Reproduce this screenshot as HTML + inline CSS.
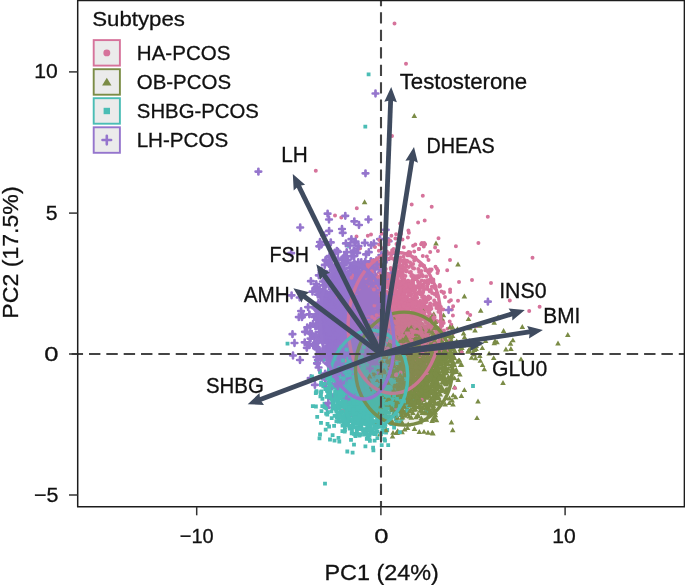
<!DOCTYPE html><html><head><meta charset="utf-8"><title>PCA biplot</title><style>html,body{margin:0;padding:0;background:#fff}svg{display:block}text{fill:#111;stroke:#111;stroke-width:.3px}</style></head><body><svg width="685" height="585" viewBox="0 0 685 585" font-family="Liberation Sans, sans-serif" fill="#111" stroke="none"><rect width="685" height="585" fill="#fff"/><g><path fill="none" stroke="#d6739b" stroke-width="4" stroke-linecap="round" d="M437.3 321.5h0M397.0 251.5h0M467.5 312.8h0M368.5 315.2h0M420.2 316.0h0M393.3 322.3h0M403.4 267.2h0M398.4 336.0h0M398.2 330.2h0M385.6 351.1h0M385.8 323.8h0M386.5 291.7h0M383.2 337.0h0M371.7 264.9h0M413.2 257.6h0M393.6 271.0h0M417.4 350.2h0M405.1 324.4h0M380.4 257.3h0M411.3 323.7h0M393.7 310.7h0M382.2 281.0h0M389.0 258.7h0M395.4 318.3h0M402.7 274.4h0M432.8 324.7h0M404.0 292.2h0M413.1 364.4h0M402.5 344.2h0M370.9 341.3h0M420.9 294.3h0M437.9 251.1h0M402.7 315.6h0M416.2 325.1h0M432.9 344.5h0M398.8 322.5h0M407.9 353.1h0M397.5 318.3h0M405.6 340.9h0M396.8 329.0h0M406.9 304.7h0M380.0 292.8h0M408.6 346.4h0M376.7 315.3h0M398.1 350.7h0"/><path fill="#7b8c46" stroke="none" d="M398.8 349.5l2.8 4.9h-5.6zM405.5 410.9l2.8 4.9h-5.6zM452.0 338.7l2.8 4.9h-5.6zM407.7 353.5l2.8 4.9h-5.6zM401.6 378.5l2.8 4.9h-5.6zM379.3 372.6l2.8 4.9h-5.6zM405.9 364.8l2.8 4.9h-5.6zM406.5 360.0l2.8 4.9h-5.6zM436.5 417.3l2.8 4.9h-5.6zM439.7 361.2l2.8 4.9h-5.6zM399.8 348.4l2.8 4.9h-5.6zM422.6 333.7l2.8 4.9h-5.6zM406.3 361.0l2.8 4.9h-5.6zM460.4 346.2l2.8 4.9h-5.6zM407.0 364.8l2.8 4.9h-5.6zM405.7 386.3l2.8 4.9h-5.6zM406.4 335.8l2.8 4.9h-5.6zM374.2 358.7l2.8 4.9h-5.6zM403.6 347.5l2.8 4.9h-5.6zM411.0 382.9l2.8 4.9h-5.6zM401.8 351.0l2.8 4.9h-5.6zM419.0 382.2l2.8 4.9h-5.6zM437.9 348.1l2.8 4.9h-5.6zM441.1 330.5l2.8 4.9h-5.6zM402.2 391.6l2.8 4.9h-5.6zM376.0 388.4l2.8 4.9h-5.6zM416.1 346.3l2.8 4.9h-5.6zM403.5 333.5l2.8 4.9h-5.6zM412.4 376.0l2.8 4.9h-5.6zM402.3 386.5l2.8 4.9h-5.6zM396.6 353.1l2.8 4.9h-5.6zM420.1 383.0l2.8 4.9h-5.6zM410.8 349.0l2.8 4.9h-5.6zM386.9 351.2l2.8 4.9h-5.6zM388.5 371.3l2.8 4.9h-5.6zM420.6 349.5l2.8 4.9h-5.6zM377.6 367.0l2.8 4.9h-5.6zM427.0 366.6l2.8 4.9h-5.6zM412.3 366.3l2.8 4.9h-5.6zM420.9 393.0l2.8 4.9h-5.6zM450.3 353.8l2.8 4.9h-5.6zM452.4 351.8l2.8 4.9h-5.6zM407.8 411.1l2.8 4.9h-5.6zM421.6 355.1l2.8 4.9h-5.6zM382.0 374.2l2.8 4.9h-5.6zM428.8 367.4l2.8 4.9h-5.6zM424.0 365.9l2.8 4.9h-5.6zM463.1 342.5l2.8 4.9h-5.6zM377.8 414.7l2.8 4.9h-5.6zM413.5 349.2l2.8 4.9h-5.6zM427.7 391.6l2.8 4.9h-5.6zM436.0 240.6l2.8 4.9h-5.6z"/><path fill="none" stroke="#4bbdb5" stroke-width="3.8" d="M359.2 394.5h3.8M377.4 397.0h3.8M366.3 410.9h3.8M352.5 407.3h3.8M354.7 421.1h3.8M362.4 397.1h3.8M377.1 405.1h3.8M341.3 405.1h3.8M376.3 398.6h3.8M348.6 415.6h3.8M371.5 378.2h3.8M373.9 398.5h3.8M349.3 362.0h3.8M360.4 386.2h3.8M395.9 363.8h3.8M350.6 405.2h3.8M335.2 384.5h3.8M349.3 374.2h3.8M341.9 401.2h3.8M383.8 395.2h3.8M361.5 388.8h3.8M372.2 392.0h3.8M374.8 395.1h3.8M367.6 401.9h3.8M322.6 403.7h3.8M346.3 373.1h3.8M389.8 386.6h3.8M371.5 373.7h3.8M371.3 387.6h3.8M369.0 370.6h3.8M354.6 392.0h3.8M390.8 389.7h3.8M357.3 383.4h3.8M379.0 381.6h3.8M377.2 415.8h3.8M382.7 412.7h3.8M393.8 390.9h3.8M357.3 373.0h3.8M350.7 379.6h3.8M352.9 363.7h3.8M332.3 385.0h3.8M371.4 391.7h3.8M357.5 400.7h3.8M363.8 368.0h3.8M382.1 370.7h3.8M341.9 364.8h3.8M376.9 396.4h3.8M387.7 363.7h3.8M364.4 433.9h3.8M362.1 346.8h3.8M352.3 369.1h3.8M338.7 396.5h3.8M369.3 374.6h3.8M359.3 390.1h3.8M334.5 386.2h3.8"/><path fill="none" stroke="#9575cd" stroke-width="2.7" stroke-linecap="round" d="M358.5 262.2h5.6m-2.8-2.8v5.6M359.7 272.2h5.6m-2.8-2.8v5.6M324.1 407.7h5.6m-2.8-2.8v5.6M332.8 331.2h5.6m-2.8-2.8v5.6M354.7 345.8h5.6m-2.8-2.8v5.6M317.7 358.3h5.6m-2.8-2.8v5.6M339.7 289.8h5.6m-2.8-2.8v5.6M336.2 357.8h5.6m-2.8-2.8v5.6M359.3 284.9h5.6m-2.8-2.8v5.6M353.7 292.2h5.6m-2.8-2.8v5.6M342.9 285.1h5.6m-2.8-2.8v5.6M361.6 282.9h5.6m-2.8-2.8v5.6M355.5 318.9h5.6m-2.8-2.8v5.6M337.1 323.3h5.6m-2.8-2.8v5.6M346.9 309.7h5.6m-2.8-2.8v5.6M348.4 364.0h5.6m-2.8-2.8v5.6M358.9 328.7h5.6m-2.8-2.8v5.6M342.0 341.3h5.6m-2.8-2.8v5.6M321.9 300.0h5.6m-2.8-2.8v5.6M361.6 324.6h5.6m-2.8-2.8v5.6M370.6 353.5h5.6m-2.8-2.8v5.6M341.1 310.0h5.6m-2.8-2.8v5.6M365.1 274.4h5.6m-2.8-2.8v5.6M341.6 298.4h5.6m-2.8-2.8v5.6M329.7 313.6h5.6m-2.8-2.8v5.6M343.9 357.1h5.6m-2.8-2.8v5.6M357.2 331.6h5.6m-2.8-2.8v5.6M362.7 313.8h5.6m-2.8-2.8v5.6M351.6 365.8h5.6m-2.8-2.8v5.6M328.1 337.2h5.6m-2.8-2.8v5.6M356.8 320.2h5.6m-2.8-2.8v5.6M376.2 284.9h5.6m-2.8-2.8v5.6M337.2 358.6h5.6m-2.8-2.8v5.6M344.0 329.5h5.6m-2.8-2.8v5.6M365.8 297.4h5.6m-2.8-2.8v5.6M364.7 269.5h5.6m-2.8-2.8v5.6M371.6 362.2h5.6m-2.8-2.8v5.6M352.2 281.9h5.6m-2.8-2.8v5.6M337.6 324.6h5.6m-2.8-2.8v5.6M327.4 316.0h5.6m-2.8-2.8v5.6M365.3 309.1h5.6m-2.8-2.8v5.6M291.7 343.0h5.6m-2.8-2.8v5.6"/><path fill="none" stroke="#d6739b" stroke-width="4" stroke-linecap="round" d="M393.4 338.4h0M399.8 287.7h0M406.3 264.8h0M405.4 355.1h0M374.1 340.7h0M380.4 312.4h0M422.8 318.7h0M405.2 262.9h0M383.8 310.5h0M401.3 317.3h0M405.3 338.7h0M395.2 359.5h0M382.7 328.8h0M432.2 330.4h0M392.1 293.2h0M396.4 311.2h0M365.2 339.5h0M438.8 328.8h0M411.2 315.0h0M400.2 299.0h0M397.5 329.5h0M417.3 329.4h0M439.1 308.0h0M387.0 299.4h0M358.1 311.0h0M394.6 286.7h0M414.6 319.7h0M409.2 395.7h0M383.7 305.1h0M410.7 316.2h0M398.6 291.4h0M386.7 380.5h0M400.2 320.3h0M400.8 232.5h0M401.7 365.0h0M388.9 322.6h0M400.7 334.0h0M450.0 260.1h0M417.0 340.2h0M409.7 294.1h0M386.9 300.4h0M396.9 338.7h0M426.5 301.9h0M453.1 333.1h0M382.8 302.5h0"/><path fill="#7b8c46" stroke="none" d="M427.8 359.5l2.8 4.9h-5.6zM380.4 356.6l2.8 4.9h-5.6zM415.4 362.2l2.8 4.9h-5.6zM424.8 390.2l2.8 4.9h-5.6zM424.7 357.2l2.8 4.9h-5.6zM419.5 387.9l2.8 4.9h-5.6zM407.0 349.9l2.8 4.9h-5.6zM395.4 357.5l2.8 4.9h-5.6zM407.2 369.2l2.8 4.9h-5.6zM420.0 346.7l2.8 4.9h-5.6zM437.5 395.2l2.8 4.9h-5.6zM378.6 368.9l2.8 4.9h-5.6zM397.9 397.3l2.8 4.9h-5.6zM373.2 372.3l2.8 4.9h-5.6zM413.3 383.7l2.8 4.9h-5.6zM399.7 375.8l2.8 4.9h-5.6zM404.6 351.0l2.8 4.9h-5.6zM448.2 353.2l2.8 4.9h-5.6zM412.9 342.4l2.8 4.9h-5.6zM400.1 352.8l2.8 4.9h-5.6zM378.6 386.8l2.8 4.9h-5.6zM404.1 394.8l2.8 4.9h-5.6zM405.0 379.1l2.8 4.9h-5.6zM431.7 336.8l2.8 4.9h-5.6zM406.3 350.0l2.8 4.9h-5.6zM397.5 341.2l2.8 4.9h-5.6zM438.6 371.0l2.8 4.9h-5.6zM429.5 365.0l2.8 4.9h-5.6zM447.8 345.1l2.8 4.9h-5.6zM422.4 393.2l2.8 4.9h-5.6zM417.4 337.6l2.8 4.9h-5.6zM412.8 362.3l2.8 4.9h-5.6zM388.1 372.7l2.8 4.9h-5.6zM412.4 368.1l2.8 4.9h-5.6zM409.7 346.3l2.8 4.9h-5.6zM416.5 356.1l2.8 4.9h-5.6zM437.5 386.7l2.8 4.9h-5.6zM384.2 350.3l2.8 4.9h-5.6zM402.8 369.4l2.8 4.9h-5.6zM422.3 343.2l2.8 4.9h-5.6zM429.3 349.7l2.8 4.9h-5.6zM401.7 366.5l2.8 4.9h-5.6zM442.3 350.3l2.8 4.9h-5.6zM474.4 347.0l2.8 4.9h-5.6zM391.6 389.6l2.8 4.9h-5.6zM391.9 380.4l2.8 4.9h-5.6zM419.6 386.3l2.8 4.9h-5.6zM426.4 340.1l2.8 4.9h-5.6zM429.1 375.9l2.8 4.9h-5.6zM405.8 348.9l2.8 4.9h-5.6zM449.6 375.9l2.8 4.9h-5.6zM458.0 261.6l2.8 4.9h-5.6z"/><path fill="none" stroke="#4bbdb5" stroke-width="3.8" d="M346.5 378.5h3.8M369.7 380.6h3.8M352.5 372.6h3.8M378.6 407.5h3.8M339.2 421.7h3.8M422.3 413.1h3.8M369.9 372.4h3.8M345.4 380.6h3.8M365.6 401.1h3.8M378.2 408.2h3.8M359.4 397.6h3.8M343.4 414.3h3.8M377.8 378.2h3.8M381.1 388.2h3.8M352.9 394.5h3.8M355.3 420.7h3.8M365.8 419.4h3.8M394.4 377.4h3.8M322.5 406.8h3.8M366.3 403.3h3.8M400.2 385.5h3.8M381.5 400.3h3.8M345.3 376.4h3.8M356.7 406.1h3.8M373.0 361.7h3.8M347.9 384.6h3.8M393.1 368.6h3.8M341.3 400.0h3.8M359.3 414.4h3.8M382.7 377.2h3.8M386.1 394.4h3.8M366.9 359.1h3.8M376.7 387.1h3.8M366.6 403.8h3.8M377.3 397.5h3.8M376.1 369.9h3.8M363.6 403.1h3.8M356.2 393.6h3.8M356.6 382.2h3.8M366.3 387.0h3.8M354.5 374.3h3.8M370.7 392.5h3.8M370.5 374.0h3.8M389.6 398.9h3.8M371.2 370.6h3.8M347.8 384.1h3.8M345.6 405.3h3.8M372.6 422.0h3.8M385.4 401.8h3.8M354.4 400.5h3.8M333.7 386.4h3.8M368.3 425.1h3.8M363.2 386.7h3.8M366.9 387.6h3.8M353.0 404.7h3.8"/><path fill="none" stroke="#9575cd" stroke-width="2.7" stroke-linecap="round" d="M326.4 303.4h5.6m-2.8-2.8v5.6M347.3 280.0h5.6m-2.8-2.8v5.6M377.8 318.8h5.6m-2.8-2.8v5.6M334.9 352.5h5.6m-2.8-2.8v5.6M350.4 298.6h5.6m-2.8-2.8v5.6M372.3 344.6h5.6m-2.8-2.8v5.6M325.3 332.2h5.6m-2.8-2.8v5.6M358.5 344.7h5.6m-2.8-2.8v5.6M365.6 296.8h5.6m-2.8-2.8v5.6M369.0 364.8h5.6m-2.8-2.8v5.6M361.3 308.6h5.6m-2.8-2.8v5.6M347.8 324.4h5.6m-2.8-2.8v5.6M377.3 324.1h5.6m-2.8-2.8v5.6M361.7 308.1h5.6m-2.8-2.8v5.6M366.5 344.4h5.6m-2.8-2.8v5.6M330.6 396.8h5.6m-2.8-2.8v5.6M367.0 284.2h5.6m-2.8-2.8v5.6M387.8 361.5h5.6m-2.8-2.8v5.6M319.6 334.9h5.6m-2.8-2.8v5.6M332.0 252.7h5.6m-2.8-2.8v5.6M346.1 321.6h5.6m-2.8-2.8v5.6M322.9 282.6h5.6m-2.8-2.8v5.6M371.0 307.2h5.6m-2.8-2.8v5.6M371.9 325.7h5.6m-2.8-2.8v5.6M364.0 311.6h5.6m-2.8-2.8v5.6M341.2 284.4h5.6m-2.8-2.8v5.6M341.1 310.5h5.6m-2.8-2.8v5.6M381.8 279.6h5.6m-2.8-2.8v5.6M342.1 343.2h5.6m-2.8-2.8v5.6M332.5 307.2h5.6m-2.8-2.8v5.6M361.5 343.6h5.6m-2.8-2.8v5.6M354.1 315.5h5.6m-2.8-2.8v5.6M309.0 334.0h5.6m-2.8-2.8v5.6M361.1 330.3h5.6m-2.8-2.8v5.6M366.4 380.8h5.6m-2.8-2.8v5.6M362.4 300.7h5.6m-2.8-2.8v5.6M338.9 331.6h5.6m-2.8-2.8v5.6M351.0 250.5h5.6m-2.8-2.8v5.6M339.9 330.1h5.6m-2.8-2.8v5.6M328.0 311.1h5.6m-2.8-2.8v5.6M374.0 324.0h5.6m-2.8-2.8v5.6M290.2 355.5h5.6m-2.8-2.8v5.6"/><path fill="none" stroke="#d6739b" stroke-width="4" stroke-linecap="round" d="M404.8 309.8h0M407.8 307.4h0M400.7 304.8h0M396.1 234.3h0M410.9 265.4h0M423.8 246.4h0M378.3 358.2h0M424.2 308.6h0M403.4 312.3h0M383.2 271.0h0M398.8 321.0h0M397.9 367.2h0M367.3 307.3h0M386.8 277.3h0M398.0 300.3h0M385.7 344.0h0M399.9 274.3h0M388.7 340.5h0M399.0 374.0h0M422.8 292.7h0M385.0 336.1h0M390.7 310.6h0M415.7 336.2h0M426.9 340.2h0M385.1 326.7h0M388.5 308.2h0M383.2 301.2h0M403.0 338.2h0M396.0 339.7h0M389.8 293.6h0M408.8 281.8h0M423.0 276.1h0M382.5 313.3h0M376.2 316.1h0M393.3 313.0h0M392.7 349.6h0M417.9 364.8h0M397.8 342.2h0M389.2 328.2h0M398.3 331.9h0M408.9 267.0h0M374.1 348.3h0M406.1 310.0h0M398.2 334.6h0M398.0 316.6h0"/><path fill="#7b8c46" stroke="none" d="M418.8 378.6l2.8 4.9h-5.6zM411.6 388.2l2.8 4.9h-5.6zM397.8 360.8l2.8 4.9h-5.6zM399.7 355.9l2.8 4.9h-5.6zM408.3 342.0l2.8 4.9h-5.6zM394.2 354.2l2.8 4.9h-5.6zM392.5 365.9l2.8 4.9h-5.6zM382.8 383.6l2.8 4.9h-5.6zM382.1 372.1l2.8 4.9h-5.6zM437.5 358.9l2.8 4.9h-5.6zM380.1 378.9l2.8 4.9h-5.6zM430.5 371.9l2.8 4.9h-5.6zM393.9 357.4l2.8 4.9h-5.6zM423.0 366.0l2.8 4.9h-5.6zM412.9 374.8l2.8 4.9h-5.6zM424.3 385.3l2.8 4.9h-5.6zM393.6 341.1l2.8 4.9h-5.6zM433.3 345.5l2.8 4.9h-5.6zM392.1 310.3l2.8 4.9h-5.6zM480.3 357.9l2.8 4.9h-5.6zM436.4 361.8l2.8 4.9h-5.6zM411.9 360.6l2.8 4.9h-5.6zM437.7 381.2l2.8 4.9h-5.6zM460.6 362.2l2.8 4.9h-5.6zM393.0 390.4l2.8 4.9h-5.6zM419.4 354.3l2.8 4.9h-5.6zM447.6 379.7l2.8 4.9h-5.6zM406.3 374.8l2.8 4.9h-5.6zM418.2 350.0l2.8 4.9h-5.6zM424.6 375.2l2.8 4.9h-5.6zM387.8 348.3l2.8 4.9h-5.6zM396.4 365.2l2.8 4.9h-5.6zM410.8 345.1l2.8 4.9h-5.6zM407.5 425.2l2.8 4.9h-5.6zM407.4 339.4l2.8 4.9h-5.6zM400.5 398.8l2.8 4.9h-5.6zM406.3 348.9l2.8 4.9h-5.6zM386.0 426.1l2.8 4.9h-5.6zM424.0 391.1l2.8 4.9h-5.6zM419.0 356.3l2.8 4.9h-5.6zM447.1 359.6l2.8 4.9h-5.6zM393.9 328.5l2.8 4.9h-5.6zM419.8 365.9l2.8 4.9h-5.6zM397.0 372.3l2.8 4.9h-5.6zM437.0 384.6l2.8 4.9h-5.6zM441.5 355.7l2.8 4.9h-5.6zM399.7 376.0l2.8 4.9h-5.6zM441.1 356.0l2.8 4.9h-5.6zM401.8 419.0l2.8 4.9h-5.6zM410.5 385.1l2.8 4.9h-5.6zM420.2 375.7l2.8 4.9h-5.6zM464.4 293.5l2.8 4.9h-5.6z"/><path fill="none" stroke="#4bbdb5" stroke-width="3.8" d="M350.4 426.1h3.8M363.8 371.7h3.8M381.6 375.9h3.8M361.2 393.7h3.8M350.7 385.4h3.8M372.3 426.9h3.8M330.7 435.1h3.8M355.2 420.7h3.8M377.9 345.6h3.8M348.4 392.7h3.8M401.0 389.5h3.8M384.6 367.8h3.8M345.6 360.5h3.8M361.1 414.8h3.8M341.1 418.5h3.8M368.0 388.0h3.8M349.2 378.1h3.8M370.8 403.5h3.8M387.0 379.0h3.8M364.2 373.9h3.8M361.8 417.8h3.8M348.7 383.0h3.8M387.3 367.9h3.8M362.2 373.5h3.8M357.1 399.8h3.8M347.0 404.0h3.8M348.8 382.8h3.8M337.1 392.1h3.8M345.8 396.1h3.8M373.0 368.7h3.8M333.7 391.6h3.8M374.5 388.8h3.8M333.5 379.3h3.8M350.9 377.0h3.8M349.2 403.2h3.8M352.5 372.5h3.8M356.0 389.5h3.8M367.1 385.0h3.8M385.4 367.2h3.8M361.8 371.6h3.8M342.4 381.1h3.8M376.8 410.0h3.8M373.5 432.4h3.8M370.5 405.5h3.8M346.2 382.2h3.8M357.3 424.8h3.8M339.1 364.6h3.8M354.9 400.1h3.8M357.2 387.7h3.8M347.8 394.7h3.8M382.2 372.7h3.8M353.4 378.8h3.8M339.2 406.4h3.8M374.7 382.8h3.8M349.3 404.2h3.8"/><path fill="none" stroke="#9575cd" stroke-width="2.7" stroke-linecap="round" d="M355.0 278.9h5.6m-2.8-2.8v5.6M330.5 341.5h5.6m-2.8-2.8v5.6M330.1 352.0h5.6m-2.8-2.8v5.6M362.0 311.2h5.6m-2.8-2.8v5.6M338.4 321.4h5.6m-2.8-2.8v5.6M324.2 310.1h5.6m-2.8-2.8v5.6M358.9 311.5h5.6m-2.8-2.8v5.6M350.9 297.9h5.6m-2.8-2.8v5.6M349.1 342.3h5.6m-2.8-2.8v5.6M333.0 350.2h5.6m-2.8-2.8v5.6M361.8 319.8h5.6m-2.8-2.8v5.6M344.9 323.6h5.6m-2.8-2.8v5.6M350.9 252.4h5.6m-2.8-2.8v5.6M326.5 364.8h5.6m-2.8-2.8v5.6M351.5 315.2h5.6m-2.8-2.8v5.6M354.7 290.8h5.6m-2.8-2.8v5.6M357.9 332.6h5.6m-2.8-2.8v5.6M345.5 336.5h5.6m-2.8-2.8v5.6M330.1 286.5h5.6m-2.8-2.8v5.6M336.3 373.0h5.6m-2.8-2.8v5.6M337.6 297.3h5.6m-2.8-2.8v5.6M370.5 317.5h5.6m-2.8-2.8v5.6M350.6 275.7h5.6m-2.8-2.8v5.6M358.9 290.5h5.6m-2.8-2.8v5.6M355.2 248.5h5.6m-2.8-2.8v5.6M362.6 281.1h5.6m-2.8-2.8v5.6M367.1 314.2h5.6m-2.8-2.8v5.6M362.3 340.5h5.6m-2.8-2.8v5.6M316.6 294.3h5.6m-2.8-2.8v5.6M313.2 316.4h5.6m-2.8-2.8v5.6M347.8 331.8h5.6m-2.8-2.8v5.6M334.9 331.4h5.6m-2.8-2.8v5.6M341.4 333.5h5.6m-2.8-2.8v5.6M346.8 332.9h5.6m-2.8-2.8v5.6M361.4 305.9h5.6m-2.8-2.8v5.6M334.7 336.9h5.6m-2.8-2.8v5.6M356.9 337.9h5.6m-2.8-2.8v5.6M352.0 310.0h5.6m-2.8-2.8v5.6M329.1 318.8h5.6m-2.8-2.8v5.6M362.4 318.4h5.6m-2.8-2.8v5.6M341.3 302.1h5.6m-2.8-2.8v5.6M297.2 360.0h5.6m-2.8-2.8v5.6"/><path fill="none" stroke="#d6739b" stroke-width="4" stroke-linecap="round" d="M416.8 313.4h0M405.4 355.4h0M374.1 271.1h0M421.7 347.8h0M361.8 346.6h0M389.0 294.6h0M421.2 302.8h0M394.2 315.6h0M409.8 272.4h0M443.9 292.2h0M397.1 341.6h0M409.4 284.6h0M378.3 317.6h0M397.5 308.9h0M418.0 281.8h0M393.8 357.3h0M404.9 294.1h0M407.2 289.9h0M424.6 305.4h0M404.5 310.6h0M431.0 279.5h0M386.8 293.4h0M403.3 310.2h0M400.8 337.6h0M387.4 306.3h0M392.1 307.4h0M387.2 280.6h0M413.0 301.0h0M412.1 298.4h0M386.7 295.4h0M420.7 337.5h0M405.0 348.6h0M408.5 323.0h0M378.7 333.6h0M405.7 321.9h0M414.3 309.4h0M383.9 348.9h0M389.0 328.8h0M442.7 321.6h0M400.0 333.3h0M385.3 330.2h0M424.8 289.0h0M414.3 277.9h0M397.8 324.7h0M371.6 276.6h0"/><path fill="#7b8c46" stroke="none" d="M395.4 359.4l2.8 4.9h-5.6zM393.7 385.6l2.8 4.9h-5.6zM409.2 366.9l2.8 4.9h-5.6zM410.5 372.7l2.8 4.9h-5.6zM430.9 361.3l2.8 4.9h-5.6zM423.5 342.6l2.8 4.9h-5.6zM423.7 381.0l2.8 4.9h-5.6zM434.0 350.4l2.8 4.9h-5.6zM421.1 378.0l2.8 4.9h-5.6zM400.0 384.3l2.8 4.9h-5.6zM374.9 361.4l2.8 4.9h-5.6zM484.3 366.4l2.8 4.9h-5.6zM401.1 397.9l2.8 4.9h-5.6zM426.8 382.4l2.8 4.9h-5.6zM426.6 340.9l2.8 4.9h-5.6zM388.1 358.2l2.8 4.9h-5.6zM426.7 378.6l2.8 4.9h-5.6zM426.8 369.5l2.8 4.9h-5.6zM376.7 349.7l2.8 4.9h-5.6zM453.7 349.0l2.8 4.9h-5.6zM432.4 362.2l2.8 4.9h-5.6zM406.0 398.2l2.8 4.9h-5.6zM386.7 342.1l2.8 4.9h-5.6zM373.0 341.5l2.8 4.9h-5.6zM407.8 362.8l2.8 4.9h-5.6zM409.3 359.2l2.8 4.9h-5.6zM433.6 356.4l2.8 4.9h-5.6zM413.4 404.6l2.8 4.9h-5.6zM429.0 362.7l2.8 4.9h-5.6zM410.2 372.0l2.8 4.9h-5.6zM403.3 360.9l2.8 4.9h-5.6zM445.5 387.3l2.8 4.9h-5.6zM401.5 358.0l2.8 4.9h-5.6zM414.0 366.7l2.8 4.9h-5.6zM414.3 378.5l2.8 4.9h-5.6zM430.1 359.2l2.8 4.9h-5.6zM437.0 347.3l2.8 4.9h-5.6zM395.4 407.6l2.8 4.9h-5.6zM398.6 399.1l2.8 4.9h-5.6zM426.4 394.3l2.8 4.9h-5.6zM392.2 402.7l2.8 4.9h-5.6zM427.9 371.7l2.8 4.9h-5.6zM403.0 362.1l2.8 4.9h-5.6zM430.0 362.7l2.8 4.9h-5.6zM393.6 358.1l2.8 4.9h-5.6zM417.0 389.5l2.8 4.9h-5.6zM397.4 365.8l2.8 4.9h-5.6zM420.0 351.2l2.8 4.9h-5.6zM418.9 346.0l2.8 4.9h-5.6zM442.5 387.9l2.8 4.9h-5.6zM424.3 373.5l2.8 4.9h-5.6zM480.7 307.8l2.8 4.9h-5.6z"/><path fill="none" stroke="#4bbdb5" stroke-width="3.8" d="M366.1 424.7h3.8M370.2 409.1h3.8M354.3 411.0h3.8M346.1 382.9h3.8M378.1 400.1h3.8M358.5 418.5h3.8M364.6 379.0h3.8M354.4 395.6h3.8M369.7 405.7h3.8M356.9 391.5h3.8M366.7 379.2h3.8M342.3 397.0h3.8M370.7 397.9h3.8M350.6 372.4h3.8M362.8 399.6h3.8M369.3 371.7h3.8M327.8 361.0h3.8M360.6 366.4h3.8M366.7 411.8h3.8M362.4 402.4h3.8M372.5 374.2h3.8M364.2 389.7h3.8M369.3 378.6h3.8M367.1 402.7h3.8M344.4 388.4h3.8M359.5 385.8h3.8M345.0 353.4h3.8M361.5 400.6h3.8M365.9 399.9h3.8M357.6 366.8h3.8M379.3 407.1h3.8M363.3 373.6h3.8M346.7 401.4h3.8M333.0 367.1h3.8M361.3 379.2h3.8M351.5 377.9h3.8M354.7 434.2h3.8M367.6 435.0h3.8M351.8 391.4h3.8M389.2 408.3h3.8M385.6 385.4h3.8M370.5 421.9h3.8M363.1 404.0h3.8M359.1 404.7h3.8M349.8 391.4h3.8M366.2 370.1h3.8M361.3 388.0h3.8M366.7 383.2h3.8M337.7 417.2h3.8M364.3 414.6h3.8M346.8 415.2h3.8M362.7 398.1h3.8M390.3 371.8h3.8M351.8 388.9h3.8M379.9 383.3h3.8"/><path fill="none" stroke="#9575cd" stroke-width="2.7" stroke-linecap="round" d="M338.6 321.7h5.6m-2.8-2.8v5.6M378.6 292.2h5.6m-2.8-2.8v5.6M351.2 321.1h5.6m-2.8-2.8v5.6M359.2 318.1h5.6m-2.8-2.8v5.6M347.0 378.3h5.6m-2.8-2.8v5.6M331.4 345.7h5.6m-2.8-2.8v5.6M364.8 311.9h5.6m-2.8-2.8v5.6M358.2 305.1h5.6m-2.8-2.8v5.6M370.2 302.2h5.6m-2.8-2.8v5.6M356.3 339.8h5.6m-2.8-2.8v5.6M366.1 337.8h5.6m-2.8-2.8v5.6M322.3 379.4h5.6m-2.8-2.8v5.6M341.3 313.2h5.6m-2.8-2.8v5.6M346.8 306.2h5.6m-2.8-2.8v5.6M326.6 327.2h5.6m-2.8-2.8v5.6M357.3 329.1h5.6m-2.8-2.8v5.6M343.1 298.4h5.6m-2.8-2.8v5.6M336.6 324.0h5.6m-2.8-2.8v5.6M356.2 315.9h5.6m-2.8-2.8v5.6M356.5 336.2h5.6m-2.8-2.8v5.6M335.6 369.4h5.6m-2.8-2.8v5.6M355.2 338.3h5.6m-2.8-2.8v5.6M337.6 301.0h5.6m-2.8-2.8v5.6M326.1 284.8h5.6m-2.8-2.8v5.6M380.5 326.6h5.6m-2.8-2.8v5.6M343.1 243.4h5.6m-2.8-2.8v5.6M339.2 283.3h5.6m-2.8-2.8v5.6M362.5 357.9h5.6m-2.8-2.8v5.6M322.0 322.9h5.6m-2.8-2.8v5.6M338.8 343.7h5.6m-2.8-2.8v5.6M328.6 300.5h5.6m-2.8-2.8v5.6M359.6 332.4h5.6m-2.8-2.8v5.6M352.0 297.9h5.6m-2.8-2.8v5.6M312.1 384.9h5.6m-2.8-2.8v5.6M348.1 357.1h5.6m-2.8-2.8v5.6M358.4 287.3h5.6m-2.8-2.8v5.6M369.7 327.6h5.6m-2.8-2.8v5.6M341.3 299.2h5.6m-2.8-2.8v5.6M386.8 346.6h5.6m-2.8-2.8v5.6M318.7 354.2h5.6m-2.8-2.8v5.6M382.1 327.8h5.6m-2.8-2.8v5.6M288.4 253.2h5.6m-2.8-2.8v5.6"/><path fill="none" stroke="#d6739b" stroke-width="4" stroke-linecap="round" d="M383.3 330.7h0M397.8 328.5h0M395.3 332.4h0M381.9 307.7h0M403.8 247.3h0M382.2 303.7h0M408.0 311.6h0M395.8 325.7h0M375.3 313.7h0M425.7 302.3h0M387.3 307.7h0M406.3 308.3h0M425.9 308.0h0M406.7 316.4h0M392.5 295.5h0M379.2 345.0h0M392.5 292.8h0M412.3 320.8h0M395.4 316.0h0M394.0 285.6h0M388.3 298.1h0M400.0 313.2h0M378.4 294.3h0M392.1 319.8h0M377.7 299.2h0M429.9 308.2h0M415.8 347.9h0M371.3 297.2h0M411.8 288.4h0M368.3 307.6h0M427.8 323.2h0M389.6 359.8h0M397.5 321.1h0M393.4 368.1h0M403.3 284.8h0M396.5 293.6h0M371.9 312.5h0M390.2 342.7h0M413.0 347.6h0M374.8 294.8h0M388.3 284.4h0M399.4 305.8h0M385.0 320.5h0M368.7 318.9h0M407.7 330.6h0"/><path fill="#7b8c46" stroke="none" d="M436.9 371.8l2.8 4.9h-5.6zM412.9 373.7l2.8 4.9h-5.6zM406.5 374.1l2.8 4.9h-5.6zM414.0 358.8l2.8 4.9h-5.6zM409.0 388.6l2.8 4.9h-5.6zM395.5 328.2l2.8 4.9h-5.6zM435.2 355.2l2.8 4.9h-5.6zM411.9 371.8l2.8 4.9h-5.6zM408.2 367.8l2.8 4.9h-5.6zM400.3 383.1l2.8 4.9h-5.6zM402.4 367.5l2.8 4.9h-5.6zM414.1 374.7l2.8 4.9h-5.6zM412.3 330.1l2.8 4.9h-5.6zM414.5 426.0l2.8 4.9h-5.6zM424.3 372.8l2.8 4.9h-5.6zM405.1 334.9l2.8 4.9h-5.6zM410.3 366.5l2.8 4.9h-5.6zM443.5 358.9l2.8 4.9h-5.6zM406.1 407.9l2.8 4.9h-5.6zM413.0 351.8l2.8 4.9h-5.6zM429.5 339.2l2.8 4.9h-5.6zM419.6 385.9l2.8 4.9h-5.6zM409.3 352.4l2.8 4.9h-5.6zM422.0 345.1l2.8 4.9h-5.6zM431.7 361.2l2.8 4.9h-5.6zM468.5 316.2l2.8 4.9h-5.6zM385.9 376.7l2.8 4.9h-5.6zM433.5 379.6l2.8 4.9h-5.6zM404.9 362.2l2.8 4.9h-5.6zM397.1 400.2l2.8 4.9h-5.6zM404.2 335.9l2.8 4.9h-5.6zM418.2 384.6l2.8 4.9h-5.6zM427.0 402.5l2.8 4.9h-5.6zM406.8 372.0l2.8 4.9h-5.6zM406.0 375.0l2.8 4.9h-5.6zM427.2 365.4l2.8 4.9h-5.6zM437.1 370.7l2.8 4.9h-5.6zM415.8 366.3l2.8 4.9h-5.6zM431.5 343.4l2.8 4.9h-5.6zM408.4 354.6l2.8 4.9h-5.6zM417.4 374.0l2.8 4.9h-5.6zM406.4 404.0l2.8 4.9h-5.6zM382.5 363.7l2.8 4.9h-5.6zM431.7 356.1l2.8 4.9h-5.6zM405.2 398.9l2.8 4.9h-5.6zM409.3 368.5l2.8 4.9h-5.6zM425.1 337.7l2.8 4.9h-5.6zM427.9 371.6l2.8 4.9h-5.6zM401.6 398.2l2.8 4.9h-5.6zM440.9 383.8l2.8 4.9h-5.6zM426.5 341.8l2.8 4.9h-5.6zM522.3 324.0l2.8 4.9h-5.6z"/><path fill="none" stroke="#4bbdb5" stroke-width="3.8" d="M360.7 386.9h3.8M333.5 392.2h3.8M342.8 371.2h3.8M360.9 413.8h3.8M364.8 395.5h3.8M388.8 417.1h3.8M356.7 401.7h3.8M365.1 411.1h3.8M352.4 414.5h3.8M353.5 396.2h3.8M360.7 387.0h3.8M374.2 377.7h3.8M340.6 425.6h3.8M385.0 388.8h3.8M371.5 405.7h3.8M355.4 413.9h3.8M361.7 413.2h3.8M348.7 407.7h3.8M359.4 387.4h3.8M371.5 404.7h3.8M359.7 381.6h3.8M389.1 408.8h3.8M371.9 412.9h3.8M363.8 375.3h3.8M361.0 353.4h3.8M369.0 382.8h3.8M361.5 369.3h3.8M364.5 377.2h3.8M373.1 366.1h3.8M366.1 384.9h3.8M381.2 380.1h3.8M372.4 395.3h3.8M362.0 377.3h3.8M345.6 392.8h3.8M387.1 351.1h3.8M365.2 424.1h3.8M381.7 391.8h3.8M336.3 380.0h3.8M375.9 380.6h3.8M350.5 393.8h3.8M396.9 366.5h3.8M360.7 380.1h3.8M347.9 407.1h3.8M341.6 403.9h3.8M376.7 368.3h3.8M376.5 379.2h3.8M352.1 384.3h3.8M393.1 399.0h3.8M374.5 400.3h3.8M366.0 347.6h3.8M378.7 362.5h3.8M352.4 357.7h3.8M319.1 392.4h3.8M385.4 372.4h3.8M373.3 387.4h3.8"/><path fill="none" stroke="#9575cd" stroke-width="2.7" stroke-linecap="round" d="M359.8 306.8h5.6m-2.8-2.8v5.6M331.6 358.2h5.6m-2.8-2.8v5.6M364.9 279.1h5.6m-2.8-2.8v5.6M357.9 351.0h5.6m-2.8-2.8v5.6M355.7 304.5h5.6m-2.8-2.8v5.6M358.3 351.7h5.6m-2.8-2.8v5.6M332.1 322.6h5.6m-2.8-2.8v5.6M333.2 271.3h5.6m-2.8-2.8v5.6M344.9 303.4h5.6m-2.8-2.8v5.6M335.1 308.4h5.6m-2.8-2.8v5.6M365.3 323.4h5.6m-2.8-2.8v5.6M338.0 316.9h5.6m-2.8-2.8v5.6M349.7 339.1h5.6m-2.8-2.8v5.6M353.6 328.8h5.6m-2.8-2.8v5.6M377.8 390.0h5.6m-2.8-2.8v5.6M355.6 335.6h5.6m-2.8-2.8v5.6M360.7 321.8h5.6m-2.8-2.8v5.6M366.4 351.2h5.6m-2.8-2.8v5.6M366.2 332.1h5.6m-2.8-2.8v5.6M342.2 271.8h5.6m-2.8-2.8v5.6M332.9 341.8h5.6m-2.8-2.8v5.6M374.3 328.4h5.6m-2.8-2.8v5.6M352.3 287.6h5.6m-2.8-2.8v5.6M353.2 283.7h5.6m-2.8-2.8v5.6M350.4 302.4h5.6m-2.8-2.8v5.6M321.7 375.7h5.6m-2.8-2.8v5.6M342.3 350.3h5.6m-2.8-2.8v5.6M368.3 261.4h5.6m-2.8-2.8v5.6M342.5 339.9h5.6m-2.8-2.8v5.6M341.5 305.8h5.6m-2.8-2.8v5.6M335.5 354.0h5.6m-2.8-2.8v5.6M369.2 299.0h5.6m-2.8-2.8v5.6M379.9 313.4h5.6m-2.8-2.8v5.6M324.3 324.4h5.6m-2.8-2.8v5.6M342.9 338.1h5.6m-2.8-2.8v5.6M337.5 316.5h5.6m-2.8-2.8v5.6M364.4 319.2h5.6m-2.8-2.8v5.6M328.0 242.4h5.6m-2.8-2.8v5.6M355.5 322.6h5.6m-2.8-2.8v5.6M340.3 287.6h5.6m-2.8-2.8v5.6M378.5 255.0h5.6m-2.8-2.8v5.6"/><path fill="none" stroke="#d6739b" stroke-width="4" stroke-linecap="round" d="M380.5 268.2h0M392.9 307.9h0M451.3 324.7h0M416.5 311.6h0M398.1 342.4h0M403.3 340.1h0M400.7 300.1h0M361.9 307.9h0M388.0 386.3h0M428.4 336.7h0M396.2 297.8h0M399.8 322.0h0M396.9 318.7h0M398.3 349.9h0M405.5 308.2h0M424.4 309.2h0M421.6 338.5h0M447.2 270.2h0M430.2 353.3h0M391.3 255.0h0M386.3 299.4h0M376.1 319.4h0M402.9 280.7h0M409.2 351.0h0M404.4 353.5h0M381.9 338.0h0M393.6 286.7h0M396.3 300.9h0M431.7 206.8h0M434.4 293.9h0M387.0 330.8h0M415.2 299.6h0M403.0 275.3h0M398.6 306.5h0M387.4 284.1h0M391.7 359.4h0M400.2 293.7h0M396.4 275.1h0M423.7 360.4h0M404.0 351.2h0M419.1 341.9h0M389.7 287.5h0M399.6 291.8h0M399.9 324.2h0M411.5 329.9h0"/><path fill="#7b8c46" stroke="none" d="M431.1 397.9l2.8 4.9h-5.6zM434.3 361.5l2.8 4.9h-5.6zM407.4 370.4l2.8 4.9h-5.6zM408.6 339.8l2.8 4.9h-5.6zM400.5 382.4l2.8 4.9h-5.6zM418.7 357.3l2.8 4.9h-5.6zM415.9 329.2l2.8 4.9h-5.6zM375.3 362.8l2.8 4.9h-5.6zM385.9 375.6l2.8 4.9h-5.6zM410.9 367.5l2.8 4.9h-5.6zM406.7 380.4l2.8 4.9h-5.6zM433.5 360.2l2.8 4.9h-5.6zM404.2 374.8l2.8 4.9h-5.6zM417.4 378.0l2.8 4.9h-5.6zM407.8 373.7l2.8 4.9h-5.6zM395.7 371.4l2.8 4.9h-5.6zM392.7 382.8l2.8 4.9h-5.6zM409.5 380.0l2.8 4.9h-5.6zM394.3 369.8l2.8 4.9h-5.6zM422.7 395.0l2.8 4.9h-5.6zM426.6 368.9l2.8 4.9h-5.6zM385.2 403.9l2.8 4.9h-5.6zM436.6 340.9l2.8 4.9h-5.6zM429.0 405.7l2.8 4.9h-5.6zM428.4 368.3l2.8 4.9h-5.6zM439.5 359.8l2.8 4.9h-5.6zM386.5 371.4l2.8 4.9h-5.6zM426.4 366.4l2.8 4.9h-5.6zM393.7 390.0l2.8 4.9h-5.6zM388.9 369.5l2.8 4.9h-5.6zM403.3 384.4l2.8 4.9h-5.6zM440.6 372.5l2.8 4.9h-5.6zM376.0 354.1l2.8 4.9h-5.6zM416.4 380.3l2.8 4.9h-5.6zM442.3 338.9l2.8 4.9h-5.6zM406.4 393.7l2.8 4.9h-5.6zM427.4 355.4l2.8 4.9h-5.6zM424.4 368.4l2.8 4.9h-5.6zM407.2 370.7l2.8 4.9h-5.6zM399.3 370.2l2.8 4.9h-5.6zM417.3 379.4l2.8 4.9h-5.6zM396.5 348.2l2.8 4.9h-5.6zM418.5 354.2l2.8 4.9h-5.6zM454.6 384.4l2.8 4.9h-5.6zM418.5 347.8l2.8 4.9h-5.6zM387.6 363.2l2.8 4.9h-5.6zM395.9 398.8l2.8 4.9h-5.6zM423.5 378.4l2.8 4.9h-5.6zM414.8 360.6l2.8 4.9h-5.6zM425.5 386.1l2.8 4.9h-5.6zM458.8 357.6l2.8 4.9h-5.6zM503.6 328.0l2.8 4.9h-5.6z"/><path fill="none" stroke="#4bbdb5" stroke-width="3.8" d="M377.0 376.9h3.8M361.6 394.3h3.8M385.0 357.9h3.8M394.3 379.7h3.8M365.5 376.7h3.8M333.1 398.4h3.8M376.5 373.8h3.8M335.5 403.7h3.8M384.3 411.8h3.8M349.4 408.3h3.8M338.5 410.1h3.8M360.5 388.9h3.8M340.4 381.8h3.8M380.7 377.0h3.8M364.0 353.7h3.8M361.2 369.0h3.8M380.4 393.5h3.8M346.7 410.0h3.8M353.4 378.5h3.8M374.3 374.0h3.8M394.0 400.7h3.8M372.7 365.3h3.8M374.8 397.6h3.8M369.1 430.4h3.8M364.2 367.7h3.8M384.2 410.3h3.8M347.4 371.3h3.8M350.9 394.2h3.8M356.2 387.2h3.8M347.6 381.3h3.8M364.5 363.6h3.8M360.9 393.4h3.8M356.9 402.3h3.8M372.5 388.3h3.8M337.2 392.2h3.8M360.0 411.7h3.8M376.5 361.5h3.8M366.2 323.5h3.8M383.3 351.2h3.8M357.7 387.7h3.8M354.8 373.4h3.8M344.5 361.4h3.8M368.2 392.2h3.8M336.5 385.2h3.8M368.8 329.9h3.8M352.1 444.7h3.8M366.5 387.2h3.8M403.0 382.2h3.8M389.9 400.1h3.8M360.1 397.2h3.8M363.3 391.8h3.8M346.1 404.6h3.8M375.5 386.7h3.8M365.7 397.9h3.8M370.4 390.0h3.8"/><path fill="none" stroke="#9575cd" stroke-width="2.7" stroke-linecap="round" d="M352.0 339.1h5.6m-2.8-2.8v5.6M352.4 266.7h5.6m-2.8-2.8v5.6M346.2 371.9h5.6m-2.8-2.8v5.6M344.8 326.8h5.6m-2.8-2.8v5.6M361.0 316.4h5.6m-2.8-2.8v5.6M367.4 272.3h5.6m-2.8-2.8v5.6M355.3 308.8h5.6m-2.8-2.8v5.6M329.4 305.0h5.6m-2.8-2.8v5.6M353.1 354.2h5.6m-2.8-2.8v5.6M333.4 343.8h5.6m-2.8-2.8v5.6M336.6 349.8h5.6m-2.8-2.8v5.6M362.6 321.8h5.6m-2.8-2.8v5.6M368.9 338.4h5.6m-2.8-2.8v5.6M336.5 351.0h5.6m-2.8-2.8v5.6M346.1 305.4h5.6m-2.8-2.8v5.6M372.3 337.8h5.6m-2.8-2.8v5.6M360.1 327.6h5.6m-2.8-2.8v5.6M342.6 315.3h5.6m-2.8-2.8v5.6M324.3 296.5h5.6m-2.8-2.8v5.6M352.1 371.9h5.6m-2.8-2.8v5.6M351.6 316.0h5.6m-2.8-2.8v5.6M362.5 332.3h5.6m-2.8-2.8v5.6M376.7 305.6h5.6m-2.8-2.8v5.6M353.8 325.8h5.6m-2.8-2.8v5.6M336.1 291.6h5.6m-2.8-2.8v5.6M370.7 315.8h5.6m-2.8-2.8v5.6M351.9 354.4h5.6m-2.8-2.8v5.6M363.3 254.4h5.6m-2.8-2.8v5.6M363.7 336.2h5.6m-2.8-2.8v5.6M351.4 306.8h5.6m-2.8-2.8v5.6M332.4 327.1h5.6m-2.8-2.8v5.6M369.5 358.8h5.6m-2.8-2.8v5.6M358.9 327.1h5.6m-2.8-2.8v5.6M379.6 364.6h5.6m-2.8-2.8v5.6M372.9 332.4h5.6m-2.8-2.8v5.6M345.6 311.2h5.6m-2.8-2.8v5.6M378.8 300.4h5.6m-2.8-2.8v5.6M313.9 288.8h5.6m-2.8-2.8v5.6M339.5 263.1h5.6m-2.8-2.8v5.6M364.0 340.2h5.6m-2.8-2.8v5.6M362.7 363.9h5.6m-2.8-2.8v5.6"/><path fill="none" stroke="#d6739b" stroke-width="4" stroke-linecap="round" d="M396.7 279.7h0M403.4 306.6h0M398.5 342.8h0M401.1 365.6h0M414.1 268.6h0M367.3 290.9h0M402.5 317.4h0M408.4 310.8h0M385.4 302.1h0M372.6 305.6h0M394.5 259.9h0M413.3 277.7h0M376.3 312.1h0M434.9 341.7h0M393.9 294.7h0M409.1 331.1h0M385.2 293.5h0M398.1 275.3h0M392.6 258.4h0M449.8 340.8h0M411.3 321.8h0M373.1 294.5h0M382.5 331.3h0M390.4 356.3h0M387.9 302.3h0M410.0 305.3h0M389.1 323.1h0M394.8 331.0h0M363.4 361.0h0M413.3 313.1h0M386.6 346.5h0M405.1 311.5h0M383.3 289.0h0M394.8 320.4h0M394.5 283.3h0M393.6 307.1h0M395.8 360.2h0M394.2 290.1h0M414.1 330.2h0M436.7 364.2h0M400.8 325.8h0M406.9 330.9h0M381.1 310.4h0M392.5 323.8h0M381.8 355.7h0"/><path fill="#7b8c46" stroke="none" d="M392.9 352.9l2.8 4.9h-5.6zM468.9 347.2l2.8 4.9h-5.6zM367.1 399.3l2.8 4.9h-5.6zM366.4 391.9l2.8 4.9h-5.6zM442.3 372.5l2.8 4.9h-5.6zM413.2 385.8l2.8 4.9h-5.6zM405.3 364.4l2.8 4.9h-5.6zM419.4 402.0l2.8 4.9h-5.6zM426.8 360.1l2.8 4.9h-5.6zM442.1 379.5l2.8 4.9h-5.6zM416.0 364.0l2.8 4.9h-5.6zM446.0 359.0l2.8 4.9h-5.6zM403.9 361.0l2.8 4.9h-5.6zM415.6 343.0l2.8 4.9h-5.6zM401.5 353.0l2.8 4.9h-5.6zM422.9 349.3l2.8 4.9h-5.6zM385.3 376.7l2.8 4.9h-5.6zM426.8 360.8l2.8 4.9h-5.6zM425.4 385.5l2.8 4.9h-5.6zM369.3 377.4l2.8 4.9h-5.6zM422.9 395.1l2.8 4.9h-5.6zM422.4 358.4l2.8 4.9h-5.6zM391.1 377.1l2.8 4.9h-5.6zM416.0 390.4l2.8 4.9h-5.6zM395.9 338.3l2.8 4.9h-5.6zM401.8 370.5l2.8 4.9h-5.6zM449.4 395.6l2.8 4.9h-5.6zM398.1 368.0l2.8 4.9h-5.6zM427.9 360.6l2.8 4.9h-5.6zM415.0 356.7l2.8 4.9h-5.6zM409.2 376.5l2.8 4.9h-5.6zM402.2 350.7l2.8 4.9h-5.6zM412.5 365.9l2.8 4.9h-5.6zM412.1 384.9l2.8 4.9h-5.6zM394.9 370.9l2.8 4.9h-5.6zM423.8 348.2l2.8 4.9h-5.6zM404.7 368.0l2.8 4.9h-5.6zM393.6 381.0l2.8 4.9h-5.6zM416.5 330.4l2.8 4.9h-5.6zM390.4 351.5l2.8 4.9h-5.6zM394.7 364.4l2.8 4.9h-5.6zM388.1 372.6l2.8 4.9h-5.6zM435.9 378.6l2.8 4.9h-5.6zM435.1 346.9l2.8 4.9h-5.6zM438.4 376.4l2.8 4.9h-5.6zM425.8 387.4l2.8 4.9h-5.6zM405.6 390.0l2.8 4.9h-5.6zM397.5 398.7l2.8 4.9h-5.6zM375.3 385.5l2.8 4.9h-5.6zM405.6 391.5l2.8 4.9h-5.6zM407.8 354.2l2.8 4.9h-5.6zM567.8 332.0l2.8 4.9h-5.6z"/><path fill="none" stroke="#4bbdb5" stroke-width="3.8" d="M353.8 339.0h3.8M324.3 408.2h3.8M354.0 389.5h3.8M347.1 412.6h3.8M359.5 402.3h3.8M344.2 352.1h3.8M350.3 403.7h3.8M353.3 406.4h3.8M352.9 379.3h3.8M372.8 408.3h3.8M347.9 370.2h3.8M373.6 388.3h3.8M359.3 361.5h3.8M382.6 418.3h3.8M341.2 405.1h3.8M339.1 361.3h3.8M358.2 400.1h3.8M353.1 357.2h3.8M357.6 435.7h3.8M375.5 381.1h3.8M361.9 388.6h3.8M379.1 365.6h3.8M350.1 399.4h3.8M365.5 381.4h3.8M335.8 391.6h3.8M373.7 378.3h3.8M359.7 389.9h3.8M358.1 399.4h3.8M351.9 357.9h3.8M368.1 385.3h3.8M352.2 409.5h3.8M377.3 398.3h3.8M367.6 439.1h3.8M364.9 372.3h3.8M393.2 392.6h3.8M356.9 395.3h3.8M358.2 378.7h3.8M378.3 400.9h3.8M339.3 398.8h3.8M362.6 374.4h3.8M387.2 336.0h3.8M366.6 386.8h3.8M367.1 354.9h3.8M377.4 364.3h3.8M359.5 368.1h3.8M360.9 393.1h3.8M362.8 382.8h3.8M343.7 380.4h3.8M347.6 387.5h3.8M352.4 388.3h3.8M378.8 361.1h3.8M368.7 379.1h3.8M366.9 378.5h3.8M387.8 388.1h3.8M377.0 402.2h3.8"/><path fill="none" stroke="#9575cd" stroke-width="2.7" stroke-linecap="round" d="M346.3 280.8h5.6m-2.8-2.8v5.6M337.5 302.1h5.6m-2.8-2.8v5.6M355.4 307.3h5.6m-2.8-2.8v5.6M368.4 331.7h5.6m-2.8-2.8v5.6M334.7 297.1h5.6m-2.8-2.8v5.6M343.4 312.1h5.6m-2.8-2.8v5.6M357.5 330.6h5.6m-2.8-2.8v5.6M337.9 314.0h5.6m-2.8-2.8v5.6M368.5 341.3h5.6m-2.8-2.8v5.6M352.2 314.4h5.6m-2.8-2.8v5.6M362.5 332.7h5.6m-2.8-2.8v5.6M332.3 361.6h5.6m-2.8-2.8v5.6M351.6 294.2h5.6m-2.8-2.8v5.6M350.8 308.6h5.6m-2.8-2.8v5.6M362.0 314.6h5.6m-2.8-2.8v5.6M356.8 307.8h5.6m-2.8-2.8v5.6M341.7 316.3h5.6m-2.8-2.8v5.6M345.6 329.9h5.6m-2.8-2.8v5.6M353.7 314.4h5.6m-2.8-2.8v5.6M356.1 334.3h5.6m-2.8-2.8v5.6M336.0 337.0h5.6m-2.8-2.8v5.6M335.4 314.4h5.6m-2.8-2.8v5.6M359.5 297.4h5.6m-2.8-2.8v5.6M322.9 260.1h5.6m-2.8-2.8v5.6M337.2 329.0h5.6m-2.8-2.8v5.6M337.7 319.8h5.6m-2.8-2.8v5.6M333.4 298.2h5.6m-2.8-2.8v5.6M355.1 329.0h5.6m-2.8-2.8v5.6M341.4 313.6h5.6m-2.8-2.8v5.6M357.4 349.0h5.6m-2.8-2.8v5.6M325.2 323.2h5.6m-2.8-2.8v5.6M319.5 303.3h5.6m-2.8-2.8v5.6M364.6 309.5h5.6m-2.8-2.8v5.6M378.2 345.0h5.6m-2.8-2.8v5.6M327.8 328.0h5.6m-2.8-2.8v5.6M334.7 324.3h5.6m-2.8-2.8v5.6M333.8 267.9h5.6m-2.8-2.8v5.6M346.1 345.5h5.6m-2.8-2.8v5.6M348.6 327.2h5.6m-2.8-2.8v5.6M328.9 300.9h5.6m-2.8-2.8v5.6M357.4 360.2h5.6m-2.8-2.8v5.6"/><path fill="none" stroke="#d6739b" stroke-width="4" stroke-linecap="round" d="M403.3 299.9h0M412.9 284.1h0M400.0 299.6h0M406.9 314.8h0M402.6 335.2h0M425.4 299.7h0M376.1 330.1h0M409.2 314.3h0M401.8 312.9h0M397.2 348.1h0M476.1 326.3h0M400.2 314.6h0M405.4 351.4h0M377.2 293.9h0M392.2 319.4h0M411.4 275.5h0M400.8 276.0h0M357.3 304.8h0M432.1 321.8h0M399.0 301.0h0M402.4 292.2h0M422.7 347.1h0M433.3 279.4h0M386.4 281.9h0M374.3 308.1h0M385.3 329.2h0M376.8 290.3h0M404.6 303.3h0M427.6 317.0h0M371.2 352.5h0M442.9 320.8h0M404.6 313.6h0M398.1 323.8h0M388.7 302.4h0M396.9 345.4h0M389.8 305.7h0M374.8 268.6h0M440.0 321.2h0M394.2 329.3h0M409.9 345.0h0M406.7 337.3h0M422.9 265.2h0M385.5 274.0h0M380.7 353.2h0M393.2 341.4h0"/><path fill="#7b8c46" stroke="none" d="M393.0 429.9l2.8 4.9h-5.6zM416.2 346.9l2.8 4.9h-5.6zM425.0 361.3l2.8 4.9h-5.6zM434.5 377.8l2.8 4.9h-5.6zM470.6 338.8l2.8 4.9h-5.6zM421.3 380.9l2.8 4.9h-5.6zM424.2 362.6l2.8 4.9h-5.6zM448.3 361.3l2.8 4.9h-5.6zM403.1 366.5l2.8 4.9h-5.6zM394.6 360.9l2.8 4.9h-5.6zM428.4 356.8l2.8 4.9h-5.6zM427.8 366.7l2.8 4.9h-5.6zM430.6 396.8l2.8 4.9h-5.6zM440.1 397.9l2.8 4.9h-5.6zM434.6 352.3l2.8 4.9h-5.6zM424.9 386.5l2.8 4.9h-5.6zM402.8 343.2l2.8 4.9h-5.6zM414.0 363.0l2.8 4.9h-5.6zM411.4 332.3l2.8 4.9h-5.6zM379.2 358.6l2.8 4.9h-5.6zM429.3 388.8l2.8 4.9h-5.6zM417.2 391.2l2.8 4.9h-5.6zM389.6 363.1l2.8 4.9h-5.6zM415.2 399.6l2.8 4.9h-5.6zM385.1 400.5l2.8 4.9h-5.6zM409.1 362.5l2.8 4.9h-5.6zM437.6 361.0l2.8 4.9h-5.6zM440.3 391.5l2.8 4.9h-5.6zM399.1 407.1l2.8 4.9h-5.6zM385.2 346.3l2.8 4.9h-5.6zM413.5 366.4l2.8 4.9h-5.6zM402.0 377.2l2.8 4.9h-5.6zM404.4 331.3l2.8 4.9h-5.6zM380.7 390.1l2.8 4.9h-5.6zM402.7 369.9l2.8 4.9h-5.6zM428.1 385.5l2.8 4.9h-5.6zM418.7 348.6l2.8 4.9h-5.6zM417.6 397.0l2.8 4.9h-5.6zM445.3 349.8l2.8 4.9h-5.6zM389.0 336.4l2.8 4.9h-5.6zM402.5 355.9l2.8 4.9h-5.6zM390.2 345.2l2.8 4.9h-5.6zM414.1 382.8l2.8 4.9h-5.6zM424.0 428.9l2.8 4.9h-5.6zM426.1 372.7l2.8 4.9h-5.6zM381.6 382.4l2.8 4.9h-5.6zM405.2 371.7l2.8 4.9h-5.6zM405.3 373.0l2.8 4.9h-5.6zM421.8 377.8l2.8 4.9h-5.6zM360.5 359.4l2.8 4.9h-5.6zM387.4 395.0l2.8 4.9h-5.6zM558.0 340.6l2.8 4.9h-5.6z"/><path fill="none" stroke="#4bbdb5" stroke-width="3.8" d="M327.0 398.1h3.8M353.5 403.1h3.8M371.6 403.2h3.8M363.5 350.1h3.8M373.1 392.6h3.8M374.8 362.7h3.8M343.1 399.7h3.8M358.3 402.2h3.8M377.0 384.2h3.8M342.9 399.0h3.8M368.5 395.8h3.8M371.0 377.6h3.8M354.5 404.8h3.8M358.6 401.0h3.8M369.6 399.3h3.8M376.3 408.2h3.8M370.0 420.5h3.8M342.2 395.0h3.8M369.3 383.7h3.8M390.0 389.5h3.8M363.3 388.5h3.8M386.1 400.1h3.8M346.0 379.5h3.8M358.8 380.1h3.8M337.1 405.2h3.8M361.1 369.8h3.8M393.6 401.1h3.8M370.7 361.8h3.8M356.6 372.1h3.8M373.5 403.4h3.8M376.5 378.7h3.8M344.3 394.8h3.8M341.7 352.1h3.8M367.3 383.8h3.8M385.6 354.8h3.8M341.3 400.1h3.8M370.0 407.6h3.8M371.2 366.4h3.8M358.2 376.5h3.8M367.8 385.6h3.8M365.6 436.6h3.8M353.9 393.0h3.8M367.5 383.9h3.8M330.7 405.3h3.8M357.2 392.2h3.8M397.3 384.3h3.8M367.1 420.3h3.8M352.3 378.9h3.8M360.3 356.9h3.8M360.9 376.5h3.8M362.1 389.1h3.8M372.0 366.6h3.8M371.0 381.8h3.8M358.3 408.8h3.8M326.4 396.1h3.8"/><path fill="none" stroke="#9575cd" stroke-width="2.7" stroke-linecap="round" d="M342.2 293.8h5.6m-2.8-2.8v5.6M354.7 337.3h5.6m-2.8-2.8v5.6M343.8 360.3h5.6m-2.8-2.8v5.6M348.2 327.5h5.6m-2.8-2.8v5.6M331.6 339.5h5.6m-2.8-2.8v5.6M326.7 325.5h5.6m-2.8-2.8v5.6M340.5 340.3h5.6m-2.8-2.8v5.6M340.7 314.6h5.6m-2.8-2.8v5.6M356.9 410.3h5.6m-2.8-2.8v5.6M357.8 301.9h5.6m-2.8-2.8v5.6M340.0 358.6h5.6m-2.8-2.8v5.6M361.7 302.2h5.6m-2.8-2.8v5.6M360.7 349.4h5.6m-2.8-2.8v5.6M347.3 307.9h5.6m-2.8-2.8v5.6M383.7 259.6h5.6m-2.8-2.8v5.6M307.6 325.9h5.6m-2.8-2.8v5.6M364.3 361.4h5.6m-2.8-2.8v5.6M324.1 298.6h5.6m-2.8-2.8v5.6M347.3 319.5h5.6m-2.8-2.8v5.6M345.3 337.2h5.6m-2.8-2.8v5.6M345.8 331.3h5.6m-2.8-2.8v5.6M333.8 315.7h5.6m-2.8-2.8v5.6M355.2 349.5h5.6m-2.8-2.8v5.6M370.8 317.1h5.6m-2.8-2.8v5.6M345.1 276.2h5.6m-2.8-2.8v5.6M380.7 361.8h5.6m-2.8-2.8v5.6M367.3 332.9h5.6m-2.8-2.8v5.6M326.2 264.0h5.6m-2.8-2.8v5.6M329.5 334.7h5.6m-2.8-2.8v5.6M362.3 326.1h5.6m-2.8-2.8v5.6M350.1 361.8h5.6m-2.8-2.8v5.6M376.3 288.7h5.6m-2.8-2.8v5.6M333.4 303.3h5.6m-2.8-2.8v5.6M345.9 384.1h5.6m-2.8-2.8v5.6M356.4 326.8h5.6m-2.8-2.8v5.6M341.7 321.3h5.6m-2.8-2.8v5.6M338.9 312.9h5.6m-2.8-2.8v5.6M355.2 326.7h5.6m-2.8-2.8v5.6M360.8 314.7h5.6m-2.8-2.8v5.6M332.2 318.7h5.6m-2.8-2.8v5.6M386.9 357.3h5.6m-2.8-2.8v5.6"/><path fill="none" stroke="#d6739b" stroke-width="4" stroke-linecap="round" d="M386.9 351.0h0M385.3 314.7h0M420.2 391.2h0M395.4 238.5h0M426.7 281.5h0M403.1 325.4h0M377.0 355.9h0M420.0 340.8h0M396.0 279.2h0M367.8 235.7h0M415.0 342.3h0M421.8 280.6h0M396.4 287.6h0M410.2 305.0h0M406.5 281.8h0M383.5 352.1h0M434.1 303.9h0M401.6 322.7h0M414.1 332.4h0M397.8 280.7h0M420.0 302.6h0M386.0 305.5h0M368.4 320.4h0M407.7 350.4h0M412.9 268.1h0M428.5 307.3h0M392.3 339.8h0M431.8 330.7h0M401.9 351.6h0M417.7 320.3h0M385.5 327.9h0M385.9 355.1h0M412.5 349.1h0M398.7 293.7h0M399.1 267.1h0M412.0 309.0h0M413.1 318.9h0M374.3 324.1h0M396.9 304.9h0M399.5 337.8h0M381.0 292.4h0M380.7 269.3h0M394.5 349.1h0M380.0 301.5h0M392.6 304.3h0"/><path fill="#7b8c46" stroke="none" d="M426.1 372.5l2.8 4.9h-5.6zM379.6 392.5l2.8 4.9h-5.6zM459.8 340.4l2.8 4.9h-5.6zM443.6 374.2l2.8 4.9h-5.6zM420.5 381.2l2.8 4.9h-5.6zM353.8 408.2l2.8 4.9h-5.6zM402.4 400.1l2.8 4.9h-5.6zM414.8 350.2l2.8 4.9h-5.6zM435.8 377.2l2.8 4.9h-5.6zM378.9 408.0l2.8 4.9h-5.6zM414.9 351.4l2.8 4.9h-5.6zM407.0 375.5l2.8 4.9h-5.6zM449.3 340.5l2.8 4.9h-5.6zM399.4 348.3l2.8 4.9h-5.6zM390.7 377.1l2.8 4.9h-5.6zM432.0 379.9l2.8 4.9h-5.6zM403.9 369.2l2.8 4.9h-5.6zM394.4 390.4l2.8 4.9h-5.6zM427.5 360.0l2.8 4.9h-5.6zM377.7 367.9l2.8 4.9h-5.6zM406.4 379.4l2.8 4.9h-5.6zM380.5 391.2l2.8 4.9h-5.6zM402.1 429.4l2.8 4.9h-5.6zM392.6 377.3l2.8 4.9h-5.6zM430.9 400.5l2.8 4.9h-5.6zM400.8 394.4l2.8 4.9h-5.6zM442.0 364.9l2.8 4.9h-5.6zM427.4 371.9l2.8 4.9h-5.6zM412.7 387.3l2.8 4.9h-5.6zM440.3 333.5l2.8 4.9h-5.6zM436.6 345.0l2.8 4.9h-5.6zM400.0 359.0l2.8 4.9h-5.6zM425.2 382.6l2.8 4.9h-5.6zM422.3 410.0l2.8 4.9h-5.6zM449.8 377.6l2.8 4.9h-5.6zM391.2 362.6l2.8 4.9h-5.6zM396.8 365.3l2.8 4.9h-5.6zM431.5 350.4l2.8 4.9h-5.6zM413.3 394.2l2.8 4.9h-5.6zM419.9 359.6l2.8 4.9h-5.6zM418.3 356.6l2.8 4.9h-5.6zM410.8 406.7l2.8 4.9h-5.6zM366.2 361.8l2.8 4.9h-5.6zM456.7 338.4l2.8 4.9h-5.6zM428.2 378.9l2.8 4.9h-5.6zM371.6 381.1l2.8 4.9h-5.6zM427.3 372.4l2.8 4.9h-5.6zM448.2 365.8l2.8 4.9h-5.6zM428.5 410.4l2.8 4.9h-5.6zM384.3 377.8l2.8 4.9h-5.6zM389.4 377.2l2.8 4.9h-5.6zM512.9 337.4l2.8 4.9h-5.6z"/><path fill="none" stroke="#4bbdb5" stroke-width="3.8" d="M350.1 391.5h3.8M340.9 401.2h3.8M360.5 364.3h3.8M336.0 399.1h3.8M360.3 407.7h3.8M366.0 411.5h3.8M381.6 366.9h3.8M351.1 369.1h3.8M388.7 402.2h3.8M368.8 403.7h3.8M376.8 399.6h3.8M343.3 384.7h3.8M381.9 377.5h3.8M366.2 375.7h3.8M327.6 398.2h3.8M367.1 382.2h3.8M377.9 396.6h3.8M323.2 386.3h3.8M362.5 393.6h3.8M355.4 395.8h3.8M373.0 373.6h3.8M366.4 418.3h3.8M379.1 375.1h3.8M377.8 413.9h3.8M364.2 382.5h3.8M379.4 407.1h3.8M371.0 403.5h3.8M334.3 395.0h3.8M342.2 379.6h3.8M382.5 377.9h3.8M354.4 369.9h3.8M364.9 397.0h3.8M392.0 387.5h3.8M364.4 392.4h3.8M359.4 359.9h3.8M372.5 369.3h3.8M378.2 372.9h3.8M336.1 407.4h3.8M387.8 366.2h3.8M345.7 380.0h3.8M372.2 389.9h3.8M356.9 402.2h3.8M383.3 382.7h3.8M369.7 413.6h3.8M361.8 377.2h3.8M345.7 372.3h3.8M390.0 379.7h3.8M346.6 402.4h3.8M366.3 438.1h3.8M361.7 397.5h3.8M366.3 426.3h3.8M353.4 375.9h3.8M394.0 388.0h3.8M398.2 422.1h3.8M371.2 350.4h3.8"/><path fill="none" stroke="#9575cd" stroke-width="2.7" stroke-linecap="round" d="M373.5 310.6h5.6m-2.8-2.8v5.6M368.3 292.9h5.6m-2.8-2.8v5.6M344.3 307.8h5.6m-2.8-2.8v5.6M327.9 341.2h5.6m-2.8-2.8v5.6M335.0 355.0h5.6m-2.8-2.8v5.6M344.0 337.5h5.6m-2.8-2.8v5.6M347.9 329.9h5.6m-2.8-2.8v5.6M333.5 319.9h5.6m-2.8-2.8v5.6M354.2 267.3h5.6m-2.8-2.8v5.6M372.7 312.6h5.6m-2.8-2.8v5.6M353.0 294.8h5.6m-2.8-2.8v5.6M333.1 333.6h5.6m-2.8-2.8v5.6M360.3 316.2h5.6m-2.8-2.8v5.6M319.8 312.8h5.6m-2.8-2.8v5.6M350.5 351.3h5.6m-2.8-2.8v5.6M350.1 295.2h5.6m-2.8-2.8v5.6M359.7 297.7h5.6m-2.8-2.8v5.6M340.6 380.4h5.6m-2.8-2.8v5.6M359.5 324.0h5.6m-2.8-2.8v5.6M317.4 314.7h5.6m-2.8-2.8v5.6M347.9 320.8h5.6m-2.8-2.8v5.6M338.2 299.3h5.6m-2.8-2.8v5.6M347.7 340.4h5.6m-2.8-2.8v5.6M335.4 299.0h5.6m-2.8-2.8v5.6M357.5 358.8h5.6m-2.8-2.8v5.6M353.1 344.8h5.6m-2.8-2.8v5.6M329.6 320.4h5.6m-2.8-2.8v5.6M345.2 295.9h5.6m-2.8-2.8v5.6M324.9 325.8h5.6m-2.8-2.8v5.6M347.4 324.1h5.6m-2.8-2.8v5.6M328.1 354.1h5.6m-2.8-2.8v5.6M362.4 360.3h5.6m-2.8-2.8v5.6M347.5 312.1h5.6m-2.8-2.8v5.6M383.8 355.7h5.6m-2.8-2.8v5.6M349.2 284.7h5.6m-2.8-2.8v5.6M383.0 229.8h5.6m-2.8-2.8v5.6M356.8 339.5h5.6m-2.8-2.8v5.6M370.9 320.6h5.6m-2.8-2.8v5.6M374.9 265.3h5.6m-2.8-2.8v5.6M343.2 320.0h5.6m-2.8-2.8v5.6M350.0 360.2h5.6m-2.8-2.8v5.6"/><path fill="none" stroke="#d6739b" stroke-width="4" stroke-linecap="round" d="M415.8 334.7h0M385.1 327.9h0M407.8 296.4h0M441.4 291.4h0M397.1 366.9h0M391.1 311.1h0M392.4 295.9h0M451.2 328.0h0M409.2 329.2h0M414.3 309.5h0M379.7 288.5h0M382.4 283.3h0M366.1 286.0h0M404.9 332.7h0M390.0 289.0h0M389.7 346.5h0M401.4 322.4h0M420.1 311.3h0M384.4 345.6h0M419.0 249.1h0M398.7 287.2h0M402.3 265.8h0M391.1 307.6h0M339.7 293.5h0M410.2 293.9h0M392.1 250.3h0M398.9 284.0h0M383.8 337.3h0M409.2 285.2h0M425.1 244.3h0M367.5 316.1h0M419.6 309.5h0M386.1 340.6h0M428.2 283.7h0M419.7 307.6h0M392.7 331.9h0M413.5 318.9h0M402.3 292.4h0M414.0 346.3h0M408.9 343.3h0M409.0 308.4h0M379.5 318.0h0M377.1 312.4h0M397.3 335.8h0M416.9 363.8h0"/><path fill="#7b8c46" stroke="none" d="M384.9 393.6l2.8 4.9h-5.6zM436.9 342.9l2.8 4.9h-5.6zM423.8 353.9l2.8 4.9h-5.6zM420.5 342.9l2.8 4.9h-5.6zM414.4 380.2l2.8 4.9h-5.6zM392.3 376.0l2.8 4.9h-5.6zM381.7 337.0l2.8 4.9h-5.6zM395.7 368.4l2.8 4.9h-5.6zM432.4 372.8l2.8 4.9h-5.6zM371.4 350.5l2.8 4.9h-5.6zM383.1 385.6l2.8 4.9h-5.6zM405.8 346.0l2.8 4.9h-5.6zM405.5 376.2l2.8 4.9h-5.6zM370.4 384.8l2.8 4.9h-5.6zM399.6 341.1l2.8 4.9h-5.6zM414.4 390.0l2.8 4.9h-5.6zM433.8 311.3l2.8 4.9h-5.6zM394.9 379.0l2.8 4.9h-5.6zM419.7 348.1l2.8 4.9h-5.6zM412.9 377.8l2.8 4.9h-5.6zM405.1 354.5l2.8 4.9h-5.6zM399.8 408.1l2.8 4.9h-5.6zM423.9 367.4l2.8 4.9h-5.6zM406.1 389.6l2.8 4.9h-5.6zM432.4 346.0l2.8 4.9h-5.6zM392.9 374.1l2.8 4.9h-5.6zM428.3 391.3l2.8 4.9h-5.6zM403.3 392.9l2.8 4.9h-5.6zM424.7 402.7l2.8 4.9h-5.6zM424.3 364.2l2.8 4.9h-5.6zM421.5 377.9l2.8 4.9h-5.6zM407.5 362.4l2.8 4.9h-5.6zM410.5 369.5l2.8 4.9h-5.6zM409.8 337.3l2.8 4.9h-5.6zM436.2 376.2l2.8 4.9h-5.6zM395.9 343.6l2.8 4.9h-5.6zM407.3 406.5l2.8 4.9h-5.6zM397.5 389.5l2.8 4.9h-5.6zM446.1 370.3l2.8 4.9h-5.6zM396.3 333.5l2.8 4.9h-5.6zM402.3 376.9l2.8 4.9h-5.6zM441.2 361.7l2.8 4.9h-5.6zM416.5 341.4l2.8 4.9h-5.6zM394.8 374.7l2.8 4.9h-5.6zM395.9 377.3l2.8 4.9h-5.6zM394.9 373.8l2.8 4.9h-5.6zM392.5 433.7l2.8 4.9h-5.6zM378.1 378.2l2.8 4.9h-5.6zM419.9 355.8l2.8 4.9h-5.6zM403.6 401.1l2.8 4.9h-5.6zM410.3 365.1l2.8 4.9h-5.6zM497.0 339.4l2.8 4.9h-5.6z"/><path fill="none" stroke="#4bbdb5" stroke-width="3.8" d="M374.0 352.9h3.8M368.6 396.3h3.8M361.9 360.2h3.8M402.3 394.7h3.8M374.3 394.2h3.8M370.6 423.5h3.8M382.5 375.3h3.8M367.2 378.1h3.8M368.9 403.3h3.8M379.7 390.8h3.8M338.9 394.8h3.8M319.6 411.1h3.8M395.8 361.5h3.8M364.9 405.7h3.8M349.8 366.4h3.8M369.3 391.7h3.8M365.6 375.7h3.8M376.4 383.3h3.8M348.1 381.1h3.8M352.7 394.2h3.8M359.3 368.6h3.8M354.9 431.7h3.8M381.3 399.7h3.8M379.2 378.4h3.8M325.6 391.1h3.8M376.2 396.4h3.8M368.6 411.3h3.8M353.3 423.8h3.8M367.4 400.9h3.8M367.7 396.1h3.8M352.6 418.0h3.8M364.7 430.3h3.8M363.8 355.3h3.8M369.4 395.9h3.8M347.8 428.5h3.8M360.9 392.2h3.8M360.7 398.4h3.8M359.6 378.9h3.8M347.7 400.6h3.8M365.4 410.2h3.8M369.6 422.4h3.8M380.1 426.5h3.8M375.4 408.6h3.8M358.8 396.4h3.8M368.0 362.7h3.8M364.6 390.1h3.8M362.8 386.4h3.8M346.1 410.3h3.8M363.1 399.6h3.8M381.6 409.5h3.8M342.3 382.7h3.8M357.2 365.1h3.8M357.0 388.6h3.8M343.0 357.6h3.8M364.5 389.8h3.8"/><path fill="none" stroke="#9575cd" stroke-width="2.7" stroke-linecap="round" d="M351.6 300.2h5.6m-2.8-2.8v5.6M321.7 329.1h5.6m-2.8-2.8v5.6M386.5 319.3h5.6m-2.8-2.8v5.6M359.6 362.8h5.6m-2.8-2.8v5.6M367.8 309.6h5.6m-2.8-2.8v5.6M374.0 310.2h5.6m-2.8-2.8v5.6M370.2 319.7h5.6m-2.8-2.8v5.6M319.0 292.0h5.6m-2.8-2.8v5.6M325.0 305.2h5.6m-2.8-2.8v5.6M329.7 271.1h5.6m-2.8-2.8v5.6M342.1 313.3h5.6m-2.8-2.8v5.6M344.7 320.5h5.6m-2.8-2.8v5.6M346.7 317.5h5.6m-2.8-2.8v5.6M334.3 340.9h5.6m-2.8-2.8v5.6M365.7 332.0h5.6m-2.8-2.8v5.6M357.5 308.9h5.6m-2.8-2.8v5.6M374.0 307.9h5.6m-2.8-2.8v5.6M348.6 292.7h5.6m-2.8-2.8v5.6M347.8 356.2h5.6m-2.8-2.8v5.6M326.3 302.9h5.6m-2.8-2.8v5.6M338.5 316.1h5.6m-2.8-2.8v5.6M324.2 294.4h5.6m-2.8-2.8v5.6M358.0 344.9h5.6m-2.8-2.8v5.6M358.8 322.3h5.6m-2.8-2.8v5.6M340.9 296.3h5.6m-2.8-2.8v5.6M342.6 293.0h5.6m-2.8-2.8v5.6M353.3 322.2h5.6m-2.8-2.8v5.6M344.4 303.3h5.6m-2.8-2.8v5.6M352.9 337.3h5.6m-2.8-2.8v5.6M374.2 311.7h5.6m-2.8-2.8v5.6M354.1 299.9h5.6m-2.8-2.8v5.6M352.5 333.5h5.6m-2.8-2.8v5.6M364.7 324.8h5.6m-2.8-2.8v5.6M375.4 295.0h5.6m-2.8-2.8v5.6M340.4 309.7h5.6m-2.8-2.8v5.6M331.5 309.1h5.6m-2.8-2.8v5.6M340.6 333.5h5.6m-2.8-2.8v5.6M351.8 344.5h5.6m-2.8-2.8v5.6M364.2 322.6h5.6m-2.8-2.8v5.6M350.8 324.4h5.6m-2.8-2.8v5.6M349.2 338.6h5.6m-2.8-2.8v5.6"/><path fill="none" stroke="#d6739b" stroke-width="4" stroke-linecap="round" d="M401.2 326.2h0M396.3 269.6h0M432.7 315.3h0M399.7 332.4h0M424.6 315.6h0M361.0 325.8h0M380.9 303.3h0M402.9 276.2h0M374.6 336.3h0M408.4 312.2h0M411.5 331.4h0M384.7 278.6h0M400.8 313.7h0M425.5 297.7h0M415.0 279.2h0M408.3 329.9h0M375.9 290.0h0M406.4 313.8h0M356.8 208.2h0M367.4 287.4h0M399.5 324.0h0M397.0 306.7h0M400.9 297.8h0M424.0 266.2h0M407.0 376.3h0M393.2 346.4h0M404.0 329.8h0M392.2 337.3h0M377.7 293.6h0M401.5 327.5h0M366.7 325.2h0M391.9 339.1h0M391.3 319.5h0M418.2 292.8h0M421.7 303.0h0M458.0 300.7h0M385.6 372.6h0M395.0 292.0h0M384.0 291.9h0M400.0 323.1h0M380.4 305.0h0M434.6 317.6h0M407.6 338.7h0M405.5 344.9h0M394.5 23.6h0"/><path fill="#7b8c46" stroke="none" d="M401.5 352.5l2.8 4.9h-5.6zM505.9 346.6l2.8 4.9h-5.6zM376.2 421.6l2.8 4.9h-5.6zM418.2 353.1l2.8 4.9h-5.6zM416.5 352.6l2.8 4.9h-5.6zM401.4 361.4l2.8 4.9h-5.6zM391.3 369.9l2.8 4.9h-5.6zM392.2 384.4l2.8 4.9h-5.6zM405.2 367.5l2.8 4.9h-5.6zM426.9 360.6l2.8 4.9h-5.6zM399.5 370.0l2.8 4.9h-5.6zM435.6 395.1l2.8 4.9h-5.6zM434.7 359.3l2.8 4.9h-5.6zM435.2 367.5l2.8 4.9h-5.6zM420.8 376.7l2.8 4.9h-5.6zM425.0 355.3l2.8 4.9h-5.6zM414.0 375.2l2.8 4.9h-5.6zM417.7 376.1l2.8 4.9h-5.6zM420.3 392.2l2.8 4.9h-5.6zM425.3 376.7l2.8 4.9h-5.6zM411.9 401.7l2.8 4.9h-5.6zM471.1 345.3l2.8 4.9h-5.6zM397.6 372.1l2.8 4.9h-5.6zM414.9 378.1l2.8 4.9h-5.6zM426.1 348.9l2.8 4.9h-5.6zM406.1 400.7l2.8 4.9h-5.6zM422.4 377.2l2.8 4.9h-5.6zM406.2 340.8l2.8 4.9h-5.6zM407.9 383.7l2.8 4.9h-5.6zM414.3 354.4l2.8 4.9h-5.6zM428.1 353.6l2.8 4.9h-5.6zM469.9 325.4l2.8 4.9h-5.6zM408.9 363.9l2.8 4.9h-5.6zM426.1 376.0l2.8 4.9h-5.6zM444.1 369.8l2.8 4.9h-5.6zM423.6 367.0l2.8 4.9h-5.6zM449.3 332.5l2.8 4.9h-5.6zM422.1 384.4l2.8 4.9h-5.6zM397.4 348.6l2.8 4.9h-5.6zM398.1 387.1l2.8 4.9h-5.6zM413.9 336.9l2.8 4.9h-5.6zM385.8 362.0l2.8 4.9h-5.6zM412.6 362.4l2.8 4.9h-5.6zM403.6 360.7l2.8 4.9h-5.6zM411.4 351.3l2.8 4.9h-5.6zM413.8 380.8l2.8 4.9h-5.6zM386.4 370.6l2.8 4.9h-5.6zM482.6 362.2l2.8 4.9h-5.6zM395.4 365.2l2.8 4.9h-5.6zM426.1 383.2l2.8 4.9h-5.6zM409.0 386.1l2.8 4.9h-5.6zM521.0 356.4l2.8 4.9h-5.6z"/><path fill="none" stroke="#4bbdb5" stroke-width="3.8" d="M375.8 375.6h3.8M361.8 408.2h3.8M357.3 399.7h3.8M380.5 416.0h3.8M367.7 406.5h3.8M387.5 412.4h3.8M370.9 390.1h3.8M347.1 401.7h3.8M370.8 356.4h3.8M345.6 373.9h3.8M375.1 394.2h3.8M354.2 398.5h3.8M373.9 398.7h3.8M371.8 389.6h3.8M336.9 381.8h3.8M378.8 381.0h3.8M343.4 419.7h3.8M376.0 377.6h3.8M371.0 341.5h3.8M366.0 360.6h3.8M368.8 423.5h3.8M346.6 409.9h3.8M351.3 357.6h3.8M351.2 415.3h3.8M375.5 397.7h3.8M350.4 352.2h3.8M373.9 414.6h3.8M357.1 398.8h3.8M382.6 439.1h3.8M363.7 359.1h3.8M343.8 414.3h3.8M347.1 420.1h3.8M373.3 383.4h3.8M369.9 378.5h3.8M343.1 389.6h3.8M362.2 398.0h3.8M372.1 376.2h3.8M386.8 371.3h3.8M364.9 374.9h3.8M402.4 392.2h3.8M370.8 389.0h3.8M339.1 413.2h3.8M354.1 379.2h3.8M373.3 362.8h3.8M359.2 392.4h3.8M352.6 386.3h3.8M364.1 407.2h3.8M364.2 381.2h3.8M331.6 387.3h3.8M370.2 383.9h3.8M325.4 414.6h3.8M343.7 388.5h3.8M374.0 385.9h3.8M360.3 397.8h3.8M369.2 384.6h3.8"/><path fill="none" stroke="#9575cd" stroke-width="2.7" stroke-linecap="round" d="M334.0 333.1h5.6m-2.8-2.8v5.6M349.4 297.8h5.6m-2.8-2.8v5.6M322.4 355.2h5.6m-2.8-2.8v5.6M374.1 294.9h5.6m-2.8-2.8v5.6M354.1 327.6h5.6m-2.8-2.8v5.6M340.8 292.0h5.6m-2.8-2.8v5.6M334.5 305.3h5.6m-2.8-2.8v5.6M329.0 315.8h5.6m-2.8-2.8v5.6M356.9 326.7h5.6m-2.8-2.8v5.6M334.1 318.2h5.6m-2.8-2.8v5.6M351.6 333.4h5.6m-2.8-2.8v5.6M356.1 313.0h5.6m-2.8-2.8v5.6M352.8 344.9h5.6m-2.8-2.8v5.6M363.6 302.6h5.6m-2.8-2.8v5.6M343.7 304.1h5.6m-2.8-2.8v5.6M362.8 329.9h5.6m-2.8-2.8v5.6M362.5 328.3h5.6m-2.8-2.8v5.6M367.7 346.8h5.6m-2.8-2.8v5.6M360.7 314.9h5.6m-2.8-2.8v5.6M340.2 329.4h5.6m-2.8-2.8v5.6M356.0 318.3h5.6m-2.8-2.8v5.6M349.8 398.1h5.6m-2.8-2.8v5.6M346.5 311.9h5.6m-2.8-2.8v5.6M347.7 331.2h5.6m-2.8-2.8v5.6M341.9 307.8h5.6m-2.8-2.8v5.6M323.9 342.6h5.6m-2.8-2.8v5.6M352.6 314.4h5.6m-2.8-2.8v5.6M324.2 316.6h5.6m-2.8-2.8v5.6M368.7 311.0h5.6m-2.8-2.8v5.6M337.0 342.4h5.6m-2.8-2.8v5.6M330.4 281.9h5.6m-2.8-2.8v5.6M335.3 312.7h5.6m-2.8-2.8v5.6M373.6 288.5h5.6m-2.8-2.8v5.6M324.8 304.8h5.6m-2.8-2.8v5.6M345.8 336.9h5.6m-2.8-2.8v5.6M315.2 305.5h5.6m-2.8-2.8v5.6M333.8 361.3h5.6m-2.8-2.8v5.6M337.5 335.4h5.6m-2.8-2.8v5.6M381.7 361.8h5.6m-2.8-2.8v5.6M344.4 349.2h5.6m-2.8-2.8v5.6M338.2 310.5h5.6m-2.8-2.8v5.6"/><path fill="none" stroke="#d6739b" stroke-width="4" stroke-linecap="round" d="M398.4 273.2h0M406.2 271.4h0M412.9 345.1h0M427.0 339.2h0M402.1 326.1h0M421.4 304.7h0M392.6 322.5h0M385.6 310.3h0M392.7 342.5h0M419.4 358.8h0M392.3 308.8h0M390.6 308.2h0M439.2 286.6h0M416.5 276.5h0M403.5 340.6h0M424.6 280.9h0M383.9 301.7h0M421.9 319.0h0M417.8 338.0h0M414.4 314.9h0M392.4 299.0h0M390.7 332.0h0M378.9 250.8h0M398.8 318.3h0M372.2 344.9h0M379.2 299.1h0M405.7 328.0h0M394.5 324.6h0M387.3 306.1h0M390.3 277.4h0M403.0 329.9h0M410.2 252.5h0M404.5 366.1h0M402.6 287.5h0M382.2 326.9h0M427.5 289.0h0M380.8 315.9h0M386.1 360.1h0M421.2 329.3h0M390.7 332.0h0M391.6 273.0h0M390.9 386.5h0M384.0 289.2h0M365.6 329.4h0M406.0 63.8h0"/><path fill="#7b8c46" stroke="none" d="M384.5 404.4l2.8 4.9h-5.6zM441.2 347.4l2.8 4.9h-5.6zM400.7 387.6l2.8 4.9h-5.6zM425.6 328.9l2.8 4.9h-5.6zM433.7 387.4l2.8 4.9h-5.6zM397.0 350.4l2.8 4.9h-5.6zM430.4 390.0l2.8 4.9h-5.6zM385.5 351.9l2.8 4.9h-5.6zM406.3 391.1l2.8 4.9h-5.6zM407.3 392.1l2.8 4.9h-5.6zM411.4 385.0l2.8 4.9h-5.6zM418.8 404.0l2.8 4.9h-5.6zM453.7 353.5l2.8 4.9h-5.6zM411.9 378.7l2.8 4.9h-5.6zM426.4 339.4l2.8 4.9h-5.6zM436.0 345.7l2.8 4.9h-5.6zM409.0 368.9l2.8 4.9h-5.6zM428.0 361.8l2.8 4.9h-5.6zM404.2 379.9l2.8 4.9h-5.6zM408.5 368.9l2.8 4.9h-5.6zM408.8 408.5l2.8 4.9h-5.6zM374.4 395.4l2.8 4.9h-5.6zM421.9 375.9l2.8 4.9h-5.6zM372.4 367.5l2.8 4.9h-5.6zM412.6 380.6l2.8 4.9h-5.6zM425.6 361.1l2.8 4.9h-5.6zM414.3 351.0l2.8 4.9h-5.6zM387.0 354.5l2.8 4.9h-5.6zM435.9 342.5l2.8 4.9h-5.6zM421.0 392.2l2.8 4.9h-5.6zM371.4 374.7l2.8 4.9h-5.6zM411.4 345.8l2.8 4.9h-5.6zM424.0 379.6l2.8 4.9h-5.6zM434.0 365.7l2.8 4.9h-5.6zM431.7 375.2l2.8 4.9h-5.6zM454.5 355.4l2.8 4.9h-5.6zM399.6 357.8l2.8 4.9h-5.6zM400.3 351.5l2.8 4.9h-5.6zM441.1 355.1l2.8 4.9h-5.6zM405.8 366.9l2.8 4.9h-5.6zM429.3 369.2l2.8 4.9h-5.6zM399.3 368.3l2.8 4.9h-5.6zM412.3 377.3l2.8 4.9h-5.6zM433.1 369.5l2.8 4.9h-5.6zM438.9 353.3l2.8 4.9h-5.6zM451.2 338.2l2.8 4.9h-5.6zM366.2 401.0l2.8 4.9h-5.6zM436.8 351.8l2.8 4.9h-5.6zM457.4 358.8l2.8 4.9h-5.6zM408.5 346.7l2.8 4.9h-5.6zM411.8 399.2l2.8 4.9h-5.6zM503.0 380.0l2.8 4.9h-5.6z"/><path fill="none" stroke="#4bbdb5" stroke-width="3.8" d="M341.2 367.9h3.8M349.2 404.0h3.8M383.6 381.7h3.8M376.5 424.3h3.8M371.4 382.3h3.8M377.8 393.7h3.8M360.8 378.8h3.8M387.9 420.3h3.8M385.2 377.4h3.8M375.6 394.7h3.8M359.1 395.8h3.8M372.8 408.7h3.8M383.2 415.6h3.8M359.2 383.9h3.8M344.3 382.8h3.8M349.5 369.0h3.8M341.4 366.8h3.8M365.0 388.5h3.8M315.3 416.9h3.8M389.1 385.7h3.8M340.2 383.6h3.8M338.5 373.4h3.8M346.2 377.3h3.8M381.9 402.8h3.8M336.9 397.8h3.8M356.3 380.3h3.8M355.2 427.7h3.8M363.5 395.6h3.8M350.2 409.3h3.8M359.7 395.3h3.8M366.1 429.8h3.8M310.9 406.2h3.8M370.4 393.2h3.8M346.3 378.2h3.8M370.4 388.2h3.8M326.0 412.1h3.8M353.4 390.8h3.8M364.2 406.0h3.8M377.9 418.6h3.8M406.0 358.4h3.8M357.0 402.0h3.8M363.0 367.7h3.8M362.4 382.6h3.8M396.4 378.2h3.8M360.9 386.9h3.8M380.7 384.4h3.8M347.7 384.6h3.8M367.5 378.1h3.8M352.5 403.5h3.8M410.5 391.7h3.8M372.8 388.5h3.8M358.2 411.9h3.8M364.3 367.5h3.8M363.9 380.9h3.8M345.2 369.5h3.8"/><path fill="none" stroke="#9575cd" stroke-width="2.7" stroke-linecap="round" d="M327.6 314.4h5.6m-2.8-2.8v5.6M359.6 324.1h5.6m-2.8-2.8v5.6M344.2 311.7h5.6m-2.8-2.8v5.6M378.4 311.6h5.6m-2.8-2.8v5.6M343.5 332.9h5.6m-2.8-2.8v5.6M335.2 251.8h5.6m-2.8-2.8v5.6M351.3 256.1h5.6m-2.8-2.8v5.6M345.0 354.1h5.6m-2.8-2.8v5.6M332.6 266.6h5.6m-2.8-2.8v5.6M348.1 308.7h5.6m-2.8-2.8v5.6M382.4 316.8h5.6m-2.8-2.8v5.6M340.4 314.2h5.6m-2.8-2.8v5.6M363.9 318.6h5.6m-2.8-2.8v5.6M349.0 372.1h5.6m-2.8-2.8v5.6M377.0 298.2h5.6m-2.8-2.8v5.6M369.0 308.9h5.6m-2.8-2.8v5.6M354.2 310.8h5.6m-2.8-2.8v5.6M342.5 323.0h5.6m-2.8-2.8v5.6M361.6 263.8h5.6m-2.8-2.8v5.6M342.4 302.5h5.6m-2.8-2.8v5.6M326.3 349.6h5.6m-2.8-2.8v5.6M341.6 274.9h5.6m-2.8-2.8v5.6M326.9 264.3h5.6m-2.8-2.8v5.6M309.7 291.7h5.6m-2.8-2.8v5.6M328.5 367.0h5.6m-2.8-2.8v5.6M373.7 335.7h5.6m-2.8-2.8v5.6M349.8 319.8h5.6m-2.8-2.8v5.6M365.7 339.4h5.6m-2.8-2.8v5.6M332.2 332.7h5.6m-2.8-2.8v5.6M353.5 306.0h5.6m-2.8-2.8v5.6M347.5 357.2h5.6m-2.8-2.8v5.6M365.2 289.6h5.6m-2.8-2.8v5.6M341.6 389.0h5.6m-2.8-2.8v5.6M360.4 299.6h5.6m-2.8-2.8v5.6M355.5 335.0h5.6m-2.8-2.8v5.6M314.1 286.7h5.6m-2.8-2.8v5.6M345.1 335.2h5.6m-2.8-2.8v5.6M317.8 295.4h5.6m-2.8-2.8v5.6M365.5 293.6h5.6m-2.8-2.8v5.6M331.6 356.7h5.6m-2.8-2.8v5.6M374.7 318.8h5.6m-2.8-2.8v5.6"/><path fill="none" stroke="#d6739b" stroke-width="4" stroke-linecap="round" d="M382.0 334.3h0M368.4 334.7h0M394.8 328.1h0M409.0 300.3h0M420.5 361.0h0M396.8 326.0h0M413.1 281.9h0M423.7 327.8h0M418.1 222.5h0M419.2 276.6h0M368.6 287.4h0M394.5 302.7h0M368.9 310.9h0M399.1 336.3h0M379.7 280.9h0M394.8 297.9h0M407.4 309.7h0M368.9 351.5h0M422.8 195.7h0M375.0 311.7h0M392.5 309.4h0M397.0 309.4h0M413.1 325.1h0M403.5 308.5h0M423.3 308.0h0M393.2 319.6h0M408.7 316.9h0M361.9 278.9h0M436.0 302.9h0M393.2 323.9h0M438.2 342.7h0M389.0 312.8h0M380.1 302.5h0M414.7 316.4h0M410.9 272.1h0M376.2 260.1h0M405.7 314.0h0M384.0 332.9h0M402.9 322.0h0M423.4 350.1h0M387.6 350.9h0M363.4 325.6h0M394.5 286.0h0M383.1 307.7h0M392.0 136.0h0"/><path fill="#7b8c46" stroke="none" d="M420.8 369.8l2.8 4.9h-5.6zM407.5 391.2l2.8 4.9h-5.6zM391.2 396.3l2.8 4.9h-5.6zM393.4 344.9l2.8 4.9h-5.6zM475.0 327.6l2.8 4.9h-5.6zM387.9 378.3l2.8 4.9h-5.6zM395.5 379.1l2.8 4.9h-5.6zM395.2 364.9l2.8 4.9h-5.6zM401.5 321.9l2.8 4.9h-5.6zM418.9 351.1l2.8 4.9h-5.6zM387.5 400.7l2.8 4.9h-5.6zM438.3 348.1l2.8 4.9h-5.6zM403.1 383.5l2.8 4.9h-5.6zM510.5 340.8l2.8 4.9h-5.6zM433.0 367.3l2.8 4.9h-5.6zM434.4 367.9l2.8 4.9h-5.6zM406.1 362.2l2.8 4.9h-5.6zM434.7 333.0l2.8 4.9h-5.6zM415.5 406.6l2.8 4.9h-5.6zM402.8 368.8l2.8 4.9h-5.6zM415.2 351.9l2.8 4.9h-5.6zM414.6 394.1l2.8 4.9h-5.6zM382.4 380.9l2.8 4.9h-5.6zM434.6 363.5l2.8 4.9h-5.6zM447.9 361.0l2.8 4.9h-5.6zM461.4 342.4l2.8 4.9h-5.6zM435.4 340.9l2.8 4.9h-5.6zM409.3 385.4l2.8 4.9h-5.6zM418.9 366.0l2.8 4.9h-5.6zM415.1 393.5l2.8 4.9h-5.6zM407.8 390.0l2.8 4.9h-5.6zM423.2 359.2l2.8 4.9h-5.6zM393.2 376.3l2.8 4.9h-5.6zM408.5 387.6l2.8 4.9h-5.6zM476.2 343.1l2.8 4.9h-5.6zM383.8 346.4l2.8 4.9h-5.6zM389.7 349.5l2.8 4.9h-5.6zM400.9 336.8l2.8 4.9h-5.6zM424.9 356.6l2.8 4.9h-5.6zM431.6 367.8l2.8 4.9h-5.6zM407.3 384.7l2.8 4.9h-5.6zM399.0 353.8l2.8 4.9h-5.6zM395.8 371.3l2.8 4.9h-5.6zM436.8 360.2l2.8 4.9h-5.6zM404.8 372.8l2.8 4.9h-5.6zM419.2 371.2l2.8 4.9h-5.6zM397.5 394.9l2.8 4.9h-5.6zM405.2 334.3l2.8 4.9h-5.6zM422.5 397.1l2.8 4.9h-5.6zM385.5 352.1l2.8 4.9h-5.6zM412.7 358.8l2.8 4.9h-5.6zM478.0 398.5l2.8 4.9h-5.6z"/><path fill="none" stroke="#4bbdb5" stroke-width="3.8" d="M376.5 372.7h3.8M354.1 369.6h3.8M403.8 383.1h3.8M371.1 389.2h3.8M345.3 405.7h3.8M358.1 379.7h3.8M392.0 413.5h3.8M324.7 396.8h3.8M355.0 364.2h3.8M377.6 350.2h3.8M371.9 387.3h3.8M342.8 386.2h3.8M357.1 396.1h3.8M363.1 359.3h3.8M385.1 384.4h3.8M377.5 414.0h3.8M353.0 379.2h3.8M362.9 385.0h3.8M373.8 388.5h3.8M366.5 377.4h3.8M367.9 398.7h3.8M362.2 374.8h3.8M362.1 400.5h3.8M385.9 378.6h3.8M388.6 361.5h3.8M329.8 388.6h3.8M368.6 374.7h3.8M354.6 390.3h3.8M382.3 383.4h3.8M365.4 394.7h3.8M321.4 386.4h3.8M385.4 378.3h3.8M375.4 392.5h3.8M352.6 371.9h3.8M381.4 373.0h3.8M376.4 391.3h3.8M367.0 350.7h3.8M355.9 370.7h3.8M372.2 375.8h3.8M367.2 391.1h3.8M351.3 375.2h3.8M374.1 378.7h3.8M360.0 383.2h3.8M338.9 394.3h3.8M396.1 381.9h3.8M334.3 388.6h3.8M348.8 388.6h3.8M378.6 372.2h3.8M356.3 408.0h3.8M366.7 401.4h3.8M384.9 379.9h3.8M347.8 377.0h3.8M342.9 386.1h3.8M357.8 392.0h3.8M364.9 413.4h3.8"/><path fill="none" stroke="#9575cd" stroke-width="2.7" stroke-linecap="round" d="M350.9 306.6h5.6m-2.8-2.8v5.6M364.0 324.5h5.6m-2.8-2.8v5.6M363.3 331.3h5.6m-2.8-2.8v5.6M348.6 316.5h5.6m-2.8-2.8v5.6M349.9 312.9h5.6m-2.8-2.8v5.6M328.3 352.3h5.6m-2.8-2.8v5.6M315.9 325.1h5.6m-2.8-2.8v5.6M380.5 337.0h5.6m-2.8-2.8v5.6M351.3 333.1h5.6m-2.8-2.8v5.6M349.2 348.0h5.6m-2.8-2.8v5.6M323.1 332.2h5.6m-2.8-2.8v5.6M331.4 306.2h5.6m-2.8-2.8v5.6M340.6 355.3h5.6m-2.8-2.8v5.6M316.7 352.1h5.6m-2.8-2.8v5.6M321.7 295.2h5.6m-2.8-2.8v5.6M356.9 304.8h5.6m-2.8-2.8v5.6M350.1 326.1h5.6m-2.8-2.8v5.6M320.1 281.5h5.6m-2.8-2.8v5.6M354.0 303.7h5.6m-2.8-2.8v5.6M375.8 330.2h5.6m-2.8-2.8v5.6M335.5 265.9h5.6m-2.8-2.8v5.6M395.8 320.1h5.6m-2.8-2.8v5.6M358.2 283.7h5.6m-2.8-2.8v5.6M332.0 319.6h5.6m-2.8-2.8v5.6M340.5 300.3h5.6m-2.8-2.8v5.6M345.5 359.7h5.6m-2.8-2.8v5.6M330.9 332.2h5.6m-2.8-2.8v5.6M325.9 318.5h5.6m-2.8-2.8v5.6M378.3 272.4h5.6m-2.8-2.8v5.6M348.7 302.0h5.6m-2.8-2.8v5.6M337.7 346.5h5.6m-2.8-2.8v5.6M338.9 327.3h5.6m-2.8-2.8v5.6M374.8 328.2h5.6m-2.8-2.8v5.6M319.7 351.0h5.6m-2.8-2.8v5.6M315.1 360.0h5.6m-2.8-2.8v5.6M356.1 347.9h5.6m-2.8-2.8v5.6M353.3 272.0h5.6m-2.8-2.8v5.6M378.0 332.9h5.6m-2.8-2.8v5.6M332.0 355.0h5.6m-2.8-2.8v5.6M371.2 308.6h5.6m-2.8-2.8v5.6M356.8 326.1h5.6m-2.8-2.8v5.6"/><path fill="none" stroke="#d6739b" stroke-width="4" stroke-linecap="round" d="M411.6 357.4h0M414.9 328.1h0M420.6 329.2h0M421.7 345.3h0M369.4 344.1h0M418.7 325.0h0M410.8 358.7h0M382.5 300.8h0M398.1 295.1h0M393.6 328.9h0M362.8 317.5h0M394.9 307.6h0M418.6 341.5h0M389.4 345.2h0M387.7 373.0h0M405.5 307.7h0M415.2 326.4h0M409.6 315.7h0M425.2 317.9h0M399.9 299.5h0M421.0 333.0h0M428.0 311.9h0M402.6 310.3h0M397.2 275.8h0M406.1 348.3h0M389.6 311.7h0M418.2 304.5h0M424.5 326.2h0M377.6 360.1h0M419.8 338.5h0M359.7 248.6h0M383.9 339.7h0M379.6 353.0h0M409.4 287.6h0M417.7 309.1h0M395.7 292.1h0M420.3 311.9h0M427.8 308.6h0M388.8 281.1h0M443.3 309.5h0M408.1 313.1h0M408.7 324.5h0M379.0 307.5h0M421.2 271.0h0M315.8 170.8h0"/><path fill="#7b8c46" stroke="none" d="M398.9 356.9l2.8 4.9h-5.6zM413.1 345.5l2.8 4.9h-5.6zM408.8 373.2l2.8 4.9h-5.6zM419.8 356.6l2.8 4.9h-5.6zM431.2 366.7l2.8 4.9h-5.6zM419.1 390.1l2.8 4.9h-5.6zM404.7 370.2l2.8 4.9h-5.6zM396.3 369.2l2.8 4.9h-5.6zM395.0 405.3l2.8 4.9h-5.6zM402.1 351.3l2.8 4.9h-5.6zM402.6 378.4l2.8 4.9h-5.6zM435.8 354.3l2.8 4.9h-5.6zM427.2 390.0l2.8 4.9h-5.6zM398.3 326.8l2.8 4.9h-5.6zM425.5 368.3l2.8 4.9h-5.6zM400.5 357.9l2.8 4.9h-5.6zM377.1 362.5l2.8 4.9h-5.6zM415.8 334.1l2.8 4.9h-5.6zM413.7 358.2l2.8 4.9h-5.6zM406.5 352.7l2.8 4.9h-5.6zM399.7 386.1l2.8 4.9h-5.6zM386.5 347.7l2.8 4.9h-5.6zM424.4 370.1l2.8 4.9h-5.6zM371.3 342.6l2.8 4.9h-5.6zM406.9 350.0l2.8 4.9h-5.6zM406.9 356.0l2.8 4.9h-5.6zM407.2 356.8l2.8 4.9h-5.6zM404.7 396.6l2.8 4.9h-5.6zM428.6 366.5l2.8 4.9h-5.6zM428.7 356.6l2.8 4.9h-5.6zM406.6 395.1l2.8 4.9h-5.6zM400.9 320.1l2.8 4.9h-5.6zM416.3 361.2l2.8 4.9h-5.6zM419.3 380.7l2.8 4.9h-5.6zM401.1 403.8l2.8 4.9h-5.6zM439.3 358.9l2.8 4.9h-5.6zM393.2 393.6l2.8 4.9h-5.6zM408.5 386.4l2.8 4.9h-5.6zM424.7 358.9l2.8 4.9h-5.6zM371.9 388.1l2.8 4.9h-5.6zM421.2 386.1l2.8 4.9h-5.6zM437.8 400.4l2.8 4.9h-5.6zM419.1 399.4l2.8 4.9h-5.6zM411.5 352.3l2.8 4.9h-5.6zM389.4 388.3l2.8 4.9h-5.6zM438.8 358.8l2.8 4.9h-5.6zM434.2 361.8l2.8 4.9h-5.6zM437.4 386.0l2.8 4.9h-5.6zM387.2 344.5l2.8 4.9h-5.6zM369.2 367.2l2.8 4.9h-5.6zM459.5 357.7l2.8 4.9h-5.6z"/><path fill="none" stroke="#4bbdb5" stroke-width="3.8" d="M354.9 402.8h3.8M355.5 388.7h3.8M368.1 370.5h3.8M364.1 391.9h3.8M402.1 369.3h3.8M377.2 371.4h3.8M368.9 428.2h3.8M348.0 405.6h3.8M353.8 376.8h3.8M374.0 384.1h3.8M371.1 370.3h3.8M393.0 384.2h3.8M334.4 375.9h3.8M343.6 410.2h3.8M359.6 381.4h3.8M358.3 388.8h3.8M388.8 355.0h3.8M376.9 399.6h3.8M387.7 388.6h3.8M371.0 363.2h3.8M329.1 377.3h3.8M365.5 386.5h3.8M357.9 389.7h3.8M369.9 412.9h3.8M350.4 367.5h3.8M372.4 395.1h3.8M384.7 388.6h3.8M358.5 405.2h3.8M358.2 378.7h3.8M352.4 375.8h3.8M369.6 393.0h3.8M368.1 401.9h3.8M358.9 416.7h3.8M380.7 386.3h3.8M381.8 380.3h3.8M361.0 391.7h3.8M358.5 383.0h3.8M354.5 394.3h3.8M357.1 372.9h3.8M374.4 380.4h3.8M375.6 431.6h3.8M371.0 374.8h3.8M358.3 381.5h3.8M351.6 379.1h3.8M347.4 389.6h3.8M357.9 425.8h3.8M353.2 375.6h3.8M348.7 379.8h3.8M366.7 387.8h3.8M349.0 392.7h3.8M362.2 381.7h3.8M364.9 366.6h3.8M373.2 397.5h3.8M362.3 375.6h3.8M369.0 373.9h3.8"/><path fill="none" stroke="#9575cd" stroke-width="2.7" stroke-linecap="round" d="M322.8 306.7h5.6m-2.8-2.8v5.6M365.1 340.1h5.6m-2.8-2.8v5.6M375.4 293.8h5.6m-2.8-2.8v5.6M359.2 303.5h5.6m-2.8-2.8v5.6M335.1 313.8h5.6m-2.8-2.8v5.6M354.6 372.0h5.6m-2.8-2.8v5.6M374.6 294.7h5.6m-2.8-2.8v5.6M341.5 309.9h5.6m-2.8-2.8v5.6M355.4 317.8h5.6m-2.8-2.8v5.6M355.1 292.0h5.6m-2.8-2.8v5.6M359.2 293.1h5.6m-2.8-2.8v5.6M333.4 378.2h5.6m-2.8-2.8v5.6M350.3 279.2h5.6m-2.8-2.8v5.6M361.1 320.3h5.6m-2.8-2.8v5.6M353.0 296.1h5.6m-2.8-2.8v5.6M354.9 339.9h5.6m-2.8-2.8v5.6M348.8 331.5h5.6m-2.8-2.8v5.6M343.7 313.0h5.6m-2.8-2.8v5.6M358.5 330.4h5.6m-2.8-2.8v5.6M357.5 302.6h5.6m-2.8-2.8v5.6M354.8 300.0h5.6m-2.8-2.8v5.6M348.0 354.6h5.6m-2.8-2.8v5.6M339.1 358.6h5.6m-2.8-2.8v5.6M360.6 342.8h5.6m-2.8-2.8v5.6M329.4 315.1h5.6m-2.8-2.8v5.6M314.4 315.6h5.6m-2.8-2.8v5.6M367.1 330.7h5.6m-2.8-2.8v5.6M337.4 336.7h5.6m-2.8-2.8v5.6M360.4 291.3h5.6m-2.8-2.8v5.6M352.8 329.6h5.6m-2.8-2.8v5.6M325.2 309.5h5.6m-2.8-2.8v5.6M350.7 334.7h5.6m-2.8-2.8v5.6M337.5 299.4h5.6m-2.8-2.8v5.6M350.8 284.7h5.6m-2.8-2.8v5.6M328.1 349.2h5.6m-2.8-2.8v5.6M345.7 337.3h5.6m-2.8-2.8v5.6M361.2 348.6h5.6m-2.8-2.8v5.6M372.5 308.7h5.6m-2.8-2.8v5.6M406.6 318.7h5.6m-2.8-2.8v5.6M345.1 339.8h5.6m-2.8-2.8v5.6M362.8 336.8h5.6m-2.8-2.8v5.6"/><path fill="none" stroke="#d6739b" stroke-width="4" stroke-linecap="round" d="M403.6 336.9h0M401.0 332.6h0M389.3 334.4h0M416.0 322.5h0M430.2 252.1h0M422.2 293.7h0M419.1 343.5h0M392.7 325.8h0M388.8 283.8h0M395.6 290.0h0M383.2 293.3h0M376.2 274.5h0M388.2 297.8h0M392.9 341.0h0M398.8 327.3h0M397.2 332.7h0M402.4 260.8h0M411.5 307.8h0M416.3 326.6h0M408.8 255.3h0M410.6 342.5h0M393.7 347.9h0M406.7 310.5h0M390.6 341.4h0M411.9 324.6h0M369.2 306.6h0M411.9 354.1h0M389.5 360.2h0M416.7 375.1h0M419.7 361.0h0M389.6 343.6h0M412.8 317.7h0M399.3 329.7h0M377.1 321.1h0M404.0 300.2h0M391.2 301.3h0M427.3 333.0h0M407.9 237.4h0M402.2 301.1h0M395.0 310.6h0M412.8 286.0h0M450.9 300.3h0M414.5 317.8h0M422.3 324.1h0M411.7 204.5h0"/><path fill="#7b8c46" stroke="none" d="M441.7 331.5l2.8 4.9h-5.6zM372.3 374.3l2.8 4.9h-5.6zM437.0 371.2l2.8 4.9h-5.6zM379.7 356.2l2.8 4.9h-5.6zM372.8 359.5l2.8 4.9h-5.6zM410.1 350.4l2.8 4.9h-5.6zM408.8 361.5l2.8 4.9h-5.6zM411.1 362.1l2.8 4.9h-5.6zM422.2 362.1l2.8 4.9h-5.6zM443.2 339.9l2.8 4.9h-5.6zM446.6 360.0l2.8 4.9h-5.6zM400.0 369.0l2.8 4.9h-5.6zM441.5 384.1l2.8 4.9h-5.6zM426.9 370.1l2.8 4.9h-5.6zM427.6 402.1l2.8 4.9h-5.6zM391.2 377.3l2.8 4.9h-5.6zM373.2 365.7l2.8 4.9h-5.6zM436.4 351.0l2.8 4.9h-5.6zM425.1 379.5l2.8 4.9h-5.6zM373.5 312.6l2.8 4.9h-5.6zM413.3 399.0l2.8 4.9h-5.6zM431.8 346.8l2.8 4.9h-5.6zM357.0 362.0l2.8 4.9h-5.6zM414.4 336.4l2.8 4.9h-5.6zM427.4 356.3l2.8 4.9h-5.6zM401.4 392.9l2.8 4.9h-5.6zM408.6 354.8l2.8 4.9h-5.6zM441.9 347.3l2.8 4.9h-5.6zM392.3 400.2l2.8 4.9h-5.6zM433.1 341.6l2.8 4.9h-5.6zM410.9 376.1l2.8 4.9h-5.6zM398.7 368.7l2.8 4.9h-5.6zM414.8 352.5l2.8 4.9h-5.6zM393.6 404.9l2.8 4.9h-5.6zM425.4 385.8l2.8 4.9h-5.6zM408.2 381.1l2.8 4.9h-5.6zM415.7 374.5l2.8 4.9h-5.6zM461.0 347.1l2.8 4.9h-5.6zM494.2 319.8l2.8 4.9h-5.6zM442.0 352.9l2.8 4.9h-5.6zM401.0 380.2l2.8 4.9h-5.6zM422.1 367.6l2.8 4.9h-5.6zM401.1 405.9l2.8 4.9h-5.6zM402.2 386.7l2.8 4.9h-5.6zM436.6 369.5l2.8 4.9h-5.6zM414.1 336.5l2.8 4.9h-5.6zM447.3 368.4l2.8 4.9h-5.6zM402.1 393.3l2.8 4.9h-5.6zM433.1 416.0l2.8 4.9h-5.6zM412.3 372.7l2.8 4.9h-5.6zM420.1 360.8l2.8 4.9h-5.6z"/><path fill="none" stroke="#4bbdb5" stroke-width="3.8" d="M353.4 404.6h3.8M393.7 419.2h3.8M343.9 383.5h3.8M357.4 361.5h3.8M387.9 353.9h3.8M362.5 409.7h3.8M348.8 397.2h3.8M335.8 400.9h3.8M332.8 399.8h3.8M348.6 380.2h3.8M373.1 393.5h3.8M366.5 383.1h3.8M388.2 396.4h3.8M384.8 377.1h3.8M370.6 421.4h3.8M347.5 381.8h3.8M378.6 341.7h3.8M371.7 412.3h3.8M354.5 386.3h3.8M363.8 423.8h3.8M371.7 379.5h3.8M368.6 389.2h3.8M364.3 376.8h3.8M371.7 392.0h3.8M346.2 372.2h3.8M339.6 412.6h3.8M354.7 372.5h3.8M375.9 362.3h3.8M349.1 400.3h3.8M348.6 403.5h3.8M347.0 397.2h3.8M367.5 389.2h3.8M341.1 373.3h3.8M324.2 413.7h3.8M381.1 397.9h3.8M368.1 365.5h3.8M367.2 387.1h3.8M344.5 406.5h3.8M360.0 390.9h3.8M353.3 340.9h3.8M373.8 384.7h3.8M391.0 373.8h3.8M348.5 374.2h3.8M362.7 386.2h3.8M372.6 398.1h3.8M359.1 417.7h3.8M373.1 403.7h3.8M376.1 382.6h3.8M387.4 400.0h3.8M366.1 376.1h3.8M375.7 383.5h3.8M360.2 379.8h3.8M384.3 420.3h3.8M367.6 365.7h3.8M355.2 369.1h3.8"/><path fill="none" stroke="#9575cd" stroke-width="2.7" stroke-linecap="round" d="M362.5 339.6h5.6m-2.8-2.8v5.6M357.7 293.9h5.6m-2.8-2.8v5.6M373.2 301.5h5.6m-2.8-2.8v5.6M335.6 317.6h5.6m-2.8-2.8v5.6M352.7 265.9h5.6m-2.8-2.8v5.6M349.3 328.3h5.6m-2.8-2.8v5.6M316.4 246.3h5.6m-2.8-2.8v5.6M385.8 241.2h5.6m-2.8-2.8v5.6M358.2 309.2h5.6m-2.8-2.8v5.6M341.2 312.2h5.6m-2.8-2.8v5.6M373.5 299.6h5.6m-2.8-2.8v5.6M353.9 344.2h5.6m-2.8-2.8v5.6M335.0 363.2h5.6m-2.8-2.8v5.6M362.8 305.8h5.6m-2.8-2.8v5.6M354.5 317.2h5.6m-2.8-2.8v5.6M349.9 332.2h5.6m-2.8-2.8v5.6M366.7 359.2h5.6m-2.8-2.8v5.6M335.4 352.9h5.6m-2.8-2.8v5.6M307.2 333.3h5.6m-2.8-2.8v5.6M350.3 303.2h5.6m-2.8-2.8v5.6M325.0 363.6h5.6m-2.8-2.8v5.6M346.4 308.4h5.6m-2.8-2.8v5.6M349.3 291.6h5.6m-2.8-2.8v5.6M326.8 300.1h5.6m-2.8-2.8v5.6M332.3 368.2h5.6m-2.8-2.8v5.6M336.9 312.8h5.6m-2.8-2.8v5.6M348.7 383.6h5.6m-2.8-2.8v5.6M328.5 325.4h5.6m-2.8-2.8v5.6M334.8 270.0h5.6m-2.8-2.8v5.6M372.4 312.0h5.6m-2.8-2.8v5.6M338.7 307.6h5.6m-2.8-2.8v5.6M367.6 300.7h5.6m-2.8-2.8v5.6M362.6 287.2h5.6m-2.8-2.8v5.6M352.3 305.4h5.6m-2.8-2.8v5.6M340.6 290.4h5.6m-2.8-2.8v5.6M305.3 307.1h5.6m-2.8-2.8v5.6M353.0 280.5h5.6m-2.8-2.8v5.6M367.0 326.1h5.6m-2.8-2.8v5.6M344.2 317.4h5.6m-2.8-2.8v5.6M354.1 297.9h5.6m-2.8-2.8v5.6M337.4 338.2h5.6m-2.8-2.8v5.6"/><path fill="none" stroke="#d6739b" stroke-width="4" stroke-linecap="round" d="M402.6 272.3h0M393.6 329.1h0M404.6 321.1h0M414.9 286.5h0M398.8 295.0h0M382.1 289.6h0M415.3 309.9h0M396.2 283.1h0M395.7 327.0h0M412.1 280.5h0M400.3 291.2h0M359.1 343.7h0M388.5 314.4h0M400.5 311.6h0M426.2 282.4h0M405.8 382.8h0M426.4 326.4h0M401.9 318.3h0M399.2 328.6h0M386.7 317.5h0M366.7 363.5h0M387.0 294.1h0M407.0 253.4h0M394.5 319.4h0M378.4 306.5h0M407.8 261.4h0M408.8 314.4h0M420.0 282.8h0M429.9 280.4h0M428.5 316.1h0M374.6 304.2h0M384.3 335.3h0M399.8 332.3h0M405.1 300.0h0M413.9 316.0h0M413.4 325.3h0M427.3 286.4h0M393.1 269.5h0M402.0 292.3h0M414.3 306.1h0M416.4 339.1h0M406.9 342.6h0M401.3 320.0h0M441.7 345.3h0M487.8 216.7h0"/><path fill="#7b8c46" stroke="none" d="M416.4 383.7l2.8 4.9h-5.6zM420.0 384.0l2.8 4.9h-5.6zM396.8 404.6l2.8 4.9h-5.6zM422.8 390.5l2.8 4.9h-5.6zM419.3 363.9l2.8 4.9h-5.6zM402.9 370.3l2.8 4.9h-5.6zM425.4 360.9l2.8 4.9h-5.6zM380.6 374.4l2.8 4.9h-5.6zM430.4 383.4l2.8 4.9h-5.6zM407.9 376.2l2.8 4.9h-5.6zM416.1 364.1l2.8 4.9h-5.6zM435.0 345.1l2.8 4.9h-5.6zM415.0 368.6l2.8 4.9h-5.6zM399.0 379.0l2.8 4.9h-5.6zM425.0 360.3l2.8 4.9h-5.6zM409.9 361.6l2.8 4.9h-5.6zM385.9 366.5l2.8 4.9h-5.6zM424.1 359.6l2.8 4.9h-5.6zM400.5 355.3l2.8 4.9h-5.6zM401.6 354.7l2.8 4.9h-5.6zM394.8 344.6l2.8 4.9h-5.6zM413.4 374.2l2.8 4.9h-5.6zM409.1 359.4l2.8 4.9h-5.6zM408.2 381.2l2.8 4.9h-5.6zM448.7 377.5l2.8 4.9h-5.6zM429.8 360.6l2.8 4.9h-5.6zM402.0 354.0l2.8 4.9h-5.6zM401.4 371.0l2.8 4.9h-5.6zM428.0 351.4l2.8 4.9h-5.6zM412.5 337.7l2.8 4.9h-5.6zM421.4 339.1l2.8 4.9h-5.6zM414.7 340.8l2.8 4.9h-5.6zM415.4 345.0l2.8 4.9h-5.6zM393.7 371.7l2.8 4.9h-5.6zM403.9 377.4l2.8 4.9h-5.6zM404.0 399.2l2.8 4.9h-5.6zM388.7 394.6l2.8 4.9h-5.6zM441.2 333.0l2.8 4.9h-5.6zM452.0 363.5l2.8 4.9h-5.6zM406.9 325.3l2.8 4.9h-5.6zM410.7 357.7l2.8 4.9h-5.6zM405.7 355.1l2.8 4.9h-5.6zM410.6 377.0l2.8 4.9h-5.6zM414.0 346.1l2.8 4.9h-5.6zM411.0 333.0l2.8 4.9h-5.6zM418.6 352.8l2.8 4.9h-5.6zM449.6 333.4l2.8 4.9h-5.6zM428.9 373.0l2.8 4.9h-5.6zM411.7 382.2l2.8 4.9h-5.6zM389.1 359.0l2.8 4.9h-5.6zM479.2 340.6l2.8 4.9h-5.6z"/><path fill="none" stroke="#4bbdb5" stroke-width="3.8" d="M352.3 371.7h3.8M347.9 387.5h3.8M350.6 403.0h3.8M365.9 368.8h3.8M350.7 452.6h3.8M385.9 381.0h3.8M313.9 393.1h3.8M327.1 387.9h3.8M389.8 385.9h3.8M375.0 411.0h3.8M349.8 360.4h3.8M366.5 430.0h3.8M353.4 371.3h3.8M362.3 429.1h3.8M369.9 395.5h3.8M367.3 419.8h3.8M346.1 406.0h3.8M375.5 373.7h3.8M373.5 366.1h3.8M352.1 379.6h3.8M353.0 361.3h3.8M341.4 377.1h3.8M357.5 371.6h3.8M394.7 420.8h3.8M370.5 365.3h3.8M374.4 409.4h3.8M346.0 409.9h3.8M389.0 365.2h3.8M379.3 395.6h3.8M354.2 422.8h3.8M376.2 420.6h3.8M362.3 341.0h3.8M391.1 409.7h3.8M387.7 389.8h3.8M371.5 391.8h3.8M337.6 374.7h3.8M358.4 350.7h3.8M375.3 366.1h3.8M361.6 369.1h3.8M389.9 404.6h3.8M350.5 413.6h3.8M349.8 409.4h3.8M370.4 382.6h3.8M383.6 379.0h3.8M355.7 378.1h3.8M353.2 387.2h3.8M344.9 403.9h3.8M380.9 404.7h3.8M379.8 408.3h3.8M319.2 382.7h3.8M388.8 377.5h3.8M335.5 380.9h3.8M354.7 371.1h3.8M355.9 395.4h3.8M353.0 380.7h3.8"/><path fill="none" stroke="#9575cd" stroke-width="2.7" stroke-linecap="round" d="M346.7 375.0h5.6m-2.8-2.8v5.6M354.6 325.3h5.6m-2.8-2.8v5.6M331.7 274.2h5.6m-2.8-2.8v5.6M359.7 327.9h5.6m-2.8-2.8v5.6M348.7 337.7h5.6m-2.8-2.8v5.6M349.6 336.9h5.6m-2.8-2.8v5.6M356.9 304.6h5.6m-2.8-2.8v5.6M352.5 290.4h5.6m-2.8-2.8v5.6M362.2 350.0h5.6m-2.8-2.8v5.6M325.6 403.2h5.6m-2.8-2.8v5.6M371.3 339.6h5.6m-2.8-2.8v5.6M350.3 320.7h5.6m-2.8-2.8v5.6M342.8 298.6h5.6m-2.8-2.8v5.6M345.9 305.3h5.6m-2.8-2.8v5.6M324.6 325.2h5.6m-2.8-2.8v5.6M365.7 273.4h5.6m-2.8-2.8v5.6M348.8 321.0h5.6m-2.8-2.8v5.6M337.0 351.3h5.6m-2.8-2.8v5.6M353.6 280.1h5.6m-2.8-2.8v5.6M336.5 301.9h5.6m-2.8-2.8v5.6M343.8 275.0h5.6m-2.8-2.8v5.6M357.8 318.2h5.6m-2.8-2.8v5.6M368.5 303.4h5.6m-2.8-2.8v5.6M381.0 333.7h5.6m-2.8-2.8v5.6M358.4 319.9h5.6m-2.8-2.8v5.6M336.8 339.4h5.6m-2.8-2.8v5.6M334.9 295.8h5.6m-2.8-2.8v5.6M369.0 265.4h5.6m-2.8-2.8v5.6M343.3 306.1h5.6m-2.8-2.8v5.6M321.2 296.5h5.6m-2.8-2.8v5.6M351.8 315.9h5.6m-2.8-2.8v5.6M338.7 301.3h5.6m-2.8-2.8v5.6M330.4 309.6h5.6m-2.8-2.8v5.6M302.2 331.8h5.6m-2.8-2.8v5.6M353.8 314.0h5.6m-2.8-2.8v5.6M383.2 312.8h5.6m-2.8-2.8v5.6M308.1 281.2h5.6m-2.8-2.8v5.6M380.8 296.6h5.6m-2.8-2.8v5.6M357.4 311.2h5.6m-2.8-2.8v5.6M324.8 336.3h5.6m-2.8-2.8v5.6M337.2 365.5h5.6m-2.8-2.8v5.6"/><path fill="none" stroke="#d6739b" stroke-width="4" stroke-linecap="round" d="M395.9 306.7h0M378.1 337.1h0M381.0 317.9h0M377.5 317.1h0M427.0 285.5h0M381.9 338.7h0M397.0 299.6h0M428.2 307.6h0M410.9 333.9h0M395.5 296.9h0M394.2 307.6h0M390.3 277.2h0M394.5 336.3h0M401.0 379.3h0M400.3 266.5h0M342.1 310.3h0M405.9 310.3h0M367.9 334.3h0M407.7 284.5h0M387.5 307.5h0M410.8 319.3h0M411.4 329.4h0M384.8 302.9h0M371.4 303.9h0M418.3 268.9h0M440.6 341.7h0M430.1 325.1h0M390.7 339.4h0M399.6 317.8h0M412.2 327.1h0M387.6 303.0h0M417.8 359.2h0M421.5 341.3h0M379.6 282.9h0M407.2 364.7h0M402.4 326.1h0M394.3 354.2h0M392.4 327.3h0M420.1 304.2h0M346.4 304.7h0M378.0 308.6h0M383.5 248.1h0M388.8 336.9h0M435.1 247.6h0M478.4 243.0h0"/><path fill="#7b8c46" stroke="none" d="M398.2 401.4l2.8 4.9h-5.6zM391.6 367.1l2.8 4.9h-5.6zM426.7 367.3l2.8 4.9h-5.6zM389.5 363.5l2.8 4.9h-5.6zM411.6 371.5l2.8 4.9h-5.6zM395.3 361.4l2.8 4.9h-5.6zM421.1 369.2l2.8 4.9h-5.6zM434.3 387.6l2.8 4.9h-5.6zM398.2 334.1l2.8 4.9h-5.6zM399.2 373.6l2.8 4.9h-5.6zM400.6 382.8l2.8 4.9h-5.6zM464.4 387.2l2.8 4.9h-5.6zM386.8 363.3l2.8 4.9h-5.6zM376.3 354.4l2.8 4.9h-5.6zM441.6 348.9l2.8 4.9h-5.6zM431.0 375.6l2.8 4.9h-5.6zM436.0 371.2l2.8 4.9h-5.6zM434.2 353.2l2.8 4.9h-5.6zM363.0 386.7l2.8 4.9h-5.6zM372.9 366.5l2.8 4.9h-5.6zM404.2 346.9l2.8 4.9h-5.6zM398.6 368.5l2.8 4.9h-5.6zM391.7 371.5l2.8 4.9h-5.6zM400.1 375.6l2.8 4.9h-5.6zM413.0 365.0l2.8 4.9h-5.6zM415.0 364.4l2.8 4.9h-5.6zM449.9 342.9l2.8 4.9h-5.6zM429.3 339.2l2.8 4.9h-5.6zM421.5 381.1l2.8 4.9h-5.6zM374.5 344.7l2.8 4.9h-5.6zM393.9 390.7l2.8 4.9h-5.6zM370.7 349.4l2.8 4.9h-5.6zM417.6 388.5l2.8 4.9h-5.6zM396.2 388.6l2.8 4.9h-5.6zM403.2 394.1l2.8 4.9h-5.6zM419.6 383.8l2.8 4.9h-5.6zM429.2 401.7l2.8 4.9h-5.6zM419.9 339.0l2.8 4.9h-5.6zM434.3 383.2l2.8 4.9h-5.6zM409.2 389.9l2.8 4.9h-5.6zM448.2 343.7l2.8 4.9h-5.6zM388.5 349.5l2.8 4.9h-5.6zM406.6 386.8l2.8 4.9h-5.6zM430.1 371.8l2.8 4.9h-5.6zM431.0 345.7l2.8 4.9h-5.6zM420.4 380.1l2.8 4.9h-5.6zM414.7 350.8l2.8 4.9h-5.6zM385.5 395.0l2.8 4.9h-5.6zM424.6 350.6l2.8 4.9h-5.6zM392.2 380.7l2.8 4.9h-5.6zM423.9 392.5l2.8 4.9h-5.6z"/><path fill="none" stroke="#4bbdb5" stroke-width="3.8" d="M358.3 396.9h3.8M354.7 387.2h3.8M353.4 405.5h3.8M362.7 416.7h3.8M377.4 381.2h3.8M355.1 410.3h3.8M389.0 423.5h3.8M375.7 411.6h3.8M369.1 376.4h3.8M363.0 405.2h3.8M373.5 421.3h3.8M369.1 365.5h3.8M336.4 398.3h3.8M362.6 378.4h3.8M362.1 434.7h3.8M367.4 415.8h3.8M332.8 394.8h3.8M366.7 383.7h3.8M349.2 403.9h3.8M374.4 389.2h3.8M363.2 366.8h3.8M358.9 394.9h3.8M365.9 347.6h3.8M394.4 387.0h3.8M363.8 373.9h3.8M364.8 366.1h3.8M365.5 388.6h3.8M355.2 385.5h3.8M370.1 363.9h3.8M365.5 385.1h3.8M380.0 420.6h3.8M349.1 439.8h3.8M365.8 399.8h3.8M359.7 352.2h3.8M387.4 386.9h3.8M353.4 434.9h3.8M371.1 407.0h3.8M353.4 408.4h3.8M378.4 372.5h3.8M386.3 399.8h3.8M359.5 395.6h3.8M389.7 405.2h3.8M384.6 377.1h3.8M385.1 380.3h3.8M356.0 392.0h3.8M387.3 407.8h3.8M353.2 394.2h3.8M379.0 354.2h3.8M394.5 365.7h3.8M364.4 356.5h3.8M363.9 356.4h3.8M368.2 379.9h3.8M374.1 346.0h3.8M361.9 385.4h3.8M366.7 74.4h3.8"/><path fill="none" stroke="#9575cd" stroke-width="2.7" stroke-linecap="round" d="M337.9 308.9h5.6m-2.8-2.8v5.6M356.1 320.4h5.6m-2.8-2.8v5.6M337.5 342.3h5.6m-2.8-2.8v5.6M351.7 359.7h5.6m-2.8-2.8v5.6M364.3 335.3h5.6m-2.8-2.8v5.6M356.3 346.9h5.6m-2.8-2.8v5.6M341.1 367.1h5.6m-2.8-2.8v5.6M364.4 301.7h5.6m-2.8-2.8v5.6M336.4 335.8h5.6m-2.8-2.8v5.6M333.7 326.2h5.6m-2.8-2.8v5.6M356.1 302.2h5.6m-2.8-2.8v5.6M315.5 309.0h5.6m-2.8-2.8v5.6M323.3 324.7h5.6m-2.8-2.8v5.6M331.3 353.0h5.6m-2.8-2.8v5.6M351.5 327.9h5.6m-2.8-2.8v5.6M336.0 324.4h5.6m-2.8-2.8v5.6M336.2 337.4h5.6m-2.8-2.8v5.6M336.4 316.7h5.6m-2.8-2.8v5.6M359.7 302.0h5.6m-2.8-2.8v5.6M350.7 330.7h5.6m-2.8-2.8v5.6M352.7 316.8h5.6m-2.8-2.8v5.6M367.0 376.1h5.6m-2.8-2.8v5.6M335.8 276.8h5.6m-2.8-2.8v5.6M328.7 308.5h5.6m-2.8-2.8v5.6M351.8 345.4h5.6m-2.8-2.8v5.6M354.2 320.2h5.6m-2.8-2.8v5.6M301.9 342.3h5.6m-2.8-2.8v5.6M355.9 300.1h5.6m-2.8-2.8v5.6M376.5 353.2h5.6m-2.8-2.8v5.6M330.7 368.3h5.6m-2.8-2.8v5.6M382.2 336.8h5.6m-2.8-2.8v5.6M334.7 304.3h5.6m-2.8-2.8v5.6M364.1 267.0h5.6m-2.8-2.8v5.6M326.3 262.9h5.6m-2.8-2.8v5.6M359.1 280.4h5.6m-2.8-2.8v5.6M338.7 270.5h5.6m-2.8-2.8v5.6M343.4 392.2h5.6m-2.8-2.8v5.6M332.2 372.8h5.6m-2.8-2.8v5.6M337.9 304.8h5.6m-2.8-2.8v5.6M335.3 382.6h5.6m-2.8-2.8v5.6M331.6 320.0h5.6m-2.8-2.8v5.6"/><path fill="none" stroke="#d6739b" stroke-width="4" stroke-linecap="round" d="M394.0 336.2h0M386.4 341.4h0M415.3 244.6h0M382.0 348.4h0M393.7 292.5h0M360.5 292.1h0M423.7 331.1h0M376.6 303.6h0M393.6 334.3h0M387.1 324.7h0M381.6 292.3h0M378.3 366.2h0M395.4 266.8h0M418.8 277.5h0M411.9 334.5h0M380.4 297.6h0M404.1 297.6h0M401.8 365.8h0M433.6 324.4h0M380.2 316.1h0M418.8 309.2h0M388.5 321.7h0M439.3 336.0h0M390.6 330.6h0M408.0 333.4h0M384.8 343.8h0M383.7 341.5h0M425.1 306.3h0M391.2 317.3h0M395.9 291.1h0M368.8 317.1h0M394.9 371.0h0M391.8 322.8h0M381.4 370.2h0M406.4 314.5h0M417.2 293.8h0M426.1 390.6h0M406.7 329.2h0M392.2 326.5h0M413.6 326.0h0M400.1 320.7h0M392.4 295.0h0M388.3 292.8h0M399.2 265.2h0M532.5 257.8h0"/><path fill="#7b8c46" stroke="none" d="M442.9 357.9l2.8 4.9h-5.6zM412.4 385.6l2.8 4.9h-5.6zM434.8 344.0l2.8 4.9h-5.6zM428.3 346.3l2.8 4.9h-5.6zM401.9 368.6l2.8 4.9h-5.6zM437.0 375.5l2.8 4.9h-5.6zM422.6 346.9l2.8 4.9h-5.6zM375.9 354.8l2.8 4.9h-5.6zM427.7 352.3l2.8 4.9h-5.6zM395.9 334.6l2.8 4.9h-5.6zM414.9 390.3l2.8 4.9h-5.6zM405.4 361.9l2.8 4.9h-5.6zM388.5 348.2l2.8 4.9h-5.6zM402.5 402.7l2.8 4.9h-5.6zM416.3 368.2l2.8 4.9h-5.6zM423.4 394.2l2.8 4.9h-5.6zM358.9 380.1l2.8 4.9h-5.6zM441.1 354.1l2.8 4.9h-5.6zM418.0 362.6l2.8 4.9h-5.6zM424.6 383.1l2.8 4.9h-5.6zM395.0 361.9l2.8 4.9h-5.6zM403.7 398.1l2.8 4.9h-5.6zM393.8 364.5l2.8 4.9h-5.6zM394.1 348.5l2.8 4.9h-5.6zM427.5 363.5l2.8 4.9h-5.6zM414.6 368.1l2.8 4.9h-5.6zM413.2 338.7l2.8 4.9h-5.6zM390.1 387.7l2.8 4.9h-5.6zM434.4 356.4l2.8 4.9h-5.6zM417.0 376.5l2.8 4.9h-5.6zM446.0 352.5l2.8 4.9h-5.6zM396.9 342.7l2.8 4.9h-5.6zM398.9 358.8l2.8 4.9h-5.6zM406.4 368.5l2.8 4.9h-5.6zM390.5 402.5l2.8 4.9h-5.6zM398.1 386.1l2.8 4.9h-5.6zM410.8 376.4l2.8 4.9h-5.6zM414.6 376.7l2.8 4.9h-5.6zM419.2 379.5l2.8 4.9h-5.6zM417.3 387.3l2.8 4.9h-5.6zM405.1 382.9l2.8 4.9h-5.6zM409.0 370.0l2.8 4.9h-5.6zM404.3 354.7l2.8 4.9h-5.6zM407.0 380.4l2.8 4.9h-5.6zM403.8 397.8l2.8 4.9h-5.6zM385.0 380.2l2.8 4.9h-5.6zM378.2 395.6l2.8 4.9h-5.6zM429.6 399.0l2.8 4.9h-5.6zM408.1 361.4l2.8 4.9h-5.6zM407.2 379.2l2.8 4.9h-5.6zM402.2 380.9l2.8 4.9h-5.6z"/><path fill="none" stroke="#4bbdb5" stroke-width="3.8" d="M368.0 396.7h3.8M376.9 415.1h3.8M370.8 384.8h3.8M352.5 359.1h3.8M372.2 391.4h3.8M379.4 390.5h3.8M373.8 372.8h3.8M379.4 390.2h3.8M368.2 398.3h3.8M356.4 396.9h3.8M371.7 385.9h3.8M371.0 401.0h3.8M372.1 385.3h3.8M374.7 371.9h3.8M347.4 400.2h3.8M370.6 384.7h3.8M360.4 375.9h3.8M374.1 367.9h3.8M382.6 400.8h3.8M391.4 365.5h3.8M369.6 409.0h3.8M358.9 384.8h3.8M366.9 407.4h3.8M365.2 408.7h3.8M345.1 382.4h3.8M349.7 362.9h3.8M368.9 401.3h3.8M328.5 395.4h3.8M347.4 426.3h3.8M352.8 369.2h3.8M357.8 371.2h3.8M351.0 379.2h3.8M345.6 422.9h3.8M347.7 395.8h3.8M361.1 406.0h3.8M370.3 381.5h3.8M362.0 366.7h3.8M352.6 412.1h3.8M387.2 387.1h3.8M380.1 399.2h3.8M372.2 412.7h3.8M377.5 373.9h3.8M360.1 376.5h3.8M372.7 379.9h3.8M375.1 379.5h3.8M375.5 365.7h3.8M364.7 397.9h3.8M372.3 374.1h3.8M382.5 370.1h3.8M364.4 387.2h3.8M355.1 428.1h3.8M326.3 375.1h3.8M374.2 413.0h3.8M352.9 399.5h3.8M363.4 126.6h3.8"/><path fill="none" stroke="#9575cd" stroke-width="2.7" stroke-linecap="round" d="M344.4 345.1h5.6m-2.8-2.8v5.6M367.0 323.1h5.6m-2.8-2.8v5.6M332.6 333.8h5.6m-2.8-2.8v5.6M326.4 317.1h5.6m-2.8-2.8v5.6M324.4 315.0h5.6m-2.8-2.8v5.6M369.7 329.7h5.6m-2.8-2.8v5.6M351.9 310.4h5.6m-2.8-2.8v5.6M335.1 259.0h5.6m-2.8-2.8v5.6M334.1 358.6h5.6m-2.8-2.8v5.6M327.4 331.2h5.6m-2.8-2.8v5.6M339.9 318.2h5.6m-2.8-2.8v5.6M326.5 335.1h5.6m-2.8-2.8v5.6M370.6 262.2h5.6m-2.8-2.8v5.6M341.1 333.0h5.6m-2.8-2.8v5.6M365.5 288.8h5.6m-2.8-2.8v5.6M319.5 315.9h5.6m-2.8-2.8v5.6M358.0 319.5h5.6m-2.8-2.8v5.6M377.3 325.1h5.6m-2.8-2.8v5.6M354.4 312.9h5.6m-2.8-2.8v5.6M351.8 294.9h5.6m-2.8-2.8v5.6M349.5 318.5h5.6m-2.8-2.8v5.6M373.7 260.5h5.6m-2.8-2.8v5.6M335.1 309.2h5.6m-2.8-2.8v5.6M310.2 323.9h5.6m-2.8-2.8v5.6M358.6 344.3h5.6m-2.8-2.8v5.6M372.3 300.1h5.6m-2.8-2.8v5.6M328.3 344.3h5.6m-2.8-2.8v5.6M332.2 315.3h5.6m-2.8-2.8v5.6M370.1 305.9h5.6m-2.8-2.8v5.6M334.5 318.3h5.6m-2.8-2.8v5.6M335.4 343.1h5.6m-2.8-2.8v5.6M336.6 301.1h5.6m-2.8-2.8v5.6M362.0 304.0h5.6m-2.8-2.8v5.6M343.8 284.5h5.6m-2.8-2.8v5.6M367.9 261.5h5.6m-2.8-2.8v5.6M312.7 287.9h5.6m-2.8-2.8v5.6M352.7 352.2h5.6m-2.8-2.8v5.6M351.0 311.2h5.6m-2.8-2.8v5.6M341.0 304.1h5.6m-2.8-2.8v5.6M336.1 319.9h5.6m-2.8-2.8v5.6M337.8 328.9h5.6m-2.8-2.8v5.6"/><path fill="none" stroke="#d6739b" stroke-width="4" stroke-linecap="round" d="M386.1 333.3h0M402.9 290.6h0M391.9 335.3h0M384.7 329.6h0M418.9 314.9h0M401.9 281.5h0M424.2 312.6h0M400.6 312.4h0M413.1 245.8h0M390.3 292.2h0M402.5 333.3h0M404.4 282.7h0M395.2 297.9h0M402.2 322.6h0M383.5 300.3h0M418.5 372.3h0M383.9 330.7h0M399.4 330.2h0M412.4 306.8h0M396.7 330.1h0M402.3 279.0h0M415.0 291.0h0M383.3 300.8h0M399.8 316.5h0M435.5 266.8h0M393.9 326.5h0M403.8 263.8h0M390.7 330.0h0M407.0 291.4h0M367.2 344.1h0M406.7 317.9h0M428.0 329.2h0M366.4 287.9h0M407.1 313.2h0M425.2 362.1h0M383.3 308.2h0M392.6 319.1h0M401.6 360.6h0M373.8 347.6h0M400.5 321.3h0M380.5 352.9h0M384.3 271.3h0M412.8 311.7h0M405.9 323.4h0M491.0 283.0h0"/><path fill="#7b8c46" stroke="none" d="M432.3 354.5l2.8 4.9h-5.6zM427.3 365.6l2.8 4.9h-5.6zM379.8 370.8l2.8 4.9h-5.6zM395.0 384.2l2.8 4.9h-5.6zM432.3 429.8l2.8 4.9h-5.6zM407.4 360.6l2.8 4.9h-5.6zM413.4 363.6l2.8 4.9h-5.6zM428.3 331.7l2.8 4.9h-5.6zM438.6 368.3l2.8 4.9h-5.6zM374.4 377.2l2.8 4.9h-5.6zM414.2 391.6l2.8 4.9h-5.6zM409.0 402.7l2.8 4.9h-5.6zM432.9 430.5l2.8 4.9h-5.6zM442.4 345.9l2.8 4.9h-5.6zM430.9 367.7l2.8 4.9h-5.6zM408.2 386.3l2.8 4.9h-5.6zM455.1 348.4l2.8 4.9h-5.6zM426.7 404.8l2.8 4.9h-5.6zM405.7 351.2l2.8 4.9h-5.6zM421.9 374.9l2.8 4.9h-5.6zM404.4 354.8l2.8 4.9h-5.6zM388.0 364.8l2.8 4.9h-5.6zM431.9 382.9l2.8 4.9h-5.6zM449.5 357.8l2.8 4.9h-5.6zM423.5 381.6l2.8 4.9h-5.6zM389.3 344.8l2.8 4.9h-5.6zM434.0 378.2l2.8 4.9h-5.6zM412.2 386.8l2.8 4.9h-5.6zM403.9 354.1l2.8 4.9h-5.6zM393.4 346.5l2.8 4.9h-5.6zM418.6 343.9l2.8 4.9h-5.6zM406.3 389.4l2.8 4.9h-5.6zM410.6 355.2l2.8 4.9h-5.6zM435.7 346.6l2.8 4.9h-5.6zM427.7 367.9l2.8 4.9h-5.6zM428.9 341.5l2.8 4.9h-5.6zM411.9 390.8l2.8 4.9h-5.6zM392.5 387.6l2.8 4.9h-5.6zM384.0 343.0l2.8 4.9h-5.6zM393.3 364.1l2.8 4.9h-5.6zM427.1 355.7l2.8 4.9h-5.6zM376.4 353.3l2.8 4.9h-5.6zM393.1 362.1l2.8 4.9h-5.6zM423.8 380.8l2.8 4.9h-5.6zM452.7 367.0l2.8 4.9h-5.6zM399.2 376.4l2.8 4.9h-5.6zM419.9 376.5l2.8 4.9h-5.6zM413.4 397.5l2.8 4.9h-5.6zM397.6 343.6l2.8 4.9h-5.6zM404.8 364.1l2.8 4.9h-5.6zM485.6 338.1l2.8 4.9h-5.6z"/><path fill="none" stroke="#4bbdb5" stroke-width="3.8" d="M380.6 418.2h3.8M377.4 381.4h3.8M372.8 382.6h3.8M341.1 372.4h3.8M365.3 427.7h3.8M371.6 378.2h3.8M378.0 375.4h3.8M373.8 415.5h3.8M351.4 407.0h3.8M378.5 384.1h3.8M348.3 361.8h3.8M344.7 399.7h3.8M328.4 392.5h3.8M366.0 414.8h3.8M334.9 395.0h3.8M374.8 394.3h3.8M375.0 387.0h3.8M375.1 390.5h3.8M369.6 400.3h3.8M383.5 398.8h3.8M371.4 402.0h3.8M353.1 358.3h3.8M364.4 364.8h3.8M356.8 398.2h3.8M334.5 411.7h3.8M343.0 427.2h3.8M324.7 375.9h3.8M366.7 384.2h3.8M369.6 374.2h3.8M375.5 391.5h3.8M370.7 398.2h3.8M367.5 395.2h3.8M345.7 412.8h3.8M341.8 423.7h3.8M339.9 396.3h3.8M357.7 369.1h3.8M344.5 386.6h3.8M368.0 440.9h3.8M363.5 446.3h3.8M362.6 375.4h3.8M385.2 401.9h3.8M341.2 381.0h3.8M360.6 419.9h3.8M399.8 388.4h3.8M356.3 397.3h3.8M334.7 411.2h3.8M382.9 372.7h3.8M379.8 445.2h3.8M358.9 407.5h3.8M367.1 397.4h3.8M398.1 375.6h3.8M383.8 392.1h3.8M366.0 388.9h3.8M369.5 385.3h3.8M346.8 245.8h3.8"/><path fill="none" stroke="#9575cd" stroke-width="2.7" stroke-linecap="round" d="M359.0 305.0h5.6m-2.8-2.8v5.6M347.1 320.7h5.6m-2.8-2.8v5.6M357.8 323.4h5.6m-2.8-2.8v5.6M351.5 295.9h5.6m-2.8-2.8v5.6M348.6 239.2h5.6m-2.8-2.8v5.6M379.1 350.5h5.6m-2.8-2.8v5.6M356.2 297.7h5.6m-2.8-2.8v5.6M351.6 328.0h5.6m-2.8-2.8v5.6M332.8 298.3h5.6m-2.8-2.8v5.6M333.4 294.6h5.6m-2.8-2.8v5.6M344.5 340.1h5.6m-2.8-2.8v5.6M344.4 306.8h5.6m-2.8-2.8v5.6M367.0 307.1h5.6m-2.8-2.8v5.6M363.2 326.6h5.6m-2.8-2.8v5.6M311.5 316.9h5.6m-2.8-2.8v5.6M332.5 307.6h5.6m-2.8-2.8v5.6M341.9 318.7h5.6m-2.8-2.8v5.6M374.9 285.3h5.6m-2.8-2.8v5.6M310.5 345.5h5.6m-2.8-2.8v5.6M320.7 359.5h5.6m-2.8-2.8v5.6M352.7 363.0h5.6m-2.8-2.8v5.6M340.8 358.9h5.6m-2.8-2.8v5.6M339.0 341.3h5.6m-2.8-2.8v5.6M334.1 250.9h5.6m-2.8-2.8v5.6M339.2 332.8h5.6m-2.8-2.8v5.6M327.7 303.9h5.6m-2.8-2.8v5.6M344.2 306.5h5.6m-2.8-2.8v5.6M330.0 276.6h5.6m-2.8-2.8v5.6M338.4 326.9h5.6m-2.8-2.8v5.6M360.2 312.6h5.6m-2.8-2.8v5.6M373.8 304.1h5.6m-2.8-2.8v5.6M354.2 347.8h5.6m-2.8-2.8v5.6M348.8 311.0h5.6m-2.8-2.8v5.6M361.6 343.2h5.6m-2.8-2.8v5.6M369.0 320.9h5.6m-2.8-2.8v5.6M336.6 282.7h5.6m-2.8-2.8v5.6M354.4 334.3h5.6m-2.8-2.8v5.6M343.6 349.5h5.6m-2.8-2.8v5.6M370.8 314.2h5.6m-2.8-2.8v5.6M371.8 312.1h5.6m-2.8-2.8v5.6M345.8 294.4h5.6m-2.8-2.8v5.6"/><path fill="none" stroke="#d6739b" stroke-width="4" stroke-linecap="round" d="M414.4 366.9h0M414.3 365.7h0M404.3 348.2h0M418.6 311.3h0M395.4 281.7h0M419.6 286.1h0M393.2 334.6h0M392.4 310.7h0M395.1 318.8h0M416.5 301.9h0M402.5 306.9h0M414.0 353.3h0M384.5 282.7h0M381.4 342.5h0M431.9 327.0h0M401.6 302.0h0M395.3 307.9h0M381.8 306.0h0M432.6 367.2h0M432.1 293.0h0M402.5 315.4h0M420.0 323.1h0M401.2 332.8h0M380.6 315.5h0M387.1 296.9h0M419.0 291.8h0M368.0 314.7h0M384.9 352.8h0M397.8 278.3h0M403.4 256.7h0M372.7 328.0h0M398.6 331.8h0M411.6 276.0h0M386.8 251.6h0M393.8 354.0h0M427.2 308.9h0M378.2 311.8h0M412.3 329.5h0M375.4 364.1h0M375.2 322.0h0M376.8 310.5h0M409.8 350.1h0M398.8 303.3h0M398.5 297.5h0M529.2 311.0h0"/><path fill="#7b8c46" stroke="none" d="M391.8 342.9l2.8 4.9h-5.6zM393.0 382.2l2.8 4.9h-5.6zM405.6 371.6l2.8 4.9h-5.6zM387.2 362.3l2.8 4.9h-5.6zM404.2 390.2l2.8 4.9h-5.6zM415.1 394.0l2.8 4.9h-5.6zM445.4 348.6l2.8 4.9h-5.6zM404.8 357.1l2.8 4.9h-5.6zM451.4 419.5l2.8 4.9h-5.6zM454.6 375.4l2.8 4.9h-5.6zM409.0 364.0l2.8 4.9h-5.6zM479.7 322.8l2.8 4.9h-5.6zM407.8 364.3l2.8 4.9h-5.6zM409.3 379.9l2.8 4.9h-5.6zM411.4 363.6l2.8 4.9h-5.6zM451.5 368.1l2.8 4.9h-5.6zM407.0 344.4l2.8 4.9h-5.6zM418.5 344.2l2.8 4.9h-5.6zM398.4 380.5l2.8 4.9h-5.6zM420.3 375.8l2.8 4.9h-5.6zM429.8 386.9l2.8 4.9h-5.6zM392.2 368.4l2.8 4.9h-5.6zM435.7 357.8l2.8 4.9h-5.6zM390.1 383.9l2.8 4.9h-5.6zM424.3 362.5l2.8 4.9h-5.6zM416.9 335.6l2.8 4.9h-5.6zM406.7 400.5l2.8 4.9h-5.6zM393.0 346.0l2.8 4.9h-5.6zM398.4 347.7l2.8 4.9h-5.6zM428.3 374.7l2.8 4.9h-5.6zM422.6 365.6l2.8 4.9h-5.6zM423.6 365.2l2.8 4.9h-5.6zM452.1 397.5l2.8 4.9h-5.6zM413.0 375.6l2.8 4.9h-5.6zM430.2 350.3l2.8 4.9h-5.6zM406.0 359.1l2.8 4.9h-5.6zM409.5 359.3l2.8 4.9h-5.6zM428.2 342.2l2.8 4.9h-5.6zM385.7 354.4l2.8 4.9h-5.6zM412.1 322.7l2.8 4.9h-5.6zM432.0 313.3l2.8 4.9h-5.6zM398.0 383.7l2.8 4.9h-5.6zM401.9 344.4l2.8 4.9h-5.6zM413.2 380.2l2.8 4.9h-5.6zM387.2 385.6l2.8 4.9h-5.6zM404.9 360.5l2.8 4.9h-5.6zM429.9 338.3l2.8 4.9h-5.6zM389.9 362.2l2.8 4.9h-5.6zM406.8 363.0l2.8 4.9h-5.6zM411.2 346.4l2.8 4.9h-5.6zM408.7 379.9l2.8 4.9h-5.6z"/><path fill="none" stroke="#4bbdb5" stroke-width="3.8" d="M362.2 386.2h3.8M379.0 404.3h3.8M378.4 385.3h3.8M350.8 363.9h3.8M375.5 438.1h3.8M367.8 373.9h3.8M352.2 368.3h3.8M329.3 387.2h3.8M362.7 414.6h3.8M356.7 383.0h3.8M379.0 392.2h3.8M364.3 399.7h3.8M357.6 408.3h3.8M396.9 403.4h3.8M384.5 374.9h3.8M360.7 390.4h3.8M332.7 385.9h3.8M336.3 418.6h3.8M361.2 420.8h3.8M355.4 411.9h3.8M379.8 384.3h3.8M376.3 387.8h3.8M358.6 367.7h3.8M342.6 371.0h3.8M348.6 427.0h3.8M361.8 377.9h3.8M360.4 388.1h3.8M382.9 398.5h3.8M342.6 406.7h3.8M337.0 421.7h3.8M332.7 377.3h3.8M365.9 358.2h3.8M365.6 420.5h3.8M363.0 350.8h3.8M356.4 380.8h3.8M374.2 406.1h3.8M367.4 375.6h3.8M351.0 395.8h3.8M372.5 388.5h3.8M413.7 339.8h3.8M337.4 413.2h3.8M341.9 393.3h3.8M365.8 407.3h3.8M381.8 379.3h3.8M356.2 405.6h3.8M372.0 384.5h3.8M380.4 414.2h3.8M397.4 374.9h3.8M360.1 383.7h3.8M366.9 384.6h3.8M353.1 402.9h3.8M339.4 373.9h3.8M403.6 393.2h3.8M340.7 380.8h3.8M323.1 483.7h3.8"/><path fill="none" stroke="#9575cd" stroke-width="2.7" stroke-linecap="round" d="M353.1 360.1h5.6m-2.8-2.8v5.6M360.1 320.7h5.6m-2.8-2.8v5.6M350.5 318.9h5.6m-2.8-2.8v5.6M346.3 367.2h5.6m-2.8-2.8v5.6M351.5 340.1h5.6m-2.8-2.8v5.6M330.9 318.2h5.6m-2.8-2.8v5.6M318.7 270.6h5.6m-2.8-2.8v5.6M352.8 297.4h5.6m-2.8-2.8v5.6M357.9 275.2h5.6m-2.8-2.8v5.6M313.8 342.6h5.6m-2.8-2.8v5.6M332.9 336.8h5.6m-2.8-2.8v5.6M364.9 365.1h5.6m-2.8-2.8v5.6M359.8 286.8h5.6m-2.8-2.8v5.6M313.1 326.1h5.6m-2.8-2.8v5.6M332.5 379.1h5.6m-2.8-2.8v5.6M369.1 340.5h5.6m-2.8-2.8v5.6M359.3 297.5h5.6m-2.8-2.8v5.6M350.3 330.0h5.6m-2.8-2.8v5.6M362.0 334.3h5.6m-2.8-2.8v5.6M343.7 333.5h5.6m-2.8-2.8v5.6M341.6 322.5h5.6m-2.8-2.8v5.6M349.5 332.5h5.6m-2.8-2.8v5.6M349.7 322.6h5.6m-2.8-2.8v5.6M346.2 287.5h5.6m-2.8-2.8v5.6M330.1 353.4h5.6m-2.8-2.8v5.6M370.2 351.8h5.6m-2.8-2.8v5.6M335.7 291.2h5.6m-2.8-2.8v5.6M348.2 296.1h5.6m-2.8-2.8v5.6M351.7 272.5h5.6m-2.8-2.8v5.6M340.3 346.3h5.6m-2.8-2.8v5.6M340.4 329.1h5.6m-2.8-2.8v5.6M316.6 321.8h5.6m-2.8-2.8v5.6M331.4 337.2h5.6m-2.8-2.8v5.6M368.1 285.1h5.6m-2.8-2.8v5.6M366.0 366.3h5.6m-2.8-2.8v5.6M350.5 273.5h5.6m-2.8-2.8v5.6M349.6 341.4h5.6m-2.8-2.8v5.6M362.8 264.2h5.6m-2.8-2.8v5.6M341.4 323.2h5.6m-2.8-2.8v5.6M316.4 334.9h5.6m-2.8-2.8v5.6M317.5 307.3h5.6m-2.8-2.8v5.6"/><path fill="none" stroke="#d6739b" stroke-width="4" stroke-linecap="round" d="M408.0 315.2h0M417.2 297.7h0M406.1 313.7h0M391.4 306.7h0M406.8 309.2h0M361.0 370.3h0M405.7 357.0h0M405.1 361.5h0M423.1 358.7h0M386.9 336.9h0M400.1 327.1h0M398.2 309.2h0M371.7 308.0h0M396.5 243.9h0M428.8 326.1h0M410.7 284.3h0M389.6 344.0h0M388.9 343.1h0M379.2 311.6h0M420.1 265.6h0M421.1 318.1h0M400.8 306.3h0M392.6 303.9h0M389.4 358.6h0M397.4 286.8h0M427.0 341.8h0M398.4 317.5h0M430.9 290.1h0M390.7 304.8h0M390.9 329.9h0M397.1 256.4h0M391.2 311.0h0M375.9 307.0h0M406.8 286.9h0M408.1 280.7h0M375.9 302.2h0M435.9 334.9h0M437.5 273.0h0M412.4 283.7h0M377.9 309.6h0M382.7 302.3h0M400.8 356.0h0M378.2 309.1h0M374.2 346.0h0M539.6 306.8h0"/><path fill="#7b8c46" stroke="none" d="M392.0 384.4l2.8 4.9h-5.6zM435.8 389.7l2.8 4.9h-5.6zM441.0 328.5l2.8 4.9h-5.6zM409.3 370.2l2.8 4.9h-5.6zM440.2 343.9l2.8 4.9h-5.6zM422.4 368.4l2.8 4.9h-5.6zM400.2 388.1l2.8 4.9h-5.6zM431.4 375.5l2.8 4.9h-5.6zM427.9 384.2l2.8 4.9h-5.6zM421.0 361.9l2.8 4.9h-5.6zM402.6 367.5l2.8 4.9h-5.6zM414.9 387.0l2.8 4.9h-5.6zM402.4 377.9l2.8 4.9h-5.6zM401.9 347.8l2.8 4.9h-5.6zM395.2 334.3l2.8 4.9h-5.6zM437.4 363.3l2.8 4.9h-5.6zM377.2 389.8l2.8 4.9h-5.6zM418.7 366.2l2.8 4.9h-5.6zM383.6 350.2l2.8 4.9h-5.6zM395.9 371.2l2.8 4.9h-5.6zM460.3 349.5l2.8 4.9h-5.6zM410.7 371.1l2.8 4.9h-5.6zM413.0 372.1l2.8 4.9h-5.6zM421.2 386.6l2.8 4.9h-5.6zM413.2 352.0l2.8 4.9h-5.6zM406.0 366.0l2.8 4.9h-5.6zM406.1 385.1l2.8 4.9h-5.6zM426.7 393.9l2.8 4.9h-5.6zM389.7 373.3l2.8 4.9h-5.6zM409.4 348.6l2.8 4.9h-5.6zM404.4 333.9l2.8 4.9h-5.6zM418.8 367.5l2.8 4.9h-5.6zM398.5 375.4l2.8 4.9h-5.6zM425.0 355.2l2.8 4.9h-5.6zM436.1 354.7l2.8 4.9h-5.6zM398.2 334.0l2.8 4.9h-5.6zM456.6 369.0l2.8 4.9h-5.6zM416.4 397.6l2.8 4.9h-5.6zM411.0 331.9l2.8 4.9h-5.6zM426.6 370.1l2.8 4.9h-5.6zM404.0 394.4l2.8 4.9h-5.6zM402.6 356.4l2.8 4.9h-5.6zM442.8 386.7l2.8 4.9h-5.6zM400.7 365.1l2.8 4.9h-5.6zM426.1 339.4l2.8 4.9h-5.6zM419.5 381.7l2.8 4.9h-5.6zM389.3 361.5l2.8 4.9h-5.6zM415.1 327.4l2.8 4.9h-5.6zM453.6 359.7l2.8 4.9h-5.6zM413.2 393.4l2.8 4.9h-5.6zM423.2 375.9l2.8 4.9h-5.6z"/><path fill="none" stroke="#4bbdb5" stroke-width="3.8" d="M335.0 374.3h3.8M373.0 390.8h3.8M351.1 377.7h3.8M362.8 370.3h3.8M363.7 391.6h3.8M345.3 397.8h3.8M405.4 410.8h3.8M365.0 346.3h3.8M382.3 372.4h3.8M355.7 394.9h3.8M401.7 363.0h3.8M368.5 412.7h3.8M374.7 398.4h3.8M346.0 419.5h3.8M336.2 386.1h3.8M342.9 415.9h3.8M341.2 363.0h3.8M345.5 381.2h3.8M378.1 357.8h3.8M372.0 372.0h3.8M377.6 397.6h3.8M373.3 394.7h3.8M368.2 368.6h3.8M354.3 324.4h3.8M386.4 385.5h3.8M363.7 356.7h3.8M415.5 386.3h3.8M364.9 411.3h3.8M356.5 406.1h3.8M359.6 420.3h3.8M356.3 414.3h3.8M383.5 424.8h3.8M352.9 397.8h3.8M370.2 389.1h3.8M395.0 409.4h3.8M352.5 384.1h3.8M379.2 422.0h3.8M363.6 378.3h3.8M356.4 412.6h3.8M358.9 366.3h3.8M371.9 407.3h3.8M354.4 378.1h3.8M372.1 355.2h3.8M362.2 380.5h3.8M373.9 387.3h3.8M370.3 388.4h3.8M334.9 415.8h3.8M355.1 399.9h3.8M361.6 416.7h3.8M361.4 417.4h3.8M361.2 388.4h3.8M370.2 387.4h3.8M363.7 377.3h3.8M334.7 407.0h3.8M285.6 343.7h3.8"/><path fill="none" stroke="#9575cd" stroke-width="2.7" stroke-linecap="round" d="M349.2 367.9h5.6m-2.8-2.8v5.6M350.0 413.3h5.6m-2.8-2.8v5.6M371.1 326.0h5.6m-2.8-2.8v5.6M356.9 358.6h5.6m-2.8-2.8v5.6M311.6 307.2h5.6m-2.8-2.8v5.6M351.8 308.5h5.6m-2.8-2.8v5.6M362.3 307.5h5.6m-2.8-2.8v5.6M374.5 317.4h5.6m-2.8-2.8v5.6M373.4 283.1h5.6m-2.8-2.8v5.6M339.4 320.0h5.6m-2.8-2.8v5.6M333.5 316.4h5.6m-2.8-2.8v5.6M347.2 267.9h5.6m-2.8-2.8v5.6M336.0 327.8h5.6m-2.8-2.8v5.6M332.5 364.4h5.6m-2.8-2.8v5.6M325.8 338.9h5.6m-2.8-2.8v5.6M350.3 324.0h5.6m-2.8-2.8v5.6M348.2 336.3h5.6m-2.8-2.8v5.6M360.6 338.5h5.6m-2.8-2.8v5.6M352.5 336.4h5.6m-2.8-2.8v5.6M356.4 327.1h5.6m-2.8-2.8v5.6M319.4 334.2h5.6m-2.8-2.8v5.6M335.8 361.2h5.6m-2.8-2.8v5.6M364.9 312.5h5.6m-2.8-2.8v5.6M311.7 336.9h5.6m-2.8-2.8v5.6M374.5 322.6h5.6m-2.8-2.8v5.6M358.3 342.5h5.6m-2.8-2.8v5.6M381.0 313.1h5.6m-2.8-2.8v5.6M342.4 311.2h5.6m-2.8-2.8v5.6M337.0 324.8h5.6m-2.8-2.8v5.6M365.7 311.6h5.6m-2.8-2.8v5.6M345.8 302.0h5.6m-2.8-2.8v5.6M331.0 299.7h5.6m-2.8-2.8v5.6M368.5 335.2h5.6m-2.8-2.8v5.6M370.5 314.6h5.6m-2.8-2.8v5.6M337.5 298.4h5.6m-2.8-2.8v5.6M367.7 279.8h5.6m-2.8-2.8v5.6M381.4 321.9h5.6m-2.8-2.8v5.6M345.0 291.0h5.6m-2.8-2.8v5.6M361.3 358.8h5.6m-2.8-2.8v5.6M366.0 252.2h5.6m-2.8-2.8v5.6M359.2 294.2h5.6m-2.8-2.8v5.6"/><path fill="none" stroke="#d6739b" stroke-width="4" stroke-linecap="round" d="M430.0 354.0h0M352.0 322.4h0M406.8 260.7h0M418.0 286.2h0M388.9 326.5h0M377.0 280.2h0M434.9 287.9h0M401.5 291.6h0M406.8 299.1h0M386.9 332.4h0M400.4 337.8h0M416.9 326.8h0M406.9 330.4h0M393.3 302.9h0M410.7 343.3h0M389.6 317.2h0M383.9 308.9h0M391.9 322.6h0M382.8 354.4h0M408.5 288.9h0M396.7 319.7h0M410.1 284.6h0M407.5 309.4h0M411.6 339.3h0M403.9 311.7h0M409.1 294.6h0M401.9 316.2h0M400.7 319.8h0M390.2 279.4h0M366.0 306.0h0M435.7 347.6h0M383.8 302.4h0M411.4 340.7h0M383.2 372.8h0M375.4 318.5h0M390.8 325.3h0M409.5 332.2h0M407.8 342.1h0M431.9 282.2h0M412.7 315.2h0M417.7 302.2h0M431.9 286.7h0M386.5 342.7h0M381.8 306.7h0M509.8 300.4h0"/><path fill="#7b8c46" stroke="none" d="M397.1 377.6l2.8 4.9h-5.6zM413.0 372.1l2.8 4.9h-5.6zM404.6 372.0l2.8 4.9h-5.6zM425.0 381.4l2.8 4.9h-5.6zM428.5 362.2l2.8 4.9h-5.6zM412.9 372.6l2.8 4.9h-5.6zM377.8 395.2l2.8 4.9h-5.6zM403.5 360.4l2.8 4.9h-5.6zM415.9 370.4l2.8 4.9h-5.6zM424.8 381.8l2.8 4.9h-5.6zM407.5 366.8l2.8 4.9h-5.6zM472.8 349.8l2.8 4.9h-5.6zM374.1 354.1l2.8 4.9h-5.6zM401.3 367.1l2.8 4.9h-5.6zM383.1 366.9l2.8 4.9h-5.6zM394.8 384.1l2.8 4.9h-5.6zM409.4 390.2l2.8 4.9h-5.6zM397.6 414.9l2.8 4.9h-5.6zM426.7 404.3l2.8 4.9h-5.6zM433.6 331.2l2.8 4.9h-5.6zM424.9 371.0l2.8 4.9h-5.6zM414.2 370.0l2.8 4.9h-5.6zM402.3 362.9l2.8 4.9h-5.6zM414.0 346.1l2.8 4.9h-5.6zM394.8 368.9l2.8 4.9h-5.6zM422.7 371.4l2.8 4.9h-5.6zM372.8 364.2l2.8 4.9h-5.6zM416.1 348.3l2.8 4.9h-5.6zM426.2 355.1l2.8 4.9h-5.6zM432.2 380.3l2.8 4.9h-5.6zM400.7 361.3l2.8 4.9h-5.6zM374.1 398.3l2.8 4.9h-5.6zM494.3 340.4l2.8 4.9h-5.6zM470.9 340.3l2.8 4.9h-5.6zM420.9 385.7l2.8 4.9h-5.6zM416.9 320.6l2.8 4.9h-5.6zM447.0 349.0l2.8 4.9h-5.6zM405.4 338.4l2.8 4.9h-5.6zM417.8 413.1l2.8 4.9h-5.6zM373.7 384.0l2.8 4.9h-5.6zM406.8 369.5l2.8 4.9h-5.6zM426.2 349.5l2.8 4.9h-5.6zM420.1 407.8l2.8 4.9h-5.6zM405.9 332.3l2.8 4.9h-5.6zM401.2 361.9l2.8 4.9h-5.6zM401.5 368.1l2.8 4.9h-5.6zM424.5 350.6l2.8 4.9h-5.6zM405.6 372.0l2.8 4.9h-5.6zM405.0 375.8l2.8 4.9h-5.6zM417.3 373.2l2.8 4.9h-5.6zM409.8 354.4l2.8 4.9h-5.6z"/><path fill="none" stroke="#4bbdb5" stroke-width="3.8" d="M314.5 362.9h3.8M344.6 386.5h3.8M345.1 381.4h3.8M348.1 389.8h3.8M357.3 374.9h3.8M385.1 416.9h3.8M390.5 374.3h3.8M366.1 395.9h3.8M385.8 389.8h3.8M365.3 383.3h3.8M362.8 361.8h3.8M390.9 373.9h3.8M363.1 396.9h3.8M382.8 383.1h3.8M373.1 366.9h3.8M394.7 378.2h3.8M385.6 366.1h3.8M341.7 399.8h3.8M357.7 409.3h3.8M354.6 423.6h3.8M342.4 388.7h3.8M377.9 402.0h3.8M392.2 427.5h3.8M379.5 383.6h3.8M368.1 433.7h3.8M352.6 350.0h3.8M382.4 402.6h3.8M350.7 403.5h3.8M346.0 388.2h3.8M358.6 393.1h3.8M389.4 342.8h3.8M342.3 408.8h3.8M356.3 363.9h3.8M349.8 433.3h3.8M358.1 404.3h3.8M354.9 407.2h3.8M345.5 373.9h3.8M356.1 417.2h3.8M375.3 372.0h3.8M359.1 385.9h3.8M376.0 385.8h3.8M374.1 358.8h3.8M354.3 388.7h3.8M336.8 390.7h3.8M380.6 359.3h3.8M383.8 368.5h3.8M368.4 399.8h3.8M357.6 396.1h3.8M378.0 370.2h3.8M331.4 403.8h3.8M404.3 397.3h3.8M362.2 409.2h3.8M386.3 419.3h3.8M357.7 394.3h3.8M471.1 386.0h3.8"/><path fill="none" stroke="#9575cd" stroke-width="2.7" stroke-linecap="round" d="M356.2 314.2h5.6m-2.8-2.8v5.6M360.6 298.6h5.6m-2.8-2.8v5.6M339.4 384.6h5.6m-2.8-2.8v5.6M342.1 338.0h5.6m-2.8-2.8v5.6M312.6 308.5h5.6m-2.8-2.8v5.6M346.4 357.7h5.6m-2.8-2.8v5.6M340.6 303.8h5.6m-2.8-2.8v5.6M328.8 308.3h5.6m-2.8-2.8v5.6M363.8 338.1h5.6m-2.8-2.8v5.6M351.4 337.2h5.6m-2.8-2.8v5.6M333.7 346.8h5.6m-2.8-2.8v5.6M385.9 285.5h5.6m-2.8-2.8v5.6M343.0 296.5h5.6m-2.8-2.8v5.6M336.9 323.6h5.6m-2.8-2.8v5.6M376.1 324.3h5.6m-2.8-2.8v5.6M299.1 317.2h5.6m-2.8-2.8v5.6M353.0 298.4h5.6m-2.8-2.8v5.6M351.5 221.3h5.6m-2.8-2.8v5.6M343.0 307.6h5.6m-2.8-2.8v5.6M353.6 327.5h5.6m-2.8-2.8v5.6M333.5 304.5h5.6m-2.8-2.8v5.6M376.3 304.9h5.6m-2.8-2.8v5.6M289.7 334.2h5.6m-2.8-2.8v5.6M337.5 288.3h5.6m-2.8-2.8v5.6M331.3 314.8h5.6m-2.8-2.8v5.6M363.6 326.8h5.6m-2.8-2.8v5.6M355.9 317.7h5.6m-2.8-2.8v5.6M341.3 298.7h5.6m-2.8-2.8v5.6M369.6 283.5h5.6m-2.8-2.8v5.6M341.4 375.1h5.6m-2.8-2.8v5.6M360.8 318.4h5.6m-2.8-2.8v5.6M338.4 361.2h5.6m-2.8-2.8v5.6M343.4 341.1h5.6m-2.8-2.8v5.6M352.3 274.4h5.6m-2.8-2.8v5.6M368.9 300.4h5.6m-2.8-2.8v5.6M339.1 323.1h5.6m-2.8-2.8v5.6M359.5 288.7h5.6m-2.8-2.8v5.6M327.0 320.0h5.6m-2.8-2.8v5.6M321.0 308.6h5.6m-2.8-2.8v5.6M354.1 329.7h5.6m-2.8-2.8v5.6M357.0 347.0h5.6m-2.8-2.8v5.6"/><path fill="none" stroke="#d6739b" stroke-width="4" stroke-linecap="round" d="M412.8 277.5h0M376.9 322.0h0M425.3 321.2h0M389.8 339.8h0M395.7 321.6h0M395.5 298.2h0M414.4 309.5h0M396.5 338.7h0M393.0 297.3h0M426.9 256.4h0M395.8 320.5h0M388.1 353.1h0M395.6 284.4h0M403.2 316.6h0M405.9 306.1h0M428.5 259.9h0M387.8 335.4h0M396.7 318.1h0M374.1 350.1h0M413.6 335.6h0M408.6 312.3h0M361.5 322.6h0M429.0 341.0h0M391.4 306.4h0M397.8 318.2h0M400.1 355.4h0M374.3 317.8h0M396.7 282.9h0M420.2 293.7h0M414.0 331.7h0M399.6 369.3h0M399.9 262.6h0M409.5 350.8h0M398.2 304.2h0M417.8 344.3h0M440.0 330.3h0M399.0 296.3h0M402.8 330.2h0M374.6 320.9h0M419.3 320.7h0M400.9 285.9h0M400.0 347.6h0M402.6 319.1h0M407.0 299.7h0M472.0 280.0h0"/><path fill="#7b8c46" stroke="none" d="M385.2 353.2l2.8 4.9h-5.6zM420.0 379.9l2.8 4.9h-5.6zM407.7 391.7l2.8 4.9h-5.6zM388.7 339.1l2.8 4.9h-5.6zM384.5 368.1l2.8 4.9h-5.6zM406.9 320.3l2.8 4.9h-5.6zM381.7 400.1l2.8 4.9h-5.6zM421.2 388.0l2.8 4.9h-5.6zM438.4 394.0l2.8 4.9h-5.6zM398.7 381.4l2.8 4.9h-5.6zM454.7 340.6l2.8 4.9h-5.6zM410.3 399.6l2.8 4.9h-5.6zM418.6 357.7l2.8 4.9h-5.6zM411.1 357.8l2.8 4.9h-5.6zM413.2 335.4l2.8 4.9h-5.6zM409.3 399.5l2.8 4.9h-5.6zM407.3 344.0l2.8 4.9h-5.6zM412.4 359.9l2.8 4.9h-5.6zM391.0 368.9l2.8 4.9h-5.6zM410.5 349.3l2.8 4.9h-5.6zM402.5 358.8l2.8 4.9h-5.6zM437.2 357.2l2.8 4.9h-5.6zM439.0 348.4l2.8 4.9h-5.6zM422.5 389.9l2.8 4.9h-5.6zM451.8 345.1l2.8 4.9h-5.6zM384.9 351.9l2.8 4.9h-5.6zM378.8 341.5l2.8 4.9h-5.6zM382.4 368.2l2.8 4.9h-5.6zM416.7 351.6l2.8 4.9h-5.6zM417.2 394.0l2.8 4.9h-5.6zM404.9 378.1l2.8 4.9h-5.6zM407.7 384.1l2.8 4.9h-5.6zM441.6 358.0l2.8 4.9h-5.6zM410.1 363.5l2.8 4.9h-5.6zM420.9 366.6l2.8 4.9h-5.6zM474.5 343.0l2.8 4.9h-5.6zM449.1 379.1l2.8 4.9h-5.6zM394.1 351.9l2.8 4.9h-5.6zM436.2 384.9l2.8 4.9h-5.6zM401.3 393.4l2.8 4.9h-5.6zM407.9 376.0l2.8 4.9h-5.6zM441.7 387.6l2.8 4.9h-5.6zM439.5 401.4l2.8 4.9h-5.6zM398.1 368.7l2.8 4.9h-5.6zM434.6 388.4l2.8 4.9h-5.6zM407.7 338.4l2.8 4.9h-5.6zM408.6 384.5l2.8 4.9h-5.6zM392.8 324.4l2.8 4.9h-5.6zM403.3 386.0l2.8 4.9h-5.6zM407.1 333.7l2.8 4.9h-5.6zM403.5 407.8l2.8 4.9h-5.6z"/><path fill="none" stroke="#4bbdb5" stroke-width="3.8" d="M373.8 383.7h3.8M371.3 370.5h3.8M320.4 406.1h3.8M355.9 366.8h3.8M363.8 377.5h3.8M362.0 357.1h3.8M374.3 415.9h3.8M378.9 395.6h3.8M378.8 402.2h3.8M348.7 403.4h3.8M350.9 369.2h3.8M327.8 389.9h3.8M356.9 389.3h3.8M377.0 378.8h3.8M371.1 388.4h3.8M394.1 416.2h3.8M364.4 397.8h3.8M399.7 389.9h3.8M392.9 378.9h3.8M349.8 395.5h3.8M342.6 339.3h3.8M379.5 397.4h3.8M362.0 374.6h3.8M371.2 376.1h3.8M375.9 393.5h3.8M359.2 407.3h3.8M378.9 391.7h3.8M392.3 380.2h3.8M397.5 374.1h3.8M384.9 367.0h3.8M368.4 384.9h3.8M372.1 373.5h3.8M353.5 383.9h3.8M344.8 391.2h3.8M363.9 388.3h3.8M375.8 395.8h3.8M360.9 374.7h3.8M362.8 393.5h3.8M354.2 407.8h3.8M336.9 387.5h3.8M377.9 411.2h3.8M343.9 421.8h3.8M354.5 352.6h3.8M327.5 383.2h3.8M392.7 393.9h3.8M374.4 357.9h3.8M370.0 385.4h3.8M344.7 423.7h3.8M368.4 382.3h3.8M387.0 378.2h3.8M361.3 403.8h3.8M349.0 377.3h3.8M359.2 390.1h3.8M359.0 361.1h3.8M318.1 434.5h3.8"/><path fill="none" stroke="#9575cd" stroke-width="2.7" stroke-linecap="round" d="M336.4 295.0h5.6m-2.8-2.8v5.6M393.9 333.2h5.6m-2.8-2.8v5.6M326.0 314.4h5.6m-2.8-2.8v5.6M356.5 286.8h5.6m-2.8-2.8v5.6M327.0 315.9h5.6m-2.8-2.8v5.6M374.4 302.0h5.6m-2.8-2.8v5.6M357.5 306.2h5.6m-2.8-2.8v5.6M342.6 358.2h5.6m-2.8-2.8v5.6M362.2 332.4h5.6m-2.8-2.8v5.6M395.2 378.6h5.6m-2.8-2.8v5.6M378.5 337.1h5.6m-2.8-2.8v5.6M339.6 344.1h5.6m-2.8-2.8v5.6M353.9 266.1h5.6m-2.8-2.8v5.6M362.0 242.8h5.6m-2.8-2.8v5.6M347.2 307.9h5.6m-2.8-2.8v5.6M365.6 320.9h5.6m-2.8-2.8v5.6M354.0 372.7h5.6m-2.8-2.8v5.6M353.9 303.2h5.6m-2.8-2.8v5.6M373.2 290.9h5.6m-2.8-2.8v5.6M379.3 286.9h5.6m-2.8-2.8v5.6M354.5 325.5h5.6m-2.8-2.8v5.6M344.5 307.5h5.6m-2.8-2.8v5.6M357.0 334.1h5.6m-2.8-2.8v5.6M347.6 309.1h5.6m-2.8-2.8v5.6M361.3 359.3h5.6m-2.8-2.8v5.6M342.6 319.0h5.6m-2.8-2.8v5.6M354.1 290.3h5.6m-2.8-2.8v5.6M343.4 284.1h5.6m-2.8-2.8v5.6M346.5 332.5h5.6m-2.8-2.8v5.6M361.8 317.9h5.6m-2.8-2.8v5.6M354.1 323.8h5.6m-2.8-2.8v5.6M335.9 341.4h5.6m-2.8-2.8v5.6M372.6 369.4h5.6m-2.8-2.8v5.6M340.7 320.7h5.6m-2.8-2.8v5.6M352.1 305.1h5.6m-2.8-2.8v5.6M322.6 384.1h5.6m-2.8-2.8v5.6M351.7 323.1h5.6m-2.8-2.8v5.6M306.5 344.2h5.6m-2.8-2.8v5.6M357.1 368.4h5.6m-2.8-2.8v5.6M343.0 354.8h5.6m-2.8-2.8v5.6M370.7 314.5h5.6m-2.8-2.8v5.6"/><path fill="none" stroke="#d6739b" stroke-width="4" stroke-linecap="round" d="M394.2 332.6h0M378.1 279.1h0M400.2 316.6h0M381.9 281.7h0M395.5 302.3h0M369.7 309.6h0M395.9 279.2h0M405.2 323.4h0M386.8 316.3h0M385.8 268.9h0M381.3 300.0h0M365.5 342.4h0M407.3 330.5h0M428.5 296.5h0M424.8 334.2h0M438.5 311.7h0M411.4 316.4h0M378.9 339.4h0M388.6 336.0h0M380.6 360.4h0M417.7 322.9h0M376.3 300.3h0M408.4 344.4h0M415.4 310.6h0M417.6 310.4h0M397.9 308.5h0M398.7 292.5h0M391.7 334.1h0M389.0 284.9h0M403.9 305.2h0M449.1 301.5h0M397.6 341.0h0M396.0 334.0h0M442.1 325.8h0M385.8 380.3h0M380.4 319.2h0M407.0 361.0h0M391.8 295.8h0M388.8 376.1h0M399.0 296.4h0M359.7 355.2h0M360.9 309.9h0M363.9 269.0h0M376.3 302.0h0M459.0 282.0h0"/><path fill="#7b8c46" stroke="none" d="M367.1 375.3l2.8 4.9h-5.6zM431.4 396.5l2.8 4.9h-5.6zM414.7 362.6l2.8 4.9h-5.6zM394.8 363.7l2.8 4.9h-5.6zM421.8 340.7l2.8 4.9h-5.6zM407.8 365.6l2.8 4.9h-5.6zM391.0 347.4l2.8 4.9h-5.6zM401.7 370.7l2.8 4.9h-5.6zM418.7 398.2l2.8 4.9h-5.6zM384.0 359.9l2.8 4.9h-5.6zM428.8 401.3l2.8 4.9h-5.6zM437.2 380.1l2.8 4.9h-5.6zM397.9 392.0l2.8 4.9h-5.6zM390.4 345.7l2.8 4.9h-5.6zM404.0 377.5l2.8 4.9h-5.6zM424.1 389.6l2.8 4.9h-5.6zM444.8 363.1l2.8 4.9h-5.6zM406.7 371.3l2.8 4.9h-5.6zM438.0 351.5l2.8 4.9h-5.6zM400.5 386.3l2.8 4.9h-5.6zM411.6 355.1l2.8 4.9h-5.6zM401.1 397.9l2.8 4.9h-5.6zM419.4 362.7l2.8 4.9h-5.6zM425.7 370.5l2.8 4.9h-5.6zM436.4 371.7l2.8 4.9h-5.6zM445.9 364.7l2.8 4.9h-5.6zM393.8 393.5l2.8 4.9h-5.6zM434.6 367.0l2.8 4.9h-5.6zM381.2 392.0l2.8 4.9h-5.6zM437.5 376.0l2.8 4.9h-5.6zM421.0 384.5l2.8 4.9h-5.6zM417.4 359.1l2.8 4.9h-5.6zM433.8 385.8l2.8 4.9h-5.6zM407.8 362.5l2.8 4.9h-5.6zM419.6 392.0l2.8 4.9h-5.6zM435.8 377.4l2.8 4.9h-5.6zM417.9 368.9l2.8 4.9h-5.6zM453.0 401.7l2.8 4.9h-5.6zM435.7 347.7l2.8 4.9h-5.6zM394.5 365.4l2.8 4.9h-5.6zM397.0 376.5l2.8 4.9h-5.6zM416.4 372.5l2.8 4.9h-5.6zM421.4 371.0l2.8 4.9h-5.6zM400.5 337.2l2.8 4.9h-5.6zM419.6 393.0l2.8 4.9h-5.6zM453.2 392.4l2.8 4.9h-5.6zM379.4 337.4l2.8 4.9h-5.6zM453.5 346.2l2.8 4.9h-5.6zM412.2 396.8l2.8 4.9h-5.6zM418.4 363.8l2.8 4.9h-5.6zM428.4 402.7l2.8 4.9h-5.6z"/><path fill="none" stroke="#4bbdb5" stroke-width="3.8" d="M357.2 419.0h3.8M362.7 375.8h3.8M369.5 386.4h3.8M376.7 364.1h3.8M374.8 372.7h3.8M347.1 375.8h3.8M384.2 394.4h3.8M331.3 373.4h3.8M381.2 382.8h3.8M388.3 420.2h3.8M404.3 396.8h3.8M379.5 409.5h3.8M357.4 402.6h3.8M367.3 381.6h3.8M375.8 372.7h3.8M378.8 370.9h3.8M372.1 394.5h3.8M369.3 367.4h3.8M374.9 408.3h3.8M327.8 395.3h3.8M373.3 362.9h3.8M364.6 368.3h3.8M365.2 411.7h3.8M380.4 391.3h3.8M375.7 364.2h3.8M351.4 366.1h3.8M397.0 359.4h3.8M398.0 373.3h3.8M349.8 374.0h3.8M379.5 391.5h3.8M380.3 376.6h3.8M349.5 339.4h3.8M340.1 364.6h3.8M356.9 393.6h3.8M339.7 375.3h3.8M349.4 378.5h3.8M348.3 378.8h3.8M364.0 393.1h3.8M365.3 347.8h3.8M366.9 389.6h3.8M343.3 405.7h3.8M385.3 430.0h3.8M372.7 400.4h3.8M361.7 378.1h3.8M375.5 393.0h3.8M371.4 402.1h3.8M363.9 410.6h3.8M350.0 393.7h3.8M353.9 405.3h3.8M356.4 393.9h3.8M371.5 393.5h3.8M351.4 382.5h3.8M331.6 400.6h3.8M357.6 434.5h3.8M328.1 439.5h3.8"/><path fill="none" stroke="#9575cd" stroke-width="2.7" stroke-linecap="round" d="M368.7 334.5h5.6m-2.8-2.8v5.6M343.2 326.6h5.6m-2.8-2.8v5.6M312.7 326.4h5.6m-2.8-2.8v5.6M370.2 323.0h5.6m-2.8-2.8v5.6M376.7 338.5h5.6m-2.8-2.8v5.6M353.7 313.7h5.6m-2.8-2.8v5.6M376.9 302.0h5.6m-2.8-2.8v5.6M348.1 336.3h5.6m-2.8-2.8v5.6M333.5 326.5h5.6m-2.8-2.8v5.6M346.6 351.2h5.6m-2.8-2.8v5.6M334.1 323.3h5.6m-2.8-2.8v5.6M365.2 337.7h5.6m-2.8-2.8v5.6M350.3 327.4h5.6m-2.8-2.8v5.6M338.9 307.1h5.6m-2.8-2.8v5.6M357.5 302.8h5.6m-2.8-2.8v5.6M363.7 340.6h5.6m-2.8-2.8v5.6M360.8 280.2h5.6m-2.8-2.8v5.6M359.2 318.4h5.6m-2.8-2.8v5.6M349.0 324.8h5.6m-2.8-2.8v5.6M373.6 265.0h5.6m-2.8-2.8v5.6M335.1 379.4h5.6m-2.8-2.8v5.6M336.0 275.4h5.6m-2.8-2.8v5.6M341.8 342.3h5.6m-2.8-2.8v5.6M353.5 313.4h5.6m-2.8-2.8v5.6M322.8 328.0h5.6m-2.8-2.8v5.6M296.9 297.5h5.6m-2.8-2.8v5.6M354.7 317.7h5.6m-2.8-2.8v5.6M330.8 299.2h5.6m-2.8-2.8v5.6M373.1 305.6h5.6m-2.8-2.8v5.6M349.2 286.1h5.6m-2.8-2.8v5.6M328.2 292.4h5.6m-2.8-2.8v5.6M359.9 323.0h5.6m-2.8-2.8v5.6M357.0 306.7h5.6m-2.8-2.8v5.6M365.8 308.7h5.6m-2.8-2.8v5.6M322.9 348.6h5.6m-2.8-2.8v5.6M356.3 342.8h5.6m-2.8-2.8v5.6M329.7 329.3h5.6m-2.8-2.8v5.6M343.9 252.1h5.6m-2.8-2.8v5.6M354.1 335.0h5.6m-2.8-2.8v5.6M357.8 302.1h5.6m-2.8-2.8v5.6M360.2 321.4h5.6m-2.8-2.8v5.6"/><path fill="none" stroke="#d6739b" stroke-width="4" stroke-linecap="round" d="M419.9 292.8h0M427.7 342.3h0M404.5 279.5h0M405.0 335.3h0M439.1 329.8h0M391.9 361.1h0M366.8 279.6h0M393.2 342.6h0M380.0 262.6h0M389.1 288.1h0M361.0 326.9h0M406.4 283.9h0M424.5 307.9h0M399.7 294.0h0M399.4 351.1h0M404.3 311.3h0M380.1 336.7h0M391.4 276.5h0M413.0 390.5h0M412.0 321.3h0M398.5 285.9h0M425.1 307.2h0M424.1 326.4h0M399.1 323.4h0M368.8 339.1h0M411.3 307.6h0M399.0 346.2h0M382.7 333.0h0M411.0 320.5h0M410.3 318.3h0M443.7 339.0h0M393.6 322.0h0M389.4 316.5h0M399.7 335.3h0M420.4 323.4h0M382.0 315.1h0M397.6 311.9h0M419.7 293.7h0M415.0 288.7h0M411.8 289.2h0M404.4 259.9h0M392.7 307.6h0M400.9 233.9h0M413.7 275.9h0M335.0 215.5h0"/><path fill="#7b8c46" stroke="none" d="M452.7 369.6l2.8 4.9h-5.6zM391.3 343.6l2.8 4.9h-5.6zM442.1 372.5l2.8 4.9h-5.6zM408.2 366.1l2.8 4.9h-5.6zM430.5 352.2l2.8 4.9h-5.6zM400.0 381.6l2.8 4.9h-5.6zM416.8 378.4l2.8 4.9h-5.6zM446.2 389.0l2.8 4.9h-5.6zM431.6 390.1l2.8 4.9h-5.6zM394.8 407.3l2.8 4.9h-5.6zM437.1 373.9l2.8 4.9h-5.6zM422.0 408.7l2.8 4.9h-5.6zM408.0 377.8l2.8 4.9h-5.6zM384.2 364.1l2.8 4.9h-5.6zM418.2 340.7l2.8 4.9h-5.6zM420.1 348.0l2.8 4.9h-5.6zM403.7 361.0l2.8 4.9h-5.6zM424.0 369.6l2.8 4.9h-5.6zM451.3 363.2l2.8 4.9h-5.6zM405.5 383.9l2.8 4.9h-5.6zM400.3 373.3l2.8 4.9h-5.6zM434.9 361.6l2.8 4.9h-5.6zM404.2 397.2l2.8 4.9h-5.6zM418.2 353.1l2.8 4.9h-5.6zM427.3 355.5l2.8 4.9h-5.6zM393.0 402.6l2.8 4.9h-5.6zM424.1 370.3l2.8 4.9h-5.6zM423.5 382.2l2.8 4.9h-5.6zM411.8 395.3l2.8 4.9h-5.6zM444.6 348.5l2.8 4.9h-5.6zM510.9 346.1l2.8 4.9h-5.6zM412.8 365.1l2.8 4.9h-5.6zM425.4 382.3l2.8 4.9h-5.6zM400.3 342.8l2.8 4.9h-5.6zM414.8 370.3l2.8 4.9h-5.6zM446.4 355.8l2.8 4.9h-5.6zM426.1 348.2l2.8 4.9h-5.6zM410.3 382.3l2.8 4.9h-5.6zM418.2 373.6l2.8 4.9h-5.6zM390.4 324.6l2.8 4.9h-5.6zM410.9 354.3l2.8 4.9h-5.6zM425.8 369.2l2.8 4.9h-5.6zM399.7 347.3l2.8 4.9h-5.6zM434.7 375.4l2.8 4.9h-5.6zM409.1 372.2l2.8 4.9h-5.6zM419.1 359.1l2.8 4.9h-5.6zM395.1 381.0l2.8 4.9h-5.6zM423.3 344.9l2.8 4.9h-5.6zM437.5 378.9l2.8 4.9h-5.6zM385.5 370.2l2.8 4.9h-5.6zM400.5 336.1l2.8 4.9h-5.6z"/><path fill="none" stroke="#4bbdb5" stroke-width="3.8" d="M365.2 348.7h3.8M396.2 389.6h3.8M320.5 398.8h3.8M323.4 389.0h3.8M364.4 373.2h3.8M366.9 411.4h3.8M338.3 397.9h3.8M348.1 373.7h3.8M336.1 408.4h3.8M343.3 398.0h3.8M342.0 381.9h3.8M367.4 383.4h3.8M364.4 346.5h3.8M349.8 389.9h3.8M341.7 385.5h3.8M347.4 399.8h3.8M344.4 401.5h3.8M362.8 371.0h3.8M344.8 400.5h3.8M360.3 419.7h3.8M369.5 380.4h3.8M374.1 375.5h3.8M354.7 381.5h3.8M363.8 369.8h3.8M369.4 361.1h3.8M368.5 362.5h3.8M344.9 347.3h3.8M359.9 343.8h3.8M363.9 402.9h3.8M360.0 369.2h3.8M369.1 361.9h3.8M334.3 395.8h3.8M368.7 370.3h3.8M338.0 375.8h3.8M386.4 367.2h3.8M381.7 366.8h3.8M364.1 420.4h3.8M366.5 411.3h3.8M358.9 396.3h3.8M366.9 394.9h3.8M336.1 407.4h3.8M383.8 387.0h3.8M342.8 389.4h3.8M375.2 410.7h3.8M377.2 376.3h3.8M392.8 357.4h3.8M365.3 350.2h3.8M359.3 399.9h3.8M360.4 415.0h3.8M385.4 376.3h3.8M344.0 387.6h3.8M337.7 402.8h3.8M384.1 432.7h3.8M365.0 393.5h3.8"/><path fill="none" stroke="#9575cd" stroke-width="2.7" stroke-linecap="round" d="M371.0 336.3h5.6m-2.8-2.8v5.6M333.4 326.7h5.6m-2.8-2.8v5.6M374.2 338.5h5.6m-2.8-2.8v5.6M347.0 297.8h5.6m-2.8-2.8v5.6M349.7 287.5h5.6m-2.8-2.8v5.6M361.6 360.0h5.6m-2.8-2.8v5.6M357.2 316.8h5.6m-2.8-2.8v5.6M380.8 319.2h5.6m-2.8-2.8v5.6M356.4 328.6h5.6m-2.8-2.8v5.6M359.9 287.0h5.6m-2.8-2.8v5.6M329.8 301.2h5.6m-2.8-2.8v5.6M362.1 307.7h5.6m-2.8-2.8v5.6M298.3 311.1h5.6m-2.8-2.8v5.6M346.7 364.4h5.6m-2.8-2.8v5.6M345.6 367.7h5.6m-2.8-2.8v5.6M385.2 276.1h5.6m-2.8-2.8v5.6M357.1 357.2h5.6m-2.8-2.8v5.6M363.0 338.8h5.6m-2.8-2.8v5.6M329.0 385.6h5.6m-2.8-2.8v5.6M352.1 302.1h5.6m-2.8-2.8v5.6M344.4 283.1h5.6m-2.8-2.8v5.6M317.7 337.8h5.6m-2.8-2.8v5.6M352.2 308.3h5.6m-2.8-2.8v5.6M335.2 380.9h5.6m-2.8-2.8v5.6M344.8 259.9h5.6m-2.8-2.8v5.6M347.0 311.2h5.6m-2.8-2.8v5.6M351.4 333.2h5.6m-2.8-2.8v5.6M332.0 309.1h5.6m-2.8-2.8v5.6M361.0 324.2h5.6m-2.8-2.8v5.6M313.4 284.1h5.6m-2.8-2.8v5.6M358.7 353.6h5.6m-2.8-2.8v5.6M375.5 303.1h5.6m-2.8-2.8v5.6M356.3 355.7h5.6m-2.8-2.8v5.6M353.9 276.4h5.6m-2.8-2.8v5.6M343.6 290.4h5.6m-2.8-2.8v5.6M340.0 369.6h5.6m-2.8-2.8v5.6M345.6 273.7h5.6m-2.8-2.8v5.6M367.2 353.5h5.6m-2.8-2.8v5.6M370.8 304.1h5.6m-2.8-2.8v5.6M367.7 289.2h5.6m-2.8-2.8v5.6M360.8 316.7h5.6m-2.8-2.8v5.6"/><path fill="none" stroke="#d6739b" stroke-width="4" stroke-linecap="round" d="M406.8 285.9h0M416.7 319.3h0M402.6 308.0h0M410.0 299.9h0M401.8 306.7h0M370.6 327.5h0M436.9 268.7h0M423.1 284.4h0M393.7 333.8h0M423.9 336.7h0M366.8 318.2h0M411.5 293.9h0M376.3 329.2h0M378.7 308.3h0M390.9 326.1h0M408.0 317.9h0M401.9 353.9h0M408.5 254.9h0M424.7 316.8h0M403.1 332.8h0M404.0 329.6h0M434.2 304.8h0M436.6 293.4h0M394.5 339.4h0M401.7 305.1h0M384.6 322.3h0M394.9 310.0h0M385.4 320.6h0M396.3 332.4h0M395.9 308.6h0M388.7 321.5h0M376.8 321.7h0M384.4 349.5h0M429.1 281.1h0M405.2 329.8h0M384.3 329.3h0M384.6 302.1h0M402.0 339.5h0M403.0 333.3h0M369.8 284.1h0M380.3 273.6h0M421.7 294.2h0M389.2 304.8h0M403.9 282.3h0M371.0 234.5h0"/><path fill="#7b8c46" stroke="none" d="M409.5 345.0l2.8 4.9h-5.6zM402.1 420.6l2.8 4.9h-5.6zM407.5 344.1l2.8 4.9h-5.6zM387.8 367.0l2.8 4.9h-5.6zM425.5 362.2l2.8 4.9h-5.6zM399.2 404.6l2.8 4.9h-5.6zM405.9 349.2l2.8 4.9h-5.6zM407.8 381.2l2.8 4.9h-5.6zM400.4 356.6l2.8 4.9h-5.6zM416.8 346.3l2.8 4.9h-5.6zM402.2 369.5l2.8 4.9h-5.6zM449.3 400.2l2.8 4.9h-5.6zM396.7 384.1l2.8 4.9h-5.6zM406.8 388.0l2.8 4.9h-5.6zM398.1 364.0l2.8 4.9h-5.6zM403.6 359.9l2.8 4.9h-5.6zM417.5 345.0l2.8 4.9h-5.6zM421.0 380.0l2.8 4.9h-5.6zM418.5 364.9l2.8 4.9h-5.6zM428.4 373.1l2.8 4.9h-5.6zM393.8 381.6l2.8 4.9h-5.6zM412.4 373.5l2.8 4.9h-5.6zM407.1 390.8l2.8 4.9h-5.6zM391.7 349.9l2.8 4.9h-5.6zM396.6 379.7l2.8 4.9h-5.6zM434.8 385.3l2.8 4.9h-5.6zM406.0 370.6l2.8 4.9h-5.6zM411.2 356.0l2.8 4.9h-5.6zM429.1 359.8l2.8 4.9h-5.6zM389.7 379.6l2.8 4.9h-5.6zM394.1 404.5l2.8 4.9h-5.6zM414.3 388.6l2.8 4.9h-5.6zM401.2 352.8l2.8 4.9h-5.6zM421.7 336.9l2.8 4.9h-5.6zM393.4 384.5l2.8 4.9h-5.6zM415.7 375.4l2.8 4.9h-5.6zM410.9 365.1l2.8 4.9h-5.6zM380.0 431.4l2.8 4.9h-5.6zM371.7 374.1l2.8 4.9h-5.6zM422.0 329.5l2.8 4.9h-5.6zM408.8 385.8l2.8 4.9h-5.6zM429.3 393.3l2.8 4.9h-5.6zM434.4 398.4l2.8 4.9h-5.6zM411.8 334.8l2.8 4.9h-5.6zM408.4 365.2l2.8 4.9h-5.6zM383.2 350.8l2.8 4.9h-5.6zM425.8 376.1l2.8 4.9h-5.6zM383.0 393.4l2.8 4.9h-5.6zM417.5 380.9l2.8 4.9h-5.6zM374.7 370.6l2.8 4.9h-5.6zM435.4 388.2l2.8 4.9h-5.6z"/><path fill="none" stroke="#4bbdb5" stroke-width="3.8" d="M368.9 395.9h3.8M375.7 385.1h3.8M382.4 392.5h3.8M379.9 370.5h3.8M358.6 388.4h3.8M353.4 401.1h3.8M351.9 393.0h3.8M361.7 392.4h3.8M319.0 395.0h3.8M381.8 377.1h3.8M366.4 381.5h3.8M361.4 393.3h3.8M340.9 393.7h3.8M391.5 377.5h3.8M369.7 375.5h3.8M383.9 353.4h3.8M379.0 434.1h3.8M358.6 400.3h3.8M378.3 396.6h3.8M367.0 426.2h3.8M359.2 361.2h3.8M368.0 391.6h3.8M359.0 343.6h3.8M381.1 405.3h3.8M385.3 340.0h3.8M356.2 394.3h3.8M366.2 364.5h3.8M374.0 421.4h3.8M354.7 358.9h3.8M356.9 391.6h3.8M369.5 380.0h3.8M338.9 391.5h3.8M360.2 421.4h3.8M337.5 391.0h3.8M353.6 436.0h3.8M343.3 383.9h3.8M363.1 389.0h3.8M343.9 349.1h3.8M396.7 385.6h3.8M328.4 371.1h3.8M364.8 364.3h3.8M363.8 416.4h3.8M348.8 405.3h3.8M391.1 375.1h3.8M344.5 417.2h3.8M364.9 413.0h3.8M345.6 412.5h3.8M394.5 401.7h3.8M355.5 404.2h3.8M370.9 387.4h3.8M357.3 369.7h3.8M371.2 395.8h3.8M365.6 397.4h3.8M361.3 390.7h3.8"/><path fill="none" stroke="#9575cd" stroke-width="2.7" stroke-linecap="round" d="M336.4 315.7h5.6m-2.8-2.8v5.6M347.2 296.2h5.6m-2.8-2.8v5.6M357.3 297.6h5.6m-2.8-2.8v5.6M339.0 314.5h5.6m-2.8-2.8v5.6M354.8 285.4h5.6m-2.8-2.8v5.6M373.4 302.6h5.6m-2.8-2.8v5.6M321.7 328.7h5.6m-2.8-2.8v5.6M353.1 318.3h5.6m-2.8-2.8v5.6M339.5 322.1h5.6m-2.8-2.8v5.6M358.4 304.3h5.6m-2.8-2.8v5.6M350.9 338.5h5.6m-2.8-2.8v5.6M341.3 326.8h5.6m-2.8-2.8v5.6M346.9 299.2h5.6m-2.8-2.8v5.6M340.8 326.7h5.6m-2.8-2.8v5.6M328.3 355.5h5.6m-2.8-2.8v5.6M359.7 307.6h5.6m-2.8-2.8v5.6M352.1 320.1h5.6m-2.8-2.8v5.6M337.9 335.9h5.6m-2.8-2.8v5.6M361.1 339.0h5.6m-2.8-2.8v5.6M342.1 273.2h5.6m-2.8-2.8v5.6M369.6 343.5h5.6m-2.8-2.8v5.6M343.1 305.1h5.6m-2.8-2.8v5.6M363.8 318.4h5.6m-2.8-2.8v5.6M334.2 314.1h5.6m-2.8-2.8v5.6M314.0 347.4h5.6m-2.8-2.8v5.6M319.6 333.9h5.6m-2.8-2.8v5.6M343.1 256.5h5.6m-2.8-2.8v5.6M354.0 309.1h5.6m-2.8-2.8v5.6M331.3 297.1h5.6m-2.8-2.8v5.6M371.1 243.5h5.6m-2.8-2.8v5.6M356.9 309.2h5.6m-2.8-2.8v5.6M362.5 261.9h5.6m-2.8-2.8v5.6M356.8 329.1h5.6m-2.8-2.8v5.6M371.8 318.4h5.6m-2.8-2.8v5.6M364.3 302.8h5.6m-2.8-2.8v5.6M383.1 340.5h5.6m-2.8-2.8v5.6M350.6 270.7h5.6m-2.8-2.8v5.6M340.4 285.6h5.6m-2.8-2.8v5.6M333.1 353.3h5.6m-2.8-2.8v5.6M353.6 315.6h5.6m-2.8-2.8v5.6M338.4 314.5h5.6m-2.8-2.8v5.6"/><path fill="none" stroke="#d6739b" stroke-width="4" stroke-linecap="round" d="M365.6 355.2h0M359.7 312.9h0M393.8 332.4h0M399.3 341.2h0M470.2 315.1h0M406.9 310.5h0M400.7 316.2h0M376.3 328.2h0M403.9 309.0h0M437.9 304.6h0M380.0 306.9h0M396.1 303.2h0M411.6 333.0h0M417.6 337.8h0M387.6 310.4h0M415.3 319.7h0M415.1 294.0h0M393.4 318.3h0M399.5 303.2h0M412.1 288.1h0M403.6 350.9h0M416.7 344.4h0M438.5 331.9h0M378.3 375.1h0M406.1 327.5h0M417.5 314.5h0M390.9 311.4h0M385.7 321.7h0M447.5 328.7h0M419.5 329.1h0M393.4 300.9h0M425.2 316.3h0M401.7 344.2h0M408.4 331.6h0M383.9 257.2h0M395.9 347.6h0M418.7 283.0h0M430.5 290.3h0M412.8 331.0h0M381.8 324.2h0M400.6 316.3h0M390.1 347.1h0M394.5 302.0h0M411.7 312.3h0"/><path fill="#7b8c46" stroke="none" d="M440.0 364.9l2.8 4.9h-5.6zM400.1 352.8l2.8 4.9h-5.6zM426.5 351.3l2.8 4.9h-5.6zM432.8 345.8l2.8 4.9h-5.6zM429.5 350.5l2.8 4.9h-5.6zM405.6 386.9l2.8 4.9h-5.6zM408.0 364.5l2.8 4.9h-5.6zM405.7 353.0l2.8 4.9h-5.6zM408.4 369.7l2.8 4.9h-5.6zM428.5 358.8l2.8 4.9h-5.6zM438.7 325.9l2.8 4.9h-5.6zM448.6 342.9l2.8 4.9h-5.6zM421.2 325.3l2.8 4.9h-5.6zM398.2 404.8l2.8 4.9h-5.6zM425.7 350.2l2.8 4.9h-5.6zM388.4 370.2l2.8 4.9h-5.6zM414.4 369.7l2.8 4.9h-5.6zM403.2 368.7l2.8 4.9h-5.6zM409.0 359.4l2.8 4.9h-5.6zM428.6 359.3l2.8 4.9h-5.6zM413.5 364.4l2.8 4.9h-5.6zM436.1 366.5l2.8 4.9h-5.6zM389.8 345.4l2.8 4.9h-5.6zM437.4 381.8l2.8 4.9h-5.6zM403.1 362.4l2.8 4.9h-5.6zM392.5 375.9l2.8 4.9h-5.6zM409.6 352.8l2.8 4.9h-5.6zM417.6 376.3l2.8 4.9h-5.6zM435.9 370.3l2.8 4.9h-5.6zM383.5 367.7l2.8 4.9h-5.6zM419.2 385.7l2.8 4.9h-5.6zM406.2 364.6l2.8 4.9h-5.6zM428.9 339.4l2.8 4.9h-5.6zM418.7 393.1l2.8 4.9h-5.6zM427.2 383.1l2.8 4.9h-5.6zM415.1 374.6l2.8 4.9h-5.6zM405.0 371.6l2.8 4.9h-5.6zM412.2 391.8l2.8 4.9h-5.6zM398.4 341.6l2.8 4.9h-5.6zM420.7 359.0l2.8 4.9h-5.6zM442.2 355.6l2.8 4.9h-5.6zM398.0 357.7l2.8 4.9h-5.6zM406.6 371.9l2.8 4.9h-5.6zM403.6 391.6l2.8 4.9h-5.6zM383.6 390.4l2.8 4.9h-5.6zM404.2 373.7l2.8 4.9h-5.6zM411.0 367.9l2.8 4.9h-5.6zM407.6 347.6l2.8 4.9h-5.6zM411.3 414.8l2.8 4.9h-5.6zM418.8 398.3l2.8 4.9h-5.6zM413.5 360.0l2.8 4.9h-5.6z"/><path fill="none" stroke="#4bbdb5" stroke-width="3.8" d="M365.9 390.1h3.8M372.1 382.0h3.8M382.6 409.1h3.8M343.0 404.9h3.8M331.0 405.5h3.8M358.6 405.1h3.8M347.1 408.2h3.8M360.2 386.1h3.8M335.9 399.9h3.8M372.7 371.8h3.8M367.6 390.9h3.8M366.9 392.2h3.8M330.8 408.7h3.8M351.0 414.5h3.8M369.3 412.1h3.8M381.3 380.5h3.8M359.6 365.1h3.8M344.8 394.1h3.8M381.2 335.1h3.8M339.5 392.4h3.8M355.5 366.1h3.8M373.8 404.6h3.8M397.9 359.2h3.8M351.1 397.3h3.8M375.9 394.9h3.8M361.4 390.2h3.8M363.4 392.7h3.8M377.6 389.9h3.8M358.4 360.9h3.8M359.6 419.4h3.8M363.2 371.9h3.8M407.5 334.9h3.8M360.5 365.7h3.8M335.6 360.4h3.8M357.2 406.4h3.8M365.5 429.7h3.8M373.9 369.5h3.8M373.6 412.4h3.8M371.8 383.4h3.8M357.2 383.8h3.8M360.2 392.8h3.8M360.0 363.6h3.8M355.4 381.6h3.8M379.0 388.9h3.8M368.6 410.7h3.8M353.5 365.3h3.8M375.8 404.2h3.8M343.0 430.0h3.8M362.9 394.8h3.8M382.8 394.0h3.8M347.8 389.3h3.8M351.5 397.2h3.8M381.9 373.7h3.8M385.4 397.7h3.8"/><path fill="none" stroke="#9575cd" stroke-width="2.7" stroke-linecap="round" d="M337.1 303.7h5.6m-2.8-2.8v5.6M349.7 323.5h5.6m-2.8-2.8v5.6M357.0 316.9h5.6m-2.8-2.8v5.6M366.4 312.9h5.6m-2.8-2.8v5.6M362.2 283.1h5.6m-2.8-2.8v5.6M337.6 285.2h5.6m-2.8-2.8v5.6M337.1 341.8h5.6m-2.8-2.8v5.6M329.8 304.5h5.6m-2.8-2.8v5.6M357.4 309.1h5.6m-2.8-2.8v5.6M354.6 308.3h5.6m-2.8-2.8v5.6M345.4 296.8h5.6m-2.8-2.8v5.6M358.2 347.1h5.6m-2.8-2.8v5.6M332.3 319.5h5.6m-2.8-2.8v5.6M314.3 341.1h5.6m-2.8-2.8v5.6M341.8 275.2h5.6m-2.8-2.8v5.6M360.4 362.7h5.6m-2.8-2.8v5.6M323.5 313.8h5.6m-2.8-2.8v5.6M315.4 326.0h5.6m-2.8-2.8v5.6M349.2 312.9h5.6m-2.8-2.8v5.6M341.0 265.2h5.6m-2.8-2.8v5.6M350.1 323.8h5.6m-2.8-2.8v5.6M326.7 329.7h5.6m-2.8-2.8v5.6M370.1 312.3h5.6m-2.8-2.8v5.6M371.8 284.1h5.6m-2.8-2.8v5.6M353.3 332.7h5.6m-2.8-2.8v5.6M368.6 355.1h5.6m-2.8-2.8v5.6M373.8 347.2h5.6m-2.8-2.8v5.6M344.3 353.6h5.6m-2.8-2.8v5.6M323.3 300.8h5.6m-2.8-2.8v5.6M325.0 327.4h5.6m-2.8-2.8v5.6M323.8 330.5h5.6m-2.8-2.8v5.6M364.0 313.3h5.6m-2.8-2.8v5.6M343.6 316.1h5.6m-2.8-2.8v5.6M360.3 315.2h5.6m-2.8-2.8v5.6M337.0 349.6h5.6m-2.8-2.8v5.6M348.7 363.7h5.6m-2.8-2.8v5.6M365.5 290.7h5.6m-2.8-2.8v5.6M364.2 295.0h5.6m-2.8-2.8v5.6M370.0 305.6h5.6m-2.8-2.8v5.6M360.9 330.9h5.6m-2.8-2.8v5.6M354.8 341.2h5.6m-2.8-2.8v5.6"/><path fill="none" stroke="#d6739b" stroke-width="4" stroke-linecap="round" d="M362.2 374.6h0M405.7 316.0h0M395.7 328.6h0M405.0 316.9h0M415.4 257.5h0M401.0 338.9h0M370.4 334.1h0M397.1 347.9h0M396.1 297.8h0M412.2 275.0h0M387.6 307.7h0M388.3 315.8h0M383.7 336.2h0M414.7 311.2h0M387.3 344.7h0M377.2 358.2h0M411.0 315.1h0M400.9 322.4h0M422.9 301.9h0M375.0 247.1h0M433.5 344.7h0M432.8 357.2h0M415.4 298.5h0M412.4 289.1h0M397.5 281.3h0M422.3 310.9h0M385.2 288.1h0M392.8 285.8h0M414.2 296.2h0M385.9 273.7h0M394.8 274.6h0M397.8 337.0h0M369.2 293.7h0M390.8 285.5h0M394.8 284.4h0M381.3 339.3h0M395.4 351.9h0M394.1 340.0h0M393.4 319.6h0M416.7 301.5h0M381.7 311.6h0M386.3 326.6h0M368.0 315.4h0M408.9 232.8h0"/><path fill="#7b8c46" stroke="none" d="M442.9 350.5l2.8 4.9h-5.6zM435.8 379.4l2.8 4.9h-5.6zM404.8 393.8l2.8 4.9h-5.6zM397.1 357.2l2.8 4.9h-5.6zM382.6 369.9l2.8 4.9h-5.6zM403.4 382.6l2.8 4.9h-5.6zM442.5 351.7l2.8 4.9h-5.6zM412.9 396.5l2.8 4.9h-5.6zM430.1 336.3l2.8 4.9h-5.6zM414.4 392.5l2.8 4.9h-5.6zM385.4 352.7l2.8 4.9h-5.6zM393.6 323.8l2.8 4.9h-5.6zM436.0 382.3l2.8 4.9h-5.6zM427.3 381.9l2.8 4.9h-5.6zM423.9 375.7l2.8 4.9h-5.6zM379.5 373.8l2.8 4.9h-5.6zM394.9 388.6l2.8 4.9h-5.6zM446.2 381.3l2.8 4.9h-5.6zM379.6 391.5l2.8 4.9h-5.6zM410.1 386.0l2.8 4.9h-5.6zM432.5 370.9l2.8 4.9h-5.6zM440.4 347.9l2.8 4.9h-5.6zM438.6 351.5l2.8 4.9h-5.6zM407.4 376.0l2.8 4.9h-5.6zM415.3 358.9l2.8 4.9h-5.6zM438.7 389.8l2.8 4.9h-5.6zM418.5 352.4l2.8 4.9h-5.6zM403.3 392.8l2.8 4.9h-5.6zM420.9 404.3l2.8 4.9h-5.6zM395.3 336.7l2.8 4.9h-5.6zM410.7 353.0l2.8 4.9h-5.6zM407.3 352.5l2.8 4.9h-5.6zM413.2 351.3l2.8 4.9h-5.6zM446.2 395.2l2.8 4.9h-5.6zM381.9 367.8l2.8 4.9h-5.6zM435.8 378.1l2.8 4.9h-5.6zM435.3 409.7l2.8 4.9h-5.6zM418.2 376.3l2.8 4.9h-5.6zM431.7 375.4l2.8 4.9h-5.6zM380.4 383.5l2.8 4.9h-5.6zM395.7 351.3l2.8 4.9h-5.6zM417.5 371.4l2.8 4.9h-5.6zM418.6 344.8l2.8 4.9h-5.6zM417.7 384.2l2.8 4.9h-5.6zM405.6 323.4l2.8 4.9h-5.6zM414.0 403.4l2.8 4.9h-5.6zM423.9 367.8l2.8 4.9h-5.6zM432.7 358.9l2.8 4.9h-5.6zM400.2 365.4l2.8 4.9h-5.6zM414.7 327.5l2.8 4.9h-5.6zM419.1 385.3l2.8 4.9h-5.6z"/><path fill="none" stroke="#4bbdb5" stroke-width="3.8" d="M374.5 398.0h3.8M369.6 404.9h3.8M361.9 406.1h3.8M378.8 353.6h3.8M343.9 389.2h3.8M352.2 389.5h3.8M318.5 396.4h3.8M391.2 396.5h3.8M362.3 392.9h3.8M385.5 387.4h3.8M360.1 404.6h3.8M357.2 353.3h3.8M362.9 390.1h3.8M354.1 353.8h3.8M359.3 401.8h3.8M371.5 358.5h3.8M368.8 430.4h3.8M372.3 399.8h3.8M340.7 390.7h3.8M368.2 389.4h3.8M378.5 398.5h3.8M393.0 370.7h3.8M378.3 379.8h3.8M359.1 374.4h3.8M347.3 384.7h3.8M370.1 412.2h3.8M365.8 411.4h3.8M370.6 392.5h3.8M364.2 369.9h3.8M370.9 402.3h3.8M388.7 390.1h3.8M352.6 381.6h3.8M378.9 392.7h3.8M368.2 379.2h3.8M363.4 411.8h3.8M352.7 376.0h3.8M370.7 385.9h3.8M353.9 378.0h3.8M342.3 411.8h3.8M340.5 370.6h3.8M375.0 386.2h3.8M350.4 359.6h3.8M388.4 373.1h3.8M367.7 314.6h3.8M346.2 388.7h3.8M341.0 390.3h3.8M375.8 360.7h3.8M367.7 391.4h3.8M425.0 411.1h3.8M358.2 385.7h3.8M346.1 366.6h3.8M354.5 387.6h3.8M337.0 360.9h3.8M381.2 407.7h3.8"/><path fill="none" stroke="#9575cd" stroke-width="2.7" stroke-linecap="round" d="M344.9 313.3h5.6m-2.8-2.8v5.6M322.3 311.8h5.6m-2.8-2.8v5.6M338.0 337.6h5.6m-2.8-2.8v5.6M351.5 312.8h5.6m-2.8-2.8v5.6M367.2 293.1h5.6m-2.8-2.8v5.6M360.9 321.0h5.6m-2.8-2.8v5.6M323.0 260.3h5.6m-2.8-2.8v5.6M356.0 303.7h5.6m-2.8-2.8v5.6M333.2 335.7h5.6m-2.8-2.8v5.6M351.0 300.6h5.6m-2.8-2.8v5.6M355.1 297.9h5.6m-2.8-2.8v5.6M366.0 338.8h5.6m-2.8-2.8v5.6M332.5 321.0h5.6m-2.8-2.8v5.6M354.4 301.5h5.6m-2.8-2.8v5.6M332.3 372.3h5.6m-2.8-2.8v5.6M342.5 353.6h5.6m-2.8-2.8v5.6M350.0 292.5h5.6m-2.8-2.8v5.6M349.3 327.2h5.6m-2.8-2.8v5.6M348.7 366.9h5.6m-2.8-2.8v5.6M325.6 352.3h5.6m-2.8-2.8v5.6M321.8 337.9h5.6m-2.8-2.8v5.6M364.5 297.2h5.6m-2.8-2.8v5.6M345.8 312.3h5.6m-2.8-2.8v5.6M365.8 302.8h5.6m-2.8-2.8v5.6M364.6 345.8h5.6m-2.8-2.8v5.6M316.5 310.9h5.6m-2.8-2.8v5.6M341.5 344.1h5.6m-2.8-2.8v5.6M358.5 309.0h5.6m-2.8-2.8v5.6M327.8 257.4h5.6m-2.8-2.8v5.6M320.9 290.7h5.6m-2.8-2.8v5.6M358.0 313.7h5.6m-2.8-2.8v5.6M321.0 356.1h5.6m-2.8-2.8v5.6M350.0 305.1h5.6m-2.8-2.8v5.6M314.6 349.3h5.6m-2.8-2.8v5.6M365.8 318.2h5.6m-2.8-2.8v5.6M345.5 382.5h5.6m-2.8-2.8v5.6M323.6 326.6h5.6m-2.8-2.8v5.6M314.0 315.3h5.6m-2.8-2.8v5.6M364.6 319.4h5.6m-2.8-2.8v5.6M380.9 339.9h5.6m-2.8-2.8v5.6M364.7 367.9h5.6m-2.8-2.8v5.6"/><path fill="none" stroke="#d6739b" stroke-width="4" stroke-linecap="round" d="M421.9 243.0h0M401.7 308.4h0M384.8 305.2h0M411.1 319.1h0M366.8 350.2h0M416.5 279.2h0M399.6 333.8h0M391.4 235.8h0M379.0 310.6h0M440.7 336.5h0M372.4 331.6h0M415.1 321.6h0M422.1 297.0h0M399.2 284.3h0M399.3 310.8h0M422.9 303.1h0M402.9 304.8h0M386.7 335.7h0M415.9 316.4h0M399.5 328.5h0M408.9 281.4h0M380.9 274.7h0M390.3 337.1h0M422.4 332.1h0M422.1 335.7h0M368.9 341.1h0M389.4 287.7h0M410.4 345.9h0M371.2 331.9h0M418.1 276.0h0M391.8 302.7h0M384.8 319.9h0M395.6 299.6h0M394.7 308.2h0M406.9 300.8h0M386.7 334.0h0M395.0 271.7h0M422.1 338.4h0M410.7 306.3h0M414.9 347.0h0M393.6 314.5h0M415.3 314.7h0M436.5 308.0h0M395.8 318.5h0"/><path fill="#7b8c46" stroke="none" d="M418.5 371.3l2.8 4.9h-5.6zM417.4 354.8l2.8 4.9h-5.6zM409.6 360.9l2.8 4.9h-5.6zM434.5 398.4l2.8 4.9h-5.6zM420.5 384.8l2.8 4.9h-5.6zM401.9 358.0l2.8 4.9h-5.6zM407.9 371.3l2.8 4.9h-5.6zM411.0 369.1l2.8 4.9h-5.6zM445.4 369.7l2.8 4.9h-5.6zM446.7 333.1l2.8 4.9h-5.6zM422.5 384.9l2.8 4.9h-5.6zM414.9 369.2l2.8 4.9h-5.6zM416.3 362.3l2.8 4.9h-5.6zM417.4 378.5l2.8 4.9h-5.6zM398.7 345.5l2.8 4.9h-5.6zM433.1 402.7l2.8 4.9h-5.6zM422.7 386.2l2.8 4.9h-5.6zM407.9 391.4l2.8 4.9h-5.6zM421.7 328.7l2.8 4.9h-5.6zM413.2 394.7l2.8 4.9h-5.6zM439.7 375.8l2.8 4.9h-5.6zM417.9 365.1l2.8 4.9h-5.6zM424.5 374.7l2.8 4.9h-5.6zM381.2 370.9l2.8 4.9h-5.6zM409.5 380.5l2.8 4.9h-5.6zM392.0 354.6l2.8 4.9h-5.6zM447.9 344.2l2.8 4.9h-5.6zM377.8 348.0l2.8 4.9h-5.6zM415.7 380.1l2.8 4.9h-5.6zM443.3 349.7l2.8 4.9h-5.6zM400.3 381.8l2.8 4.9h-5.6zM394.4 393.1l2.8 4.9h-5.6zM428.0 429.8l2.8 4.9h-5.6zM384.5 338.6l2.8 4.9h-5.6zM410.4 358.1l2.8 4.9h-5.6zM418.5 380.8l2.8 4.9h-5.6zM433.2 393.7l2.8 4.9h-5.6zM387.2 403.9l2.8 4.9h-5.6zM418.2 370.7l2.8 4.9h-5.6zM448.1 354.6l2.8 4.9h-5.6zM443.6 371.5l2.8 4.9h-5.6zM404.9 375.9l2.8 4.9h-5.6zM388.1 350.7l2.8 4.9h-5.6zM452.4 365.4l2.8 4.9h-5.6zM405.4 354.9l2.8 4.9h-5.6zM405.1 385.2l2.8 4.9h-5.6zM420.5 389.1l2.8 4.9h-5.6zM399.3 381.9l2.8 4.9h-5.6zM417.3 377.3l2.8 4.9h-5.6zM410.8 384.6l2.8 4.9h-5.6zM408.8 390.2l2.8 4.9h-5.6z"/><path fill="none" stroke="#4bbdb5" stroke-width="3.8" d="M347.6 403.5h3.8M356.8 384.4h3.8M349.6 395.9h3.8M395.3 388.9h3.8M348.3 394.4h3.8M360.2 389.0h3.8M347.6 384.0h3.8M383.6 396.0h3.8M350.9 425.0h3.8M365.6 390.7h3.8M373.8 379.1h3.8M363.7 387.7h3.8M368.7 393.3h3.8M354.1 366.7h3.8M342.0 392.5h3.8M325.2 378.6h3.8M354.9 415.8h3.8M351.9 433.8h3.8M357.0 402.7h3.8M330.8 404.8h3.8M371.2 409.2h3.8M347.3 345.2h3.8M389.6 388.4h3.8M357.9 424.2h3.8M338.9 365.9h3.8M374.0 414.0h3.8M342.4 344.7h3.8M370.6 348.0h3.8M370.4 372.3h3.8M355.7 404.5h3.8M360.4 400.9h3.8M372.2 399.0h3.8M389.1 343.0h3.8M378.5 401.7h3.8M349.1 414.1h3.8M346.6 372.1h3.8M379.3 405.5h3.8M366.6 385.6h3.8M351.0 405.4h3.8M360.8 384.1h3.8M356.5 362.3h3.8M385.4 420.5h3.8M356.2 369.8h3.8M378.2 378.5h3.8M351.2 427.1h3.8M373.8 354.8h3.8M361.3 389.0h3.8M336.6 437.8h3.8M384.1 396.0h3.8M336.8 387.9h3.8M371.2 382.0h3.8M385.8 388.5h3.8M357.2 372.4h3.8M385.1 347.0h3.8"/><path fill="none" stroke="#9575cd" stroke-width="2.7" stroke-linecap="round" d="M355.4 323.1h5.6m-2.8-2.8v5.6M346.3 310.9h5.6m-2.8-2.8v5.6M347.3 345.1h5.6m-2.8-2.8v5.6M348.2 329.4h5.6m-2.8-2.8v5.6M330.9 298.0h5.6m-2.8-2.8v5.6M347.3 355.2h5.6m-2.8-2.8v5.6M346.8 320.8h5.6m-2.8-2.8v5.6M335.1 324.0h5.6m-2.8-2.8v5.6M343.1 341.2h5.6m-2.8-2.8v5.6M358.8 338.5h5.6m-2.8-2.8v5.6M352.7 335.1h5.6m-2.8-2.8v5.6M362.7 269.2h5.6m-2.8-2.8v5.6M363.3 313.3h5.6m-2.8-2.8v5.6M366.7 317.8h5.6m-2.8-2.8v5.6M318.0 296.4h5.6m-2.8-2.8v5.6M364.9 354.0h5.6m-2.8-2.8v5.6M352.1 308.5h5.6m-2.8-2.8v5.6M355.1 331.6h5.6m-2.8-2.8v5.6M320.4 355.6h5.6m-2.8-2.8v5.6M349.1 319.5h5.6m-2.8-2.8v5.6M371.1 393.8h5.6m-2.8-2.8v5.6M354.4 252.9h5.6m-2.8-2.8v5.6M362.2 304.4h5.6m-2.8-2.8v5.6M347.3 354.2h5.6m-2.8-2.8v5.6M359.2 354.9h5.6m-2.8-2.8v5.6M383.2 344.2h5.6m-2.8-2.8v5.6M330.5 375.0h5.6m-2.8-2.8v5.6M322.1 280.7h5.6m-2.8-2.8v5.6M316.4 305.4h5.6m-2.8-2.8v5.6M371.2 307.6h5.6m-2.8-2.8v5.6M343.7 331.7h5.6m-2.8-2.8v5.6M369.2 330.5h5.6m-2.8-2.8v5.6M326.0 351.1h5.6m-2.8-2.8v5.6M332.1 356.2h5.6m-2.8-2.8v5.6M358.7 327.2h5.6m-2.8-2.8v5.6M360.7 306.0h5.6m-2.8-2.8v5.6M328.7 281.4h5.6m-2.8-2.8v5.6M368.3 245.1h5.6m-2.8-2.8v5.6M345.0 317.0h5.6m-2.8-2.8v5.6M366.7 341.0h5.6m-2.8-2.8v5.6M365.7 344.7h5.6m-2.8-2.8v5.6"/><path fill="none" stroke="#d6739b" stroke-width="4" stroke-linecap="round" d="M405.0 287.8h0M379.6 335.5h0M394.1 367.1h0M423.1 286.2h0M375.2 342.8h0M418.4 316.7h0M410.4 291.1h0M420.6 329.5h0M393.8 279.2h0M390.9 325.3h0M370.4 335.3h0M391.3 326.2h0M394.7 354.2h0M409.0 337.4h0M392.0 306.6h0M417.1 332.1h0M403.1 275.6h0M404.9 298.1h0M387.8 339.5h0M402.2 268.2h0M401.6 309.9h0M387.6 340.0h0M379.3 302.0h0M400.6 287.5h0M390.0 275.0h0M392.9 288.9h0M421.4 362.1h0M413.1 263.9h0M411.7 303.4h0M411.7 366.8h0M427.9 335.6h0M391.6 306.7h0M408.1 286.0h0M366.3 300.9h0M372.7 355.2h0M399.7 291.3h0M372.1 376.8h0M415.9 359.4h0M445.0 297.0h0M423.6 315.5h0M399.8 333.9h0M382.7 297.6h0M377.3 370.1h0M417.6 336.1h0"/><path fill="#7b8c46" stroke="none" d="M397.6 319.8l2.8 4.9h-5.6zM418.5 365.2l2.8 4.9h-5.6zM385.5 368.5l2.8 4.9h-5.6zM394.6 370.4l2.8 4.9h-5.6zM415.4 361.6l2.8 4.9h-5.6zM358.6 385.4l2.8 4.9h-5.6zM383.2 359.5l2.8 4.9h-5.6zM433.9 368.4l2.8 4.9h-5.6zM414.6 343.2l2.8 4.9h-5.6zM432.4 336.8l2.8 4.9h-5.6zM432.5 342.8l2.8 4.9h-5.6zM383.0 410.1l2.8 4.9h-5.6zM404.2 396.1l2.8 4.9h-5.6zM418.2 351.6l2.8 4.9h-5.6zM408.4 351.0l2.8 4.9h-5.6zM422.9 389.3l2.8 4.9h-5.6zM391.9 371.8l2.8 4.9h-5.6zM395.5 373.9l2.8 4.9h-5.6zM433.8 374.2l2.8 4.9h-5.6zM474.2 351.7l2.8 4.9h-5.6zM408.7 359.4l2.8 4.9h-5.6zM425.1 340.6l2.8 4.9h-5.6zM408.6 336.7l2.8 4.9h-5.6zM416.3 374.0l2.8 4.9h-5.6zM422.9 377.4l2.8 4.9h-5.6zM425.7 350.0l2.8 4.9h-5.6zM432.2 345.0l2.8 4.9h-5.6zM395.9 374.9l2.8 4.9h-5.6zM392.6 396.3l2.8 4.9h-5.6zM383.5 354.4l2.8 4.9h-5.6zM417.8 411.8l2.8 4.9h-5.6zM424.4 335.2l2.8 4.9h-5.6zM403.7 369.7l2.8 4.9h-5.6zM433.9 389.5l2.8 4.9h-5.6zM436.1 368.9l2.8 4.9h-5.6zM400.2 398.6l2.8 4.9h-5.6zM436.1 354.9l2.8 4.9h-5.6zM409.4 363.6l2.8 4.9h-5.6zM429.4 329.9l2.8 4.9h-5.6zM422.3 349.6l2.8 4.9h-5.6zM416.0 354.2l2.8 4.9h-5.6zM386.0 427.4l2.8 4.9h-5.6zM393.8 390.0l2.8 4.9h-5.6zM423.7 396.0l2.8 4.9h-5.6zM388.9 371.4l2.8 4.9h-5.6zM426.8 367.9l2.8 4.9h-5.6zM401.4 366.2l2.8 4.9h-5.6zM415.0 302.0l2.8 4.9h-5.6zM430.0 362.1l2.8 4.9h-5.6zM372.5 349.8l2.8 4.9h-5.6zM410.9 353.9l2.8 4.9h-5.6z"/><path fill="none" stroke="#4bbdb5" stroke-width="3.8" d="M361.7 411.5h3.8M367.9 392.2h3.8M356.1 417.6h3.8M380.5 382.0h3.8M371.5 375.0h3.8M394.9 391.8h3.8M357.9 400.7h3.8M340.5 431.1h3.8M387.4 383.7h3.8M342.9 375.6h3.8M347.7 376.7h3.8M342.5 374.0h3.8M373.9 434.2h3.8M350.6 354.3h3.8M360.5 397.3h3.8M369.5 360.1h3.8M368.8 371.5h3.8M368.6 410.5h3.8M362.8 396.1h3.8M325.1 390.5h3.8M349.1 382.2h3.8M339.6 417.0h3.8M384.8 403.7h3.8M355.2 386.7h3.8M365.2 387.7h3.8M360.6 390.2h3.8M348.3 411.8h3.8M343.2 389.8h3.8M353.4 393.0h3.8M380.7 395.2h3.8M360.9 398.3h3.8M343.3 378.9h3.8M356.9 401.5h3.8M391.1 393.2h3.8M372.8 378.1h3.8M350.9 394.2h3.8M336.9 389.2h3.8M374.3 412.0h3.8M364.8 394.3h3.8M355.4 368.3h3.8M349.0 421.0h3.8M364.7 394.5h3.8M332.3 344.5h3.8M390.0 364.0h3.8M362.0 374.4h3.8M349.9 392.7h3.8M395.8 374.3h3.8M367.5 364.1h3.8M332.6 440.7h3.8M352.3 411.7h3.8M383.8 387.3h3.8M357.0 421.7h3.8M332.2 425.8h3.8M358.7 400.6h3.8"/><path fill="none" stroke="#9575cd" stroke-width="2.7" stroke-linecap="round" d="M343.7 333.0h5.6m-2.8-2.8v5.6M353.0 291.3h5.6m-2.8-2.8v5.6M345.5 279.7h5.6m-2.8-2.8v5.6M379.0 323.4h5.6m-2.8-2.8v5.6M340.8 311.0h5.6m-2.8-2.8v5.6M359.7 385.0h5.6m-2.8-2.8v5.6M347.1 308.7h5.6m-2.8-2.8v5.6M332.4 340.4h5.6m-2.8-2.8v5.6M358.8 292.3h5.6m-2.8-2.8v5.6M380.4 280.5h5.6m-2.8-2.8v5.6M330.6 306.3h5.6m-2.8-2.8v5.6M353.9 352.3h5.6m-2.8-2.8v5.6M354.9 356.7h5.6m-2.8-2.8v5.6M347.1 336.8h5.6m-2.8-2.8v5.6M343.4 316.4h5.6m-2.8-2.8v5.6M350.8 315.0h5.6m-2.8-2.8v5.6M336.3 298.4h5.6m-2.8-2.8v5.6M341.7 339.4h5.6m-2.8-2.8v5.6M361.6 348.1h5.6m-2.8-2.8v5.6M352.2 279.9h5.6m-2.8-2.8v5.6M367.7 322.7h5.6m-2.8-2.8v5.6M351.7 299.4h5.6m-2.8-2.8v5.6M342.9 330.7h5.6m-2.8-2.8v5.6M314.4 363.3h5.6m-2.8-2.8v5.6M334.4 260.3h5.6m-2.8-2.8v5.6M341.2 309.6h5.6m-2.8-2.8v5.6M370.7 299.4h5.6m-2.8-2.8v5.6M371.7 366.0h5.6m-2.8-2.8v5.6M354.9 332.5h5.6m-2.8-2.8v5.6M332.2 340.8h5.6m-2.8-2.8v5.6M338.9 284.9h5.6m-2.8-2.8v5.6M346.0 297.9h5.6m-2.8-2.8v5.6M367.7 305.0h5.6m-2.8-2.8v5.6M337.1 340.2h5.6m-2.8-2.8v5.6M347.1 245.5h5.6m-2.8-2.8v5.6M350.3 317.7h5.6m-2.8-2.8v5.6M372.5 335.4h5.6m-2.8-2.8v5.6M326.8 323.0h5.6m-2.8-2.8v5.6M321.1 305.4h5.6m-2.8-2.8v5.6M315.1 294.6h5.6m-2.8-2.8v5.6M316.6 289.8h5.6m-2.8-2.8v5.6"/><path fill="none" stroke="#d6739b" stroke-width="4" stroke-linecap="round" d="M389.8 319.3h0M391.8 280.1h0M373.2 295.6h0M414.2 260.5h0M398.9 354.9h0M436.9 307.1h0M403.8 331.7h0M443.3 339.2h0M436.6 296.0h0M406.8 367.2h0M373.7 331.5h0M400.1 293.4h0M393.7 348.0h0M369.8 292.1h0M403.5 261.6h0M399.6 260.7h0M405.3 339.7h0M405.0 340.5h0M423.9 265.7h0M417.6 365.7h0M421.0 315.4h0M434.5 350.5h0M399.7 323.1h0M385.9 277.6h0M398.6 313.9h0M391.4 320.7h0M394.7 307.9h0M410.9 322.7h0M390.4 257.9h0M394.3 323.5h0M392.8 320.2h0M387.9 356.2h0M352.3 275.4h0M409.7 308.0h0M402.9 299.5h0M342.5 411.0h0M388.5 308.4h0M372.4 348.4h0M401.6 277.4h0M438.2 353.3h0M433.2 319.7h0M392.6 312.5h0M454.9 387.9h0M386.2 306.7h0"/><path fill="#7b8c46" stroke="none" d="M434.6 343.5l2.8 4.9h-5.6zM423.7 332.3l2.8 4.9h-5.6zM458.2 377.1l2.8 4.9h-5.6zM408.4 359.1l2.8 4.9h-5.6zM431.4 368.4l2.8 4.9h-5.6zM425.8 375.6l2.8 4.9h-5.6zM387.3 377.9l2.8 4.9h-5.6zM425.5 386.9l2.8 4.9h-5.6zM421.0 354.1l2.8 4.9h-5.6zM411.7 392.5l2.8 4.9h-5.6zM398.0 358.3l2.8 4.9h-5.6zM383.6 405.1l2.8 4.9h-5.6zM398.8 377.6l2.8 4.9h-5.6zM415.8 370.9l2.8 4.9h-5.6zM420.9 334.7l2.8 4.9h-5.6zM407.2 369.2l2.8 4.9h-5.6zM409.3 368.3l2.8 4.9h-5.6zM406.0 389.8l2.8 4.9h-5.6zM415.9 403.8l2.8 4.9h-5.6zM411.1 374.0l2.8 4.9h-5.6zM423.4 396.9l2.8 4.9h-5.6zM436.7 326.7l2.8 4.9h-5.6zM441.9 360.5l2.8 4.9h-5.6zM432.7 341.6l2.8 4.9h-5.6zM450.9 334.4l2.8 4.9h-5.6zM401.6 361.3l2.8 4.9h-5.6zM393.9 355.6l2.8 4.9h-5.6zM407.5 361.9l2.8 4.9h-5.6zM405.5 365.4l2.8 4.9h-5.6zM392.5 419.1l2.8 4.9h-5.6zM438.7 373.9l2.8 4.9h-5.6zM397.8 330.9l2.8 4.9h-5.6zM397.6 390.5l2.8 4.9h-5.6zM383.9 330.0l2.8 4.9h-5.6zM479.8 353.1l2.8 4.9h-5.6zM413.8 406.9l2.8 4.9h-5.6zM402.9 375.2l2.8 4.9h-5.6zM411.6 357.8l2.8 4.9h-5.6zM407.6 336.4l2.8 4.9h-5.6zM423.7 355.1l2.8 4.9h-5.6zM383.2 353.5l2.8 4.9h-5.6zM379.2 344.6l2.8 4.9h-5.6zM417.4 383.7l2.8 4.9h-5.6zM383.1 373.5l2.8 4.9h-5.6zM414.0 361.5l2.8 4.9h-5.6zM404.1 375.0l2.8 4.9h-5.6zM445.9 349.9l2.8 4.9h-5.6zM373.8 344.7l2.8 4.9h-5.6zM394.7 362.7l2.8 4.9h-5.6zM426.2 380.4l2.8 4.9h-5.6zM459.9 371.6l2.8 4.9h-5.6z"/><path fill="none" stroke="#4bbdb5" stroke-width="3.8" d="M366.7 381.7h3.8M354.4 392.0h3.8M331.0 358.3h3.8M352.0 417.0h3.8M385.0 370.6h3.8M347.2 363.0h3.8M360.9 391.3h3.8M375.8 419.4h3.8M376.0 356.0h3.8M365.3 373.8h3.8M382.5 362.9h3.8M357.6 387.0h3.8M406.2 370.6h3.8M376.3 369.5h3.8M357.7 392.4h3.8M345.6 398.2h3.8M359.8 390.0h3.8M351.5 396.3h3.8M364.8 380.4h3.8M340.5 375.3h3.8M369.3 381.1h3.8M382.5 379.5h3.8M369.4 356.1h3.8M358.2 366.8h3.8M344.4 375.2h3.8M373.1 426.3h3.8M374.8 385.4h3.8M369.7 385.0h3.8M351.0 389.7h3.8M357.5 403.4h3.8M368.6 386.3h3.8M341.5 405.3h3.8M389.1 374.8h3.8M370.7 382.2h3.8M379.1 392.4h3.8M371.8 408.6h3.8M374.0 401.5h3.8M394.3 364.7h3.8M370.3 342.2h3.8M362.6 356.1h3.8M373.6 368.9h3.8M362.9 359.8h3.8M370.4 396.5h3.8M350.1 430.6h3.8M364.3 378.4h3.8M361.7 383.7h3.8M360.1 406.0h3.8M350.1 385.8h3.8M360.5 375.4h3.8M374.5 431.1h3.8M365.5 377.4h3.8M399.2 398.2h3.8M346.5 397.2h3.8M366.5 372.7h3.8"/><path fill="none" stroke="#9575cd" stroke-width="2.7" stroke-linecap="round" d="M375.6 350.1h5.6m-2.8-2.8v5.6M339.9 300.0h5.6m-2.8-2.8v5.6M350.3 297.1h5.6m-2.8-2.8v5.6M333.0 327.1h5.6m-2.8-2.8v5.6M374.9 297.2h5.6m-2.8-2.8v5.6M335.7 296.9h5.6m-2.8-2.8v5.6M349.2 366.9h5.6m-2.8-2.8v5.6M355.3 349.3h5.6m-2.8-2.8v5.6M333.2 309.7h5.6m-2.8-2.8v5.6M325.1 358.2h5.6m-2.8-2.8v5.6M340.3 310.6h5.6m-2.8-2.8v5.6M353.2 298.1h5.6m-2.8-2.8v5.6M334.8 272.2h5.6m-2.8-2.8v5.6M370.1 332.4h5.6m-2.8-2.8v5.6M346.4 364.2h5.6m-2.8-2.8v5.6M361.9 329.9h5.6m-2.8-2.8v5.6M344.4 301.9h5.6m-2.8-2.8v5.6M351.6 299.3h5.6m-2.8-2.8v5.6M333.4 285.4h5.6m-2.8-2.8v5.6M347.0 322.6h5.6m-2.8-2.8v5.6M335.6 303.0h5.6m-2.8-2.8v5.6M317.2 242.0h5.6m-2.8-2.8v5.6M325.8 301.3h5.6m-2.8-2.8v5.6M345.6 319.2h5.6m-2.8-2.8v5.6M338.7 327.4h5.6m-2.8-2.8v5.6M360.9 340.4h5.6m-2.8-2.8v5.6M356.3 326.9h5.6m-2.8-2.8v5.6M336.6 318.0h5.6m-2.8-2.8v5.6M345.4 342.1h5.6m-2.8-2.8v5.6M362.6 294.1h5.6m-2.8-2.8v5.6M325.5 305.9h5.6m-2.8-2.8v5.6M325.3 351.5h5.6m-2.8-2.8v5.6M328.0 301.5h5.6m-2.8-2.8v5.6M306.6 314.3h5.6m-2.8-2.8v5.6M332.4 313.8h5.6m-2.8-2.8v5.6M365.6 312.6h5.6m-2.8-2.8v5.6M363.3 354.9h5.6m-2.8-2.8v5.6M355.0 322.4h5.6m-2.8-2.8v5.6M326.8 300.8h5.6m-2.8-2.8v5.6M359.7 338.0h5.6m-2.8-2.8v5.6M363.3 305.6h5.6m-2.8-2.8v5.6"/><path fill="none" stroke="#d6739b" stroke-width="4" stroke-linecap="round" d="M403.4 300.2h0M428.8 346.7h0M400.9 323.2h0M366.4 342.5h0M382.3 286.0h0M390.1 340.3h0M389.8 303.4h0M369.7 345.5h0M431.3 308.8h0M424.7 220.6h0M410.1 351.4h0M391.4 278.9h0M396.2 296.2h0M388.4 368.0h0M402.9 293.6h0M370.3 286.7h0M363.0 372.1h0M406.0 291.4h0M373.4 341.5h0M395.9 309.2h0M374.6 352.6h0M412.4 336.6h0M388.6 244.3h0M393.4 358.3h0M370.4 346.7h0M356.5 236.4h0M431.6 269.4h0M374.4 279.4h0M384.4 303.3h0M401.8 336.9h0M407.2 302.8h0M390.9 331.2h0M424.4 343.7h0M389.4 306.7h0M411.4 360.2h0M422.5 337.8h0M359.5 358.2h0M410.5 339.9h0M422.3 317.9h0M422.8 256.0h0M403.9 314.7h0M367.7 318.1h0M408.8 315.6h0M381.5 339.0h0"/><path fill="#7b8c46" stroke="none" d="M477.0 415.2l2.8 4.9h-5.6zM419.1 363.8l2.8 4.9h-5.6zM380.7 362.9l2.8 4.9h-5.6zM417.0 352.7l2.8 4.9h-5.6zM432.1 418.0l2.8 4.9h-5.6zM423.3 370.8l2.8 4.9h-5.6zM390.7 373.1l2.8 4.9h-5.6zM415.7 379.8l2.8 4.9h-5.6zM405.1 344.2l2.8 4.9h-5.6zM411.1 380.6l2.8 4.9h-5.6zM437.9 357.9l2.8 4.9h-5.6zM396.7 373.3l2.8 4.9h-5.6zM419.6 380.2l2.8 4.9h-5.6zM416.6 385.3l2.8 4.9h-5.6zM430.1 358.3l2.8 4.9h-5.6zM418.7 393.2l2.8 4.9h-5.6zM392.3 352.7l2.8 4.9h-5.6zM418.8 367.2l2.8 4.9h-5.6zM439.8 333.6l2.8 4.9h-5.6zM389.9 361.1l2.8 4.9h-5.6zM441.8 368.6l2.8 4.9h-5.6zM432.5 333.2l2.8 4.9h-5.6zM400.2 337.4l2.8 4.9h-5.6zM411.2 381.9l2.8 4.9h-5.6zM412.3 360.4l2.8 4.9h-5.6zM428.4 371.5l2.8 4.9h-5.6zM420.0 358.2l2.8 4.9h-5.6zM452.8 344.7l2.8 4.9h-5.6zM385.2 387.1l2.8 4.9h-5.6zM401.6 374.8l2.8 4.9h-5.6zM423.7 368.1l2.8 4.9h-5.6zM400.2 361.7l2.8 4.9h-5.6zM428.6 390.6l2.8 4.9h-5.6zM424.5 347.4l2.8 4.9h-5.6zM415.7 392.0l2.8 4.9h-5.6zM404.8 394.8l2.8 4.9h-5.6zM419.2 346.3l2.8 4.9h-5.6zM419.3 429.0l2.8 4.9h-5.6zM389.9 381.4l2.8 4.9h-5.6zM412.5 362.1l2.8 4.9h-5.6zM392.9 380.1l2.8 4.9h-5.6zM450.2 357.9l2.8 4.9h-5.6zM374.2 365.2l2.8 4.9h-5.6zM396.1 348.7l2.8 4.9h-5.6zM414.3 395.1l2.8 4.9h-5.6zM436.2 368.4l2.8 4.9h-5.6zM408.3 369.5l2.8 4.9h-5.6zM452.3 360.4l2.8 4.9h-5.6zM385.4 379.2l2.8 4.9h-5.6zM441.7 315.6l2.8 4.9h-5.6zM426.0 400.9l2.8 4.9h-5.6z"/><path fill="none" stroke="#4bbdb5" stroke-width="3.8" d="M350.8 395.2h3.8M350.3 396.6h3.8M388.3 396.6h3.8M382.0 369.7h3.8M327.2 426.5h3.8M364.0 401.2h3.8M362.3 346.1h3.8M363.8 406.1h3.8M367.6 380.2h3.8M347.2 402.9h3.8M349.5 367.5h3.8M344.1 406.7h3.8M352.7 386.0h3.8M393.0 405.8h3.8M370.5 375.5h3.8M367.5 402.1h3.8M344.3 406.5h3.8M339.3 421.1h3.8M368.6 414.2h3.8M369.8 370.0h3.8M381.6 418.3h3.8M351.1 382.6h3.8M369.3 422.3h3.8M350.6 360.0h3.8M368.0 383.4h3.8M367.8 391.1h3.8M364.6 417.4h3.8M338.4 358.7h3.8M359.4 411.2h3.8M314.6 392.1h3.8M352.2 416.9h3.8M368.4 376.3h3.8M351.6 362.5h3.8M377.8 387.9h3.8M361.2 372.2h3.8M353.5 357.2h3.8M340.6 343.8h3.8M362.2 367.4h3.8M375.4 400.3h3.8M348.0 372.1h3.8M366.4 419.4h3.8M377.2 378.8h3.8M345.4 451.5h3.8M341.7 381.2h3.8M353.5 380.0h3.8M361.2 399.5h3.8M339.3 397.2h3.8M343.8 380.5h3.8M343.7 375.9h3.8M373.5 414.8h3.8M314.0 406.5h3.8M353.3 390.3h3.8M357.5 388.5h3.8M378.8 389.9h3.8"/><path fill="none" stroke="#9575cd" stroke-width="2.7" stroke-linecap="round" d="M365.2 322.0h5.6m-2.8-2.8v5.6M390.5 272.7h5.6m-2.8-2.8v5.6M332.2 313.9h5.6m-2.8-2.8v5.6M353.2 333.5h5.6m-2.8-2.8v5.6M323.6 284.5h5.6m-2.8-2.8v5.6M323.6 319.5h5.6m-2.8-2.8v5.6M335.4 311.4h5.6m-2.8-2.8v5.6M359.7 355.8h5.6m-2.8-2.8v5.6M335.2 268.7h5.6m-2.8-2.8v5.6M324.2 327.8h5.6m-2.8-2.8v5.6M356.4 280.8h5.6m-2.8-2.8v5.6M323.6 320.1h5.6m-2.8-2.8v5.6M331.9 285.8h5.6m-2.8-2.8v5.6M347.0 326.1h5.6m-2.8-2.8v5.6M376.3 283.0h5.6m-2.8-2.8v5.6M334.8 351.7h5.6m-2.8-2.8v5.6M359.7 314.0h5.6m-2.8-2.8v5.6M349.2 334.5h5.6m-2.8-2.8v5.6M373.6 341.5h5.6m-2.8-2.8v5.6M345.4 314.8h5.6m-2.8-2.8v5.6M363.1 333.0h5.6m-2.8-2.8v5.6M342.3 326.5h5.6m-2.8-2.8v5.6M365.6 307.0h5.6m-2.8-2.8v5.6M353.1 369.8h5.6m-2.8-2.8v5.6M342.0 366.9h5.6m-2.8-2.8v5.6M372.7 276.9h5.6m-2.8-2.8v5.6M341.9 321.7h5.6m-2.8-2.8v5.6M352.1 346.5h5.6m-2.8-2.8v5.6M317.9 338.5h5.6m-2.8-2.8v5.6M363.9 345.1h5.6m-2.8-2.8v5.6M363.1 298.3h5.6m-2.8-2.8v5.6M346.1 324.6h5.6m-2.8-2.8v5.6M373.6 332.3h5.6m-2.8-2.8v5.6M338.2 313.3h5.6m-2.8-2.8v5.6M361.9 313.8h5.6m-2.8-2.8v5.6M341.8 296.3h5.6m-2.8-2.8v5.6M328.7 265.7h5.6m-2.8-2.8v5.6M349.0 334.3h5.6m-2.8-2.8v5.6M344.5 352.0h5.6m-2.8-2.8v5.6M341.1 330.9h5.6m-2.8-2.8v5.6M339.3 279.4h5.6m-2.8-2.8v5.6"/><path fill="none" stroke="#d6739b" stroke-width="4" stroke-linecap="round" d="M394.2 328.3h0M417.2 302.0h0M394.2 303.9h0M387.2 298.9h0M388.5 312.5h0M399.8 322.1h0M402.9 303.9h0M408.5 335.6h0M392.6 294.1h0M410.9 295.7h0M390.7 267.9h0M403.1 324.8h0M402.8 317.3h0M421.2 318.2h0M361.3 330.7h0M419.3 332.2h0M372.5 261.0h0M414.2 251.6h0M398.0 345.0h0M417.7 318.6h0M390.3 327.5h0M398.9 326.5h0M373.8 315.8h0M415.3 289.2h0M362.7 333.8h0M406.7 334.5h0M407.2 339.6h0M398.1 291.2h0M407.9 310.6h0M359.2 299.6h0M387.3 362.6h0M399.3 340.1h0M406.2 309.9h0M449.7 321.4h0M408.8 302.0h0M392.8 355.5h0M381.8 329.3h0M347.1 344.3h0M400.2 270.5h0M428.2 298.2h0M383.6 324.3h0M392.1 314.2h0M371.5 309.9h0M389.8 276.7h0"/><path fill="#7b8c46" stroke="none" d="M391.3 363.8l2.8 4.9h-5.6zM422.3 383.7l2.8 4.9h-5.6zM422.5 364.8l2.8 4.9h-5.6zM404.1 365.5l2.8 4.9h-5.6zM401.7 373.6l2.8 4.9h-5.6zM412.7 364.8l2.8 4.9h-5.6zM422.4 369.9l2.8 4.9h-5.6zM387.8 347.3l2.8 4.9h-5.6zM438.3 339.4l2.8 4.9h-5.6zM371.7 342.6l2.8 4.9h-5.6zM429.8 385.1l2.8 4.9h-5.6zM399.5 355.3l2.8 4.9h-5.6zM441.1 375.3l2.8 4.9h-5.6zM412.3 368.4l2.8 4.9h-5.6zM383.2 373.5l2.8 4.9h-5.6zM436.7 357.2l2.8 4.9h-5.6zM388.2 393.1l2.8 4.9h-5.6zM435.3 369.6l2.8 4.9h-5.6zM376.7 371.1l2.8 4.9h-5.6zM410.8 390.4l2.8 4.9h-5.6zM452.6 333.2l2.8 4.9h-5.6zM390.9 339.9l2.8 4.9h-5.6zM426.0 361.4l2.8 4.9h-5.6zM396.0 368.1l2.8 4.9h-5.6zM427.7 324.9l2.8 4.9h-5.6zM414.7 337.3l2.8 4.9h-5.6zM378.0 385.5l2.8 4.9h-5.6zM404.3 371.9l2.8 4.9h-5.6zM407.7 357.3l2.8 4.9h-5.6zM431.5 377.3l2.8 4.9h-5.6zM382.7 390.7l2.8 4.9h-5.6zM411.4 360.7l2.8 4.9h-5.6zM411.0 365.8l2.8 4.9h-5.6zM445.6 353.7l2.8 4.9h-5.6zM422.2 387.5l2.8 4.9h-5.6zM440.1 360.6l2.8 4.9h-5.6zM416.7 383.2l2.8 4.9h-5.6zM394.9 396.9l2.8 4.9h-5.6zM431.5 382.0l2.8 4.9h-5.6zM407.7 367.1l2.8 4.9h-5.6zM413.9 393.3l2.8 4.9h-5.6zM403.8 375.2l2.8 4.9h-5.6zM423.9 336.4l2.8 4.9h-5.6zM411.9 337.9l2.8 4.9h-5.6zM420.6 404.7l2.8 4.9h-5.6zM402.6 358.6l2.8 4.9h-5.6zM393.3 353.3l2.8 4.9h-5.6zM394.4 360.6l2.8 4.9h-5.6zM419.3 353.3l2.8 4.9h-5.6zM431.7 367.1l2.8 4.9h-5.6zM399.0 376.1l2.8 4.9h-5.6z"/><path fill="none" stroke="#4bbdb5" stroke-width="3.8" d="M348.1 394.0h3.8M366.6 356.3h3.8M352.4 380.7h3.8M367.0 401.4h3.8M337.4 441.5h3.8M337.5 391.3h3.8M393.2 404.6h3.8M373.0 383.3h3.8M353.5 364.3h3.8M376.0 384.5h3.8M372.1 397.1h3.8M380.4 408.8h3.8M342.9 399.9h3.8M360.5 377.8h3.8M358.4 414.8h3.8M363.9 394.1h3.8M357.5 358.1h3.8M372.2 404.4h3.8M331.8 401.1h3.8M345.8 380.2h3.8M380.5 419.8h3.8M352.7 410.0h3.8M355.7 373.8h3.8M394.9 347.2h3.8M387.4 381.7h3.8M338.1 385.9h3.8M375.9 405.9h3.8M363.9 361.8h3.8M346.5 350.9h3.8M364.7 382.9h3.8M327.2 387.6h3.8M374.1 402.9h3.8M348.1 371.1h3.8M366.3 414.4h3.8M388.5 403.0h3.8M400.0 418.6h3.8M360.4 397.6h3.8M388.2 378.6h3.8M371.9 382.1h3.8M372.7 415.5h3.8M376.7 414.8h3.8M355.7 383.0h3.8M392.9 374.1h3.8M326.2 376.0h3.8M375.0 376.2h3.8M376.0 386.7h3.8M359.7 370.8h3.8M375.2 370.5h3.8M373.0 362.7h3.8M338.5 370.7h3.8M350.7 384.1h3.8M362.3 391.0h3.8M359.7 403.3h3.8M364.9 438.8h3.8"/><path fill="none" stroke="#9575cd" stroke-width="2.7" stroke-linecap="round" d="M357.2 283.1h5.6m-2.8-2.8v5.6M360.5 280.2h5.6m-2.8-2.8v5.6M365.1 310.6h5.6m-2.8-2.8v5.6M355.2 324.4h5.6m-2.8-2.8v5.6M348.4 339.8h5.6m-2.8-2.8v5.6M348.0 316.9h5.6m-2.8-2.8v5.6M352.1 312.7h5.6m-2.8-2.8v5.6M354.0 297.9h5.6m-2.8-2.8v5.6M379.6 309.0h5.6m-2.8-2.8v5.6M349.6 304.4h5.6m-2.8-2.8v5.6M339.7 306.4h5.6m-2.8-2.8v5.6M356.1 282.6h5.6m-2.8-2.8v5.6M326.3 362.5h5.6m-2.8-2.8v5.6M318.4 244.7h5.6m-2.8-2.8v5.6M339.9 283.9h5.6m-2.8-2.8v5.6M325.4 313.1h5.6m-2.8-2.8v5.6M353.2 297.4h5.6m-2.8-2.8v5.6M363.3 294.1h5.6m-2.8-2.8v5.6M340.8 349.1h5.6m-2.8-2.8v5.6M366.9 327.0h5.6m-2.8-2.8v5.6M351.4 361.4h5.6m-2.8-2.8v5.6M356.8 321.2h5.6m-2.8-2.8v5.6M328.2 326.1h5.6m-2.8-2.8v5.6M328.6 344.9h5.6m-2.8-2.8v5.6M343.8 334.7h5.6m-2.8-2.8v5.6M370.6 396.4h5.6m-2.8-2.8v5.6M342.7 334.8h5.6m-2.8-2.8v5.6M378.7 334.5h5.6m-2.8-2.8v5.6M320.3 319.2h5.6m-2.8-2.8v5.6M342.0 286.1h5.6m-2.8-2.8v5.6M348.9 316.5h5.6m-2.8-2.8v5.6M374.8 291.1h5.6m-2.8-2.8v5.6M351.9 333.4h5.6m-2.8-2.8v5.6M377.5 295.7h5.6m-2.8-2.8v5.6M372.5 338.1h5.6m-2.8-2.8v5.6M351.0 345.8h5.6m-2.8-2.8v5.6M364.3 275.2h5.6m-2.8-2.8v5.6M337.6 350.8h5.6m-2.8-2.8v5.6M354.5 285.7h5.6m-2.8-2.8v5.6M355.2 337.3h5.6m-2.8-2.8v5.6M333.1 321.3h5.6m-2.8-2.8v5.6"/><path fill="none" stroke="#d6739b" stroke-width="4" stroke-linecap="round" d="M418.9 306.9h0M409.7 344.7h0M386.7 331.6h0M430.1 279.6h0M390.1 366.3h0M374.7 302.6h0M398.8 296.4h0M409.0 293.2h0M416.6 318.6h0M400.8 307.3h0M450.1 289.6h0M404.6 292.2h0M402.4 301.7h0M420.8 322.8h0M363.2 326.2h0M376.1 278.2h0M391.1 336.1h0M390.5 337.1h0M422.4 276.0h0M400.1 304.6h0M408.4 284.6h0M400.8 322.0h0M405.8 341.4h0M400.8 350.1h0M385.7 299.1h0M401.6 293.7h0M401.2 325.6h0M396.8 323.0h0M433.2 322.1h0M382.4 348.4h0M429.7 291.3h0M410.1 262.6h0M384.4 313.3h0M385.5 315.8h0M399.7 334.5h0M421.9 315.0h0M361.2 307.9h0M402.8 270.5h0M386.8 298.2h0M399.8 327.8h0M337.5 351.2h0M438.8 309.1h0M377.0 319.5h0M413.6 287.5h0"/><path fill="#7b8c46" stroke="none" d="M396.1 385.0l2.8 4.9h-5.6zM417.8 325.3l2.8 4.9h-5.6zM452.0 338.8l2.8 4.9h-5.6zM498.1 314.5l2.8 4.9h-5.6zM401.4 394.3l2.8 4.9h-5.6zM407.0 384.7l2.8 4.9h-5.6zM385.4 380.5l2.8 4.9h-5.6zM445.9 380.0l2.8 4.9h-5.6zM399.1 360.4l2.8 4.9h-5.6zM382.9 375.1l2.8 4.9h-5.6zM405.0 392.0l2.8 4.9h-5.6zM422.5 306.7l2.8 4.9h-5.6zM415.9 326.0l2.8 4.9h-5.6zM394.8 362.4l2.8 4.9h-5.6zM378.9 382.6l2.8 4.9h-5.6zM423.2 333.5l2.8 4.9h-5.6zM420.1 363.6l2.8 4.9h-5.6zM401.6 342.8l2.8 4.9h-5.6zM411.2 379.3l2.8 4.9h-5.6zM403.8 360.3l2.8 4.9h-5.6zM445.8 353.0l2.8 4.9h-5.6zM407.8 396.8l2.8 4.9h-5.6zM397.6 400.3l2.8 4.9h-5.6zM415.9 360.6l2.8 4.9h-5.6zM446.3 377.3l2.8 4.9h-5.6zM402.2 374.9l2.8 4.9h-5.6zM445.4 357.7l2.8 4.9h-5.6zM443.4 367.9l2.8 4.9h-5.6zM418.4 356.3l2.8 4.9h-5.6zM403.8 361.2l2.8 4.9h-5.6zM388.1 334.3l2.8 4.9h-5.6zM363.0 382.6l2.8 4.9h-5.6zM444.0 378.2l2.8 4.9h-5.6zM429.4 357.4l2.8 4.9h-5.6zM423.4 393.1l2.8 4.9h-5.6zM424.0 358.3l2.8 4.9h-5.6zM404.6 342.4l2.8 4.9h-5.6zM378.9 355.3l2.8 4.9h-5.6zM435.5 376.3l2.8 4.9h-5.6zM379.8 349.6l2.8 4.9h-5.6zM414.4 360.8l2.8 4.9h-5.6zM411.7 372.1l2.8 4.9h-5.6zM400.2 375.0l2.8 4.9h-5.6zM406.8 366.5l2.8 4.9h-5.6zM431.1 358.5l2.8 4.9h-5.6zM392.2 390.7l2.8 4.9h-5.6zM433.3 380.8l2.8 4.9h-5.6zM419.2 346.7l2.8 4.9h-5.6zM384.1 384.9l2.8 4.9h-5.6zM433.9 371.7l2.8 4.9h-5.6zM383.7 385.0l2.8 4.9h-5.6z"/><path fill="none" stroke="#4bbdb5" stroke-width="3.8" d="M382.5 391.1h3.8M334.4 405.5h3.8M373.3 380.8h3.8M363.7 416.0h3.8M370.5 415.7h3.8M372.4 401.1h3.8M376.0 412.1h3.8M348.5 379.7h3.8M362.3 414.0h3.8M362.5 410.5h3.8M369.6 433.4h3.8M389.3 397.2h3.8M355.9 427.5h3.8M366.2 366.6h3.8M358.4 434.5h3.8M345.2 372.0h3.8M350.9 370.7h3.8M359.8 391.1h3.8M362.2 414.3h3.8M381.1 360.9h3.8M383.2 392.4h3.8M389.0 404.7h3.8M338.9 385.1h3.8M362.4 385.4h3.8M350.0 365.8h3.8M375.7 370.7h3.8M373.5 390.5h3.8M361.8 385.8h3.8M372.3 404.2h3.8M377.5 373.7h3.8M394.4 363.2h3.8M368.0 401.3h3.8M412.3 400.9h3.8M351.9 382.8h3.8M349.9 363.8h3.8M362.4 376.8h3.8M353.3 386.7h3.8M379.7 375.0h3.8M340.8 398.9h3.8M372.5 382.2h3.8M350.8 391.2h3.8M359.1 393.4h3.8M372.8 376.2h3.8M341.7 406.7h3.8M375.6 389.4h3.8M325.6 424.0h3.8M352.9 401.4h3.8M347.9 363.7h3.8M376.3 387.9h3.8M347.7 420.0h3.8M345.9 389.6h3.8M329.5 411.3h3.8M378.9 386.4h3.8M362.4 399.9h3.8"/><path fill="none" stroke="#9575cd" stroke-width="2.7" stroke-linecap="round" d="M364.1 292.1h5.6m-2.8-2.8v5.6M339.7 372.5h5.6m-2.8-2.8v5.6M326.3 230.9h5.6m-2.8-2.8v5.6M359.5 344.2h5.6m-2.8-2.8v5.6M320.4 312.3h5.6m-2.8-2.8v5.6M360.1 267.0h5.6m-2.8-2.8v5.6M317.6 308.3h5.6m-2.8-2.8v5.6M374.8 302.4h5.6m-2.8-2.8v5.6M331.7 301.1h5.6m-2.8-2.8v5.6M353.7 371.3h5.6m-2.8-2.8v5.6M336.4 294.6h5.6m-2.8-2.8v5.6M369.8 384.4h5.6m-2.8-2.8v5.6M354.0 364.6h5.6m-2.8-2.8v5.6M390.1 347.6h5.6m-2.8-2.8v5.6M341.7 357.3h5.6m-2.8-2.8v5.6M342.8 340.2h5.6m-2.8-2.8v5.6M337.4 321.5h5.6m-2.8-2.8v5.6M322.8 274.9h5.6m-2.8-2.8v5.6M337.8 331.8h5.6m-2.8-2.8v5.6M387.4 295.6h5.6m-2.8-2.8v5.6M332.5 313.8h5.6m-2.8-2.8v5.6M345.1 305.7h5.6m-2.8-2.8v5.6M346.5 305.0h5.6m-2.8-2.8v5.6M357.9 292.4h5.6m-2.8-2.8v5.6M369.5 370.6h5.6m-2.8-2.8v5.6M357.6 324.1h5.6m-2.8-2.8v5.6M362.7 332.5h5.6m-2.8-2.8v5.6M358.6 383.3h5.6m-2.8-2.8v5.6M365.5 325.1h5.6m-2.8-2.8v5.6M326.8 299.0h5.6m-2.8-2.8v5.6M349.4 266.4h5.6m-2.8-2.8v5.6M340.1 258.5h5.6m-2.8-2.8v5.6M347.7 302.7h5.6m-2.8-2.8v5.6M345.0 330.1h5.6m-2.8-2.8v5.6M349.9 321.5h5.6m-2.8-2.8v5.6M389.7 333.0h5.6m-2.8-2.8v5.6M353.9 285.3h5.6m-2.8-2.8v5.6M342.4 320.6h5.6m-2.8-2.8v5.6M350.7 312.1h5.6m-2.8-2.8v5.6M349.0 323.4h5.6m-2.8-2.8v5.6M371.9 289.2h5.6m-2.8-2.8v5.6"/><path fill="none" stroke="#d6739b" stroke-width="4" stroke-linecap="round" d="M376.3 284.5h0M384.2 341.7h0M425.7 329.8h0M400.6 291.4h0M438.1 270.8h0M414.4 323.8h0M377.6 320.3h0M391.0 316.7h0M400.1 223.4h0M399.9 337.4h0M390.5 321.9h0M388.0 327.6h0M416.9 390.5h0M413.4 334.2h0M405.3 338.7h0M394.3 305.3h0M414.2 292.2h0M384.7 302.9h0M379.5 318.3h0M389.7 329.2h0M388.3 350.0h0M406.1 305.7h0M395.1 310.7h0M380.8 329.2h0M384.0 312.1h0M415.8 326.3h0M396.1 291.9h0M388.4 284.1h0M401.2 334.8h0M412.8 302.2h0M408.4 351.1h0M386.8 340.8h0M428.7 343.3h0M412.1 290.4h0M347.6 295.9h0M386.7 337.6h0M388.1 336.5h0M404.8 295.9h0M369.1 284.0h0M375.6 304.5h0M397.4 310.5h0M412.9 314.0h0M410.0 305.9h0M378.1 304.4h0"/><path fill="#7b8c46" stroke="none" d="M405.7 358.4l2.8 4.9h-5.6zM401.1 381.9l2.8 4.9h-5.6zM493.7 355.2l2.8 4.9h-5.6zM404.0 360.0l2.8 4.9h-5.6zM417.1 370.5l2.8 4.9h-5.6zM418.0 342.9l2.8 4.9h-5.6zM417.7 382.3l2.8 4.9h-5.6zM410.5 374.3l2.8 4.9h-5.6zM433.1 372.8l2.8 4.9h-5.6zM405.8 338.3l2.8 4.9h-5.6zM413.3 353.6l2.8 4.9h-5.6zM388.6 405.1l2.8 4.9h-5.6zM416.8 377.3l2.8 4.9h-5.6zM380.1 365.8l2.8 4.9h-5.6zM409.2 367.4l2.8 4.9h-5.6zM390.0 377.6l2.8 4.9h-5.6zM429.9 377.0l2.8 4.9h-5.6zM417.6 385.5l2.8 4.9h-5.6zM442.4 358.4l2.8 4.9h-5.6zM400.8 359.1l2.8 4.9h-5.6zM397.2 356.8l2.8 4.9h-5.6zM442.3 356.0l2.8 4.9h-5.6zM438.9 328.9l2.8 4.9h-5.6zM398.3 347.0l2.8 4.9h-5.6zM430.6 376.7l2.8 4.9h-5.6zM405.3 380.4l2.8 4.9h-5.6zM387.7 403.1l2.8 4.9h-5.6zM416.4 398.2l2.8 4.9h-5.6zM420.8 387.0l2.8 4.9h-5.6zM385.1 374.6l2.8 4.9h-5.6zM420.6 347.1l2.8 4.9h-5.6zM422.7 342.1l2.8 4.9h-5.6zM402.3 334.6l2.8 4.9h-5.6zM396.7 351.4l2.8 4.9h-5.6zM415.9 386.9l2.8 4.9h-5.6zM447.8 379.7l2.8 4.9h-5.6zM407.1 382.5l2.8 4.9h-5.6zM410.6 367.1l2.8 4.9h-5.6zM417.2 386.5l2.8 4.9h-5.6zM445.0 380.6l2.8 4.9h-5.6zM422.9 404.6l2.8 4.9h-5.6zM395.2 374.6l2.8 4.9h-5.6zM391.4 345.1l2.8 4.9h-5.6zM495.0 338.3l2.8 4.9h-5.6zM389.6 372.6l2.8 4.9h-5.6zM397.2 367.0l2.8 4.9h-5.6zM409.4 311.5l2.8 4.9h-5.6zM428.3 359.8l2.8 4.9h-5.6zM393.8 372.9l2.8 4.9h-5.6zM392.2 371.2l2.8 4.9h-5.6zM418.4 353.9l2.8 4.9h-5.6z"/><path fill="none" stroke="#4bbdb5" stroke-width="3.8" d="M372.3 397.8h3.8M363.2 371.4h3.8M368.1 390.9h3.8M363.8 405.6h3.8M374.0 399.1h3.8M375.0 358.1h3.8M352.2 383.4h3.8M322.2 359.3h3.8M351.6 387.5h3.8M367.1 398.0h3.8M401.3 383.8h3.8M353.8 411.2h3.8M364.0 369.7h3.8M371.8 363.6h3.8M381.0 397.8h3.8M354.0 375.5h3.8M367.3 399.0h3.8M371.2 447.6h3.8M394.4 401.1h3.8M338.2 361.4h3.8M350.4 381.6h3.8M370.9 382.9h3.8M348.8 391.3h3.8M363.3 385.2h3.8M359.1 388.2h3.8M371.8 385.5h3.8M332.2 387.2h3.8M343.1 377.4h3.8M356.4 365.4h3.8M376.0 388.9h3.8M342.7 382.0h3.8M385.2 404.9h3.8M377.1 417.4h3.8M386.3 412.8h3.8M404.1 353.6h3.8M342.0 405.4h3.8M389.4 401.8h3.8M339.6 380.5h3.8M355.9 403.0h3.8M354.4 396.9h3.8M362.0 417.1h3.8M356.1 394.1h3.8M379.5 371.4h3.8M349.2 389.1h3.8M358.2 385.2h3.8M360.0 412.0h3.8M356.8 407.0h3.8M344.0 363.5h3.8M357.6 414.3h3.8M351.1 406.5h3.8M386.6 377.1h3.8M349.3 408.6h3.8M383.9 388.9h3.8M389.5 408.9h3.8"/><path fill="none" stroke="#9575cd" stroke-width="2.7" stroke-linecap="round" d="M351.8 293.4h5.6m-2.8-2.8v5.6M332.8 313.8h5.6m-2.8-2.8v5.6M348.1 296.2h5.6m-2.8-2.8v5.6M345.0 316.2h5.6m-2.8-2.8v5.6M358.3 298.1h5.6m-2.8-2.8v5.6M345.5 308.0h5.6m-2.8-2.8v5.6M352.6 330.6h5.6m-2.8-2.8v5.6M364.5 302.8h5.6m-2.8-2.8v5.6M351.9 355.3h5.6m-2.8-2.8v5.6M354.1 338.1h5.6m-2.8-2.8v5.6M353.5 300.4h5.6m-2.8-2.8v5.6M360.7 334.5h5.6m-2.8-2.8v5.6M337.8 343.9h5.6m-2.8-2.8v5.6M339.1 342.1h5.6m-2.8-2.8v5.6M340.6 312.9h5.6m-2.8-2.8v5.6M367.6 274.5h5.6m-2.8-2.8v5.6M347.1 314.5h5.6m-2.8-2.8v5.6M314.8 318.0h5.6m-2.8-2.8v5.6M362.6 289.1h5.6m-2.8-2.8v5.6M350.9 264.4h5.6m-2.8-2.8v5.6M361.8 274.8h5.6m-2.8-2.8v5.6M338.7 334.7h5.6m-2.8-2.8v5.6M362.4 369.1h5.6m-2.8-2.8v5.6M359.8 324.5h5.6m-2.8-2.8v5.6M345.0 313.9h5.6m-2.8-2.8v5.6M339.9 232.9h5.6m-2.8-2.8v5.6M350.8 327.4h5.6m-2.8-2.8v5.6M328.5 366.8h5.6m-2.8-2.8v5.6M365.8 311.2h5.6m-2.8-2.8v5.6M351.3 351.2h5.6m-2.8-2.8v5.6M340.4 311.0h5.6m-2.8-2.8v5.6M354.9 283.6h5.6m-2.8-2.8v5.6M350.0 303.9h5.6m-2.8-2.8v5.6M326.5 309.4h5.6m-2.8-2.8v5.6M330.4 374.3h5.6m-2.8-2.8v5.6M342.0 305.9h5.6m-2.8-2.8v5.6M320.8 324.0h5.6m-2.8-2.8v5.6M346.7 340.3h5.6m-2.8-2.8v5.6M327.5 316.1h5.6m-2.8-2.8v5.6M326.0 306.6h5.6m-2.8-2.8v5.6M329.8 296.7h5.6m-2.8-2.8v5.6"/><path fill="none" stroke="#d6739b" stroke-width="4" stroke-linecap="round" d="M380.2 336.1h0M420.0 336.4h0M409.2 335.3h0M377.9 333.2h0M392.4 364.9h0M405.4 337.5h0M406.0 310.4h0M364.0 312.4h0M400.7 269.7h0M424.7 282.3h0M407.4 309.3h0M369.8 350.8h0M409.5 317.5h0M390.4 330.6h0M406.5 308.3h0M439.7 285.1h0M417.7 310.5h0M402.2 311.7h0M380.5 326.0h0M383.9 319.8h0M419.8 288.1h0M411.5 329.9h0M426.3 309.6h0M392.9 297.3h0M360.6 312.1h0M424.1 301.2h0M421.3 311.2h0M428.4 299.3h0M398.9 298.4h0M417.5 318.6h0M401.0 296.7h0M409.8 294.4h0M452.9 315.6h0M370.7 339.9h0M389.3 297.6h0M402.1 298.9h0M418.5 306.1h0M424.8 319.0h0M392.4 290.5h0M395.4 336.1h0M379.0 297.1h0M384.3 358.9h0M410.8 327.0h0M390.6 292.0h0"/><path fill="#7b8c46" stroke="none" d="M434.8 349.2l2.8 4.9h-5.6zM404.8 377.1l2.8 4.9h-5.6zM407.6 377.8l2.8 4.9h-5.6zM423.4 405.7l2.8 4.9h-5.6zM385.6 346.2l2.8 4.9h-5.6zM421.8 359.9l2.8 4.9h-5.6zM395.7 334.7l2.8 4.9h-5.6zM398.9 367.1l2.8 4.9h-5.6zM448.4 374.1l2.8 4.9h-5.6zM386.7 372.0l2.8 4.9h-5.6zM411.6 357.1l2.8 4.9h-5.6zM415.2 359.8l2.8 4.9h-5.6zM439.5 333.4l2.8 4.9h-5.6zM400.1 331.7l2.8 4.9h-5.6zM426.4 378.1l2.8 4.9h-5.6zM383.1 372.8l2.8 4.9h-5.6zM367.7 379.6l2.8 4.9h-5.6zM397.8 371.1l2.8 4.9h-5.6zM429.8 353.1l2.8 4.9h-5.6zM377.0 352.8l2.8 4.9h-5.6zM416.3 355.3l2.8 4.9h-5.6zM421.3 415.4l2.8 4.9h-5.6zM414.3 359.9l2.8 4.9h-5.6zM378.6 411.3l2.8 4.9h-5.6zM431.6 369.1l2.8 4.9h-5.6zM464.5 334.4l2.8 4.9h-5.6zM420.8 373.3l2.8 4.9h-5.6zM420.9 370.0l2.8 4.9h-5.6zM433.3 344.6l2.8 4.9h-5.6zM408.6 342.7l2.8 4.9h-5.6zM402.6 360.1l2.8 4.9h-5.6zM403.2 395.2l2.8 4.9h-5.6zM395.3 377.3l2.8 4.9h-5.6zM403.1 401.9l2.8 4.9h-5.6zM395.6 351.1l2.8 4.9h-5.6zM422.3 360.3l2.8 4.9h-5.6zM409.6 355.1l2.8 4.9h-5.6zM434.7 335.7l2.8 4.9h-5.6zM422.1 326.5l2.8 4.9h-5.6zM389.0 394.3l2.8 4.9h-5.6zM482.3 345.2l2.8 4.9h-5.6zM385.1 387.0l2.8 4.9h-5.6zM397.0 367.1l2.8 4.9h-5.6zM408.9 378.9l2.8 4.9h-5.6zM433.4 340.3l2.8 4.9h-5.6zM424.1 374.3l2.8 4.9h-5.6zM420.2 359.3l2.8 4.9h-5.6zM418.4 355.8l2.8 4.9h-5.6zM396.2 357.4l2.8 4.9h-5.6zM411.7 359.8l2.8 4.9h-5.6zM403.5 363.7l2.8 4.9h-5.6z"/><path fill="none" stroke="#4bbdb5" stroke-width="3.8" d="M367.9 386.4h3.8M372.4 412.6h3.8M383.2 367.2h3.8M368.4 380.2h3.8M364.2 422.2h3.8M363.5 373.2h3.8M384.0 389.4h3.8M343.1 387.3h3.8M366.1 353.5h3.8M346.9 380.8h3.8M396.0 373.5h3.8M356.1 385.1h3.8M346.8 362.5h3.8M371.0 393.2h3.8M359.9 389.0h3.8M376.4 374.1h3.8M323.8 429.7h3.8M372.2 401.7h3.8M355.8 376.5h3.8M359.7 380.0h3.8M376.9 347.5h3.8M382.1 376.1h3.8M359.6 406.2h3.8M357.6 385.4h3.8M375.1 364.6h3.8M364.6 412.5h3.8M370.5 360.4h3.8M371.1 398.1h3.8M365.7 398.0h3.8M357.4 378.1h3.8M350.9 384.8h3.8M345.7 423.9h3.8M375.4 403.5h3.8M386.0 363.0h3.8M382.1 384.4h3.8M365.7 429.3h3.8M394.1 407.6h3.8M360.6 418.0h3.8M366.9 356.7h3.8M360.6 396.1h3.8M371.4 363.9h3.8M398.3 415.0h3.8M355.0 392.5h3.8M373.0 400.6h3.8M345.6 378.4h3.8M348.0 419.4h3.8M355.3 391.8h3.8M364.5 369.4h3.8M349.7 396.4h3.8M394.6 402.0h3.8M382.5 426.9h3.8M397.9 361.9h3.8M380.4 377.2h3.8M355.7 404.9h3.8"/><path fill="none" stroke="#9575cd" stroke-width="2.7" stroke-linecap="round" d="M346.9 314.9h5.6m-2.8-2.8v5.6M335.8 353.6h5.6m-2.8-2.8v5.6M346.9 342.4h5.6m-2.8-2.8v5.6M356.2 332.9h5.6m-2.8-2.8v5.6M353.2 320.1h5.6m-2.8-2.8v5.6M334.1 326.6h5.6m-2.8-2.8v5.6M333.8 288.9h5.6m-2.8-2.8v5.6M358.7 274.2h5.6m-2.8-2.8v5.6M365.1 294.9h5.6m-2.8-2.8v5.6M353.9 294.6h5.6m-2.8-2.8v5.6M321.7 324.1h5.6m-2.8-2.8v5.6M326.1 301.4h5.6m-2.8-2.8v5.6M368.4 326.1h5.6m-2.8-2.8v5.6M359.4 323.1h5.6m-2.8-2.8v5.6M321.2 235.3h5.6m-2.8-2.8v5.6M353.2 323.7h5.6m-2.8-2.8v5.6M329.4 316.9h5.6m-2.8-2.8v5.6M334.2 305.7h5.6m-2.8-2.8v5.6M344.7 276.4h5.6m-2.8-2.8v5.6M358.9 304.8h5.6m-2.8-2.8v5.6M320.0 320.1h5.6m-2.8-2.8v5.6M358.6 311.7h5.6m-2.8-2.8v5.6M366.5 358.9h5.6m-2.8-2.8v5.6M320.9 338.1h5.6m-2.8-2.8v5.6M375.1 351.9h5.6m-2.8-2.8v5.6M366.1 345.5h5.6m-2.8-2.8v5.6M335.0 324.3h5.6m-2.8-2.8v5.6M331.2 326.3h5.6m-2.8-2.8v5.6M342.9 320.7h5.6m-2.8-2.8v5.6M347.1 335.8h5.6m-2.8-2.8v5.6M304.4 327.4h5.6m-2.8-2.8v5.6M329.6 336.6h5.6m-2.8-2.8v5.6M363.5 308.5h5.6m-2.8-2.8v5.6M351.4 359.9h5.6m-2.8-2.8v5.6M335.6 303.6h5.6m-2.8-2.8v5.6M342.0 294.5h5.6m-2.8-2.8v5.6M350.0 328.1h5.6m-2.8-2.8v5.6M346.1 314.3h5.6m-2.8-2.8v5.6M319.4 357.2h5.6m-2.8-2.8v5.6M332.9 355.1h5.6m-2.8-2.8v5.6M338.6 359.6h5.6m-2.8-2.8v5.6"/><path fill="none" stroke="#d6739b" stroke-width="4" stroke-linecap="round" d="M389.4 312.7h0M385.3 330.0h0M392.0 334.7h0M379.3 295.5h0M396.3 295.9h0M415.8 327.0h0M408.4 230.5h0M405.8 307.0h0M425.9 322.7h0M386.1 339.5h0M377.3 336.9h0M410.2 308.6h0M402.7 355.7h0M399.2 300.2h0M423.7 298.9h0M389.9 336.9h0M411.4 351.8h0M378.2 321.2h0M397.7 335.0h0M421.2 294.1h0M400.5 287.7h0M401.2 267.0h0M410.8 326.1h0M437.9 303.8h0M387.3 281.7h0M423.9 312.7h0M387.6 314.1h0M410.7 284.6h0M405.7 290.8h0M419.1 271.9h0M381.2 288.9h0M422.5 351.6h0M413.7 285.4h0M374.3 330.2h0M406.8 270.5h0M408.1 284.7h0M442.7 331.6h0M376.5 306.3h0M427.2 287.9h0M430.8 356.8h0M441.6 352.0h0M400.0 313.7h0M405.4 275.9h0M425.9 327.6h0"/><path fill="#7b8c46" stroke="none" d="M373.9 364.6l2.8 4.9h-5.6zM434.4 362.5l2.8 4.9h-5.6zM377.4 387.7l2.8 4.9h-5.6zM436.4 365.4l2.8 4.9h-5.6zM427.0 356.6l2.8 4.9h-5.6zM404.0 359.1l2.8 4.9h-5.6zM420.4 375.0l2.8 4.9h-5.6zM425.0 376.1l2.8 4.9h-5.6zM421.6 372.2l2.8 4.9h-5.6zM435.4 368.0l2.8 4.9h-5.6zM434.7 338.5l2.8 4.9h-5.6zM404.2 355.7l2.8 4.9h-5.6zM471.9 343.1l2.8 4.9h-5.6zM399.4 388.8l2.8 4.9h-5.6zM408.1 384.4l2.8 4.9h-5.6zM402.4 409.7l2.8 4.9h-5.6zM403.1 359.3l2.8 4.9h-5.6zM375.4 385.2l2.8 4.9h-5.6zM423.3 345.0l2.8 4.9h-5.6zM405.2 365.9l2.8 4.9h-5.6zM417.5 382.2l2.8 4.9h-5.6zM392.1 394.7l2.8 4.9h-5.6zM394.6 390.7l2.8 4.9h-5.6zM433.9 359.8l2.8 4.9h-5.6zM395.5 374.0l2.8 4.9h-5.6zM415.7 344.6l2.8 4.9h-5.6zM374.1 363.7l2.8 4.9h-5.6zM407.3 387.7l2.8 4.9h-5.6zM412.6 385.1l2.8 4.9h-5.6zM434.6 414.3l2.8 4.9h-5.6zM426.4 369.7l2.8 4.9h-5.6zM391.2 355.1l2.8 4.9h-5.6zM430.1 364.6l2.8 4.9h-5.6zM413.3 374.9l2.8 4.9h-5.6zM435.9 344.3l2.8 4.9h-5.6zM442.8 355.0l2.8 4.9h-5.6zM390.1 381.5l2.8 4.9h-5.6zM376.3 386.1l2.8 4.9h-5.6zM440.7 329.2l2.8 4.9h-5.6zM432.7 352.4l2.8 4.9h-5.6zM417.7 347.5l2.8 4.9h-5.6zM381.7 373.0l2.8 4.9h-5.6zM404.4 374.3l2.8 4.9h-5.6zM379.4 381.1l2.8 4.9h-5.6zM387.7 369.2l2.8 4.9h-5.6zM424.2 356.2l2.8 4.9h-5.6zM394.6 388.9l2.8 4.9h-5.6zM427.5 335.6l2.8 4.9h-5.6zM431.0 337.5l2.8 4.9h-5.6zM420.2 419.4l2.8 4.9h-5.6zM415.5 391.1l2.8 4.9h-5.6z"/><path fill="none" stroke="#4bbdb5" stroke-width="3.8" d="M367.5 395.1h3.8M373.5 364.2h3.8M385.6 378.2h3.8M345.9 415.9h3.8M391.8 388.8h3.8M376.2 417.0h3.8M339.0 366.3h3.8M378.5 388.1h3.8M360.9 372.2h3.8M377.1 399.4h3.8M376.1 371.4h3.8M374.1 361.5h3.8M377.3 374.1h3.8M375.9 382.2h3.8M353.1 395.1h3.8M376.6 364.1h3.8M363.6 381.5h3.8M353.7 401.5h3.8M336.0 393.3h3.8M340.2 411.5h3.8M335.1 352.9h3.8M382.6 367.1h3.8M373.6 405.2h3.8M364.0 356.0h3.8M371.0 368.5h3.8M360.7 377.1h3.8M361.6 395.8h3.8M372.3 373.3h3.8M377.5 376.5h3.8M368.9 380.7h3.8M388.3 416.5h3.8M361.7 369.3h3.8M329.4 384.4h3.8M354.7 353.4h3.8M341.3 382.3h3.8M365.5 386.8h3.8M350.3 375.2h3.8M365.3 357.6h3.8M385.1 379.0h3.8M359.3 425.4h3.8M366.9 380.9h3.8M383.0 355.9h3.8M360.8 376.3h3.8M353.0 393.3h3.8M370.4 376.0h3.8M361.2 430.6h3.8M342.2 397.6h3.8M368.7 359.0h3.8M371.1 377.7h3.8M352.1 414.3h3.8M398.8 379.9h3.8M328.2 384.7h3.8M381.6 392.9h3.8M372.3 383.7h3.8"/><path fill="none" stroke="#9575cd" stroke-width="2.7" stroke-linecap="round" d="M364.2 308.2h5.6m-2.8-2.8v5.6M361.3 318.1h5.6m-2.8-2.8v5.6M338.2 342.1h5.6m-2.8-2.8v5.6M355.5 357.1h5.6m-2.8-2.8v5.6M337.0 365.4h5.6m-2.8-2.8v5.6M319.6 340.7h5.6m-2.8-2.8v5.6M312.0 345.6h5.6m-2.8-2.8v5.6M341.4 268.6h5.6m-2.8-2.8v5.6M344.2 336.9h5.6m-2.8-2.8v5.6M357.0 326.7h5.6m-2.8-2.8v5.6M352.1 313.9h5.6m-2.8-2.8v5.6M329.5 336.3h5.6m-2.8-2.8v5.6M380.3 332.5h5.6m-2.8-2.8v5.6M360.6 358.1h5.6m-2.8-2.8v5.6M342.2 298.1h5.6m-2.8-2.8v5.6M330.0 340.8h5.6m-2.8-2.8v5.6M377.3 325.6h5.6m-2.8-2.8v5.6M346.9 328.6h5.6m-2.8-2.8v5.6M343.5 323.3h5.6m-2.8-2.8v5.6M358.4 332.4h5.6m-2.8-2.8v5.6M340.7 356.5h5.6m-2.8-2.8v5.6M355.8 346.5h5.6m-2.8-2.8v5.6M337.3 302.6h5.6m-2.8-2.8v5.6M325.8 319.2h5.6m-2.8-2.8v5.6M332.0 319.6h5.6m-2.8-2.8v5.6M325.6 328.5h5.6m-2.8-2.8v5.6M360.0 343.6h5.6m-2.8-2.8v5.6M342.8 287.5h5.6m-2.8-2.8v5.6M338.8 313.6h5.6m-2.8-2.8v5.6M339.3 309.4h5.6m-2.8-2.8v5.6M351.5 328.5h5.6m-2.8-2.8v5.6M338.4 326.0h5.6m-2.8-2.8v5.6M371.9 362.3h5.6m-2.8-2.8v5.6M345.0 315.4h5.6m-2.8-2.8v5.6M357.5 308.0h5.6m-2.8-2.8v5.6M343.3 287.6h5.6m-2.8-2.8v5.6M346.1 302.0h5.6m-2.8-2.8v5.6M348.8 353.2h5.6m-2.8-2.8v5.6M338.5 283.6h5.6m-2.8-2.8v5.6M314.9 318.4h5.6m-2.8-2.8v5.6M371.4 354.8h5.6m-2.8-2.8v5.6"/><path fill="none" stroke="#d6739b" stroke-width="4" stroke-linecap="round" d="M420.1 303.0h0M419.2 287.8h0M394.8 284.9h0M416.5 335.6h0M402.6 323.9h0M415.8 327.1h0M397.7 337.1h0M443.7 323.0h0M390.9 306.9h0M402.9 330.3h0M403.3 310.8h0M390.9 277.7h0M398.6 244.1h0M395.9 301.0h0M403.9 319.3h0M440.9 307.0h0M365.0 306.1h0M360.9 302.3h0M430.5 271.1h0M377.8 313.1h0M399.1 303.8h0M443.6 293.0h0M397.3 359.4h0M386.0 322.2h0M415.2 329.3h0M402.0 312.6h0M436.0 331.9h0M400.8 291.6h0M418.3 333.0h0M398.3 292.1h0M417.6 286.7h0M388.2 334.7h0M455.9 246.3h0M405.8 285.2h0M387.5 259.1h0M420.1 333.9h0M401.1 341.8h0M391.8 336.1h0M424.2 243.1h0M386.1 341.4h0M398.5 347.8h0M402.4 294.1h0M422.1 338.2h0M372.0 328.2h0"/><path fill="#7b8c46" stroke="none" d="M435.6 347.6l2.8 4.9h-5.6zM396.5 367.1l2.8 4.9h-5.6zM417.7 370.8l2.8 4.9h-5.6zM403.2 389.4l2.8 4.9h-5.6zM388.3 363.0l2.8 4.9h-5.6zM390.3 379.4l2.8 4.9h-5.6zM419.1 372.5l2.8 4.9h-5.6zM411.4 392.5l2.8 4.9h-5.6zM402.8 370.7l2.8 4.9h-5.6zM447.0 386.3l2.8 4.9h-5.6zM439.0 348.5l2.8 4.9h-5.6zM397.8 373.3l2.8 4.9h-5.6zM395.7 401.4l2.8 4.9h-5.6zM409.3 371.8l2.8 4.9h-5.6zM409.1 346.2l2.8 4.9h-5.6zM403.5 381.1l2.8 4.9h-5.6zM409.5 347.9l2.8 4.9h-5.6zM411.1 363.3l2.8 4.9h-5.6zM399.3 374.5l2.8 4.9h-5.6zM401.4 378.0l2.8 4.9h-5.6zM441.7 355.8l2.8 4.9h-5.6zM429.5 360.9l2.8 4.9h-5.6zM368.4 336.2l2.8 4.9h-5.6zM445.0 375.2l2.8 4.9h-5.6zM410.3 368.6l2.8 4.9h-5.6zM430.9 386.6l2.8 4.9h-5.6zM415.8 347.0l2.8 4.9h-5.6zM402.6 414.7l2.8 4.9h-5.6zM431.6 409.6l2.8 4.9h-5.6zM397.8 393.8l2.8 4.9h-5.6zM406.5 335.8l2.8 4.9h-5.6zM415.2 374.5l2.8 4.9h-5.6zM425.0 339.0l2.8 4.9h-5.6zM383.6 348.1l2.8 4.9h-5.6zM429.4 401.5l2.8 4.9h-5.6zM401.8 394.4l2.8 4.9h-5.6zM436.9 357.9l2.8 4.9h-5.6zM389.9 365.0l2.8 4.9h-5.6zM401.7 359.8l2.8 4.9h-5.6zM424.4 409.7l2.8 4.9h-5.6zM439.9 324.7l2.8 4.9h-5.6zM398.8 380.3l2.8 4.9h-5.6zM405.7 381.5l2.8 4.9h-5.6zM420.2 378.9l2.8 4.9h-5.6zM400.0 388.9l2.8 4.9h-5.6zM423.5 364.4l2.8 4.9h-5.6zM451.3 343.2l2.8 4.9h-5.6zM445.2 401.5l2.8 4.9h-5.6zM392.7 407.2l2.8 4.9h-5.6zM415.0 325.5l2.8 4.9h-5.6zM377.6 373.7l2.8 4.9h-5.6z"/><path fill="none" stroke="#4bbdb5" stroke-width="3.8" d="M367.8 392.2h3.8M341.5 371.4h3.8M368.1 397.8h3.8M372.2 376.8h3.8M384.9 385.7h3.8M333.5 392.3h3.8M319.1 422.9h3.8M378.6 397.6h3.8M362.3 390.7h3.8M381.9 381.0h3.8M352.9 404.9h3.8M368.5 395.5h3.8M356.5 395.6h3.8M335.3 384.5h3.8M318.0 370.8h3.8M366.5 389.6h3.8M326.9 382.8h3.8M383.1 440.7h3.8M384.4 338.2h3.8M346.9 418.5h3.8M359.0 373.4h3.8M370.0 376.2h3.8M382.1 388.9h3.8M365.1 389.3h3.8M328.9 372.6h3.8M361.2 417.9h3.8M386.7 401.6h3.8M362.2 423.8h3.8M367.4 393.4h3.8M390.5 406.3h3.8M336.7 398.2h3.8M354.8 430.0h3.8M354.8 376.4h3.8M363.7 404.3h3.8M357.3 417.0h3.8M362.1 387.1h3.8M377.2 381.2h3.8M360.6 371.3h3.8M369.2 407.5h3.8M367.8 371.5h3.8M354.9 380.0h3.8M317.6 438.3h3.8M382.4 389.9h3.8M356.4 405.8h3.8M375.9 347.7h3.8M345.9 408.4h3.8M383.5 396.0h3.8M369.7 422.1h3.8M353.9 396.7h3.8M377.5 374.8h3.8M337.4 408.2h3.8M381.0 392.2h3.8M376.3 377.8h3.8M371.0 357.8h3.8"/><path fill="none" stroke="#9575cd" stroke-width="2.7" stroke-linecap="round" d="M339.6 339.3h5.6m-2.8-2.8v5.6M337.2 306.7h5.6m-2.8-2.8v5.6M373.8 353.7h5.6m-2.8-2.8v5.6M365.1 279.1h5.6m-2.8-2.8v5.6M347.4 339.7h5.6m-2.8-2.8v5.6M333.4 383.7h5.6m-2.8-2.8v5.6M338.5 322.5h5.6m-2.8-2.8v5.6M366.5 322.8h5.6m-2.8-2.8v5.6M365.2 323.6h5.6m-2.8-2.8v5.6M356.5 344.7h5.6m-2.8-2.8v5.6M391.4 326.7h5.6m-2.8-2.8v5.6M348.6 322.4h5.6m-2.8-2.8v5.6M333.6 320.6h5.6m-2.8-2.8v5.6M366.9 272.2h5.6m-2.8-2.8v5.6M351.3 283.4h5.6m-2.8-2.8v5.6M329.2 289.5h5.6m-2.8-2.8v5.6M326.3 359.5h5.6m-2.8-2.8v5.6M344.5 292.9h5.6m-2.8-2.8v5.6M347.0 309.1h5.6m-2.8-2.8v5.6M373.1 288.9h5.6m-2.8-2.8v5.6M318.9 324.0h5.6m-2.8-2.8v5.6M346.6 314.2h5.6m-2.8-2.8v5.6M338.4 305.1h5.6m-2.8-2.8v5.6M361.9 303.8h5.6m-2.8-2.8v5.6M338.9 326.2h5.6m-2.8-2.8v5.6M350.3 343.1h5.6m-2.8-2.8v5.6M304.0 347.8h5.6m-2.8-2.8v5.6M339.9 348.5h5.6m-2.8-2.8v5.6M348.2 371.8h5.6m-2.8-2.8v5.6M332.6 360.5h5.6m-2.8-2.8v5.6M346.6 358.5h5.6m-2.8-2.8v5.6M343.9 328.6h5.6m-2.8-2.8v5.6M376.2 325.3h5.6m-2.8-2.8v5.6M338.5 326.4h5.6m-2.8-2.8v5.6M330.8 331.7h5.6m-2.8-2.8v5.6M339.1 316.9h5.6m-2.8-2.8v5.6M366.3 293.2h5.6m-2.8-2.8v5.6M335.4 335.6h5.6m-2.8-2.8v5.6M345.4 280.3h5.6m-2.8-2.8v5.6M351.2 299.2h5.6m-2.8-2.8v5.6M357.3 290.4h5.6m-2.8-2.8v5.6"/><path fill="none" stroke="#d6739b" stroke-width="4" stroke-linecap="round" d="M413.5 320.6h0M373.8 329.4h0M410.3 313.9h0M385.4 283.4h0M389.0 343.7h0M397.7 329.8h0M421.8 285.6h0M412.9 290.1h0M356.4 295.9h0M374.0 295.8h0M419.5 326.0h0M425.5 298.9h0M436.4 321.1h0M418.4 308.0h0M402.9 313.1h0M420.6 330.3h0M410.5 286.5h0M382.3 325.7h0M429.8 269.6h0M365.3 368.4h0M399.9 312.4h0M379.2 244.6h0M397.7 244.0h0M425.4 343.1h0M400.7 285.2h0M408.4 307.5h0M382.5 299.6h0M378.2 295.1h0M388.2 309.3h0M370.0 302.0h0M397.5 267.1h0M416.5 350.5h0M381.4 321.7h0M389.3 298.5h0M412.2 330.3h0M371.7 328.3h0M387.8 331.0h0M358.6 289.1h0M427.8 336.2h0M400.8 314.4h0M412.7 352.3h0M426.4 357.4h0M428.6 340.6h0M430.9 306.6h0"/><path fill="#7b8c46" stroke="none" d="M374.1 367.4l2.8 4.9h-5.6zM412.8 355.6l2.8 4.9h-5.6zM397.4 366.8l2.8 4.9h-5.6zM417.8 342.4l2.8 4.9h-5.6zM403.1 370.9l2.8 4.9h-5.6zM410.8 396.1l2.8 4.9h-5.6zM402.7 391.7l2.8 4.9h-5.6zM416.6 374.4l2.8 4.9h-5.6zM398.3 370.0l2.8 4.9h-5.6zM425.3 384.8l2.8 4.9h-5.6zM396.8 369.6l2.8 4.9h-5.6zM412.5 399.8l2.8 4.9h-5.6zM438.3 375.7l2.8 4.9h-5.6zM413.1 360.3l2.8 4.9h-5.6zM399.6 384.8l2.8 4.9h-5.6zM412.9 410.1l2.8 4.9h-5.6zM393.3 371.8l2.8 4.9h-5.6zM424.7 356.8l2.8 4.9h-5.6zM416.4 373.7l2.8 4.9h-5.6zM417.9 363.6l2.8 4.9h-5.6zM393.7 387.5l2.8 4.9h-5.6zM402.7 381.2l2.8 4.9h-5.6zM395.7 366.6l2.8 4.9h-5.6zM389.1 377.8l2.8 4.9h-5.6zM424.4 378.0l2.8 4.9h-5.6zM407.8 373.1l2.8 4.9h-5.6zM401.5 355.5l2.8 4.9h-5.6zM382.8 362.0l2.8 4.9h-5.6zM384.0 387.4l2.8 4.9h-5.6zM414.7 359.0l2.8 4.9h-5.6zM443.5 312.4l2.8 4.9h-5.6zM398.8 395.4l2.8 4.9h-5.6zM442.7 350.1l2.8 4.9h-5.6zM436.4 357.9l2.8 4.9h-5.6zM402.8 358.1l2.8 4.9h-5.6zM420.0 343.9l2.8 4.9h-5.6zM379.8 384.3l2.8 4.9h-5.6zM379.1 354.0l2.8 4.9h-5.6zM380.3 404.3l2.8 4.9h-5.6zM390.6 344.1l2.8 4.9h-5.6zM408.4 379.2l2.8 4.9h-5.6zM429.9 377.3l2.8 4.9h-5.6zM421.9 365.2l2.8 4.9h-5.6zM432.8 350.5l2.8 4.9h-5.6zM413.6 339.5l2.8 4.9h-5.6zM398.2 381.7l2.8 4.9h-5.6zM424.3 372.4l2.8 4.9h-5.6zM406.4 369.7l2.8 4.9h-5.6zM391.6 397.0l2.8 4.9h-5.6zM425.5 377.6l2.8 4.9h-5.6zM435.1 391.0l2.8 4.9h-5.6z"/><path fill="none" stroke="#4bbdb5" stroke-width="3.8" d="M409.9 358.0h3.8M353.3 412.7h3.8M368.3 387.8h3.8M363.5 379.1h3.8M403.6 406.7h3.8M379.6 384.8h3.8M378.7 395.3h3.8M367.0 388.8h3.8M376.8 389.1h3.8M394.0 364.4h3.8M350.7 375.1h3.8M366.5 388.5h3.8M364.7 378.3h3.8M365.8 414.4h3.8M360.7 412.1h3.8M368.0 425.0h3.8M361.2 400.4h3.8M347.1 398.8h3.8M376.3 400.0h3.8M396.6 369.4h3.8M342.5 382.6h3.8M348.9 361.7h3.8M362.8 369.3h3.8M370.4 375.6h3.8M353.3 391.7h3.8M361.5 397.3h3.8M350.0 411.4h3.8M376.8 372.5h3.8M352.0 378.5h3.8M389.6 369.2h3.8M362.2 411.7h3.8M341.4 416.8h3.8M394.7 382.3h3.8M400.8 353.8h3.8M357.1 363.9h3.8M347.8 391.2h3.8M370.1 396.4h3.8M377.4 409.2h3.8M377.9 373.1h3.8M380.0 384.2h3.8M362.9 380.4h3.8M383.8 363.8h3.8M370.8 380.8h3.8M339.2 396.8h3.8M355.2 378.0h3.8M349.4 394.0h3.8M368.4 417.1h3.8M374.1 400.0h3.8M379.2 393.0h3.8M380.1 432.4h3.8M375.1 379.8h3.8M344.1 425.2h3.8M383.1 387.3h3.8M372.3 379.1h3.8"/><path fill="none" stroke="#9575cd" stroke-width="2.7" stroke-linecap="round" d="M333.9 280.8h5.6m-2.8-2.8v5.6M350.2 344.3h5.6m-2.8-2.8v5.6M325.6 372.6h5.6m-2.8-2.8v5.6M366.0 325.6h5.6m-2.8-2.8v5.6M338.2 332.7h5.6m-2.8-2.8v5.6M384.2 313.4h5.6m-2.8-2.8v5.6M375.5 331.6h5.6m-2.8-2.8v5.6M339.3 277.4h5.6m-2.8-2.8v5.6M355.5 262.2h5.6m-2.8-2.8v5.6M335.3 314.2h5.6m-2.8-2.8v5.6M360.4 321.4h5.6m-2.8-2.8v5.6M336.9 338.5h5.6m-2.8-2.8v5.6M337.0 328.7h5.6m-2.8-2.8v5.6M355.7 246.2h5.6m-2.8-2.8v5.6M361.2 344.1h5.6m-2.8-2.8v5.6M343.9 311.3h5.6m-2.8-2.8v5.6M359.5 321.5h5.6m-2.8-2.8v5.6M343.1 288.7h5.6m-2.8-2.8v5.6M367.7 353.6h5.6m-2.8-2.8v5.6M366.0 359.3h5.6m-2.8-2.8v5.6M333.7 292.8h5.6m-2.8-2.8v5.6M343.9 363.7h5.6m-2.8-2.8v5.6M360.0 294.9h5.6m-2.8-2.8v5.6M338.7 316.5h5.6m-2.8-2.8v5.6M359.1 344.0h5.6m-2.8-2.8v5.6M353.6 314.4h5.6m-2.8-2.8v5.6M349.6 318.3h5.6m-2.8-2.8v5.6M361.8 352.4h5.6m-2.8-2.8v5.6M345.9 322.8h5.6m-2.8-2.8v5.6M342.5 338.6h5.6m-2.8-2.8v5.6M355.0 327.1h5.6m-2.8-2.8v5.6M346.4 347.9h5.6m-2.8-2.8v5.6M362.8 340.1h5.6m-2.8-2.8v5.6M300.3 315.1h5.6m-2.8-2.8v5.6M363.9 348.2h5.6m-2.8-2.8v5.6M343.9 344.3h5.6m-2.8-2.8v5.6M334.8 328.5h5.6m-2.8-2.8v5.6M354.0 346.7h5.6m-2.8-2.8v5.6M334.6 314.7h5.6m-2.8-2.8v5.6M375.3 354.2h5.6m-2.8-2.8v5.6M345.3 326.5h5.6m-2.8-2.8v5.6"/><path fill="none" stroke="#d6739b" stroke-width="4" stroke-linecap="round" d="M402.2 308.7h0M387.8 336.2h0M385.9 318.8h0M415.3 305.6h0M394.3 318.9h0M417.2 287.4h0M393.5 340.4h0M379.8 324.4h0M398.6 316.0h0M403.0 326.3h0M416.2 335.1h0M414.7 287.9h0M425.3 270.2h0M399.0 324.3h0M388.0 316.6h0M384.6 349.1h0M429.7 313.4h0M389.5 297.3h0M409.5 304.2h0M433.2 317.9h0M374.7 317.6h0M387.5 337.9h0M402.4 315.0h0M415.0 304.3h0M369.0 318.3h0M404.8 296.8h0M379.2 318.4h0M424.1 296.5h0M402.6 366.6h0M400.9 317.0h0M380.8 339.6h0M426.2 276.4h0M382.0 332.4h0M439.3 336.9h0M419.7 327.4h0M389.9 286.2h0M388.0 340.4h0M358.8 314.7h0M411.8 331.1h0M352.6 335.2h0M383.9 355.5h0M386.0 325.9h0M383.5 333.3h0M395.0 272.8h0"/><path fill="#7b8c46" stroke="none" d="M389.9 348.5l2.8 4.9h-5.6zM419.7 353.0l2.8 4.9h-5.6zM428.5 348.8l2.8 4.9h-5.6zM390.8 345.2l2.8 4.9h-5.6zM411.7 395.9l2.8 4.9h-5.6zM404.4 346.6l2.8 4.9h-5.6zM427.9 405.3l2.8 4.9h-5.6zM377.0 377.0l2.8 4.9h-5.6zM401.4 377.5l2.8 4.9h-5.6zM411.2 366.7l2.8 4.9h-5.6zM390.2 356.9l2.8 4.9h-5.6zM428.3 383.7l2.8 4.9h-5.6zM397.6 333.7l2.8 4.9h-5.6zM397.2 344.4l2.8 4.9h-5.6zM385.4 330.7l2.8 4.9h-5.6zM433.6 346.3l2.8 4.9h-5.6zM388.8 385.5l2.8 4.9h-5.6zM380.3 343.6l2.8 4.9h-5.6zM398.7 370.6l2.8 4.9h-5.6zM427.8 385.9l2.8 4.9h-5.6zM426.6 375.4l2.8 4.9h-5.6zM451.6 356.9l2.8 4.9h-5.6zM392.0 405.7l2.8 4.9h-5.6zM426.8 358.0l2.8 4.9h-5.6zM374.4 382.2l2.8 4.9h-5.6zM418.9 360.1l2.8 4.9h-5.6zM391.6 350.6l2.8 4.9h-5.6zM383.0 354.3l2.8 4.9h-5.6zM426.4 416.8l2.8 4.9h-5.6zM389.8 367.5l2.8 4.9h-5.6zM396.9 364.9l2.8 4.9h-5.6zM442.9 344.2l2.8 4.9h-5.6zM429.8 366.2l2.8 4.9h-5.6zM391.9 350.1l2.8 4.9h-5.6zM396.9 380.4l2.8 4.9h-5.6zM421.3 366.8l2.8 4.9h-5.6zM417.0 370.9l2.8 4.9h-5.6zM397.7 428.2l2.8 4.9h-5.6zM451.1 373.0l2.8 4.9h-5.6zM413.0 367.4l2.8 4.9h-5.6zM391.2 360.9l2.8 4.9h-5.6zM403.4 381.5l2.8 4.9h-5.6zM432.1 329.3l2.8 4.9h-5.6zM409.6 356.3l2.8 4.9h-5.6zM435.2 376.0l2.8 4.9h-5.6zM389.6 372.8l2.8 4.9h-5.6zM438.4 347.1l2.8 4.9h-5.6zM371.3 342.9l2.8 4.9h-5.6zM416.0 331.2l2.8 4.9h-5.6zM410.2 375.2l2.8 4.9h-5.6zM405.1 361.1l2.8 4.9h-5.6z"/><path fill="none" stroke="#4bbdb5" stroke-width="3.8" d="M365.3 417.9h3.8M368.1 365.2h3.8M379.0 415.7h3.8M379.7 404.3h3.8M360.2 382.7h3.8M368.8 410.4h3.8M384.9 399.6h3.8M378.2 391.8h3.8M369.2 391.3h3.8M371.8 321.7h3.8M359.1 372.6h3.8M334.5 421.3h3.8M357.2 392.5h3.8M374.7 404.3h3.8M355.0 372.3h3.8M354.7 390.8h3.8M367.4 377.4h3.8M373.7 397.6h3.8M344.2 380.6h3.8M340.0 335.9h3.8M353.9 397.3h3.8M358.9 388.0h3.8M380.6 412.3h3.8M366.5 381.3h3.8M368.2 359.2h3.8M374.1 379.1h3.8M346.6 372.4h3.8M364.6 369.2h3.8M355.8 434.3h3.8M368.7 367.3h3.8M342.1 365.6h3.8M376.2 386.7h3.8M375.8 353.9h3.8M352.9 383.6h3.8M376.6 376.7h3.8M372.1 403.3h3.8M375.1 416.9h3.8M347.5 354.7h3.8M373.6 368.1h3.8M387.3 395.4h3.8M364.9 390.2h3.8M371.9 381.9h3.8M365.6 396.8h3.8M362.8 385.2h3.8M370.8 413.9h3.8M388.6 378.2h3.8M363.2 417.3h3.8M382.1 344.2h3.8M365.3 405.6h3.8M381.4 388.2h3.8M379.3 402.7h3.8M367.8 388.4h3.8M341.2 386.2h3.8M353.5 374.3h3.8"/><path fill="none" stroke="#9575cd" stroke-width="2.7" stroke-linecap="round" d="M370.5 268.2h5.6m-2.8-2.8v5.6M323.5 296.1h5.6m-2.8-2.8v5.6M348.4 345.8h5.6m-2.8-2.8v5.6M345.2 274.1h5.6m-2.8-2.8v5.6M351.9 336.7h5.6m-2.8-2.8v5.6M330.3 306.7h5.6m-2.8-2.8v5.6M348.7 336.7h5.6m-2.8-2.8v5.6M326.2 332.0h5.6m-2.8-2.8v5.6M358.4 313.8h5.6m-2.8-2.8v5.6M375.2 298.6h5.6m-2.8-2.8v5.6M361.3 366.5h5.6m-2.8-2.8v5.6M328.3 368.6h5.6m-2.8-2.8v5.6M346.5 327.2h5.6m-2.8-2.8v5.6M347.3 349.6h5.6m-2.8-2.8v5.6M351.9 304.5h5.6m-2.8-2.8v5.6M359.8 310.5h5.6m-2.8-2.8v5.6M316.3 332.0h5.6m-2.8-2.8v5.6M332.1 332.5h5.6m-2.8-2.8v5.6M354.6 280.4h5.6m-2.8-2.8v5.6M338.2 323.8h5.6m-2.8-2.8v5.6M341.9 332.3h5.6m-2.8-2.8v5.6M353.5 300.3h5.6m-2.8-2.8v5.6M372.5 341.8h5.6m-2.8-2.8v5.6M372.2 343.8h5.6m-2.8-2.8v5.6M330.0 269.4h5.6m-2.8-2.8v5.6M343.4 365.6h5.6m-2.8-2.8v5.6M350.1 345.6h5.6m-2.8-2.8v5.6M352.6 319.7h5.6m-2.8-2.8v5.6M334.4 311.0h5.6m-2.8-2.8v5.6M328.5 362.5h5.6m-2.8-2.8v5.6M336.0 311.8h5.6m-2.8-2.8v5.6M350.1 302.7h5.6m-2.8-2.8v5.6M348.1 287.5h5.6m-2.8-2.8v5.6M327.4 339.7h5.6m-2.8-2.8v5.6M375.0 338.5h5.6m-2.8-2.8v5.6M354.4 321.9h5.6m-2.8-2.8v5.6M384.6 329.6h5.6m-2.8-2.8v5.6M331.3 334.4h5.6m-2.8-2.8v5.6M386.4 317.5h5.6m-2.8-2.8v5.6M353.3 342.4h5.6m-2.8-2.8v5.6M372.7 93.5h5.6m-2.8-2.8v5.6"/><path fill="none" stroke="#d6739b" stroke-width="4" stroke-linecap="round" d="M386.3 331.1h0M409.3 318.6h0M414.8 359.3h0M392.0 321.2h0M396.3 408.5h0M396.4 292.9h0M376.5 384.6h0M409.8 325.5h0M409.2 290.2h0M404.9 356.8h0M412.2 335.3h0M401.1 270.6h0M415.0 307.0h0M405.4 321.5h0M407.9 358.7h0M370.9 309.1h0M399.6 327.0h0M411.1 322.3h0M395.3 319.8h0M422.0 316.0h0M384.9 272.0h0M386.2 293.8h0M398.0 324.5h0M402.7 303.7h0M418.3 287.0h0M418.8 248.9h0M423.0 342.2h0M407.8 302.7h0M405.1 329.3h0M394.1 336.7h0M392.6 352.6h0M432.9 282.0h0M390.8 286.9h0M416.4 303.4h0M381.6 304.6h0M412.5 305.7h0M406.1 307.2h0M416.4 301.4h0M422.3 305.6h0M416.2 311.0h0M377.6 285.9h0M407.3 312.2h0M403.4 300.8h0M379.1 314.1h0"/><path fill="#7b8c46" stroke="none" d="M397.8 364.7l2.8 4.9h-5.6zM411.2 353.0l2.8 4.9h-5.6zM398.1 375.0l2.8 4.9h-5.6zM407.3 349.9l2.8 4.9h-5.6zM416.7 338.6l2.8 4.9h-5.6zM426.3 383.4l2.8 4.9h-5.6zM476.1 346.1l2.8 4.9h-5.6zM409.8 390.3l2.8 4.9h-5.6zM379.4 359.6l2.8 4.9h-5.6zM382.8 386.6l2.8 4.9h-5.6zM404.4 403.5l2.8 4.9h-5.6zM476.6 340.7l2.8 4.9h-5.6zM427.6 353.2l2.8 4.9h-5.6zM416.2 342.3l2.8 4.9h-5.6zM463.6 330.6l2.8 4.9h-5.6zM426.1 356.3l2.8 4.9h-5.6zM418.6 351.3l2.8 4.9h-5.6zM418.3 383.1l2.8 4.9h-5.6zM415.6 372.4l2.8 4.9h-5.6zM362.6 366.2l2.8 4.9h-5.6zM376.6 390.0l2.8 4.9h-5.6zM410.2 340.5l2.8 4.9h-5.6zM381.8 415.0l2.8 4.9h-5.6zM461.6 361.9l2.8 4.9h-5.6zM431.0 353.5l2.8 4.9h-5.6zM385.8 369.9l2.8 4.9h-5.6zM393.9 399.6l2.8 4.9h-5.6zM408.6 328.8l2.8 4.9h-5.6zM434.1 377.0l2.8 4.9h-5.6zM398.8 390.1l2.8 4.9h-5.6zM401.9 409.1l2.8 4.9h-5.6zM402.2 379.0l2.8 4.9h-5.6zM401.7 412.0l2.8 4.9h-5.6zM414.5 390.6l2.8 4.9h-5.6zM417.7 387.3l2.8 4.9h-5.6zM385.1 358.7l2.8 4.9h-5.6zM445.8 367.6l2.8 4.9h-5.6zM420.8 340.8l2.8 4.9h-5.6zM410.9 367.3l2.8 4.9h-5.6zM461.4 393.0l2.8 4.9h-5.6zM366.7 379.6l2.8 4.9h-5.6zM398.3 364.9l2.8 4.9h-5.6zM394.8 345.5l2.8 4.9h-5.6zM396.4 393.4l2.8 4.9h-5.6zM416.4 383.1l2.8 4.9h-5.6zM400.1 380.0l2.8 4.9h-5.6zM393.3 314.7l2.8 4.9h-5.6zM408.7 350.8l2.8 4.9h-5.6zM402.4 383.0l2.8 4.9h-5.6zM430.6 362.7l2.8 4.9h-5.6zM398.9 360.9l2.8 4.9h-5.6z"/><path fill="none" stroke="#4bbdb5" stroke-width="3.8" d="M392.3 384.4h3.8M387.2 383.0h3.8M360.7 400.0h3.8M318.2 372.4h3.8M362.8 406.1h3.8M365.5 428.8h3.8M373.9 386.9h3.8M371.0 364.2h3.8M355.5 400.3h3.8M367.6 397.2h3.8M358.0 385.7h3.8M375.0 403.9h3.8M361.9 392.9h3.8M364.3 387.0h3.8M369.8 383.0h3.8M361.1 386.4h3.8M359.2 394.0h3.8M333.3 406.3h3.8M368.8 381.3h3.8M359.4 394.6h3.8M372.2 396.3h3.8M386.9 385.5h3.8M346.5 348.0h3.8M362.4 373.4h3.8M339.0 402.8h3.8M319.1 384.8h3.8M343.2 394.0h3.8M372.7 405.3h3.8M371.5 450.4h3.8M332.9 358.8h3.8M371.7 384.3h3.8M377.0 421.0h3.8M346.7 394.8h3.8M343.0 380.1h3.8M365.5 395.7h3.8M353.7 398.3h3.8M352.5 387.9h3.8M361.9 382.8h3.8M378.6 403.4h3.8M356.7 376.7h3.8M382.0 404.8h3.8M332.5 370.7h3.8M359.1 409.2h3.8M364.4 401.3h3.8M366.9 380.5h3.8M347.3 400.3h3.8M385.0 378.1h3.8M351.1 396.8h3.8M379.1 389.2h3.8M391.7 413.6h3.8M359.5 361.3h3.8M347.8 401.3h3.8M378.6 386.3h3.8M370.5 377.9h3.8"/><path fill="none" stroke="#9575cd" stroke-width="2.7" stroke-linecap="round" d="M334.8 336.6h5.6m-2.8-2.8v5.6M335.9 372.0h5.6m-2.8-2.8v5.6M369.7 327.9h5.6m-2.8-2.8v5.6M329.0 299.2h5.6m-2.8-2.8v5.6M366.7 294.6h5.6m-2.8-2.8v5.6M329.6 310.0h5.6m-2.8-2.8v5.6M355.1 264.2h5.6m-2.8-2.8v5.6M350.9 306.5h5.6m-2.8-2.8v5.6M324.6 306.1h5.6m-2.8-2.8v5.6M339.9 329.7h5.6m-2.8-2.8v5.6M373.0 312.1h5.6m-2.8-2.8v5.6M334.0 368.9h5.6m-2.8-2.8v5.6M340.1 299.8h5.6m-2.8-2.8v5.6M351.6 328.9h5.6m-2.8-2.8v5.6M307.7 338.6h5.6m-2.8-2.8v5.6M332.4 332.3h5.6m-2.8-2.8v5.6M360.2 325.9h5.6m-2.8-2.8v5.6M371.2 323.5h5.6m-2.8-2.8v5.6M368.8 277.9h5.6m-2.8-2.8v5.6M313.7 357.0h5.6m-2.8-2.8v5.6M345.3 306.3h5.6m-2.8-2.8v5.6M340.1 290.0h5.6m-2.8-2.8v5.6M339.7 312.4h5.6m-2.8-2.8v5.6M340.7 336.8h5.6m-2.8-2.8v5.6M346.8 353.8h5.6m-2.8-2.8v5.6M345.8 287.3h5.6m-2.8-2.8v5.6M331.2 291.0h5.6m-2.8-2.8v5.6M333.7 313.1h5.6m-2.8-2.8v5.6M337.8 330.5h5.6m-2.8-2.8v5.6M374.4 340.4h5.6m-2.8-2.8v5.6M344.1 294.7h5.6m-2.8-2.8v5.6M338.5 322.6h5.6m-2.8-2.8v5.6M344.6 311.0h5.6m-2.8-2.8v5.6M333.0 365.6h5.6m-2.8-2.8v5.6M360.1 307.6h5.6m-2.8-2.8v5.6M357.4 319.1h5.6m-2.8-2.8v5.6M340.8 344.0h5.6m-2.8-2.8v5.6M297.4 227.5h5.6m-2.8-2.8v5.6M364.7 320.8h5.6m-2.8-2.8v5.6M329.9 307.6h5.6m-2.8-2.8v5.6M255.6 171.6h5.6m-2.8-2.8v5.6"/><path fill="none" stroke="#d6739b" stroke-width="4" stroke-linecap="round" d="M412.5 345.1h0M392.0 332.7h0M414.5 374.9h0M388.9 349.1h0M408.8 290.4h0M416.4 295.2h0M401.2 283.2h0M394.5 287.8h0M409.3 323.5h0M406.4 291.1h0M425.1 317.5h0M405.2 310.9h0M399.3 312.1h0M402.1 338.9h0M391.3 337.6h0M409.6 300.2h0M341.3 217.5h0M395.0 371.4h0M387.4 371.8h0M430.3 346.2h0M380.9 314.2h0M378.9 276.8h0M404.6 316.4h0M380.8 300.0h0M398.8 259.5h0M426.4 332.1h0M418.2 285.0h0M385.4 329.5h0M393.2 299.3h0M399.9 291.6h0M393.5 329.0h0M421.7 348.1h0M420.6 310.6h0M371.9 341.4h0M370.9 361.4h0M404.6 365.3h0M419.2 324.1h0M394.5 332.5h0M388.4 326.8h0M419.0 327.2h0M391.7 318.4h0M382.9 304.0h0M413.4 312.5h0M405.9 324.2h0"/><path fill="#7b8c46" stroke="none" d="M419.0 352.2l2.8 4.9h-5.6zM408.8 379.0l2.8 4.9h-5.6zM427.7 349.0l2.8 4.9h-5.6zM418.0 370.1l2.8 4.9h-5.6zM401.6 378.4l2.8 4.9h-5.6zM405.3 362.6l2.8 4.9h-5.6zM393.9 381.9l2.8 4.9h-5.6zM423.1 351.3l2.8 4.9h-5.6zM452.7 427.3l2.8 4.9h-5.6zM408.2 421.6l2.8 4.9h-5.6zM397.1 341.8l2.8 4.9h-5.6zM406.1 388.3l2.8 4.9h-5.6zM396.7 373.9l2.8 4.9h-5.6zM415.7 393.0l2.8 4.9h-5.6zM434.4 325.2l2.8 4.9h-5.6zM435.8 353.4l2.8 4.9h-5.6zM401.7 337.8l2.8 4.9h-5.6zM412.4 372.1l2.8 4.9h-5.6zM423.5 370.2l2.8 4.9h-5.6zM403.7 372.3l2.8 4.9h-5.6zM425.0 361.1l2.8 4.9h-5.6zM422.5 355.9l2.8 4.9h-5.6zM399.6 382.0l2.8 4.9h-5.6zM390.8 367.8l2.8 4.9h-5.6zM397.4 398.7l2.8 4.9h-5.6zM421.4 367.1l2.8 4.9h-5.6zM415.3 397.3l2.8 4.9h-5.6zM406.3 336.1l2.8 4.9h-5.6zM410.9 378.2l2.8 4.9h-5.6zM386.6 336.1l2.8 4.9h-5.6zM384.1 385.4l2.8 4.9h-5.6zM410.0 377.5l2.8 4.9h-5.6zM426.1 410.4l2.8 4.9h-5.6zM392.6 392.8l2.8 4.9h-5.6zM415.0 364.0l2.8 4.9h-5.6zM396.3 403.4l2.8 4.9h-5.6zM402.8 389.4l2.8 4.9h-5.6zM376.0 362.9l2.8 4.9h-5.6zM418.8 384.5l2.8 4.9h-5.6zM416.1 324.8l2.8 4.9h-5.6zM436.9 382.0l2.8 4.9h-5.6zM372.3 360.6l2.8 4.9h-5.6zM416.8 369.8l2.8 4.9h-5.6zM468.5 348.1l2.8 4.9h-5.6zM380.5 344.1l2.8 4.9h-5.6zM395.8 367.8l2.8 4.9h-5.6zM438.0 351.6l2.8 4.9h-5.6zM421.0 344.8l2.8 4.9h-5.6zM392.0 362.5l2.8 4.9h-5.6zM376.0 373.2l2.8 4.9h-5.6zM369.1 403.4l2.8 4.9h-5.6z"/><path fill="none" stroke="#4bbdb5" stroke-width="3.8" d="M361.7 385.4h3.8M346.6 418.5h3.8M397.1 391.4h3.8M343.6 368.1h3.8M345.0 373.0h3.8M332.1 380.7h3.8M368.4 420.6h3.8M354.8 382.1h3.8M382.4 365.0h3.8M369.2 416.0h3.8M355.5 382.8h3.8M378.5 385.5h3.8M397.9 405.4h3.8M374.2 330.8h3.8M382.5 408.7h3.8M360.3 370.9h3.8M364.2 374.0h3.8M355.7 363.5h3.8M342.8 371.5h3.8M379.1 394.5h3.8M384.2 382.4h3.8M377.5 385.7h3.8M349.7 349.9h3.8M348.9 379.8h3.8M357.0 402.8h3.8M349.9 373.4h3.8M341.5 397.1h3.8M385.3 398.3h3.8M364.2 402.8h3.8M355.8 349.0h3.8M365.9 379.2h3.8M358.9 397.6h3.8M361.8 404.3h3.8M374.6 372.4h3.8M378.4 359.9h3.8M328.1 397.3h3.8M382.4 400.9h3.8M376.8 381.0h3.8M353.0 409.7h3.8M347.0 381.2h3.8M369.9 405.3h3.8M365.0 358.1h3.8M378.0 375.8h3.8M381.8 402.4h3.8M387.7 400.8h3.8M379.4 399.0h3.8M370.5 370.3h3.8M368.9 407.0h3.8M359.5 428.7h3.8M353.5 386.3h3.8M368.4 404.8h3.8M367.2 388.9h3.8M382.2 369.8h3.8M376.6 383.0h3.8"/><path fill="none" stroke="#9575cd" stroke-width="2.7" stroke-linecap="round" d="M351.7 263.6h5.6m-2.8-2.8v5.6M330.8 322.8h5.6m-2.8-2.8v5.6M338.1 362.6h5.6m-2.8-2.8v5.6M355.2 275.2h5.6m-2.8-2.8v5.6M364.4 351.4h5.6m-2.8-2.8v5.6M346.0 352.1h5.6m-2.8-2.8v5.6M355.5 309.7h5.6m-2.8-2.8v5.6M366.8 338.3h5.6m-2.8-2.8v5.6M332.9 313.7h5.6m-2.8-2.8v5.6M357.4 316.4h5.6m-2.8-2.8v5.6M325.9 301.3h5.6m-2.8-2.8v5.6M336.2 330.3h5.6m-2.8-2.8v5.6M341.9 291.3h5.6m-2.8-2.8v5.6M344.1 298.6h5.6m-2.8-2.8v5.6M357.8 324.1h5.6m-2.8-2.8v5.6M334.8 336.4h5.6m-2.8-2.8v5.6M324.2 354.5h5.6m-2.8-2.8v5.6M353.5 305.6h5.6m-2.8-2.8v5.6M339.6 303.5h5.6m-2.8-2.8v5.6M339.1 296.4h5.6m-2.8-2.8v5.6M356.5 312.2h5.6m-2.8-2.8v5.6M336.9 281.0h5.6m-2.8-2.8v5.6M338.5 289.6h5.6m-2.8-2.8v5.6M357.2 356.5h5.6m-2.8-2.8v5.6M339.7 356.4h5.6m-2.8-2.8v5.6M347.3 320.2h5.6m-2.8-2.8v5.6M367.9 309.9h5.6m-2.8-2.8v5.6M368.4 290.6h5.6m-2.8-2.8v5.6M340.7 347.1h5.6m-2.8-2.8v5.6M331.0 317.4h5.6m-2.8-2.8v5.6M344.2 313.3h5.6m-2.8-2.8v5.6M338.8 312.3h5.6m-2.8-2.8v5.6M355.4 287.1h5.6m-2.8-2.8v5.6M332.5 265.1h5.6m-2.8-2.8v5.6M363.2 324.1h5.6m-2.8-2.8v5.6M353.8 308.1h5.6m-2.8-2.8v5.6M352.8 340.5h5.6m-2.8-2.8v5.6M355.2 336.6h5.6m-2.8-2.8v5.6M345.1 293.7h5.6m-2.8-2.8v5.6M339.7 298.1h5.6m-2.8-2.8v5.6M362.7 173.3h5.6m-2.8-2.8v5.6"/><path fill="none" stroke="#d6739b" stroke-width="4" stroke-linecap="round" d="M411.4 355.7h0M398.8 351.8h0M383.3 315.3h0M407.4 319.7h0M386.6 295.7h0M423.9 335.2h0M394.9 358.6h0M359.1 309.8h0M407.3 340.5h0M417.0 332.0h0M377.3 264.6h0M419.5 276.2h0M397.7 350.6h0M430.3 297.9h0M418.2 316.6h0M430.2 303.6h0M387.4 339.9h0M396.7 327.0h0M407.2 317.8h0M399.0 334.7h0M377.9 292.7h0M394.2 315.3h0M425.8 298.1h0M401.1 273.4h0M421.8 312.4h0M393.7 346.2h0M403.0 321.6h0M383.2 339.5h0M401.7 314.8h0M403.2 294.1h0M385.1 367.5h0M404.3 349.0h0M404.8 345.0h0M400.2 257.5h0M363.0 300.2h0M366.2 285.3h0M407.8 316.6h0M406.9 343.4h0M399.6 303.1h0M407.0 322.5h0M410.9 323.8h0M406.8 291.1h0M430.4 309.3h0M417.8 310.3h0"/><path fill="#7b8c46" stroke="none" d="M434.2 406.6l2.8 4.9h-5.6zM417.2 370.3l2.8 4.9h-5.6zM392.7 395.3l2.8 4.9h-5.6zM414.8 375.2l2.8 4.9h-5.6zM395.5 354.2l2.8 4.9h-5.6zM400.0 365.8l2.8 4.9h-5.6zM407.8 386.6l2.8 4.9h-5.6zM373.2 389.9l2.8 4.9h-5.6zM417.6 357.0l2.8 4.9h-5.6zM411.8 356.4l2.8 4.9h-5.6zM436.2 348.3l2.8 4.9h-5.6zM401.6 373.7l2.8 4.9h-5.6zM425.8 366.4l2.8 4.9h-5.6zM432.3 380.3l2.8 4.9h-5.6zM437.9 381.8l2.8 4.9h-5.6zM413.3 383.6l2.8 4.9h-5.6zM387.4 398.0l2.8 4.9h-5.6zM448.7 354.2l2.8 4.9h-5.6zM401.6 347.9l2.8 4.9h-5.6zM390.0 404.2l2.8 4.9h-5.6zM435.5 362.7l2.8 4.9h-5.6zM405.2 332.5l2.8 4.9h-5.6zM391.9 373.6l2.8 4.9h-5.6zM388.3 399.5l2.8 4.9h-5.6zM403.1 409.8l2.8 4.9h-5.6zM399.9 377.7l2.8 4.9h-5.6zM438.8 375.8l2.8 4.9h-5.6zM420.0 340.7l2.8 4.9h-5.6zM433.6 409.6l2.8 4.9h-5.6zM428.4 406.7l2.8 4.9h-5.6zM402.9 355.9l2.8 4.9h-5.6zM396.1 366.9l2.8 4.9h-5.6zM456.2 366.8l2.8 4.9h-5.6zM431.9 363.4l2.8 4.9h-5.6zM398.7 398.6l2.8 4.9h-5.6zM391.9 367.5l2.8 4.9h-5.6zM412.2 352.8l2.8 4.9h-5.6zM441.3 341.8l2.8 4.9h-5.6zM421.6 378.5l2.8 4.9h-5.6zM408.6 368.8l2.8 4.9h-5.6zM393.9 412.5l2.8 4.9h-5.6zM369.5 371.5l2.8 4.9h-5.6zM390.0 366.8l2.8 4.9h-5.6zM410.3 350.0l2.8 4.9h-5.6zM398.0 385.7l2.8 4.9h-5.6zM434.6 372.0l2.8 4.9h-5.6zM390.0 385.4l2.8 4.9h-5.6zM402.2 378.9l2.8 4.9h-5.6zM436.2 371.2l2.8 4.9h-5.6zM400.8 338.6l2.8 4.9h-5.6zM409.7 387.3l2.8 4.9h-5.6z"/><path fill="none" stroke="#4bbdb5" stroke-width="3.8" d="M384.3 391.5h3.8M362.3 402.3h3.8M335.9 406.8h3.8M374.3 404.3h3.8M396.8 375.6h3.8M367.9 423.2h3.8M353.6 390.2h3.8M386.2 340.2h3.8M355.6 385.6h3.8M348.0 387.7h3.8M342.2 405.8h3.8M341.0 401.7h3.8M366.6 395.3h3.8M391.8 399.9h3.8M399.2 400.8h3.8M362.4 405.5h3.8M319.5 391.4h3.8M390.6 381.6h3.8M365.1 415.0h3.8M390.3 399.2h3.8M369.0 375.0h3.8M378.3 391.0h3.8M337.1 382.9h3.8M376.7 398.9h3.8M378.0 368.4h3.8M354.3 413.6h3.8M348.5 376.2h3.8M355.7 369.4h3.8M388.7 361.4h3.8M386.8 397.0h3.8M382.1 417.8h3.8M363.9 380.7h3.8M358.1 382.7h3.8M391.6 380.1h3.8M373.2 400.8h3.8M393.5 382.2h3.8M359.9 402.7h3.8M333.3 352.6h3.8M376.3 426.4h3.8M333.7 370.4h3.8M345.5 358.0h3.8M352.5 392.1h3.8M371.9 389.0h3.8M358.3 390.5h3.8M357.2 377.3h3.8M365.3 395.2h3.8M373.6 413.1h3.8M347.7 398.3h3.8M351.3 383.9h3.8M355.2 398.0h3.8M351.2 392.5h3.8M382.9 376.1h3.8M339.4 380.9h3.8M361.9 399.8h3.8"/><path fill="none" stroke="#9575cd" stroke-width="2.7" stroke-linecap="round" d="M324.3 331.2h5.6m-2.8-2.8v5.6M323.7 295.2h5.6m-2.8-2.8v5.6M358.9 302.4h5.6m-2.8-2.8v5.6M360.8 274.8h5.6m-2.8-2.8v5.6M340.8 326.2h5.6m-2.8-2.8v5.6M316.1 320.8h5.6m-2.8-2.8v5.6M378.7 340.4h5.6m-2.8-2.8v5.6M329.5 312.1h5.6m-2.8-2.8v5.6M341.1 289.7h5.6m-2.8-2.8v5.6M374.2 299.5h5.6m-2.8-2.8v5.6M332.5 346.9h5.6m-2.8-2.8v5.6M360.2 317.2h5.6m-2.8-2.8v5.6M335.3 342.9h5.6m-2.8-2.8v5.6M329.5 297.5h5.6m-2.8-2.8v5.6M354.1 313.2h5.6m-2.8-2.8v5.6M327.0 338.1h5.6m-2.8-2.8v5.6M331.4 304.6h5.6m-2.8-2.8v5.6M358.0 324.4h5.6m-2.8-2.8v5.6M377.5 308.9h5.6m-2.8-2.8v5.6M361.9 355.4h5.6m-2.8-2.8v5.6M338.1 281.7h5.6m-2.8-2.8v5.6M353.2 282.7h5.6m-2.8-2.8v5.6M336.9 284.8h5.6m-2.8-2.8v5.6M329.7 280.0h5.6m-2.8-2.8v5.6M351.8 242.4h5.6m-2.8-2.8v5.6M359.8 287.4h5.6m-2.8-2.8v5.6M357.4 284.0h5.6m-2.8-2.8v5.6M356.1 270.6h5.6m-2.8-2.8v5.6M340.6 316.1h5.6m-2.8-2.8v5.6M315.8 367.5h5.6m-2.8-2.8v5.6M326.2 303.3h5.6m-2.8-2.8v5.6M343.2 289.7h5.6m-2.8-2.8v5.6M378.2 303.0h5.6m-2.8-2.8v5.6M342.7 328.0h5.6m-2.8-2.8v5.6M335.2 278.1h5.6m-2.8-2.8v5.6M363.5 344.5h5.6m-2.8-2.8v5.6M370.4 359.9h5.6m-2.8-2.8v5.6M328.4 345.9h5.6m-2.8-2.8v5.6M353.3 324.7h5.6m-2.8-2.8v5.6M349.9 358.4h5.6m-2.8-2.8v5.6M324.8 213.7h5.6m-2.8-2.8v5.6"/><path fill="none" stroke="#d6739b" stroke-width="4" stroke-linecap="round" d="M393.9 347.5h0M412.4 332.7h0M414.0 312.5h0M399.0 333.0h0M385.5 299.4h0M400.6 345.1h0M385.9 348.3h0M380.8 314.9h0M387.7 316.6h0M382.5 351.9h0M402.0 300.9h0M378.1 323.6h0M394.6 348.6h0M391.9 329.5h0M405.4 270.1h0M379.5 328.6h0M367.6 316.5h0M399.9 328.3h0M399.9 328.6h0M358.3 335.7h0M385.2 275.5h0M373.7 271.5h0M399.9 274.6h0M391.2 312.3h0M385.8 348.2h0M393.0 308.8h0M377.9 346.3h0M411.0 313.0h0M444.0 330.5h0M387.2 317.3h0M388.5 368.9h0M385.4 285.7h0M378.8 350.6h0M397.1 262.1h0M401.7 327.6h0M362.4 314.6h0M421.7 399.8h0M395.1 367.1h0M374.2 331.6h0M387.3 320.7h0M388.5 318.5h0M416.0 349.8h0M422.6 306.9h0M413.4 323.8h0"/><path fill="#7b8c46" stroke="none" d="M398.4 376.4l2.8 4.9h-5.6zM390.8 343.7l2.8 4.9h-5.6zM397.6 370.0l2.8 4.9h-5.6zM383.6 378.5l2.8 4.9h-5.6zM409.9 389.2l2.8 4.9h-5.6zM415.1 360.1l2.8 4.9h-5.6zM394.7 382.6l2.8 4.9h-5.6zM435.6 319.2l2.8 4.9h-5.6zM435.4 382.3l2.8 4.9h-5.6zM393.7 343.9l2.8 4.9h-5.6zM374.7 326.5l2.8 4.9h-5.6zM428.2 402.0l2.8 4.9h-5.6zM442.6 364.6l2.8 4.9h-5.6zM390.7 363.2l2.8 4.9h-5.6zM409.6 353.5l2.8 4.9h-5.6zM426.1 390.1l2.8 4.9h-5.6zM440.6 388.0l2.8 4.9h-5.6zM388.9 353.6l2.8 4.9h-5.6zM402.1 347.7l2.8 4.9h-5.6zM376.1 338.6l2.8 4.9h-5.6zM381.2 341.7l2.8 4.9h-5.6zM433.1 355.3l2.8 4.9h-5.6zM396.6 382.2l2.8 4.9h-5.6zM414.0 350.8l2.8 4.9h-5.6zM417.6 395.6l2.8 4.9h-5.6zM405.9 386.8l2.8 4.9h-5.6zM386.0 394.0l2.8 4.9h-5.6zM408.7 389.4l2.8 4.9h-5.6zM412.0 385.4l2.8 4.9h-5.6zM421.3 339.9l2.8 4.9h-5.6zM404.7 426.5l2.8 4.9h-5.6zM428.2 354.7l2.8 4.9h-5.6zM434.1 371.1l2.8 4.9h-5.6zM386.6 366.8l2.8 4.9h-5.6zM402.2 361.9l2.8 4.9h-5.6zM428.1 363.6l2.8 4.9h-5.6zM406.8 346.6l2.8 4.9h-5.6zM441.7 387.1l2.8 4.9h-5.6zM407.0 364.2l2.8 4.9h-5.6zM407.9 373.5l2.8 4.9h-5.6zM403.4 355.2l2.8 4.9h-5.6zM420.7 375.3l2.8 4.9h-5.6zM411.4 370.8l2.8 4.9h-5.6zM375.1 350.5l2.8 4.9h-5.6zM418.4 364.9l2.8 4.9h-5.6zM394.2 340.6l2.8 4.9h-5.6zM401.9 371.4l2.8 4.9h-5.6zM409.3 394.5l2.8 4.9h-5.6zM403.3 336.1l2.8 4.9h-5.6zM391.8 342.0l2.8 4.9h-5.6zM428.7 345.5l2.8 4.9h-5.6z"/><path fill="none" stroke="#4bbdb5" stroke-width="3.8" d="M369.1 374.8h3.8M372.5 373.4h3.8M375.8 374.3h3.8M374.2 364.0h3.8M326.2 394.6h3.8M352.7 367.5h3.8M372.7 440.6h3.8M383.5 393.1h3.8M368.2 381.8h3.8M388.2 358.2h3.8M366.2 383.2h3.8M358.9 360.0h3.8M345.7 391.7h3.8M368.4 381.5h3.8M345.9 409.8h3.8M352.0 383.3h3.8M339.1 395.8h3.8M385.6 396.4h3.8M348.7 398.9h3.8M351.6 413.1h3.8M386.3 445.2h3.8M346.0 406.3h3.8M394.4 423.3h3.8M339.3 381.9h3.8M377.7 418.1h3.8M385.5 389.2h3.8M328.2 385.3h3.8M367.3 413.7h3.8M406.6 406.4h3.8M373.4 385.3h3.8M367.6 392.3h3.8M354.7 414.4h3.8M352.4 377.3h3.8M351.5 421.8h3.8M357.1 379.4h3.8M367.0 393.2h3.8M404.2 361.0h3.8M373.6 395.3h3.8M356.2 384.4h3.8M370.5 373.0h3.8M372.9 403.7h3.8M361.7 402.0h3.8M362.5 383.5h3.8M343.4 369.6h3.8M374.2 375.7h3.8M367.9 403.1h3.8M358.2 391.7h3.8M362.1 347.3h3.8M372.7 407.7h3.8M327.3 369.5h3.8M385.5 370.7h3.8M357.9 378.1h3.8M380.5 430.1h3.8M363.1 407.3h3.8"/><path fill="none" stroke="#9575cd" stroke-width="2.7" stroke-linecap="round" d="M373.9 285.4h5.6m-2.8-2.8v5.6M352.5 333.0h5.6m-2.8-2.8v5.6M354.1 349.4h5.6m-2.8-2.8v5.6M332.7 297.8h5.6m-2.8-2.8v5.6M337.2 327.7h5.6m-2.8-2.8v5.6M354.1 343.1h5.6m-2.8-2.8v5.6M365.7 289.3h5.6m-2.8-2.8v5.6M342.0 314.2h5.6m-2.8-2.8v5.6M364.7 319.0h5.6m-2.8-2.8v5.6M330.9 298.0h5.6m-2.8-2.8v5.6M360.2 308.6h5.6m-2.8-2.8v5.6M338.5 349.9h5.6m-2.8-2.8v5.6M357.3 338.4h5.6m-2.8-2.8v5.6M393.0 253.7h5.6m-2.8-2.8v5.6M374.2 309.6h5.6m-2.8-2.8v5.6M314.2 363.3h5.6m-2.8-2.8v5.6M358.2 298.0h5.6m-2.8-2.8v5.6M350.5 376.4h5.6m-2.8-2.8v5.6M340.4 333.3h5.6m-2.8-2.8v5.6M350.4 337.5h5.6m-2.8-2.8v5.6M355.5 279.7h5.6m-2.8-2.8v5.6M341.1 291.2h5.6m-2.8-2.8v5.6M373.4 314.8h5.6m-2.8-2.8v5.6M359.3 283.9h5.6m-2.8-2.8v5.6M361.0 303.1h5.6m-2.8-2.8v5.6M332.8 366.2h5.6m-2.8-2.8v5.6M338.9 272.9h5.6m-2.8-2.8v5.6M377.2 239.1h5.6m-2.8-2.8v5.6M336.8 290.0h5.6m-2.8-2.8v5.6M382.1 305.3h5.6m-2.8-2.8v5.6M357.8 265.4h5.6m-2.8-2.8v5.6M328.0 313.7h5.6m-2.8-2.8v5.6M342.6 261.8h5.6m-2.8-2.8v5.6M363.4 300.2h5.6m-2.8-2.8v5.6M350.2 332.5h5.6m-2.8-2.8v5.6M349.8 331.5h5.6m-2.8-2.8v5.6M344.9 378.0h5.6m-2.8-2.8v5.6M382.2 254.3h5.6m-2.8-2.8v5.6M332.3 301.1h5.6m-2.8-2.8v5.6M349.6 303.3h5.6m-2.8-2.8v5.6M326.2 219.5h5.6m-2.8-2.8v5.6"/><path fill="none" stroke="#d6739b" stroke-width="4" stroke-linecap="round" d="M382.1 301.1h0M382.5 291.5h0M369.1 318.9h0M365.6 335.0h0M420.8 286.1h0M395.0 322.4h0M422.6 288.0h0M385.9 365.9h0M367.3 340.7h0M348.8 345.6h0M384.2 347.6h0M380.3 342.1h0M393.9 306.6h0M404.8 290.9h0M428.7 332.6h0M410.1 327.5h0M410.9 303.8h0M411.8 340.7h0M396.4 298.7h0M420.6 306.9h0M393.3 329.1h0M398.0 296.5h0M421.1 308.4h0M404.9 302.9h0M426.9 372.9h0M372.4 315.5h0M380.1 307.7h0M414.6 303.5h0M398.7 298.4h0M406.2 335.6h0M363.6 292.5h0M393.0 336.2h0M408.1 290.1h0M405.3 327.4h0M392.3 327.1h0M416.6 304.6h0M397.9 274.8h0M379.3 240.1h0M402.6 335.4h0M425.6 335.9h0M387.9 336.4h0M389.1 320.3h0M410.3 303.9h0M429.3 311.3h0"/><path fill="#7b8c46" stroke="none" d="M400.1 355.7l2.8 4.9h-5.6zM437.8 383.3l2.8 4.9h-5.6zM454.3 362.1l2.8 4.9h-5.6zM451.3 340.3l2.8 4.9h-5.6zM419.1 353.3l2.8 4.9h-5.6zM433.4 403.3l2.8 4.9h-5.6zM402.3 370.7l2.8 4.9h-5.6zM417.6 359.2l2.8 4.9h-5.6zM471.5 354.9l2.8 4.9h-5.6zM413.6 357.1l2.8 4.9h-5.6zM423.8 381.3l2.8 4.9h-5.6zM396.5 430.0l2.8 4.9h-5.6zM445.5 365.8l2.8 4.9h-5.6zM421.3 360.4l2.8 4.9h-5.6zM388.1 350.9l2.8 4.9h-5.6zM430.7 375.5l2.8 4.9h-5.6zM412.7 384.1l2.8 4.9h-5.6zM434.3 343.2l2.8 4.9h-5.6zM423.2 372.4l2.8 4.9h-5.6zM409.7 392.0l2.8 4.9h-5.6zM409.1 354.6l2.8 4.9h-5.6zM456.2 342.9l2.8 4.9h-5.6zM399.2 363.1l2.8 4.9h-5.6zM422.9 356.0l2.8 4.9h-5.6zM408.7 359.4l2.8 4.9h-5.6zM457.5 326.2l2.8 4.9h-5.6zM424.6 393.2l2.8 4.9h-5.6zM449.9 324.3l2.8 4.9h-5.6zM416.4 366.0l2.8 4.9h-5.6zM384.9 377.9l2.8 4.9h-5.6zM395.0 383.5l2.8 4.9h-5.6zM409.0 345.6l2.8 4.9h-5.6zM399.8 338.2l2.8 4.9h-5.6zM407.5 387.4l2.8 4.9h-5.6zM425.5 350.4l2.8 4.9h-5.6zM433.4 350.1l2.8 4.9h-5.6zM409.7 408.2l2.8 4.9h-5.6zM412.2 362.6l2.8 4.9h-5.6zM426.4 387.1l2.8 4.9h-5.6zM426.2 357.6l2.8 4.9h-5.6zM392.8 367.5l2.8 4.9h-5.6zM400.9 349.7l2.8 4.9h-5.6zM421.6 377.5l2.8 4.9h-5.6zM422.4 400.8l2.8 4.9h-5.6zM389.2 364.9l2.8 4.9h-5.6zM407.1 391.5l2.8 4.9h-5.6zM398.9 386.3l2.8 4.9h-5.6zM412.4 361.4l2.8 4.9h-5.6zM380.6 354.0l2.8 4.9h-5.6zM416.9 342.1l2.8 4.9h-5.6zM402.0 383.2l2.8 4.9h-5.6z"/><path fill="none" stroke="#4bbdb5" stroke-width="3.8" d="M357.5 428.7h3.8M343.2 404.1h3.8M381.2 418.8h3.8M356.9 361.6h3.8M353.6 382.3h3.8M354.2 379.0h3.8M352.3 380.2h3.8M385.6 366.3h3.8M381.8 361.0h3.8M361.7 431.9h3.8M385.9 408.6h3.8M340.6 357.1h3.8M347.8 409.4h3.8M368.3 394.0h3.8M348.3 366.5h3.8M345.3 422.2h3.8M373.5 359.5h3.8M347.7 394.5h3.8M376.2 362.5h3.8M370.5 391.5h3.8M360.3 407.4h3.8M360.1 400.3h3.8M367.8 376.0h3.8M357.7 391.1h3.8M362.8 413.3h3.8M373.6 400.2h3.8M353.9 396.9h3.8M361.5 392.8h3.8M365.4 383.7h3.8M359.1 394.3h3.8M366.0 425.5h3.8M367.4 392.6h3.8M371.0 390.2h3.8M360.0 397.4h3.8M392.5 367.7h3.8M366.4 364.2h3.8M386.6 374.4h3.8M362.7 406.8h3.8M363.0 375.4h3.8M351.5 391.8h3.8M381.4 367.5h3.8M343.7 401.6h3.8M359.9 420.7h3.8M364.7 369.2h3.8M382.4 412.1h3.8M359.2 398.9h3.8M350.6 382.9h3.8M363.0 402.0h3.8M386.4 386.9h3.8M385.5 396.5h3.8M367.9 372.3h3.8M370.1 403.0h3.8M366.0 363.6h3.8M396.0 399.7h3.8"/><path fill="none" stroke="#9575cd" stroke-width="2.7" stroke-linecap="round" d="M332.0 334.5h5.6m-2.8-2.8v5.6M366.8 334.2h5.6m-2.8-2.8v5.6M334.1 275.0h5.6m-2.8-2.8v5.6M372.4 288.9h5.6m-2.8-2.8v5.6M345.7 351.1h5.6m-2.8-2.8v5.6M351.1 332.6h5.6m-2.8-2.8v5.6M326.8 256.2h5.6m-2.8-2.8v5.6M315.7 302.8h5.6m-2.8-2.8v5.6M354.0 341.7h5.6m-2.8-2.8v5.6M348.9 311.7h5.6m-2.8-2.8v5.6M345.7 346.4h5.6m-2.8-2.8v5.6M367.7 298.8h5.6m-2.8-2.8v5.6M366.8 306.0h5.6m-2.8-2.8v5.6M336.5 323.5h5.6m-2.8-2.8v5.6M362.8 334.6h5.6m-2.8-2.8v5.6M361.4 301.4h5.6m-2.8-2.8v5.6M366.2 301.2h5.6m-2.8-2.8v5.6M334.8 335.2h5.6m-2.8-2.8v5.6M350.4 324.7h5.6m-2.8-2.8v5.6M372.2 295.8h5.6m-2.8-2.8v5.6M376.1 306.1h5.6m-2.8-2.8v5.6M352.9 309.1h5.6m-2.8-2.8v5.6M360.0 294.7h5.6m-2.8-2.8v5.6M370.9 326.6h5.6m-2.8-2.8v5.6M359.0 307.6h5.6m-2.8-2.8v5.6M346.3 346.8h5.6m-2.8-2.8v5.6M369.4 311.7h5.6m-2.8-2.8v5.6M329.6 345.5h5.6m-2.8-2.8v5.6M343.1 299.1h5.6m-2.8-2.8v5.6M341.6 352.7h5.6m-2.8-2.8v5.6M360.7 313.5h5.6m-2.8-2.8v5.6M340.5 311.9h5.6m-2.8-2.8v5.6M332.5 309.4h5.6m-2.8-2.8v5.6M369.7 308.3h5.6m-2.8-2.8v5.6M356.5 301.4h5.6m-2.8-2.8v5.6M342.2 315.9h5.6m-2.8-2.8v5.6M347.6 326.8h5.6m-2.8-2.8v5.6M342.7 292.4h5.6m-2.8-2.8v5.6M322.4 373.7h5.6m-2.8-2.8v5.6M346.4 301.6h5.6m-2.8-2.8v5.6M342.5 215.8h5.6m-2.8-2.8v5.6"/><path fill="none" stroke="#d6739b" stroke-width="4" stroke-linecap="round" d="M394.2 305.2h0M404.5 299.2h0M373.1 324.5h0M399.1 296.8h0M385.1 300.5h0M383.7 351.0h0M374.1 308.2h0M406.2 372.3h0M365.0 326.6h0M407.0 349.4h0M391.9 312.3h0M431.7 349.5h0M373.9 357.0h0M388.2 307.8h0M370.1 287.1h0M392.2 328.5h0M386.0 322.5h0M408.7 251.9h0M410.3 322.9h0M365.5 278.1h0M384.5 260.3h0M382.0 336.0h0M379.2 316.4h0M383.0 328.1h0M410.3 317.3h0M396.9 333.6h0M427.2 365.6h0M421.1 244.3h0M396.7 374.2h0M390.0 240.5h0M409.2 304.6h0M402.4 300.1h0M355.4 308.6h0M421.9 332.7h0M364.9 318.2h0M393.6 249.1h0M420.4 313.1h0M419.9 290.5h0M406.6 324.4h0M379.6 264.8h0M414.0 328.0h0M367.5 318.1h0M381.6 233.7h0M409.3 354.1h0"/><path fill="#7b8c46" stroke="none" d="M430.0 408.4l2.8 4.9h-5.6zM384.6 377.8l2.8 4.9h-5.6zM401.0 405.3l2.8 4.9h-5.6zM390.7 373.2l2.8 4.9h-5.6zM440.2 343.1l2.8 4.9h-5.6zM397.5 429.8l2.8 4.9h-5.6zM391.8 375.1l2.8 4.9h-5.6zM380.3 403.5l2.8 4.9h-5.6zM403.9 398.0l2.8 4.9h-5.6zM406.5 370.0l2.8 4.9h-5.6zM418.6 396.7l2.8 4.9h-5.6zM407.1 369.5l2.8 4.9h-5.6zM420.0 356.9l2.8 4.9h-5.6zM398.0 377.1l2.8 4.9h-5.6zM380.1 386.4l2.8 4.9h-5.6zM434.2 395.6l2.8 4.9h-5.6zM406.6 328.0l2.8 4.9h-5.6zM391.3 357.4l2.8 4.9h-5.6zM407.3 387.1l2.8 4.9h-5.6zM416.1 367.8l2.8 4.9h-5.6zM376.4 371.4l2.8 4.9h-5.6zM431.4 372.0l2.8 4.9h-5.6zM423.8 374.0l2.8 4.9h-5.6zM431.0 366.7l2.8 4.9h-5.6zM429.0 357.3l2.8 4.9h-5.6zM409.8 402.1l2.8 4.9h-5.6zM417.6 378.4l2.8 4.9h-5.6zM404.3 377.5l2.8 4.9h-5.6zM394.4 358.7l2.8 4.9h-5.6zM402.2 378.5l2.8 4.9h-5.6zM455.6 394.4l2.8 4.9h-5.6zM407.4 397.5l2.8 4.9h-5.6zM402.6 363.2l2.8 4.9h-5.6zM421.8 374.9l2.8 4.9h-5.6zM413.6 389.5l2.8 4.9h-5.6zM398.1 393.7l2.8 4.9h-5.6zM426.3 365.0l2.8 4.9h-5.6zM430.7 340.9l2.8 4.9h-5.6zM401.9 364.3l2.8 4.9h-5.6zM419.8 337.6l2.8 4.9h-5.6zM405.5 412.9l2.8 4.9h-5.6zM405.9 382.1l2.8 4.9h-5.6zM405.9 375.1l2.8 4.9h-5.6zM373.6 365.5l2.8 4.9h-5.6zM392.7 340.3l2.8 4.9h-5.6zM411.1 324.7l2.8 4.9h-5.6zM427.2 363.6l2.8 4.9h-5.6zM432.7 361.8l2.8 4.9h-5.6zM425.4 345.3l2.8 4.9h-5.6zM390.3 341.3l2.8 4.9h-5.6zM422.6 353.2l2.8 4.9h-5.6z"/><path fill="none" stroke="#4bbdb5" stroke-width="3.8" d="M361.3 402.2h3.8M368.5 422.9h3.8M356.5 400.7h3.8M368.0 370.8h3.8M332.7 399.3h3.8M360.6 414.7h3.8M354.2 396.3h3.8M389.8 424.2h3.8M369.0 348.4h3.8M375.2 400.1h3.8M360.2 394.2h3.8M352.6 371.9h3.8M338.9 382.6h3.8M370.3 411.5h3.8M339.5 393.8h3.8M346.3 385.4h3.8M360.1 399.6h3.8M357.7 414.9h3.8M354.6 358.9h3.8M398.0 374.3h3.8M338.3 397.8h3.8M349.6 405.3h3.8M361.4 375.7h3.8M369.5 432.1h3.8M365.2 341.0h3.8M334.9 417.7h3.8M383.0 383.6h3.8M377.4 375.9h3.8M412.3 383.3h3.8M369.3 412.5h3.8M390.8 403.4h3.8M378.4 385.6h3.8M355.3 382.2h3.8M338.6 413.1h3.8M346.6 360.4h3.8M392.0 381.9h3.8M353.7 362.0h3.8M365.9 417.0h3.8M347.8 388.9h3.8M373.4 390.7h3.8M365.3 406.3h3.8M355.5 389.9h3.8M381.7 419.7h3.8M360.8 388.2h3.8M363.8 376.1h3.8M379.5 396.7h3.8M357.7 371.4h3.8M382.7 378.2h3.8M362.7 413.2h3.8M337.1 346.8h3.8M347.4 375.2h3.8M352.1 390.9h3.8M367.9 400.0h3.8M390.9 402.9h3.8"/><path fill="none" stroke="#9575cd" stroke-width="2.7" stroke-linecap="round" d="M346.6 369.0h5.6m-2.8-2.8v5.6M347.4 295.4h5.6m-2.8-2.8v5.6M341.2 342.5h5.6m-2.8-2.8v5.6M346.0 283.0h5.6m-2.8-2.8v5.6M349.0 328.3h5.6m-2.8-2.8v5.6M365.7 330.9h5.6m-2.8-2.8v5.6M371.6 364.5h5.6m-2.8-2.8v5.6M348.1 316.6h5.6m-2.8-2.8v5.6M347.4 324.5h5.6m-2.8-2.8v5.6M324.9 314.3h5.6m-2.8-2.8v5.6M364.2 307.3h5.6m-2.8-2.8v5.6M365.9 310.2h5.6m-2.8-2.8v5.6M364.3 324.3h5.6m-2.8-2.8v5.6M338.7 281.4h5.6m-2.8-2.8v5.6M325.4 330.0h5.6m-2.8-2.8v5.6M345.7 336.4h5.6m-2.8-2.8v5.6M339.9 318.6h5.6m-2.8-2.8v5.6M360.1 314.7h5.6m-2.8-2.8v5.6M353.2 339.2h5.6m-2.8-2.8v5.6M351.9 328.6h5.6m-2.8-2.8v5.6M341.3 379.0h5.6m-2.8-2.8v5.6M359.2 331.8h5.6m-2.8-2.8v5.6M357.4 296.2h5.6m-2.8-2.8v5.6M361.8 322.8h5.6m-2.8-2.8v5.6M347.1 325.4h5.6m-2.8-2.8v5.6M351.5 324.0h5.6m-2.8-2.8v5.6M350.0 353.2h5.6m-2.8-2.8v5.6M335.5 302.8h5.6m-2.8-2.8v5.6M348.8 281.3h5.6m-2.8-2.8v5.6M371.2 313.7h5.6m-2.8-2.8v5.6M335.1 343.8h5.6m-2.8-2.8v5.6M369.0 313.7h5.6m-2.8-2.8v5.6M340.8 278.2h5.6m-2.8-2.8v5.6M354.3 327.8h5.6m-2.8-2.8v5.6M375.3 371.1h5.6m-2.8-2.8v5.6M328.0 330.1h5.6m-2.8-2.8v5.6M359.7 322.9h5.6m-2.8-2.8v5.6M338.1 324.4h5.6m-2.8-2.8v5.6M366.7 291.2h5.6m-2.8-2.8v5.6M352.5 339.5h5.6m-2.8-2.8v5.6M339.2 229.0h5.6m-2.8-2.8v5.6"/><path fill="none" stroke="#d6739b" stroke-width="4" stroke-linecap="round" d="M416.6 326.1h0M401.2 302.0h0M398.3 285.9h0M370.5 294.9h0M408.8 332.2h0M394.4 334.3h0M391.7 288.4h0M411.6 330.3h0M408.2 352.2h0M402.2 324.7h0M407.4 308.4h0M400.2 289.7h0M395.9 275.4h0M400.8 326.6h0M389.9 341.3h0M386.7 348.8h0M394.7 361.5h0M382.4 288.2h0M400.5 307.0h0M421.9 335.0h0M410.1 318.8h0M377.9 329.1h0M402.5 239.5h0M429.4 327.9h0M415.9 342.4h0M415.3 325.1h0M429.1 306.0h0M392.6 307.3h0M412.5 346.2h0M405.3 323.8h0M384.5 318.4h0M383.0 297.7h0M408.0 304.5h0M422.3 311.4h0M419.8 284.8h0M387.6 323.6h0M391.2 297.4h0M426.8 350.4h0M410.3 316.4h0M377.1 261.1h0M404.5 306.7h0M422.2 346.9h0M412.7 322.0h0M399.7 293.4h0"/><path fill="#7b8c46" stroke="none" d="M419.5 398.7l2.8 4.9h-5.6zM396.2 341.6l2.8 4.9h-5.6zM440.7 337.1l2.8 4.9h-5.6zM410.3 384.3l2.8 4.9h-5.6zM417.1 355.1l2.8 4.9h-5.6zM425.5 384.1l2.8 4.9h-5.6zM407.5 336.4l2.8 4.9h-5.6zM387.9 344.2l2.8 4.9h-5.6zM450.0 350.7l2.8 4.9h-5.6zM398.1 361.4l2.8 4.9h-5.6zM379.1 397.6l2.8 4.9h-5.6zM475.5 355.4l2.8 4.9h-5.6zM421.3 361.5l2.8 4.9h-5.6zM407.6 374.0l2.8 4.9h-5.6zM416.9 351.0l2.8 4.9h-5.6zM412.2 363.5l2.8 4.9h-5.6zM409.7 358.5l2.8 4.9h-5.6zM427.8 362.6l2.8 4.9h-5.6zM415.4 361.9l2.8 4.9h-5.6zM386.4 401.5l2.8 4.9h-5.6zM427.5 394.9l2.8 4.9h-5.6zM411.4 350.7l2.8 4.9h-5.6zM426.4 350.9l2.8 4.9h-5.6zM418.9 334.1l2.8 4.9h-5.6zM434.7 400.8l2.8 4.9h-5.6zM408.4 373.6l2.8 4.9h-5.6zM414.8 376.9l2.8 4.9h-5.6zM437.0 353.4l2.8 4.9h-5.6zM441.8 340.1l2.8 4.9h-5.6zM396.3 353.7l2.8 4.9h-5.6zM403.3 383.3l2.8 4.9h-5.6zM395.7 350.3l2.8 4.9h-5.6zM422.2 365.8l2.8 4.9h-5.6zM415.8 364.0l2.8 4.9h-5.6zM389.8 377.3l2.8 4.9h-5.6zM405.6 378.0l2.8 4.9h-5.6zM413.6 371.1l2.8 4.9h-5.6zM412.7 343.8l2.8 4.9h-5.6zM409.3 398.2l2.8 4.9h-5.6zM431.5 366.4l2.8 4.9h-5.6zM410.4 377.9l2.8 4.9h-5.6zM410.4 375.4l2.8 4.9h-5.6zM388.6 341.8l2.8 4.9h-5.6zM381.8 358.1l2.8 4.9h-5.6zM489.1 350.7l2.8 4.9h-5.6zM404.8 330.8l2.8 4.9h-5.6zM389.6 365.6l2.8 4.9h-5.6zM394.5 410.4l2.8 4.9h-5.6zM434.4 350.7l2.8 4.9h-5.6zM408.0 342.6l2.8 4.9h-5.6zM429.7 345.1l2.8 4.9h-5.6z"/><path fill="none" stroke="#4bbdb5" stroke-width="3.8" d="M387.4 372.5h3.8M398.7 374.8h3.8M359.5 384.1h3.8M371.4 388.9h3.8M378.5 358.0h3.8M375.2 388.7h3.8M368.1 402.0h3.8M352.0 401.2h3.8M379.3 404.1h3.8M347.7 371.7h3.8M381.4 380.5h3.8M358.9 378.5h3.8M356.2 382.0h3.8M359.2 413.9h3.8M354.8 397.2h3.8M383.7 388.6h3.8M358.5 372.3h3.8M344.6 364.2h3.8M377.2 377.8h3.8M347.9 364.0h3.8M388.1 422.9h3.8M381.1 390.0h3.8M365.8 406.1h3.8M332.7 415.9h3.8M392.2 395.6h3.8M355.7 407.6h3.8M374.5 385.1h3.8M342.3 390.4h3.8M347.0 407.7h3.8M379.5 418.3h3.8M348.1 388.2h3.8M350.1 419.1h3.8M348.4 393.8h3.8M356.7 397.9h3.8M376.0 386.8h3.8M359.8 357.2h3.8M355.6 393.1h3.8M376.5 401.2h3.8M371.9 370.5h3.8M337.4 367.8h3.8M348.7 391.1h3.8M368.1 386.1h3.8M374.6 403.0h3.8M374.2 350.4h3.8M372.9 366.1h3.8M362.9 386.7h3.8M369.7 418.2h3.8M358.8 387.0h3.8M387.3 388.8h3.8M380.9 406.3h3.8M354.4 396.2h3.8M398.0 432.2h3.8M358.1 396.2h3.8M339.4 379.3h3.8"/><path fill="none" stroke="#9575cd" stroke-width="2.7" stroke-linecap="round" d="M353.8 342.5h5.6m-2.8-2.8v5.6M327.4 260.3h5.6m-2.8-2.8v5.6M358.8 338.5h5.6m-2.8-2.8v5.6M349.6 319.5h5.6m-2.8-2.8v5.6M315.2 342.4h5.6m-2.8-2.8v5.6M307.9 378.2h5.6m-2.8-2.8v5.6M339.2 298.1h5.6m-2.8-2.8v5.6M362.4 352.9h5.6m-2.8-2.8v5.6M375.9 320.4h5.6m-2.8-2.8v5.6M312.9 334.9h5.6m-2.8-2.8v5.6M356.1 331.8h5.6m-2.8-2.8v5.6M368.4 362.4h5.6m-2.8-2.8v5.6M344.8 305.2h5.6m-2.8-2.8v5.6M374.4 365.2h5.6m-2.8-2.8v5.6M326.6 360.5h5.6m-2.8-2.8v5.6M317.0 324.7h5.6m-2.8-2.8v5.6M361.0 286.2h5.6m-2.8-2.8v5.6M350.8 296.9h5.6m-2.8-2.8v5.6M367.0 301.0h5.6m-2.8-2.8v5.6M345.2 343.0h5.6m-2.8-2.8v5.6M376.8 345.8h5.6m-2.8-2.8v5.6M348.8 256.1h5.6m-2.8-2.8v5.6M357.3 305.2h5.6m-2.8-2.8v5.6M339.8 316.7h5.6m-2.8-2.8v5.6M379.4 270.2h5.6m-2.8-2.8v5.6M367.0 324.5h5.6m-2.8-2.8v5.6M346.7 336.9h5.6m-2.8-2.8v5.6M369.0 301.9h5.6m-2.8-2.8v5.6M352.2 314.8h5.6m-2.8-2.8v5.6M372.5 293.2h5.6m-2.8-2.8v5.6M347.8 345.0h5.6m-2.8-2.8v5.6M350.2 333.5h5.6m-2.8-2.8v5.6M373.5 298.5h5.6m-2.8-2.8v5.6M361.9 309.6h5.6m-2.8-2.8v5.6M361.6 309.3h5.6m-2.8-2.8v5.6M360.4 301.1h5.6m-2.8-2.8v5.6M370.4 308.1h5.6m-2.8-2.8v5.6M334.7 356.1h5.6m-2.8-2.8v5.6M330.9 309.7h5.6m-2.8-2.8v5.6M338.2 383.4h5.6m-2.8-2.8v5.6M356.2 225.0h5.6m-2.8-2.8v5.6"/><path fill="none" stroke="#d6739b" stroke-width="4" stroke-linecap="round" d="M383.8 335.6h0M438.5 238.2h0M461.8 352.3h0M378.6 287.4h0M422.4 352.5h0M401.5 327.1h0M405.7 335.7h0M422.7 344.4h0M434.1 352.6h0M385.0 272.1h0M394.8 333.6h0M434.5 344.1h0M420.0 356.1h0M435.1 286.0h0M405.7 323.0h0M421.6 273.9h0M417.8 310.3h0M396.7 347.0h0M434.1 317.8h0M395.7 337.4h0M399.3 306.8h0M392.8 326.5h0M407.6 322.7h0M439.9 286.3h0M407.4 255.3h0M396.7 340.4h0M389.7 317.3h0M386.9 317.9h0M392.7 342.2h0M374.3 305.4h0M400.6 372.6h0M402.2 335.6h0M420.4 300.7h0M406.5 335.0h0M415.6 276.6h0M406.5 332.0h0M394.9 266.2h0M395.4 291.1h0M408.3 336.8h0M387.2 273.7h0M407.1 323.5h0M406.0 326.0h0M374.8 385.0h0M389.2 240.6h0"/><path fill="#7b8c46" stroke="none" d="M409.8 354.3l2.8 4.9h-5.6zM439.3 345.2l2.8 4.9h-5.6zM438.0 366.1l2.8 4.9h-5.6zM413.4 359.2l2.8 4.9h-5.6zM390.2 417.2l2.8 4.9h-5.6zM384.3 331.9l2.8 4.9h-5.6zM446.6 339.2l2.8 4.9h-5.6zM435.4 412.3l2.8 4.9h-5.6zM422.9 371.5l2.8 4.9h-5.6zM390.0 379.7l2.8 4.9h-5.6zM427.0 380.1l2.8 4.9h-5.6zM414.1 375.8l2.8 4.9h-5.6zM443.7 377.0l2.8 4.9h-5.6zM414.8 380.8l2.8 4.9h-5.6zM437.2 393.1l2.8 4.9h-5.6zM417.9 400.1l2.8 4.9h-5.6zM437.8 384.0l2.8 4.9h-5.6zM415.9 414.4l2.8 4.9h-5.6zM395.4 354.0l2.8 4.9h-5.6zM429.1 412.1l2.8 4.9h-5.6zM387.5 357.7l2.8 4.9h-5.6zM405.1 377.1l2.8 4.9h-5.6zM392.1 383.4l2.8 4.9h-5.6zM439.1 351.0l2.8 4.9h-5.6zM384.9 354.0l2.8 4.9h-5.6zM430.6 364.9l2.8 4.9h-5.6zM419.7 396.4l2.8 4.9h-5.6zM446.8 339.2l2.8 4.9h-5.6zM421.2 337.6l2.8 4.9h-5.6zM435.4 359.2l2.8 4.9h-5.6zM420.5 358.8l2.8 4.9h-5.6zM426.6 364.5l2.8 4.9h-5.6zM405.7 356.7l2.8 4.9h-5.6zM431.6 347.8l2.8 4.9h-5.6zM406.3 350.8l2.8 4.9h-5.6zM397.2 399.4l2.8 4.9h-5.6zM411.4 401.6l2.8 4.9h-5.6zM415.6 385.3l2.8 4.9h-5.6zM426.0 389.0l2.8 4.9h-5.6zM432.6 349.5l2.8 4.9h-5.6zM406.2 371.6l2.8 4.9h-5.6zM425.9 376.4l2.8 4.9h-5.6zM380.5 369.9l2.8 4.9h-5.6zM424.8 402.2l2.8 4.9h-5.6zM415.8 363.0l2.8 4.9h-5.6zM408.2 396.7l2.8 4.9h-5.6zM378.4 366.7l2.8 4.9h-5.6zM426.5 367.6l2.8 4.9h-5.6zM400.3 372.4l2.8 4.9h-5.6zM415.7 379.1l2.8 4.9h-5.6zM423.4 352.8l2.8 4.9h-5.6z"/><path fill="none" stroke="#4bbdb5" stroke-width="3.8" d="M359.1 415.7h3.8M359.6 377.0h3.8M387.9 383.2h3.8M360.0 422.2h3.8M354.7 382.5h3.8M345.1 375.7h3.8M345.0 398.9h3.8M371.6 379.3h3.8M364.1 386.2h3.8M376.7 389.5h3.8M366.4 368.4h3.8M366.7 375.5h3.8M381.2 380.1h3.8M366.2 392.7h3.8M356.5 390.3h3.8M342.0 389.5h3.8M383.5 414.1h3.8M351.6 403.4h3.8M383.2 395.2h3.8M370.1 346.4h3.8M359.8 373.9h3.8M342.8 431.7h3.8M373.1 372.9h3.8M374.1 382.0h3.8M370.1 397.7h3.8M374.4 387.9h3.8M394.7 363.2h3.8M364.8 410.8h3.8M314.5 391.2h3.8M370.7 381.6h3.8M389.5 383.9h3.8M347.4 381.5h3.8M322.7 383.8h3.8M371.1 412.5h3.8M367.4 379.4h3.8M389.0 383.7h3.8M373.7 391.4h3.8M385.4 365.9h3.8M365.7 386.3h3.8M368.0 375.8h3.8M362.9 375.3h3.8M370.6 431.6h3.8M354.6 393.4h3.8M328.3 376.5h3.8M375.3 387.1h3.8M353.7 361.2h3.8M372.3 399.9h3.8M370.5 382.7h3.8M351.5 376.9h3.8M383.6 368.0h3.8M370.0 354.4h3.8M360.3 404.9h3.8M310.1 376.5h3.8M379.2 396.3h3.8"/><path fill="none" stroke="#9575cd" stroke-width="2.7" stroke-linecap="round" d="M340.8 350.8h5.6m-2.8-2.8v5.6M352.2 315.9h5.6m-2.8-2.8v5.6M346.6 291.3h5.6m-2.8-2.8v5.6M341.5 256.9h5.6m-2.8-2.8v5.6M362.5 296.5h5.6m-2.8-2.8v5.6M356.3 325.0h5.6m-2.8-2.8v5.6M368.2 302.9h5.6m-2.8-2.8v5.6M347.6 327.1h5.6m-2.8-2.8v5.6M359.7 318.1h5.6m-2.8-2.8v5.6M330.5 317.3h5.6m-2.8-2.8v5.6M347.7 333.5h5.6m-2.8-2.8v5.6M353.0 312.4h5.6m-2.8-2.8v5.6M323.9 273.8h5.6m-2.8-2.8v5.6M347.7 329.7h5.6m-2.8-2.8v5.6M346.7 334.4h5.6m-2.8-2.8v5.6M343.7 399.2h5.6m-2.8-2.8v5.6M383.9 314.6h5.6m-2.8-2.8v5.6M365.2 294.3h5.6m-2.8-2.8v5.6M352.8 241.5h5.6m-2.8-2.8v5.6M330.9 357.0h5.6m-2.8-2.8v5.6M355.9 393.7h5.6m-2.8-2.8v5.6M371.4 295.8h5.6m-2.8-2.8v5.6M374.2 358.3h5.6m-2.8-2.8v5.6M370.5 362.5h5.6m-2.8-2.8v5.6M343.4 324.1h5.6m-2.8-2.8v5.6M346.0 287.6h5.6m-2.8-2.8v5.6M372.1 269.4h5.6m-2.8-2.8v5.6M341.7 280.0h5.6m-2.8-2.8v5.6M343.4 352.1h5.6m-2.8-2.8v5.6M382.5 296.3h5.6m-2.8-2.8v5.6M320.6 285.4h5.6m-2.8-2.8v5.6M325.2 329.4h5.6m-2.8-2.8v5.6M339.6 357.7h5.6m-2.8-2.8v5.6M323.4 323.9h5.6m-2.8-2.8v5.6M369.3 317.8h5.6m-2.8-2.8v5.6M346.3 314.8h5.6m-2.8-2.8v5.6M342.9 323.9h5.6m-2.8-2.8v5.6M345.3 304.2h5.6m-2.8-2.8v5.6M340.9 319.7h5.6m-2.8-2.8v5.6M361.5 291.6h5.6m-2.8-2.8v5.6M365.6 219.5h5.6m-2.8-2.8v5.6"/><path fill="none" stroke="#d6739b" stroke-width="4" stroke-linecap="round" d="M434.2 300.5h0M389.0 314.0h0M430.6 280.0h0M376.6 315.2h0M423.2 291.5h0M404.8 336.7h0M399.7 281.3h0M389.4 366.8h0M336.2 298.1h0M400.4 288.3h0M397.5 314.3h0M397.0 252.9h0M399.8 292.4h0M376.4 286.7h0M407.2 332.7h0M403.3 306.2h0M371.7 271.2h0M388.7 309.8h0M398.6 345.2h0M383.8 276.5h0M378.9 337.7h0M404.4 320.0h0M395.9 375.3h0M421.3 331.7h0M393.5 330.8h0M398.4 326.8h0M421.4 318.1h0M401.4 320.1h0M394.2 336.1h0M408.9 323.4h0M408.8 295.3h0M399.6 290.3h0M394.3 306.6h0M414.8 316.3h0M396.6 350.5h0M448.7 349.9h0M417.8 314.1h0M433.4 280.9h0M414.6 322.0h0M413.6 310.4h0M409.6 313.3h0M374.7 318.8h0M387.1 317.6h0M408.8 324.5h0"/><path fill="#7b8c46" stroke="none" d="M415.9 384.5l2.8 4.9h-5.6zM380.1 342.6l2.8 4.9h-5.6zM428.9 365.5l2.8 4.9h-5.6zM445.5 332.6l2.8 4.9h-5.6zM414.3 378.6l2.8 4.9h-5.6zM393.0 359.5l2.8 4.9h-5.6zM417.8 390.8l2.8 4.9h-5.6zM429.2 328.3l2.8 4.9h-5.6zM373.0 371.3l2.8 4.9h-5.6zM409.4 413.7l2.8 4.9h-5.6zM407.6 374.7l2.8 4.9h-5.6zM413.6 379.0l2.8 4.9h-5.6zM401.8 406.3l2.8 4.9h-5.6zM388.0 379.9l2.8 4.9h-5.6zM461.9 345.0l2.8 4.9h-5.6zM388.1 373.6l2.8 4.9h-5.6zM388.7 395.5l2.8 4.9h-5.6zM381.3 392.1l2.8 4.9h-5.6zM439.2 352.0l2.8 4.9h-5.6zM454.0 368.8l2.8 4.9h-5.6zM430.8 371.7l2.8 4.9h-5.6zM378.1 377.3l2.8 4.9h-5.6zM398.3 385.9l2.8 4.9h-5.6zM387.7 397.1l2.8 4.9h-5.6zM422.4 379.8l2.8 4.9h-5.6zM436.5 378.6l2.8 4.9h-5.6zM405.2 365.9l2.8 4.9h-5.6zM408.7 376.5l2.8 4.9h-5.6zM388.8 371.2l2.8 4.9h-5.6zM433.6 391.9l2.8 4.9h-5.6zM468.0 348.8l2.8 4.9h-5.6zM424.0 361.1l2.8 4.9h-5.6zM405.8 334.3l2.8 4.9h-5.6zM416.8 394.4l2.8 4.9h-5.6zM374.3 371.0l2.8 4.9h-5.6zM407.0 372.3l2.8 4.9h-5.6zM369.4 323.0l2.8 4.9h-5.6zM369.9 386.7l2.8 4.9h-5.6zM384.0 367.8l2.8 4.9h-5.6zM416.1 335.6l2.8 4.9h-5.6zM420.1 380.6l2.8 4.9h-5.6zM433.1 405.1l2.8 4.9h-5.6zM426.2 391.7l2.8 4.9h-5.6zM411.5 389.3l2.8 4.9h-5.6zM410.7 372.8l2.8 4.9h-5.6zM443.3 365.7l2.8 4.9h-5.6zM397.9 351.5l2.8 4.9h-5.6zM393.4 352.7l2.8 4.9h-5.6zM396.2 366.6l2.8 4.9h-5.6zM408.8 355.9l2.8 4.9h-5.6zM414.3 113.0l2.8 4.9h-5.6z"/><path fill="none" stroke="#4bbdb5" stroke-width="3.8" d="M366.8 407.0h3.8M319.7 377.4h3.8M384.9 403.7h3.8M359.9 386.2h3.8M368.6 375.8h3.8M353.4 376.6h3.8M372.3 370.5h3.8M359.1 369.0h3.8M377.1 378.7h3.8M370.1 406.1h3.8M394.0 413.6h3.8M375.7 377.2h3.8M366.7 390.5h3.8M402.2 401.3h3.8M366.9 410.9h3.8M370.4 402.8h3.8M378.7 381.9h3.8M371.4 367.4h3.8M380.5 411.2h3.8M388.1 402.9h3.8M374.0 390.8h3.8M363.5 379.8h3.8M368.0 412.3h3.8M342.0 378.5h3.8M347.9 408.5h3.8M365.6 396.6h3.8M379.3 351.6h3.8M373.5 425.7h3.8M374.8 407.4h3.8M367.3 378.1h3.8M353.2 417.7h3.8M372.0 403.1h3.8M369.0 351.4h3.8M329.8 418.1h3.8M341.3 391.5h3.8M348.1 390.4h3.8M356.0 395.1h3.8M344.7 349.6h3.8M350.5 384.0h3.8M362.1 413.5h3.8M362.9 372.9h3.8M371.0 384.9h3.8M376.0 395.2h3.8M397.3 347.9h3.8M364.5 393.4h3.8M404.0 379.2h3.8M352.0 398.1h3.8M379.7 392.5h3.8M353.3 378.5h3.8M348.6 388.8h3.8M352.1 422.9h3.8M363.2 370.3h3.8M381.0 420.5h3.8M367.6 400.7h3.8"/><path fill="none" stroke="#9575cd" stroke-width="2.7" stroke-linecap="round" d="M349.6 291.9h5.6m-2.8-2.8v5.6M353.4 309.8h5.6m-2.8-2.8v5.6M350.6 297.6h5.6m-2.8-2.8v5.6M341.2 314.3h5.6m-2.8-2.8v5.6M352.3 352.0h5.6m-2.8-2.8v5.6M342.0 337.1h5.6m-2.8-2.8v5.6M327.5 307.0h5.6m-2.8-2.8v5.6M288.8 295.3h5.6m-2.8-2.8v5.6M360.7 276.8h5.6m-2.8-2.8v5.6M350.2 296.1h5.6m-2.8-2.8v5.6M352.1 346.8h5.6m-2.8-2.8v5.6M351.7 292.7h5.6m-2.8-2.8v5.6M327.7 334.3h5.6m-2.8-2.8v5.6M333.9 352.9h5.6m-2.8-2.8v5.6M350.7 302.2h5.6m-2.8-2.8v5.6M352.3 324.1h5.6m-2.8-2.8v5.6M350.1 310.5h5.6m-2.8-2.8v5.6M343.3 337.3h5.6m-2.8-2.8v5.6M372.6 290.4h5.6m-2.8-2.8v5.6M367.1 368.5h5.6m-2.8-2.8v5.6M344.8 289.9h5.6m-2.8-2.8v5.6M366.0 296.1h5.6m-2.8-2.8v5.6M355.1 303.5h5.6m-2.8-2.8v5.6M366.1 293.1h5.6m-2.8-2.8v5.6M360.2 283.3h5.6m-2.8-2.8v5.6M366.1 310.5h5.6m-2.8-2.8v5.6M355.7 333.6h5.6m-2.8-2.8v5.6M335.0 386.2h5.6m-2.8-2.8v5.6M368.7 350.8h5.6m-2.8-2.8v5.6M330.7 355.2h5.6m-2.8-2.8v5.6M335.4 353.3h5.6m-2.8-2.8v5.6M327.2 322.7h5.6m-2.8-2.8v5.6M339.0 331.3h5.6m-2.8-2.8v5.6M322.2 301.3h5.6m-2.8-2.8v5.6M358.6 304.9h5.6m-2.8-2.8v5.6M326.5 346.6h5.6m-2.8-2.8v5.6M360.0 318.4h5.6m-2.8-2.8v5.6M346.9 322.9h5.6m-2.8-2.8v5.6M346.0 278.3h5.6m-2.8-2.8v5.6M345.6 315.6h5.6m-2.8-2.8v5.6M485.1 301.7h5.6m-2.8-2.8v5.6"/><path fill="none" stroke="#d6739b" stroke-width="4" stroke-linecap="round" d="M430.8 340.4h0M374.2 324.1h0M386.6 301.4h0M428.2 326.3h0M453.1 306.2h0M414.9 331.8h0M398.7 320.8h0M419.1 303.3h0M420.7 328.6h0M387.9 348.4h0M450.1 292.0h0M366.2 335.0h0M384.8 248.6h0M399.0 329.1h0M344.7 360.7h0M417.0 315.8h0M402.2 274.0h0M396.6 323.5h0M427.0 335.0h0M427.8 280.3h0M397.2 270.9h0M398.0 330.2h0M383.0 323.6h0M418.3 305.7h0M451.9 309.5h0M409.8 340.3h0M398.5 295.0h0M367.9 343.0h0M395.9 343.0h0M367.6 264.7h0M372.1 317.1h0M393.0 334.1h0M407.0 315.1h0M375.6 264.4h0M394.4 296.8h0M373.9 289.5h0M385.3 318.6h0M399.5 297.6h0M422.5 316.9h0M380.6 343.4h0M390.9 269.2h0M405.9 267.1h0M399.9 337.8h0M351.5 277.8h0"/><path fill="#7b8c46" stroke="none" d="M377.2 378.2l2.8 4.9h-5.6zM452.1 344.5l2.8 4.9h-5.6zM430.3 316.1l2.8 4.9h-5.6zM412.8 343.5l2.8 4.9h-5.6zM422.4 364.8l2.8 4.9h-5.6zM401.5 352.8l2.8 4.9h-5.6zM401.8 351.1l2.8 4.9h-5.6zM411.3 398.6l2.8 4.9h-5.6zM389.1 374.8l2.8 4.9h-5.6zM411.5 361.8l2.8 4.9h-5.6zM406.4 369.6l2.8 4.9h-5.6zM452.6 324.6l2.8 4.9h-5.6zM392.5 359.1l2.8 4.9h-5.6zM417.1 394.0l2.8 4.9h-5.6zM417.5 349.0l2.8 4.9h-5.6zM432.1 397.3l2.8 4.9h-5.6zM414.8 370.8l2.8 4.9h-5.6zM404.4 360.6l2.8 4.9h-5.6zM402.4 375.5l2.8 4.9h-5.6zM426.6 368.1l2.8 4.9h-5.6zM414.3 400.4l2.8 4.9h-5.6zM431.6 387.2l2.8 4.9h-5.6zM377.1 390.4l2.8 4.9h-5.6zM406.1 366.9l2.8 4.9h-5.6zM412.4 358.0l2.8 4.9h-5.6zM397.5 355.4l2.8 4.9h-5.6zM368.6 377.8l2.8 4.9h-5.6zM407.4 337.7l2.8 4.9h-5.6zM416.1 354.0l2.8 4.9h-5.6zM445.3 355.7l2.8 4.9h-5.6zM380.7 383.4l2.8 4.9h-5.6zM436.7 342.2l2.8 4.9h-5.6zM393.0 356.7l2.8 4.9h-5.6zM397.5 394.4l2.8 4.9h-5.6zM429.3 360.4l2.8 4.9h-5.6zM419.2 352.2l2.8 4.9h-5.6zM417.7 368.5l2.8 4.9h-5.6zM439.2 354.0l2.8 4.9h-5.6zM395.9 397.2l2.8 4.9h-5.6zM394.2 363.3l2.8 4.9h-5.6zM421.1 369.7l2.8 4.9h-5.6zM419.0 381.9l2.8 4.9h-5.6zM416.1 386.8l2.8 4.9h-5.6zM369.6 373.5l2.8 4.9h-5.6zM390.3 362.3l2.8 4.9h-5.6zM407.5 326.5l2.8 4.9h-5.6zM389.0 359.3l2.8 4.9h-5.6zM390.3 357.2l2.8 4.9h-5.6zM392.9 367.7l2.8 4.9h-5.6zM401.4 385.5l2.8 4.9h-5.6zM364.6 199.3l2.8 4.9h-5.6z"/><path fill="none" stroke="#4bbdb5" stroke-width="3.8" d="M351.0 388.1h3.8M371.8 396.0h3.8M369.8 393.4h3.8M361.5 368.9h3.8M344.0 401.7h3.8M352.2 391.2h3.8M375.5 376.8h3.8M386.1 387.9h3.8M378.0 399.0h3.8M349.5 364.9h3.8M387.6 372.2h3.8M360.9 407.0h3.8M369.6 419.7h3.8M374.2 383.9h3.8M350.8 387.8h3.8M328.4 379.9h3.8M375.7 367.1h3.8M362.0 366.4h3.8M372.4 391.0h3.8M341.1 400.5h3.8M357.5 418.0h3.8M345.3 389.3h3.8M363.6 383.2h3.8M328.2 396.4h3.8M386.1 391.6h3.8M366.6 410.5h3.8M341.1 360.5h3.8M338.8 393.7h3.8M364.8 387.4h3.8M341.3 391.7h3.8M361.1 365.8h3.8M361.5 401.2h3.8M338.0 392.7h3.8M388.8 387.8h3.8M372.4 434.2h3.8M377.7 397.2h3.8M357.0 393.6h3.8M390.1 380.3h3.8M360.4 351.3h3.8M380.1 385.0h3.8M360.5 364.1h3.8M331.5 379.8h3.8M370.3 395.1h3.8M373.5 427.5h3.8M386.7 395.8h3.8M382.9 386.6h3.8M337.6 395.2h3.8M388.9 379.7h3.8M379.0 398.3h3.8M378.8 394.0h3.8M344.3 412.0h3.8M395.1 398.8h3.8M369.6 358.0h3.8M354.8 391.9h3.8"/><path fill="none" stroke="#9575cd" stroke-width="2.7" stroke-linecap="round" d="M344.4 314.8h5.6m-2.8-2.8v5.6M352.2 365.4h5.6m-2.8-2.8v5.6M338.8 338.3h5.6m-2.8-2.8v5.6M326.9 314.6h5.6m-2.8-2.8v5.6M354.7 337.0h5.6m-2.8-2.8v5.6M357.7 316.6h5.6m-2.8-2.8v5.6M336.8 330.6h5.6m-2.8-2.8v5.6M350.6 322.0h5.6m-2.8-2.8v5.6M375.3 303.2h5.6m-2.8-2.8v5.6M346.6 355.7h5.6m-2.8-2.8v5.6M363.0 295.9h5.6m-2.8-2.8v5.6M351.6 349.8h5.6m-2.8-2.8v5.6M338.2 369.9h5.6m-2.8-2.8v5.6M322.0 264.9h5.6m-2.8-2.8v5.6M346.4 323.1h5.6m-2.8-2.8v5.6M368.1 283.8h5.6m-2.8-2.8v5.6M349.9 355.9h5.6m-2.8-2.8v5.6M332.1 299.7h5.6m-2.8-2.8v5.6M354.4 330.4h5.6m-2.8-2.8v5.6M296.0 317.1h5.6m-2.8-2.8v5.6M354.4 314.7h5.6m-2.8-2.8v5.6M328.7 352.9h5.6m-2.8-2.8v5.6M375.7 282.6h5.6m-2.8-2.8v5.6M351.1 328.1h5.6m-2.8-2.8v5.6M330.0 337.9h5.6m-2.8-2.8v5.6M374.0 264.5h5.6m-2.8-2.8v5.6M362.3 328.2h5.6m-2.8-2.8v5.6M350.7 318.7h5.6m-2.8-2.8v5.6M333.3 323.6h5.6m-2.8-2.8v5.6M377.4 328.4h5.6m-2.8-2.8v5.6M347.1 321.1h5.6m-2.8-2.8v5.6M361.9 317.9h5.6m-2.8-2.8v5.6M362.6 289.8h5.6m-2.8-2.8v5.6M320.9 337.1h5.6m-2.8-2.8v5.6M316.0 275.3h5.6m-2.8-2.8v5.6M348.3 312.2h5.6m-2.8-2.8v5.6M363.2 327.1h5.6m-2.8-2.8v5.6M340.8 287.3h5.6m-2.8-2.8v5.6M335.6 295.0h5.6m-2.8-2.8v5.6M336.6 314.4h5.6m-2.8-2.8v5.6M445.8 310.0h5.6m-2.8-2.8v5.6"/></g><ellipse cx="394.5" cy="322.9" rx="46.3" ry="70.5" transform="rotate(3 394.5 322.9)" fill="#d6739b" fill-opacity="0.12" stroke="#d6739b" stroke-width="3.4"/><ellipse cx="404" cy="368.6" rx="48.5" ry="56.5" transform="rotate(0 404 368.6)" fill="#7b8c46" fill-opacity="0.12" stroke="#7b8c46" stroke-width="3.4"/><ellipse cx="368.5" cy="380" rx="39" ry="50" transform="rotate(8 368.5 380)" fill="#4bbdb5" fill-opacity="0.12" stroke="#4bbdb5" stroke-width="3.4"/><ellipse cx="357" cy="331" rx="36" ry="68.5" transform="rotate(-8 357 331)" fill="#9575cd" fill-opacity="0.12" stroke="#9575cd" stroke-width="3.4"/><path d="M71.65 354H684" stroke="#444" stroke-width="2.1" stroke-dasharray="11.4 5.947" fill="none"/><path d="M381.0 -5.16V506.8" stroke="#444" stroke-width="2.1" stroke-dasharray="11.3 6.157" fill="none"/><path d="M381.0 354.0L390.7 99.0" stroke="#3f4b5f" stroke-width="4.8" fill="none"/><path d="M391.2 87.0L396.9 102.3L390.7 100.2L384.3 101.8z" fill="#3f4b5f"/><path d="M381.0 354.0L412.1 158.9" stroke="#3f4b5f" stroke-width="4.8" fill="none"/><path d="M414.0 147.0L417.9 162.8L411.9 160.1L405.4 160.8z" fill="#3f4b5f"/><path d="M381.0 354.0L298.1 184.9" stroke="#3f4b5f" stroke-width="4.8" fill="none"/><path d="M292.8 174.1L305.1 184.8L298.6 186.0L293.7 190.4z" fill="#3f4b5f"/><path d="M381.0 354.0L323.3 274.0" stroke="#3f4b5f" stroke-width="4.8" fill="none"/><path d="M316.3 264.2L330.2 272.7L324.0 274.9L320.0 280.1z" fill="#3f4b5f"/><path d="M381.0 354.0L303.0 295.5" stroke="#3f4b5f" stroke-width="4.8" fill="none"/><path d="M293.4 288.3L309.2 292.3L304.0 296.2L301.6 302.4z" fill="#3f4b5f"/><path d="M381.0 354.0L259.0 400.1" stroke="#3f4b5f" stroke-width="4.8" fill="none"/><path d="M247.7 404.3L259.5 393.1L260.1 399.6L264.0 404.9z" fill="#3f4b5f"/><path d="M381.0 354.0L513.3 313.5" stroke="#3f4b5f" stroke-width="4.8" fill="none"/><path d="M524.8 310.0L512.3 320.4L512.2 313.9L508.6 308.4z" fill="#3f4b5f"/><path d="M381.0 354.0L531.0 331.7" stroke="#3f4b5f" stroke-width="4.8" fill="none"/><path d="M542.9 329.9L529.0 338.4L529.8 331.8L527.1 325.9z" fill="#3f4b5f"/><path d="M381.0 354.0L472.4 344.4" stroke="#3f4b5f" stroke-width="4.8" fill="none"/><path d="M484.4 343.1L470.1 351.0L471.2 344.5L468.8 338.4z" fill="#3f4b5f"/><path d="M77.7 0.4H684.4V506.85H77.7z" fill="none" stroke="#1c1c1c" stroke-width="1.5"/><path d="M69 71.9H77.7" stroke="#333" stroke-width="1.5"/><text transform="translate(34.16 78.45) scale(1.0099 1)" font-size="20.95">10</text><path d="M69 213.1H77.7" stroke="#333" stroke-width="1.5"/><text transform="translate(45.80 219.65) scale(1.0152 1)" font-size="20.95">5</text><path d="M69 354H77.7" stroke="#333" stroke-width="1.5"/><text transform="translate(44.13 360.55) scale(1.2198 1)" font-size="20.95">0</text><path d="M69 495H77.7" stroke="#333" stroke-width="1.5"/><text transform="translate(34.08 501.55) scale(1.0231 1)" font-size="20.95">−5</text><path d="M196.7 506.8V515.3" stroke="#333" stroke-width="1.5"/><text transform="translate(179.85 542.65) scale(0.9534 1)" font-size="20.95">−10</text><path d="M380.9 506.8V515.3" stroke="#333" stroke-width="1.5"/><text transform="translate(374.13 542.65) scale(1.2198 1)" font-size="20.95">0</text><path d="M565.1 506.8V515.3" stroke="#333" stroke-width="1.5"/><text transform="translate(552.26 542.65) scale(1.0099 1)" font-size="20.95">10</text><text transform="translate(324.42 580.15) scale(1.0244 1)" font-size="22.84">PC1 (24%)</text><text transform="translate(18.45 318.66) rotate(-90) scale(1.0116 1)" font-size="22.84">PC2 (17.5%)</text><text transform="translate(399.65 88.95) scale(1.0306 1)" font-size="21.60">Testosterone</text><text transform="translate(426.51 152.95) scale(0.9175 1)" font-size="21.60">DHEAS</text><text transform="translate(281.24 161.95) scale(0.9613 1)" font-size="21.60">LH</text><text transform="translate(269.53 262.45) scale(0.9108 1)" font-size="21.60">FSH</text><text transform="translate(243.70 301.85) scale(0.9595 1)" font-size="21.60">AMH</text><text transform="translate(205.93 392.65) scale(0.9456 1)" font-size="21.60">SHBG</text><text transform="translate(499.17 297.55) scale(0.9890 1)" font-size="21.60">INS0</text><text transform="translate(543.23 322.95) scale(0.9649 1)" font-size="21.60">BMI</text><text transform="translate(491.99 376.45) scale(0.9801 1)" font-size="21.60">GLU0</text><text transform="translate(92.25 25.70) scale(1.0549 1)" font-size="21.09">Subtypes</text><rect x="93.7" y="40.1" width="26.2" height="25.5" fill="#ebebeb" stroke="#d6739b" stroke-width="1.9"/><circle cx="106.8" cy="52.900000000000006" r="3.45" fill="#d6739b"/><text transform="translate(136.85 59.60) scale(0.9881 1)" font-size="20.80">HA-PCOS</text><rect x="93.7" y="69.2" width="26.2" height="25.5" fill="#ebebeb" stroke="#7b8c46" stroke-width="1.9"/><path d="M106.8 77.75l4.7 7.8h-9.4z" fill="#7b8c46"/><text transform="translate(136.78 88.65) scale(0.9834 1)" font-size="20.80">OB-PCOS</text><rect x="93.7" y="98.2" width="26.2" height="25.5" fill="#ebebeb" stroke="#4bbdb5" stroke-width="1.9"/><rect x="103.6" y="107.80000000000001" width="6.4" height="6.4" fill="#4bbdb5"/><text transform="translate(136.83 117.70) scale(0.9778 1)" font-size="20.80">SHBG-PCOS</text><rect x="93.7" y="127.3" width="26.2" height="25.5" fill="#ebebeb" stroke="#9575cd" stroke-width="1.9"/><path d="M102.5 140.05h8.6M106.8 135.75v8.6" stroke="#9575cd" stroke-width="2.6" stroke-linecap="round" fill="none"/><text transform="translate(136.65 146.75) scale(0.9905 1)" font-size="20.80">LH-PCOS</text></svg></body></html>
